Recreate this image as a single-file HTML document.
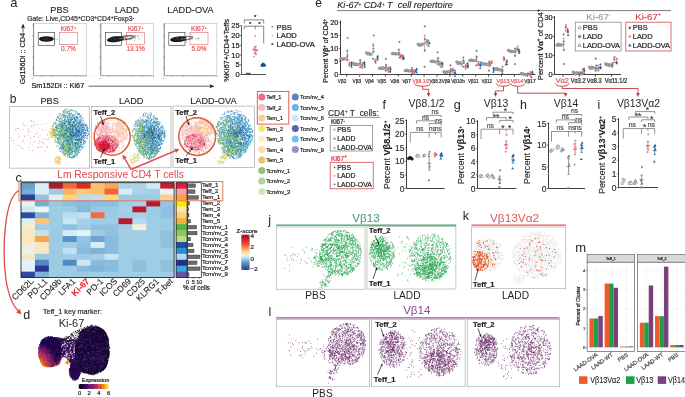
<!DOCTYPE html>
<html><head><meta charset="utf-8"><title>Figure</title>
<style>html,body{margin:0;padding:0;background:#fff;}svg{display:block;}</style></head>
<body><svg width="685" height="397" viewBox="0 0 685 397" font-family="'Liberation Sans', Arial, Helvetica, sans-serif">
<rect width="685" height="397" fill="#fff"/>
<text x="15.6" y="182.2" font-size="12.5" fill="#231f20">c</text>
<text x="120.5" y="178.4" font-size="10.3" fill="#e0474c" text-anchor="middle">Lm Responsive CD4 T cells</text>
<rect x="21" y="182.7" width="14.52" height="6.53" fill="#6a9fd0"/>
<rect x="34.92" y="182.7" width="14.52" height="6.53" fill="#d8eef8"/>
<rect x="48.84" y="182.7" width="14.52" height="6.53" fill="#b5162b"/>
<rect x="62.76" y="182.7" width="14.52" height="6.53" fill="#f26a3c"/>
<rect x="76.68" y="182.7" width="14.52" height="6.53" fill="#dd2a26"/>
<rect x="90.6" y="182.7" width="14.52" height="6.53" fill="#fdbf6f"/>
<rect x="104.52" y="182.7" width="14.52" height="6.53" fill="#fca55a"/>
<rect x="118.44" y="182.7" width="14.52" height="6.53" fill="#a8d2e8"/>
<rect x="132.36" y="182.7" width="14.52" height="6.53" fill="#aad3e8"/>
<rect x="146.28" y="182.7" width="14.52" height="6.53" fill="#d4ebf5"/>
<rect x="160.2" y="182.7" width="13.92" height="6.53" fill="#c61f2b"/>
<rect x="21" y="188.63" width="14.52" height="6.53" fill="#78aad6"/>
<rect x="34.92" y="188.63" width="14.52" height="6.53" fill="#daeef8"/>
<rect x="48.84" y="188.63" width="14.52" height="6.53" fill="#9fc8e3"/>
<rect x="62.76" y="188.63" width="14.52" height="6.53" fill="#fdb163"/>
<rect x="76.68" y="188.63" width="14.52" height="6.53" fill="#fdca7a"/>
<rect x="90.6" y="188.63" width="14.52" height="6.53" fill="#fdbe6e"/>
<rect x="104.52" y="188.63" width="14.52" height="6.53" fill="#f0643a"/>
<rect x="118.44" y="188.63" width="14.52" height="6.53" fill="#d6edf7"/>
<rect x="132.36" y="188.63" width="14.52" height="6.53" fill="#a9d2e8"/>
<rect x="146.28" y="188.63" width="14.52" height="6.53" fill="#a4cfe6"/>
<rect x="160.2" y="188.63" width="13.92" height="6.53" fill="#e8f4f5"/>
<rect x="21" y="194.56" width="14.52" height="6.53" fill="#2a3f9c"/>
<rect x="34.92" y="194.56" width="14.52" height="6.53" fill="#96c2e0"/>
<rect x="48.84" y="194.56" width="14.52" height="6.53" fill="#dbeff7"/>
<rect x="62.76" y="194.56" width="14.52" height="6.53" fill="#fed27f"/>
<rect x="76.68" y="194.56" width="14.52" height="6.53" fill="#b9dbed"/>
<rect x="90.6" y="194.56" width="14.52" height="6.53" fill="#c0e0ef"/>
<rect x="104.52" y="194.56" width="14.52" height="6.53" fill="#fed585"/>
<rect x="118.44" y="194.56" width="14.52" height="6.53" fill="#9bcbe4"/>
<rect x="132.36" y="194.56" width="14.52" height="6.53" fill="#9ccbe5"/>
<rect x="146.28" y="194.56" width="14.52" height="6.53" fill="#9ccbe4"/>
<rect x="160.2" y="194.56" width="13.92" height="6.53" fill="#fcd088"/>
<rect x="21" y="200.49" width="14.52" height="6.53" fill="#e3f3f8"/>
<rect x="34.92" y="200.49" width="14.52" height="6.53" fill="#78acd5"/>
<rect x="48.84" y="200.49" width="14.52" height="6.53" fill="#99c7e2"/>
<rect x="62.76" y="200.49" width="14.52" height="6.53" fill="#8dbfe0"/>
<rect x="76.68" y="200.49" width="14.52" height="6.53" fill="#88bbdf"/>
<rect x="90.6" y="200.49" width="14.52" height="6.53" fill="#8bbfe0"/>
<rect x="104.52" y="200.49" width="14.52" height="6.53" fill="#8bbfe0"/>
<rect x="118.44" y="200.49" width="14.52" height="6.53" fill="#9ecde5"/>
<rect x="132.36" y="200.49" width="14.52" height="6.53" fill="#a5d0e7"/>
<rect x="146.28" y="200.49" width="14.52" height="6.53" fill="#b8192c"/>
<rect x="160.2" y="200.49" width="13.92" height="6.53" fill="#95c5e2"/>
<rect x="21" y="206.42" width="14.52" height="6.53" fill="#cfe7f3"/>
<rect x="34.92" y="206.42" width="14.52" height="6.53" fill="#eef4f0"/>
<rect x="48.84" y="206.42" width="14.52" height="6.53" fill="#9ccbe4"/>
<rect x="62.76" y="206.42" width="14.52" height="6.53" fill="#9ccbe5"/>
<rect x="76.68" y="206.42" width="14.52" height="6.53" fill="#85b9dc"/>
<rect x="90.6" y="206.42" width="14.52" height="6.53" fill="#98c8e3"/>
<rect x="104.52" y="206.42" width="14.52" height="6.53" fill="#99c9e3"/>
<rect x="118.44" y="206.42" width="14.52" height="6.53" fill="#a7d1e7"/>
<rect x="132.36" y="206.42" width="14.52" height="6.53" fill="#bf1a2c"/>
<rect x="146.28" y="206.42" width="14.52" height="6.53" fill="#9fcde5"/>
<rect x="160.2" y="206.42" width="13.92" height="6.53" fill="#8fc2e0"/>
<rect x="21" y="212.35" width="14.52" height="6.53" fill="#2d4da3"/>
<rect x="34.92" y="212.35" width="14.52" height="6.53" fill="#7fb1d9"/>
<rect x="48.84" y="212.35" width="14.52" height="6.53" fill="#9ccbe4"/>
<rect x="62.76" y="212.35" width="14.52" height="6.53" fill="#b9dcee"/>
<rect x="76.68" y="212.35" width="14.52" height="6.53" fill="#c1e1ef"/>
<rect x="90.6" y="212.35" width="14.52" height="6.53" fill="#f36a3c"/>
<rect x="104.52" y="212.35" width="14.52" height="6.53" fill="#9ccbe4"/>
<rect x="118.44" y="212.35" width="14.52" height="6.53" fill="#a1cde5"/>
<rect x="132.36" y="212.35" width="14.52" height="6.53" fill="#a5d0e7"/>
<rect x="146.28" y="212.35" width="14.52" height="6.53" fill="#9ccbe4"/>
<rect x="160.2" y="212.35" width="13.92" height="6.53" fill="#8fc2e0"/>
<rect x="21" y="218.28" width="14.52" height="6.53" fill="#ddeef6"/>
<rect x="34.92" y="218.28" width="14.52" height="6.53" fill="#fdc56f"/>
<rect x="48.84" y="218.28" width="14.52" height="6.53" fill="#9ccbe4"/>
<rect x="62.76" y="218.28" width="14.52" height="6.53" fill="#c9e5f1"/>
<rect x="76.68" y="218.28" width="14.52" height="6.53" fill="#a5d0e7"/>
<rect x="90.6" y="218.28" width="14.52" height="6.53" fill="#9ecde5"/>
<rect x="104.52" y="218.28" width="14.52" height="6.53" fill="#9ecde5"/>
<rect x="118.44" y="218.28" width="14.52" height="6.53" fill="#b8192c"/>
<rect x="132.36" y="218.28" width="14.52" height="6.53" fill="#b3d9ec"/>
<rect x="146.28" y="218.28" width="14.52" height="6.53" fill="#9ecde5"/>
<rect x="160.2" y="218.28" width="13.92" height="6.53" fill="#9ccbe4"/>
<rect x="21" y="224.21" width="14.52" height="6.53" fill="#f7eccb"/>
<rect x="34.92" y="224.21" width="14.52" height="6.53" fill="#a3cde6"/>
<rect x="48.84" y="224.21" width="14.52" height="6.53" fill="#9ccbe4"/>
<rect x="62.76" y="224.21" width="14.52" height="6.53" fill="#8cbfe0"/>
<rect x="76.68" y="224.21" width="14.52" height="6.53" fill="#9ecde5"/>
<rect x="90.6" y="224.21" width="14.52" height="6.53" fill="#90c2e0"/>
<rect x="104.52" y="224.21" width="14.52" height="6.53" fill="#8fc1df"/>
<rect x="118.44" y="224.21" width="14.52" height="6.53" fill="#9ecde5"/>
<rect x="132.36" y="224.21" width="14.52" height="6.53" fill="#f2efd8"/>
<rect x="146.28" y="224.21" width="14.52" height="6.53" fill="#9ecde5"/>
<rect x="160.2" y="224.21" width="13.92" height="6.53" fill="#9ccbe4"/>
<rect x="21" y="230.14" width="14.52" height="6.53" fill="#f8e8c0"/>
<rect x="34.92" y="230.14" width="14.52" height="6.53" fill="#c2e2f0"/>
<rect x="48.84" y="230.14" width="14.52" height="6.53" fill="#9ccbe4"/>
<rect x="62.76" y="230.14" width="14.52" height="6.53" fill="#d5edf6"/>
<rect x="76.68" y="230.14" width="14.52" height="6.53" fill="#e4f3f5"/>
<rect x="90.6" y="230.14" width="14.52" height="6.53" fill="#9ccbe4"/>
<rect x="104.52" y="230.14" width="14.52" height="6.53" fill="#8fc1df"/>
<rect x="118.44" y="230.14" width="14.52" height="6.53" fill="#9fcde5"/>
<rect x="132.36" y="230.14" width="14.52" height="6.53" fill="#a3cee6"/>
<rect x="146.28" y="230.14" width="14.52" height="6.53" fill="#9ecde5"/>
<rect x="160.2" y="230.14" width="13.92" height="6.53" fill="#90c3e0"/>
<rect x="21" y="236.07" width="14.52" height="6.53" fill="#f9e7bb"/>
<rect x="34.92" y="236.07" width="14.52" height="6.53" fill="#fca54f"/>
<rect x="48.84" y="236.07" width="14.52" height="6.53" fill="#9ccbe4"/>
<rect x="62.76" y="236.07" width="14.52" height="6.53" fill="#5990c6"/>
<rect x="76.68" y="236.07" width="14.52" height="6.53" fill="#94c4e2"/>
<rect x="90.6" y="236.07" width="14.52" height="6.53" fill="#6ea3d2"/>
<rect x="104.52" y="236.07" width="14.52" height="6.53" fill="#88bbdd"/>
<rect x="118.44" y="236.07" width="14.52" height="6.53" fill="#9ecde5"/>
<rect x="132.36" y="236.07" width="14.52" height="6.53" fill="#9ecde5"/>
<rect x="146.28" y="236.07" width="14.52" height="6.53" fill="#9ecde5"/>
<rect x="160.2" y="236.07" width="13.92" height="6.53" fill="#8ec0df"/>
<rect x="21" y="242" width="14.52" height="6.53" fill="#f8ead0"/>
<rect x="34.92" y="242" width="14.52" height="6.53" fill="#fae6c0"/>
<rect x="48.84" y="242" width="14.52" height="6.53" fill="#9ccbe4"/>
<rect x="62.76" y="242" width="14.52" height="6.53" fill="#a0cce5"/>
<rect x="76.68" y="242" width="14.52" height="6.53" fill="#8fc0df"/>
<rect x="90.6" y="242" width="14.52" height="6.53" fill="#d6edf6"/>
<rect x="104.52" y="242" width="14.52" height="6.53" fill="#88bbdd"/>
<rect x="118.44" y="242" width="14.52" height="6.53" fill="#9ecde5"/>
<rect x="132.36" y="242" width="14.52" height="6.53" fill="#9ecde5"/>
<rect x="146.28" y="242" width="14.52" height="6.53" fill="#9ecde5"/>
<rect x="160.2" y="242" width="13.92" height="6.53" fill="#8fc1df"/>
<rect x="21" y="247.93" width="14.52" height="6.53" fill="#e8f1ee"/>
<rect x="34.92" y="247.93" width="14.52" height="6.53" fill="#fae6c0"/>
<rect x="48.84" y="247.93" width="14.52" height="6.53" fill="#9ccbe4"/>
<rect x="62.76" y="247.93" width="14.52" height="6.53" fill="#c3e2f0"/>
<rect x="76.68" y="247.93" width="14.52" height="6.53" fill="#88bade"/>
<rect x="90.6" y="247.93" width="14.52" height="6.53" fill="#7fb2d8"/>
<rect x="104.52" y="247.93" width="14.52" height="6.53" fill="#88bbdd"/>
<rect x="118.44" y="247.93" width="14.52" height="6.53" fill="#9ecde5"/>
<rect x="132.36" y="247.93" width="14.52" height="6.53" fill="#9ecde5"/>
<rect x="146.28" y="247.93" width="14.52" height="6.53" fill="#9ecde5"/>
<rect x="160.2" y="247.93" width="13.92" height="6.53" fill="#a0cde5"/>
<rect x="21" y="253.86" width="14.52" height="6.53" fill="#f8e6c0"/>
<rect x="34.92" y="253.86" width="14.52" height="6.53" fill="#9bc8e3"/>
<rect x="48.84" y="253.86" width="14.52" height="6.53" fill="#9ccbe4"/>
<rect x="62.76" y="253.86" width="14.52" height="6.53" fill="#a1cde6"/>
<rect x="76.68" y="253.86" width="14.52" height="6.53" fill="#9dcbe5"/>
<rect x="90.6" y="253.86" width="14.52" height="6.53" fill="#a3cee6"/>
<rect x="104.52" y="253.86" width="14.52" height="6.53" fill="#c5e3f0"/>
<rect x="118.44" y="253.86" width="14.52" height="6.53" fill="#9ecde5"/>
<rect x="132.36" y="253.86" width="14.52" height="6.53" fill="#9ecde5"/>
<rect x="146.28" y="253.86" width="14.52" height="6.53" fill="#9ecde5"/>
<rect x="160.2" y="253.86" width="13.92" height="6.53" fill="#9ecde5"/>
<rect x="21" y="259.79" width="14.52" height="6.53" fill="#e4f2f6"/>
<rect x="34.92" y="259.79" width="14.52" height="6.53" fill="#5288c1"/>
<rect x="48.84" y="259.79" width="14.52" height="6.53" fill="#9ccbe4"/>
<rect x="62.76" y="259.79" width="14.52" height="6.53" fill="#5189c3"/>
<rect x="76.68" y="259.79" width="14.52" height="6.53" fill="#cce6f2"/>
<rect x="90.6" y="259.79" width="14.52" height="6.53" fill="#8abddd"/>
<rect x="104.52" y="259.79" width="14.52" height="6.53" fill="#8abddd"/>
<rect x="118.44" y="259.79" width="14.52" height="6.53" fill="#9ecde5"/>
<rect x="132.36" y="259.79" width="14.52" height="6.53" fill="#8fc1df"/>
<rect x="146.28" y="259.79" width="14.52" height="6.53" fill="#9ecde5"/>
<rect x="160.2" y="259.79" width="13.92" height="6.53" fill="#8fc1df"/>
<rect x="21" y="265.72" width="14.52" height="6.53" fill="#e2f1f7"/>
<rect x="34.92" y="265.72" width="14.52" height="6.53" fill="#2b3393"/>
<rect x="48.84" y="265.72" width="14.52" height="6.53" fill="#9ccbe4"/>
<rect x="62.76" y="265.72" width="14.52" height="6.53" fill="#9ccbe4"/>
<rect x="76.68" y="265.72" width="14.52" height="6.53" fill="#87badd"/>
<rect x="90.6" y="265.72" width="14.52" height="6.53" fill="#80b4da"/>
<rect x="104.52" y="265.72" width="14.52" height="6.53" fill="#88bbdd"/>
<rect x="118.44" y="265.72" width="14.52" height="6.53" fill="#9ecde5"/>
<rect x="132.36" y="265.72" width="14.52" height="6.53" fill="#8dbfdf"/>
<rect x="146.28" y="265.72" width="14.52" height="6.53" fill="#9ecde5"/>
<rect x="160.2" y="265.72" width="13.92" height="6.53" fill="#8fc1df"/>
<rect x="21" y="271.65" width="14.52" height="5.93" fill="#3447a0"/>
<rect x="34.92" y="271.65" width="14.52" height="5.93" fill="#7fb2d9"/>
<rect x="48.84" y="271.65" width="14.52" height="5.93" fill="#9ccbe4"/>
<rect x="62.76" y="271.65" width="14.52" height="5.93" fill="#9ccbe4"/>
<rect x="76.68" y="271.65" width="14.52" height="5.93" fill="#9ccbe4"/>
<rect x="90.6" y="271.65" width="14.52" height="5.93" fill="#9ecde5"/>
<rect x="104.52" y="271.65" width="14.52" height="5.93" fill="#9ecde5"/>
<rect x="118.44" y="271.65" width="14.52" height="5.93" fill="#9ecde5"/>
<rect x="132.36" y="271.65" width="14.52" height="5.93" fill="#9ecde5"/>
<rect x="146.28" y="271.65" width="14.52" height="5.93" fill="#9ecde5"/>
<rect x="160.2" y="271.65" width="13.92" height="5.93" fill="#9ecde5"/>
<rect x="21" y="182.7" width="153.12" height="94.88" fill="none" stroke="#111" stroke-width="0.8"/>
<rect x="176.1" y="182.7" width="11" height="6.53" fill="#e31a3c"/>
<rect x="176.1" y="188.63" width="11" height="6.53" fill="#f4a3aa"/>
<rect x="176.1" y="194.56" width="11" height="6.53" fill="#f9a242"/>
<rect x="176.1" y="200.49" width="11" height="6.53" fill="#ffe600"/>
<rect x="176.1" y="206.42" width="11" height="6.53" fill="#fde8a0"/>
<rect x="176.1" y="212.35" width="11" height="6.53" fill="#fdd27a"/>
<rect x="176.1" y="218.28" width="11" height="6.53" fill="#eab33a"/>
<rect x="176.1" y="224.21" width="11" height="6.53" fill="#4cb848"/>
<rect x="176.1" y="230.14" width="11" height="6.53" fill="#8dc85e"/>
<rect x="176.1" y="236.07" width="11" height="6.53" fill="#b9dc8c"/>
<rect x="176.1" y="242" width="11" height="6.53" fill="#1f4fa0"/>
<rect x="176.1" y="247.93" width="11" height="6.53" fill="#2a8fd0"/>
<rect x="176.1" y="253.86" width="11" height="6.53" fill="#b5d9ef"/>
<rect x="176.1" y="259.79" width="11" height="6.53" fill="#232f8c"/>
<rect x="176.1" y="265.72" width="11" height="6.53" fill="#3aa6e0"/>
<rect x="176.1" y="271.65" width="11" height="5.93" fill="#5e5aa8"/>
<rect x="176.1" y="182.7" width="11" height="94.88" fill="none" stroke="#111" stroke-width="0.8"/>
<rect x="187.5" y="182.7" width="13.8" height="94.88" fill="#fff" stroke="#111" stroke-width="0.7"/>
<rect x="187.5" y="183.9" width="8" height="3.53" fill="#6d6d6d" stroke="#222" stroke-width="0.4"/>
<rect x="187.5" y="189.83" width="7.5" height="3.53" fill="#6d6d6d" stroke="#222" stroke-width="0.4"/>
<rect x="187.5" y="195.76" width="11" height="3.53" fill="#6d6d6d" stroke="#222" stroke-width="0.4"/>
<rect x="187.5" y="201.69" width="2" height="3.53" fill="#6d6d6d" stroke="#222" stroke-width="0.4"/>
<rect x="187.5" y="207.62" width="1" height="3.53" fill="#6d6d6d" stroke="#222" stroke-width="0.4"/>
<rect x="187.5" y="213.55" width="1.5" height="3.53" fill="#6d6d6d" stroke="#222" stroke-width="0.4"/>
<rect x="187.5" y="219.48" width="3" height="3.53" fill="#6d6d6d" stroke="#222" stroke-width="0.4"/>
<rect x="187.5" y="225.41" width="9" height="3.53" fill="#6d6d6d" stroke="#222" stroke-width="0.4"/>
<rect x="187.5" y="231.34" width="9.5" height="3.53" fill="#6d6d6d" stroke="#222" stroke-width="0.4"/>
<rect x="187.5" y="237.27" width="3" height="3.53" fill="#6d6d6d" stroke="#222" stroke-width="0.4"/>
<rect x="187.5" y="243.2" width="5.5" height="3.53" fill="#6d6d6d" stroke="#222" stroke-width="0.4"/>
<rect x="187.5" y="249.13" width="6.5" height="3.53" fill="#6d6d6d" stroke="#222" stroke-width="0.4"/>
<rect x="187.5" y="255.06" width="12.5" height="3.53" fill="#6d6d6d" stroke="#222" stroke-width="0.4"/>
<rect x="187.5" y="260.99" width="9.5" height="3.53" fill="#6d6d6d" stroke="#222" stroke-width="0.4"/>
<rect x="187.5" y="266.92" width="12.5" height="3.53" fill="#6d6d6d" stroke="#222" stroke-width="0.4"/>
<rect x="187.5" y="272.85" width="1.5" height="3.53" fill="#6d6d6d" stroke="#222" stroke-width="0.4"/>
<line x1="187.6" y1="277.58" x2="187.6" y2="278.78" stroke="#111" stroke-width="0.5"/>
<text x="187.6" y="283.5" font-size="5.4" fill="#231f20" stroke="#231f20" stroke-width="0.22" text-anchor="middle">0</text>
<line x1="193.3" y1="277.58" x2="193.3" y2="278.78" stroke="#111" stroke-width="0.5"/>
<text x="193.3" y="283.5" font-size="5.4" fill="#231f20" stroke="#231f20" stroke-width="0.22" text-anchor="middle">5</text>
<line x1="199.3" y1="277.58" x2="199.3" y2="278.78" stroke="#111" stroke-width="0.5"/>
<text x="199.3" y="283.5" font-size="5.4" fill="#231f20" stroke="#231f20" stroke-width="0.22" text-anchor="middle">10</text>
<text x="196.5" y="289.7" font-size="6.3" fill="#231f20" stroke="#231f20" stroke-width="0.22" text-anchor="middle">% of cells</text>
<text x="201.9" y="187.3" font-size="6.1" fill="#231f20" stroke="#231f20" stroke-width="0.22">Teff_1</text>
<text x="201.9" y="193.23" font-size="6.1" fill="#231f20" stroke="#231f20" stroke-width="0.22">Teff_2</text>
<text x="201.9" y="199.16" font-size="6.1" fill="#231f20" stroke="#231f20" stroke-width="0.22">Tem_1</text>
<text x="201.9" y="205.09" font-size="6.1" fill="#231f20" stroke="#231f20" stroke-width="0.22">Tem_2</text>
<text x="201.9" y="211.02" font-size="6.1" fill="#231f20" stroke="#231f20" stroke-width="0.22">Tem_3</text>
<text x="201.9" y="216.95" font-size="6.1" fill="#231f20" stroke="#231f20" stroke-width="0.22">Tem_4</text>
<text x="201.9" y="222.88" font-size="6.1" fill="#231f20" stroke="#231f20" stroke-width="0.22">Tem_5</text>
<text x="201.9" y="228.81" font-size="6.1" fill="#231f20" stroke="#231f20" stroke-width="0.22">Tcm/nv_1</text>
<text x="201.9" y="234.74" font-size="6.1" fill="#231f20" stroke="#231f20" stroke-width="0.22">Tcm/nv_2</text>
<text x="201.9" y="240.67" font-size="6.1" fill="#231f20" stroke="#231f20" stroke-width="0.22">Tcm/nv_3</text>
<text x="201.9" y="246.6" font-size="6.1" fill="#231f20" stroke="#231f20" stroke-width="0.22">Tcm/nv_4</text>
<text x="201.9" y="252.53" font-size="6.1" fill="#231f20" stroke="#231f20" stroke-width="0.22">Tcm/nv_5</text>
<text x="201.9" y="258.46" font-size="6.1" fill="#231f20" stroke="#231f20" stroke-width="0.22">Tcm/nv_6</text>
<text x="201.9" y="264.39" font-size="6.1" fill="#231f20" stroke="#231f20" stroke-width="0.22">Tcm/nv_7</text>
<text x="201.9" y="270.32" font-size="6.1" fill="#231f20" stroke="#231f20" stroke-width="0.22">Tcm/nv_8</text>
<text x="201.9" y="276.25" font-size="6.1" fill="#231f20" stroke="#231f20" stroke-width="0.22">Tcm/nv_9</text>
<text x="34.26" y="281.8" font-size="8.6" fill="#231f20" stroke="#231f20" stroke-width="0.12" text-anchor="end" transform="rotate(-45 34.26 281.8)">CD62L</text>
<text x="48.18" y="281.8" font-size="8.6" fill="#231f20" stroke="#231f20" stroke-width="0.12" text-anchor="end" transform="rotate(-45 48.18 281.8)">PD-L1</text>
<text x="62.1" y="281.8" font-size="8.6" fill="#231f20" stroke="#231f20" stroke-width="0.12" text-anchor="end" transform="rotate(-45 62.1 281.8)">CD49b</text>
<text x="76.02" y="281.8" font-size="8.6" fill="#231f20" stroke="#231f20" stroke-width="0.12" text-anchor="end" transform="rotate(-45 76.02 281.8)">LFA1</text>
<text x="89.94" y="281.8" font-size="8.6" fill="#e02a2a" stroke="#e02a2a" stroke-width="0.12" text-anchor="end" font-weight="bold" transform="rotate(-45 89.94 281.8)">Ki-67</text>
<text x="103.86" y="281.8" font-size="8.6" fill="#231f20" stroke="#231f20" stroke-width="0.12" text-anchor="end" transform="rotate(-45 103.86 281.8)">PD-1</text>
<text x="117.78" y="281.8" font-size="8.6" fill="#231f20" stroke="#231f20" stroke-width="0.12" text-anchor="end" transform="rotate(-45 117.78 281.8)">ICOS</text>
<text x="131.7" y="281.8" font-size="8.6" fill="#231f20" stroke="#231f20" stroke-width="0.12" text-anchor="end" transform="rotate(-45 131.7 281.8)">CD69</text>
<text x="145.62" y="281.8" font-size="8.6" fill="#231f20" stroke="#231f20" stroke-width="0.12" text-anchor="end" transform="rotate(-45 145.62 281.8)">CD25</text>
<text x="159.54" y="281.8" font-size="8.6" fill="#231f20" stroke="#231f20" stroke-width="0.12" text-anchor="end" transform="rotate(-45 159.54 281.8)">KLRG1</text>
<text x="173.46" y="281.8" font-size="8.6" fill="#231f20" stroke="#231f20" stroke-width="0.12" text-anchor="end" transform="rotate(-45 173.46 281.8)">T-bet</text>
<rect x="19" y="181.5" width="203.8" height="19.3" fill="none" stroke="#e07a5a" stroke-width="1"/>
<text x="247" y="233.2" font-size="6.2" fill="#231f20" stroke="#231f20" stroke-width="0.22" text-anchor="middle">Z-score</text>
<defs><linearGradient id="zg" x1="0" y1="0" x2="0" y2="1"><stop offset="0" stop-color="#a50026"/><stop offset="0.17" stop-color="#d73027"/><stop offset="0.33" stop-color="#f46d43"/><stop offset="0.42" stop-color="#fdae61"/><stop offset="0.5" stop-color="#fee090"/><stop offset="0.6" stop-color="#e0f3f8"/><stop offset="0.67" stop-color="#abd9e9"/><stop offset="0.75" stop-color="#74add1"/><stop offset="0.87" stop-color="#4575b4"/><stop offset="1" stop-color="#313695"/></linearGradient><linearGradient id="ig" x1="0" y1="0" x2="1" y2="0"><stop offset="0" stop-color="#000004"/><stop offset="0.25" stop-color="#420a68"/><stop offset="0.5" stop-color="#932667"/><stop offset="0.7" stop-color="#dd513a"/><stop offset="0.85" stop-color="#fca50a"/><stop offset="1" stop-color="#fcffa4"/></linearGradient></defs>
<rect x="241.3" y="234.7" width="8.3" height="35.3" fill="url(#zg)"/>
<line x1="241.3" y1="235.8" x2="242.6" y2="235.8" stroke="#fff" stroke-width="0.5"/>
<line x1="248.3" y1="235.8" x2="249.6" y2="235.8" stroke="#fff" stroke-width="0.5"/>
<text x="250.6" y="238" font-size="6.2" fill="#231f20" stroke="#231f20" stroke-width="0.22">4</text>
<line x1="241.3" y1="247.1" x2="242.6" y2="247.1" stroke="#fff" stroke-width="0.5"/>
<line x1="248.3" y1="247.1" x2="249.6" y2="247.1" stroke="#fff" stroke-width="0.5"/>
<text x="250.6" y="249.3" font-size="6.2" fill="#231f20" stroke="#231f20" stroke-width="0.22">2</text>
<line x1="241.3" y1="258.4" x2="242.6" y2="258.4" stroke="#fff" stroke-width="0.5"/>
<line x1="248.3" y1="258.4" x2="249.6" y2="258.4" stroke="#fff" stroke-width="0.5"/>
<text x="250.6" y="260.6" font-size="6.2" fill="#231f20" stroke="#231f20" stroke-width="0.22">0</text>
<line x1="241.3" y1="269.2" x2="242.6" y2="269.2" stroke="#fff" stroke-width="0.5"/>
<line x1="248.3" y1="269.2" x2="249.6" y2="269.2" stroke="#fff" stroke-width="0.5"/>
<text x="250.6" y="271.4" font-size="6.2" fill="#231f20" stroke="#231f20" stroke-width="0.22">&#8722;2</text>
<path d="M19,190.5 C4,198 2,250 6,280 C9,298 13,306 18.5,311" stroke="#e0474c" stroke-width="1.3" fill="none"/>
<path d="M21.5,314.5 L16.2,312.6 L19.8,308.8 Z" stroke="#e0474c" stroke-width="0" fill="#e0474c"/>
<text x="10.3" y="7.3" font-size="13" fill="#231f20">a</text>
<text x="59.5" y="13.1" font-size="9.2" fill="#231f20" stroke="#231f20" stroke-width="0.12" text-anchor="middle">PBS</text>
<text x="127" y="13.1" font-size="9.2" fill="#231f20" stroke="#231f20" stroke-width="0.12" text-anchor="middle">LADD</text>
<text x="190.5" y="13.1" font-size="9.2" fill="#231f20" stroke="#231f20" stroke-width="0.12" text-anchor="middle">LADD-OVA</text>
<text x="27.2" y="21" font-size="6.85" fill="#333" stroke="#333" stroke-width="0.22">Gate: Live,CD45<tspan dy="-2" font-size="4.8">+</tspan><tspan dy="2">CD3</tspan><tspan dy="-2" font-size="4.8">+</tspan><tspan dy="2">CD4</tspan><tspan dy="-2" font-size="4.8">+</tspan><tspan dy="2">Foxp3</tspan><tspan dy="-2" font-size="4">-</tspan></text>
<rect x="33.6" y="23.4" width="52.6" height="52.4" fill="none" stroke="#b0b0b0" stroke-width="0.5"/>
<line x1="33.6" y1="23.4" x2="33.6" y2="75.8" stroke="#444" stroke-width="0.55"/>
<line x1="33.6" y1="75.8" x2="86.2" y2="75.8" stroke="#777" stroke-width="0.5"/>
<line x1="32.2" y1="25.4" x2="33.6" y2="25.4" stroke="#444" stroke-width="0.4"/>
<line x1="32.2" y1="36" x2="33.6" y2="36" stroke="#444" stroke-width="0.4"/>
<line x1="32.2" y1="46.6" x2="33.6" y2="46.6" stroke="#444" stroke-width="0.4"/>
<line x1="32.2" y1="57.2" x2="33.6" y2="57.2" stroke="#444" stroke-width="0.4"/>
<line x1="32.2" y1="67.8" x2="33.6" y2="67.8" stroke="#444" stroke-width="0.4"/>
<line x1="32.2" y1="78.4" x2="33.6" y2="78.4" stroke="#444" stroke-width="0.4"/>
<line x1="41.6" y1="75.8" x2="41.6" y2="77" stroke="#444" stroke-width="0.4"/>
<line x1="44.4" y1="75.8" x2="44.4" y2="76.4" stroke="#666" stroke-width="0.3"/>
<line x1="47.2" y1="75.8" x2="47.2" y2="76.4" stroke="#666" stroke-width="0.3"/>
<line x1="50" y1="75.8" x2="50" y2="76.4" stroke="#666" stroke-width="0.3"/>
<line x1="52.8" y1="75.8" x2="52.8" y2="77" stroke="#444" stroke-width="0.4"/>
<line x1="55.6" y1="75.8" x2="55.6" y2="76.4" stroke="#666" stroke-width="0.3"/>
<line x1="58.4" y1="75.8" x2="58.4" y2="76.4" stroke="#666" stroke-width="0.3"/>
<line x1="61.2" y1="75.8" x2="61.2" y2="76.4" stroke="#666" stroke-width="0.3"/>
<line x1="64" y1="75.8" x2="64" y2="77" stroke="#444" stroke-width="0.4"/>
<line x1="66.8" y1="75.8" x2="66.8" y2="76.4" stroke="#666" stroke-width="0.3"/>
<line x1="69.6" y1="75.8" x2="69.6" y2="76.4" stroke="#666" stroke-width="0.3"/>
<line x1="72.4" y1="75.8" x2="72.4" y2="76.4" stroke="#666" stroke-width="0.3"/>
<line x1="75.2" y1="75.8" x2="75.2" y2="77" stroke="#444" stroke-width="0.4"/>
<line x1="78" y1="75.8" x2="78" y2="76.4" stroke="#666" stroke-width="0.3"/>
<line x1="80.8" y1="75.8" x2="80.8" y2="76.4" stroke="#666" stroke-width="0.3"/>
<line x1="83.6" y1="75.8" x2="83.6" y2="76.4" stroke="#666" stroke-width="0.3"/>
<line x1="86.4" y1="75.8" x2="86.4" y2="77" stroke="#444" stroke-width="0.4"/>
<line x1="89.2" y1="75.8" x2="89.2" y2="76.4" stroke="#666" stroke-width="0.3"/>
<line x1="92" y1="75.8" x2="92" y2="76.4" stroke="#666" stroke-width="0.3"/>
<line x1="94.8" y1="75.8" x2="94.8" y2="76.4" stroke="#666" stroke-width="0.3"/>
<rect x="38.2" y="32.3" width="16.2" height="13.2" fill="none" stroke="#333" stroke-width="0.6"/>
<rect x="59.4" y="32.3" width="18" height="12" fill="none" stroke="#e06a6a" stroke-width="0.6"/>
<text x="68.4" y="30.8" font-size="6.8" fill="#e35b5f" stroke="#e35b5f" stroke-width="0.22" text-anchor="middle">Ki67<tspan dy="-2.2" font-size="3.8">+</tspan></text>
<text x="68.4" y="50.6" font-size="6.5" fill="#e35b5f" stroke="#e35b5f" stroke-width="0.22" text-anchor="middle">0.7%</text>
<ellipse cx="46.4" cy="39" rx="7.4" ry="2.7" fill="#111"/>
<ellipse cx="46.4" cy="39" rx="4.5" ry="1.3" fill="none" stroke="#fff" stroke-width="0.3" stroke-dasharray="0.6 0.9" opacity="0.8"/>
<ellipse cx="46.4" cy="39" rx="2.2" ry="0.6" fill="none" stroke="#fff" stroke-width="0.3" stroke-dasharray="0.5 0.8" opacity="0.8"/>
<circle cx="57.77" cy="39.58" r="0.35" fill="#333"/>
<circle cx="52.77" cy="36.86" r="0.35" fill="#333"/>
<circle cx="54.23" cy="39.23" r="0.35" fill="#333"/>
<circle cx="61.4" cy="39.06" r="0.35" fill="#333"/>
<circle cx="55.16" cy="38.97" r="0.35" fill="#333"/>
<circle cx="56.22" cy="39.27" r="0.35" fill="#333"/>
<rect x="100.8" y="23.4" width="52.6" height="52.4" fill="none" stroke="#b0b0b0" stroke-width="0.5"/>
<line x1="100.8" y1="23.4" x2="100.8" y2="75.8" stroke="#444" stroke-width="0.55"/>
<line x1="100.8" y1="75.8" x2="153.4" y2="75.8" stroke="#777" stroke-width="0.5"/>
<line x1="99.4" y1="25.4" x2="100.8" y2="25.4" stroke="#444" stroke-width="0.4"/>
<line x1="99.4" y1="36" x2="100.8" y2="36" stroke="#444" stroke-width="0.4"/>
<line x1="99.4" y1="46.6" x2="100.8" y2="46.6" stroke="#444" stroke-width="0.4"/>
<line x1="99.4" y1="57.2" x2="100.8" y2="57.2" stroke="#444" stroke-width="0.4"/>
<line x1="99.4" y1="67.8" x2="100.8" y2="67.8" stroke="#444" stroke-width="0.4"/>
<line x1="99.4" y1="78.4" x2="100.8" y2="78.4" stroke="#444" stroke-width="0.4"/>
<line x1="108.8" y1="75.8" x2="108.8" y2="77" stroke="#444" stroke-width="0.4"/>
<line x1="111.6" y1="75.8" x2="111.6" y2="76.4" stroke="#666" stroke-width="0.3"/>
<line x1="114.4" y1="75.8" x2="114.4" y2="76.4" stroke="#666" stroke-width="0.3"/>
<line x1="117.2" y1="75.8" x2="117.2" y2="76.4" stroke="#666" stroke-width="0.3"/>
<line x1="120" y1="75.8" x2="120" y2="77" stroke="#444" stroke-width="0.4"/>
<line x1="122.8" y1="75.8" x2="122.8" y2="76.4" stroke="#666" stroke-width="0.3"/>
<line x1="125.6" y1="75.8" x2="125.6" y2="76.4" stroke="#666" stroke-width="0.3"/>
<line x1="128.4" y1="75.8" x2="128.4" y2="76.4" stroke="#666" stroke-width="0.3"/>
<line x1="131.2" y1="75.8" x2="131.2" y2="77" stroke="#444" stroke-width="0.4"/>
<line x1="134" y1="75.8" x2="134" y2="76.4" stroke="#666" stroke-width="0.3"/>
<line x1="136.8" y1="75.8" x2="136.8" y2="76.4" stroke="#666" stroke-width="0.3"/>
<line x1="139.6" y1="75.8" x2="139.6" y2="76.4" stroke="#666" stroke-width="0.3"/>
<line x1="142.4" y1="75.8" x2="142.4" y2="77" stroke="#444" stroke-width="0.4"/>
<line x1="145.2" y1="75.8" x2="145.2" y2="76.4" stroke="#666" stroke-width="0.3"/>
<line x1="148" y1="75.8" x2="148" y2="76.4" stroke="#666" stroke-width="0.3"/>
<line x1="150.8" y1="75.8" x2="150.8" y2="76.4" stroke="#666" stroke-width="0.3"/>
<line x1="153.6" y1="75.8" x2="153.6" y2="77" stroke="#444" stroke-width="0.4"/>
<line x1="156.4" y1="75.8" x2="156.4" y2="76.4" stroke="#666" stroke-width="0.3"/>
<line x1="159.2" y1="75.8" x2="159.2" y2="76.4" stroke="#666" stroke-width="0.3"/>
<line x1="162" y1="75.8" x2="162" y2="76.4" stroke="#666" stroke-width="0.3"/>
<rect x="105.4" y="32.3" width="16.2" height="13.2" fill="none" stroke="#333" stroke-width="0.6"/>
<rect x="126.6" y="32.3" width="18" height="12" fill="none" stroke="#e06a6a" stroke-width="0.6"/>
<text x="135.6" y="30.8" font-size="6.8" fill="#e35b5f" stroke="#e35b5f" stroke-width="0.22" text-anchor="middle">Ki67<tspan dy="-2.2" font-size="3.8">+</tspan></text>
<text x="135.6" y="50.6" font-size="6.5" fill="#e35b5f" stroke="#e35b5f" stroke-width="0.22" text-anchor="middle">13.1%</text>
<g transform="rotate(-7 117.6 39)"><ellipse cx="115.6" cy="39" rx="8.8" ry="2.9" fill="#111"/><ellipse cx="124.6" cy="38.8" rx="9.5" ry="1.9" fill="none" stroke="#222" stroke-width="0.7"/><ellipse cx="127.6" cy="38.6" rx="8.5" ry="1.3" fill="none" stroke="#444" stroke-width="0.5"/><line x1="119.6" y1="39" x2="130.6" y2="39" stroke="#fff" stroke-width="0.6"/></g>
<ellipse cx="113.6" cy="39" rx="4.5" ry="1.3" fill="none" stroke="#fff" stroke-width="0.3" stroke-dasharray="0.6 0.9" opacity="0.8"/>
<ellipse cx="113.6" cy="39" rx="2.2" ry="0.6" fill="none" stroke="#fff" stroke-width="0.3" stroke-dasharray="0.5 0.8" opacity="0.8"/>
<circle cx="121.44" cy="38.38" r="0.35" fill="#333"/>
<circle cx="121.27" cy="39.45" r="0.35" fill="#333"/>
<circle cx="120.63" cy="38.24" r="0.35" fill="#333"/>
<circle cx="123.3" cy="38.15" r="0.35" fill="#333"/>
<circle cx="140.79" cy="37.25" r="0.35" fill="#333"/>
<circle cx="126.79" cy="39.75" r="0.35" fill="#333"/>
<circle cx="135.85" cy="35.24" r="0.35" fill="#333"/>
<circle cx="122.23" cy="37.98" r="0.35" fill="#333"/>
<circle cx="120.86" cy="38.94" r="0.35" fill="#333"/>
<circle cx="121.49" cy="37.05" r="0.35" fill="#333"/>
<circle cx="134.82" cy="40.8" r="0.35" fill="#333"/>
<circle cx="134.01" cy="38.91" r="0.35" fill="#333"/>
<circle cx="130.45" cy="35.85" r="0.35" fill="#333"/>
<circle cx="120.07" cy="38.83" r="0.35" fill="#333"/>
<circle cx="124.12" cy="37.15" r="0.35" fill="#333"/>
<circle cx="128.93" cy="38.37" r="0.35" fill="#333"/>
<circle cx="121.75" cy="37.88" r="0.35" fill="#333"/>
<circle cx="131.14" cy="39.37" r="0.35" fill="#333"/>
<circle cx="137.53" cy="36.66" r="0.35" fill="#333"/>
<circle cx="122.36" cy="37.86" r="0.35" fill="#333"/>
<circle cx="119.81" cy="37.19" r="0.35" fill="#333"/>
<circle cx="126.59" cy="38.32" r="0.35" fill="#333"/>
<circle cx="125.22" cy="37.98" r="0.35" fill="#333"/>
<circle cx="119.66" cy="39.08" r="0.35" fill="#333"/>
<circle cx="123.76" cy="36.94" r="0.35" fill="#333"/>
<circle cx="121.81" cy="37.94" r="0.35" fill="#333"/>
<circle cx="122.14" cy="39.64" r="0.35" fill="#333"/>
<circle cx="125.63" cy="37.26" r="0.35" fill="#333"/>
<circle cx="120.7" cy="39" r="0.35" fill="#333"/>
<circle cx="130.57" cy="37.67" r="0.35" fill="#333"/>
<circle cx="125.6" cy="38.25" r="0.35" fill="#333"/>
<circle cx="123.71" cy="39.58" r="0.35" fill="#333"/>
<circle cx="137.71" cy="35.51" r="0.35" fill="#333"/>
<circle cx="129.82" cy="39.43" r="0.35" fill="#333"/>
<circle cx="138.56" cy="36.86" r="0.35" fill="#333"/>
<circle cx="130.94" cy="38.76" r="0.35" fill="#333"/>
<circle cx="120.51" cy="39.88" r="0.35" fill="#333"/>
<circle cx="125.52" cy="38.27" r="0.35" fill="#333"/>
<circle cx="121.53" cy="40.08" r="0.35" fill="#333"/>
<circle cx="125.09" cy="38.23" r="0.35" fill="#333"/>
<circle cx="122.59" cy="36.56" r="0.35" fill="#333"/>
<circle cx="135.42" cy="37" r="0.35" fill="#333"/>
<circle cx="120.92" cy="38.46" r="0.35" fill="#333"/>
<circle cx="139.03" cy="39.43" r="0.35" fill="#333"/>
<circle cx="127.31" cy="37.09" r="0.35" fill="#333"/>
<circle cx="131.37" cy="37.96" r="0.35" fill="#333"/>
<circle cx="121.96" cy="38.78" r="0.35" fill="#333"/>
<circle cx="122.58" cy="38.57" r="0.35" fill="#333"/>
<circle cx="122.44" cy="39.22" r="0.35" fill="#333"/>
<circle cx="122.47" cy="39.49" r="0.35" fill="#333"/>
<circle cx="142.12" cy="35.44" r="0.35" fill="#333"/>
<circle cx="138.52" cy="38.62" r="0.35" fill="#333"/>
<circle cx="123.35" cy="37.11" r="0.35" fill="#333"/>
<circle cx="122.14" cy="39.4" r="0.35" fill="#333"/>
<circle cx="125.62" cy="37.69" r="0.35" fill="#333"/>
<circle cx="125.63" cy="39.14" r="0.35" fill="#333"/>
<circle cx="135.25" cy="38.31" r="0.35" fill="#333"/>
<rect x="164.2" y="23.4" width="52.6" height="52.4" fill="none" stroke="#b0b0b0" stroke-width="0.5"/>
<line x1="164.2" y1="23.4" x2="164.2" y2="75.8" stroke="#444" stroke-width="0.55"/>
<line x1="164.2" y1="75.8" x2="216.8" y2="75.8" stroke="#777" stroke-width="0.5"/>
<line x1="162.8" y1="25.4" x2="164.2" y2="25.4" stroke="#444" stroke-width="0.4"/>
<line x1="162.8" y1="36" x2="164.2" y2="36" stroke="#444" stroke-width="0.4"/>
<line x1="162.8" y1="46.6" x2="164.2" y2="46.6" stroke="#444" stroke-width="0.4"/>
<line x1="162.8" y1="57.2" x2="164.2" y2="57.2" stroke="#444" stroke-width="0.4"/>
<line x1="162.8" y1="67.8" x2="164.2" y2="67.8" stroke="#444" stroke-width="0.4"/>
<line x1="162.8" y1="78.4" x2="164.2" y2="78.4" stroke="#444" stroke-width="0.4"/>
<line x1="172.2" y1="75.8" x2="172.2" y2="77" stroke="#444" stroke-width="0.4"/>
<line x1="175" y1="75.8" x2="175" y2="76.4" stroke="#666" stroke-width="0.3"/>
<line x1="177.8" y1="75.8" x2="177.8" y2="76.4" stroke="#666" stroke-width="0.3"/>
<line x1="180.6" y1="75.8" x2="180.6" y2="76.4" stroke="#666" stroke-width="0.3"/>
<line x1="183.4" y1="75.8" x2="183.4" y2="77" stroke="#444" stroke-width="0.4"/>
<line x1="186.2" y1="75.8" x2="186.2" y2="76.4" stroke="#666" stroke-width="0.3"/>
<line x1="189" y1="75.8" x2="189" y2="76.4" stroke="#666" stroke-width="0.3"/>
<line x1="191.8" y1="75.8" x2="191.8" y2="76.4" stroke="#666" stroke-width="0.3"/>
<line x1="194.6" y1="75.8" x2="194.6" y2="77" stroke="#444" stroke-width="0.4"/>
<line x1="197.4" y1="75.8" x2="197.4" y2="76.4" stroke="#666" stroke-width="0.3"/>
<line x1="200.2" y1="75.8" x2="200.2" y2="76.4" stroke="#666" stroke-width="0.3"/>
<line x1="203" y1="75.8" x2="203" y2="76.4" stroke="#666" stroke-width="0.3"/>
<line x1="205.8" y1="75.8" x2="205.8" y2="77" stroke="#444" stroke-width="0.4"/>
<line x1="208.6" y1="75.8" x2="208.6" y2="76.4" stroke="#666" stroke-width="0.3"/>
<line x1="211.4" y1="75.8" x2="211.4" y2="76.4" stroke="#666" stroke-width="0.3"/>
<line x1="214.2" y1="75.8" x2="214.2" y2="76.4" stroke="#666" stroke-width="0.3"/>
<line x1="217" y1="75.8" x2="217" y2="77" stroke="#444" stroke-width="0.4"/>
<line x1="219.8" y1="75.8" x2="219.8" y2="76.4" stroke="#666" stroke-width="0.3"/>
<line x1="222.6" y1="75.8" x2="222.6" y2="76.4" stroke="#666" stroke-width="0.3"/>
<line x1="225.4" y1="75.8" x2="225.4" y2="76.4" stroke="#666" stroke-width="0.3"/>
<rect x="168.8" y="32.3" width="16.2" height="13.2" fill="none" stroke="#333" stroke-width="0.6"/>
<rect x="190" y="32.3" width="18" height="12" fill="none" stroke="#e06a6a" stroke-width="0.6"/>
<text x="199" y="30.8" font-size="6.8" fill="#e35b5f" stroke="#e35b5f" stroke-width="0.22" text-anchor="middle">Ki67<tspan dy="-2.2" font-size="3.8">+</tspan></text>
<text x="199" y="50.6" font-size="6.5" fill="#e35b5f" stroke="#e35b5f" stroke-width="0.22" text-anchor="middle">5.0%</text>
<g transform="rotate(-5 181 39)"><ellipse cx="178.5" cy="39" rx="8.3" ry="2.8" fill="#111"/><ellipse cx="185" cy="38.7" rx="8" ry="1.7" fill="none" stroke="#222" stroke-width="0.6"/><line x1="181" y1="39" x2="188" y2="39" stroke="#fff" stroke-width="0.5"/></g>
<ellipse cx="177" cy="39" rx="4.5" ry="1.3" fill="none" stroke="#fff" stroke-width="0.3" stroke-dasharray="0.6 0.9" opacity="0.8"/>
<ellipse cx="177" cy="39" rx="2.2" ry="0.6" fill="none" stroke="#fff" stroke-width="0.3" stroke-dasharray="0.5 0.8" opacity="0.8"/>
<circle cx="192.92" cy="36.87" r="0.35" fill="#333"/>
<circle cx="191.15" cy="36.72" r="0.35" fill="#333"/>
<circle cx="198.74" cy="39.95" r="0.35" fill="#333"/>
<circle cx="183.68" cy="38.59" r="0.35" fill="#333"/>
<circle cx="190.38" cy="37.74" r="0.35" fill="#333"/>
<circle cx="192.01" cy="38.84" r="0.35" fill="#333"/>
<circle cx="184.31" cy="37.01" r="0.35" fill="#333"/>
<circle cx="191.64" cy="37.44" r="0.35" fill="#333"/>
<circle cx="192.7" cy="36.95" r="0.35" fill="#333"/>
<circle cx="185.92" cy="40.83" r="0.35" fill="#333"/>
<circle cx="199.11" cy="38.12" r="0.35" fill="#333"/>
<circle cx="195.73" cy="38.06" r="0.35" fill="#333"/>
<circle cx="185.23" cy="38.26" r="0.35" fill="#333"/>
<circle cx="186.54" cy="38.85" r="0.35" fill="#333"/>
<circle cx="196.74" cy="38.94" r="0.35" fill="#333"/>
<circle cx="198.87" cy="38.2" r="0.35" fill="#333"/>
<circle cx="189.17" cy="38.22" r="0.35" fill="#333"/>
<circle cx="190.19" cy="38.49" r="0.35" fill="#333"/>
<circle cx="198.61" cy="38.16" r="0.35" fill="#333"/>
<circle cx="186.24" cy="39.7" r="0.35" fill="#333"/>
<circle cx="188.77" cy="36.77" r="0.35" fill="#333"/>
<circle cx="186.71" cy="40.36" r="0.35" fill="#333"/>
<circle cx="197.43" cy="38.2" r="0.35" fill="#333"/>
<circle cx="186.85" cy="42.53" r="0.35" fill="#333"/>
<circle cx="190.03" cy="36.75" r="0.35" fill="#333"/>
<circle cx="188.22" cy="38.56" r="0.35" fill="#333"/>
<circle cx="190.05" cy="38.58" r="0.35" fill="#333"/>
<circle cx="183.34" cy="40.4" r="0.35" fill="#333"/>
<circle cx="191.4" cy="34.48" r="0.35" fill="#333"/>
<text x="31.5" y="88.3" font-size="7.3" fill="#231f20" stroke="#231f20" stroke-width="0.22">Sm152Di :: Ki67</text>
<line x1="88.5" y1="86.2" x2="212" y2="86.2" stroke="#231f20" stroke-width="0.7"/>
<path d="M214.5,86.2 L209.5,84.2 L210.5,86.2 L209.5,88.2 Z" stroke="#231f20" stroke-width="0" fill="#231f20"/>
<text x="25.3" y="58.6" font-size="7.3" fill="#231f20" stroke="#231f20" stroke-width="0.22" text-anchor="middle" transform="rotate(-90 25.3 58.6)">Gd156Di :: CD4</text>
<line x1="23" y1="32.5" x2="23" y2="27.5" stroke="#231f20" stroke-width="0.7"/>
<path d="M23.0,23.6 L21.0,28.6 L23.0,27.6 L25.0,28.6 Z" stroke="#231f20" stroke-width="0" fill="#231f20"/>
<line x1="241.5" y1="25.2" x2="241.5" y2="74.5" stroke="#231f20" stroke-width="0.7"/>
<line x1="241.5" y1="74.5" x2="265.8" y2="74.5" stroke="#231f20" stroke-width="0.8"/>
<line x1="240" y1="74.5" x2="241.5" y2="74.5" stroke="#231f20" stroke-width="0.6"/>
<text x="239.6" y="77.1" font-size="7.5" fill="#231f20" stroke="#231f20" stroke-width="0.22" text-anchor="end">0</text>
<line x1="240" y1="64.76" x2="241.5" y2="64.76" stroke="#231f20" stroke-width="0.6"/>
<text x="239.6" y="67.36" font-size="7.5" fill="#231f20" stroke="#231f20" stroke-width="0.22" text-anchor="end">5</text>
<line x1="240" y1="55.02" x2="241.5" y2="55.02" stroke="#231f20" stroke-width="0.6"/>
<text x="239.6" y="57.62" font-size="7.5" fill="#231f20" stroke="#231f20" stroke-width="0.22" text-anchor="end">10</text>
<line x1="240" y1="45.28" x2="241.5" y2="45.28" stroke="#231f20" stroke-width="0.6"/>
<text x="239.6" y="47.88" font-size="7.5" fill="#231f20" stroke="#231f20" stroke-width="0.22" text-anchor="end">15</text>
<line x1="240" y1="35.54" x2="241.5" y2="35.54" stroke="#231f20" stroke-width="0.6"/>
<text x="239.6" y="38.14" font-size="7.5" fill="#231f20" stroke="#231f20" stroke-width="0.22" text-anchor="end">20</text>
<line x1="240" y1="25.8" x2="241.5" y2="25.8" stroke="#231f20" stroke-width="0.6"/>
<text x="239.6" y="28.4" font-size="7.5" fill="#231f20" stroke="#231f20" stroke-width="0.22" text-anchor="end">25</text>
<text x="229.4" y="50.4" font-size="7.45" fill="#231f20" stroke="#231f20" stroke-width="0.22" text-anchor="middle" transform="rotate(-90 229.4 50.4)">%Ki67+/CD4+Teffs</text>
<circle cx="246.5" cy="73.53" r="0.8" fill="#555"/>
<circle cx="247.6" cy="73.53" r="0.8" fill="#555"/>
<circle cx="248.7" cy="73.53" r="0.8" fill="#555"/>
<circle cx="249.8" cy="73.53" r="0.8" fill="#555"/>
<line x1="246" y1="73.33" x2="251" y2="73.33" stroke="#555" stroke-width="0.5"/>
<circle cx="254" cy="56.58" r="0.95" fill="#f08c8c"/>
<circle cx="256" cy="54.44" r="0.95" fill="#f08c8c"/>
<circle cx="254.9" cy="53.07" r="0.95" fill="#f08c8c"/>
<circle cx="256.4" cy="50.73" r="0.95" fill="#f08c8c"/>
<circle cx="254.2" cy="48.2" r="0.95" fill="#f08c8c"/>
<circle cx="255.7" cy="46.64" r="0.95" fill="#f08c8c"/>
<circle cx="255.2" cy="35.93" r="0.95" fill="#f08c8c"/>
<line x1="252.3" y1="49.96" x2="258.1" y2="49.96" stroke="#8a2a2a" stroke-width="0.8"/>
<line x1="255.2" y1="53.46" x2="255.2" y2="46.45" stroke="#d23c3c" stroke-width="0.5"/>
<line x1="253.8" y1="46.45" x2="256.6" y2="46.45" stroke="#d23c3c" stroke-width="0.5"/>
<line x1="253.8" y1="53.46" x2="256.6" y2="53.46" stroke="#d23c3c" stroke-width="0.5"/>
<path d="M262.05,63.64 L263.85,66.87 L260.24,66.87 Z" fill="#1f4e79"/>
<path d="M264.48,63.05 L266.28,66.28 L262.67,66.28 Z" fill="#1f4e79"/>
<path d="M263.4,62.47 L265.2,65.7 L261.59,65.7 Z" fill="#1f4e79"/>
<path d="M262.68,61.89 L264.48,65.12 L260.87,65.12 Z" fill="#1f4e79"/>
<path d="M263.94,63.25 L265.75,66.48 L262.13,66.48 Z" fill="#1f4e79"/>
<line x1="260.5" y1="64.76" x2="266" y2="64.76" stroke="#1f4e79" stroke-width="0.6"/>
<path d="M244.3,23.3 V19.9 H263.7 V23.3" stroke="#333" stroke-width="0.6" fill="none"/>
<text x="255.2" y="18.6" font-size="6" fill="#231f20" stroke="#231f20" stroke-width="0.22" text-anchor="middle">*</text>
<path d="M244.3,29.2 V26.2 H263.7 V43.3" stroke="#333" stroke-width="0.6" fill="none"/>
<line x1="255.2" y1="26.2" x2="255.2" y2="29.2" stroke="#333" stroke-width="0.6"/>
<text x="250.1" y="26" font-size="6" fill="#231f20" stroke="#231f20" stroke-width="0.22" text-anchor="middle">*</text>
<text x="259.4" y="26" font-size="6" fill="#231f20" stroke="#231f20" stroke-width="0.22" text-anchor="middle">*</text>
<circle cx="272.3" cy="26.7" r="0.8" fill="#555"/>
<text x="276.6" y="29.5" font-size="7.6" fill="#231f20" stroke="#231f20" stroke-width="0.22">PBS</text>
<circle cx="272.3" cy="35.2" r="0.8" fill="#f08c8c"/>
<text x="276.6" y="38" font-size="7.6" fill="#231f20" stroke="#231f20" stroke-width="0.22">LADD</text>
<path d="M272.3,42.5 L273.63,44.88 L270.97,44.88 Z" fill="#1f4e79"/>
<text x="276.6" y="46.6" font-size="7.6" fill="#231f20" stroke="#231f20" stroke-width="0.22">LADD-OVA</text>
<text x="315.3" y="7" font-size="12" fill="#231f20">e</text>
<text x="337.3" y="8.3" font-size="9.1" fill="#231f20" stroke="#231f20" stroke-width="0.12" font-style="italic">Ki-67<tspan dy="-2.2" font-size="4.5">+</tspan><tspan dy="2.2"> CD4</tspan><tspan dy="-2.2" font-size="4.5">+</tspan><tspan dy="2.2"> T&#160; cell repertoire</tspan></text>
<line x1="337" y1="10.6" x2="671" y2="10.6" stroke="#231f20" stroke-width="0.6"/>
<line x1="340.5" y1="20.5" x2="340.5" y2="74.5" stroke="#231f20" stroke-width="0.85"/>
<line x1="340.5" y1="74.5" x2="535.5" y2="74.5" stroke="#231f20" stroke-width="0.85"/>
<line x1="338.9" y1="74.5" x2="340.5" y2="74.5" stroke="#231f20" stroke-width="0.6"/>
<text x="338.3" y="76.9" font-size="7.2" fill="#231f20" stroke="#231f20" stroke-width="0.22" text-anchor="end">0</text>
<line x1="338.9" y1="61.48" x2="340.5" y2="61.48" stroke="#231f20" stroke-width="0.6"/>
<text x="338.3" y="63.88" font-size="7.2" fill="#231f20" stroke="#231f20" stroke-width="0.22" text-anchor="end">5</text>
<line x1="338.9" y1="48.45" x2="340.5" y2="48.45" stroke="#231f20" stroke-width="0.6"/>
<text x="338.3" y="50.85" font-size="7.2" fill="#231f20" stroke="#231f20" stroke-width="0.22" text-anchor="end">10</text>
<line x1="338.9" y1="35.43" x2="340.5" y2="35.43" stroke="#231f20" stroke-width="0.6"/>
<text x="338.3" y="37.83" font-size="7.2" fill="#231f20" stroke="#231f20" stroke-width="0.22" text-anchor="end">15</text>
<line x1="338.9" y1="22.4" x2="340.5" y2="22.4" stroke="#231f20" stroke-width="0.6"/>
<text x="338.3" y="24.8" font-size="7.2" fill="#231f20" stroke="#231f20" stroke-width="0.22" text-anchor="end">20</text>
<text x="328.2" y="50.8" font-size="7" fill="#231f20" stroke="#231f20" stroke-width="0.22" text-anchor="middle" transform="rotate(-90 328.2 50.8)">Percent <tspan font-weight="bold">V&#946;</tspan><tspan dy="-2.2" font-size="4.5">+</tspan><tspan dy="2.2"> of CD4</tspan><tspan dy="-2.2" font-size="4.5">+</tspan></text>
<line x1="346.7" y1="74.5" x2="346.7" y2="76.7" stroke="#231f20" stroke-width="0.8"/>
<circle cx="340.7" cy="58.86" r="1.25" fill="#b4b4b4" stroke="#6e6e6e" stroke-width="0.5"/>
<circle cx="341.85" cy="59.28" r="1.25" fill="#b4b4b4" stroke="#6e6e6e" stroke-width="0.5"/>
<circle cx="343" cy="58.96" r="1.25" fill="#b4b4b4" stroke="#6e6e6e" stroke-width="0.5"/>
<circle cx="344.15" cy="58.83" r="1.25" fill="#b4b4b4" stroke="#6e6e6e" stroke-width="0.5"/>
<circle cx="345.3" cy="58.68" r="1.25" fill="#b4b4b4" stroke="#6e6e6e" stroke-width="0.5"/>
<line x1="347.4" y1="59.39" x2="347.4" y2="50.53" stroke="#777" stroke-width="0.6"/>
<line x1="346.5" y1="50.53" x2="348.3" y2="50.53" stroke="#777" stroke-width="0.5"/>
<line x1="346.5" y1="59.39" x2="348.3" y2="59.39" stroke="#777" stroke-width="0.5"/>
<line x1="346.1" y1="54.96" x2="348.7" y2="54.96" stroke="#666" stroke-width="0.6"/>
<circle cx="347.43" cy="60.17" r="1.05" fill="#808080"/>
<circle cx="347.26" cy="56.53" r="1.05" fill="#808080"/>
<circle cx="347.2" cy="50.73" r="1.05" fill="#808080"/>
<circle cx="347.59" cy="38.03" r="1.05" fill="#808080"/>
<circle cx="349.6" cy="65.34" r="1.05" fill="#f08a8a"/>
<circle cx="349.16" cy="65.43" r="1.05" fill="#f08a8a"/>
<circle cx="349.57" cy="62.54" r="1.05" fill="#f08a8a"/>
<circle cx="349.47" cy="62.87" r="1.05" fill="#f08a8a"/>
<line x1="348.4" y1="64.08" x2="350.6" y2="64.08" stroke="#cc3b3b" stroke-width="0.6"/>
<line x1="349.5" y1="65.64" x2="349.5" y2="62.52" stroke="#cc3b3b" stroke-width="0.5"/>
<path d="M351.51,65.55 L352.7,67.67 L350.32,67.67 Z" fill="#1f5f9f"/>
<path d="M351.49,63.79 L352.67,65.91 L350.3,65.91 Z" fill="#1f5f9f"/>
<path d="M351.68,61.84 L352.87,63.96 L350.49,63.96 Z" fill="#1f5f9f"/>
<path d="M351.82,61.03 L353.01,63.15 L350.64,63.15 Z" fill="#1f5f9f"/>
<line x1="350.6" y1="64.08" x2="352.8" y2="64.08" stroke="#1f5f9f" stroke-width="0.6"/>
<line x1="351.7" y1="65.64" x2="351.7" y2="62.52" stroke="#1f5f9f" stroke-width="0.5"/>
<text x="342.1" y="82.5" font-size="6.2" fill="#231f20" stroke="#231f20" stroke-width="0.22" text-anchor="middle" textLength="8.5" lengthAdjust="spacingAndGlyphs">V&#946;2</text>
<line x1="359.6" y1="74.5" x2="359.6" y2="76.7" stroke="#231f20" stroke-width="0.8"/>
<circle cx="353.6" cy="63.3" r="1.25" fill="#b4b4b4" stroke="#6e6e6e" stroke-width="0.5"/>
<circle cx="354.75" cy="64.64" r="1.25" fill="#b4b4b4" stroke="#6e6e6e" stroke-width="0.5"/>
<circle cx="355.9" cy="64.17" r="1.25" fill="#b4b4b4" stroke="#6e6e6e" stroke-width="0.5"/>
<circle cx="357.05" cy="64.7" r="1.25" fill="#b4b4b4" stroke="#6e6e6e" stroke-width="0.5"/>
<circle cx="358.2" cy="64.5" r="1.25" fill="#b4b4b4" stroke="#6e6e6e" stroke-width="0.5"/>
<line x1="360.3" y1="66.95" x2="360.3" y2="61.21" stroke="#777" stroke-width="0.6"/>
<line x1="359.4" y1="61.21" x2="361.2" y2="61.21" stroke="#777" stroke-width="0.5"/>
<line x1="359.4" y1="66.95" x2="361.2" y2="66.95" stroke="#777" stroke-width="0.5"/>
<line x1="359" y1="64.08" x2="361.6" y2="64.08" stroke="#666" stroke-width="0.6"/>
<circle cx="359.98" cy="74.5" r="1.05" fill="#808080"/>
<circle cx="360.31" cy="67.21" r="1.05" fill="#808080"/>
<circle cx="360.29" cy="63.1" r="1.05" fill="#808080"/>
<circle cx="360.22" cy="60.17" r="1.05" fill="#808080"/>
<circle cx="362.26" cy="68.04" r="1.05" fill="#f08a8a"/>
<circle cx="361.93" cy="66.65" r="1.05" fill="#f08a8a"/>
<circle cx="362.01" cy="64.56" r="1.05" fill="#f08a8a"/>
<circle cx="362.65" cy="62.66" r="1.05" fill="#f08a8a"/>
<line x1="361.3" y1="65.38" x2="363.5" y2="65.38" stroke="#cc3b3b" stroke-width="0.6"/>
<line x1="362.4" y1="66.95" x2="362.4" y2="63.82" stroke="#cc3b3b" stroke-width="0.5"/>
<path d="M364.68,65.98 L365.87,68.11 L363.49,68.11 Z" fill="#1f5f9f"/>
<path d="M364.61,64.11 L365.8,66.23 L363.42,66.23 Z" fill="#1f5f9f"/>
<path d="M364,62.1 L365.19,64.23 L362.82,64.23 Z" fill="#1f5f9f"/>
<path d="M364.52,60.84 L365.71,62.97 L363.34,62.97 Z" fill="#1f5f9f"/>
<line x1="363.5" y1="64.08" x2="365.7" y2="64.08" stroke="#1f5f9f" stroke-width="0.6"/>
<line x1="364.6" y1="65.64" x2="364.6" y2="62.52" stroke="#1f5f9f" stroke-width="0.5"/>
<text x="356.9" y="82.5" font-size="6.2" fill="#231f20" stroke="#231f20" stroke-width="0.22" text-anchor="middle" textLength="8.8" lengthAdjust="spacingAndGlyphs">V&#946;3</text>
<line x1="372.5" y1="74.5" x2="372.5" y2="76.7" stroke="#231f20" stroke-width="0.8"/>
<circle cx="366.5" cy="52.82" r="1.25" fill="#b4b4b4" stroke="#6e6e6e" stroke-width="0.5"/>
<circle cx="367.65" cy="54.01" r="1.25" fill="#b4b4b4" stroke="#6e6e6e" stroke-width="0.5"/>
<circle cx="368.8" cy="53.29" r="1.25" fill="#b4b4b4" stroke="#6e6e6e" stroke-width="0.5"/>
<circle cx="369.95" cy="54.33" r="1.25" fill="#b4b4b4" stroke="#6e6e6e" stroke-width="0.5"/>
<circle cx="371.1" cy="54.15" r="1.25" fill="#b4b4b4" stroke="#6e6e6e" stroke-width="0.5"/>
<line x1="373.2" y1="53.14" x2="373.2" y2="43.76" stroke="#777" stroke-width="0.6"/>
<line x1="372.3" y1="43.76" x2="374.1" y2="43.76" stroke="#777" stroke-width="0.5"/>
<line x1="372.3" y1="53.14" x2="374.1" y2="53.14" stroke="#777" stroke-width="0.5"/>
<line x1="371.9" y1="48.45" x2="374.5" y2="48.45" stroke="#666" stroke-width="0.6"/>
<circle cx="372.99" cy="58.87" r="1.05" fill="#808080"/>
<circle cx="373.56" cy="51.58" r="1.05" fill="#808080"/>
<circle cx="373.34" cy="45.19" r="1.05" fill="#808080"/>
<circle cx="373.81" cy="35.43" r="1.05" fill="#808080"/>
<circle cx="375.6" cy="63.25" r="1.05" fill="#f08a8a"/>
<circle cx="375.09" cy="61.74" r="1.05" fill="#f08a8a"/>
<circle cx="375.77" cy="60.81" r="1.05" fill="#f08a8a"/>
<circle cx="375.37" cy="59.57" r="1.05" fill="#f08a8a"/>
<line x1="374.2" y1="61.48" x2="376.4" y2="61.48" stroke="#cc3b3b" stroke-width="0.6"/>
<line x1="375.3" y1="63.04" x2="375.3" y2="59.91" stroke="#cc3b3b" stroke-width="0.5"/>
<path d="M377.68,58.44 L378.87,60.56 L376.5,60.56 Z" fill="#1f5f9f"/>
<path d="M377.45,57.21 L378.64,59.34 L376.27,59.34 Z" fill="#1f5f9f"/>
<path d="M377.53,55.49 L378.72,57.61 L376.34,57.61 Z" fill="#1f5f9f"/>
<path d="M377.77,54.66 L378.96,56.78 L376.58,56.78 Z" fill="#1f5f9f"/>
<line x1="376.4" y1="57.57" x2="378.6" y2="57.57" stroke="#1f5f9f" stroke-width="0.6"/>
<line x1="377.5" y1="59.13" x2="377.5" y2="56" stroke="#1f5f9f" stroke-width="0.5"/>
<text x="369.3" y="82.5" font-size="6.2" fill="#231f20" stroke="#231f20" stroke-width="0.22" text-anchor="middle" textLength="8.8" lengthAdjust="spacingAndGlyphs">V&#946;4</text>
<line x1="385.4" y1="74.5" x2="385.4" y2="76.7" stroke="#231f20" stroke-width="0.8"/>
<circle cx="379.4" cy="68.21" r="1.25" fill="#b4b4b4" stroke="#6e6e6e" stroke-width="0.5"/>
<circle cx="380.55" cy="68.34" r="1.25" fill="#b4b4b4" stroke="#6e6e6e" stroke-width="0.5"/>
<circle cx="381.7" cy="68.56" r="1.25" fill="#b4b4b4" stroke="#6e6e6e" stroke-width="0.5"/>
<circle cx="382.85" cy="67.69" r="1.25" fill="#b4b4b4" stroke="#6e6e6e" stroke-width="0.5"/>
<circle cx="384" cy="68.5" r="1.25" fill="#b4b4b4" stroke="#6e6e6e" stroke-width="0.5"/>
<line x1="386.1" y1="69.03" x2="386.1" y2="64.34" stroke="#777" stroke-width="0.6"/>
<line x1="385.2" y1="64.34" x2="387" y2="64.34" stroke="#777" stroke-width="0.5"/>
<line x1="385.2" y1="69.03" x2="387" y2="69.03" stroke="#777" stroke-width="0.5"/>
<line x1="384.8" y1="66.69" x2="387.4" y2="66.69" stroke="#666" stroke-width="0.6"/>
<circle cx="385.86" cy="70.59" r="1.05" fill="#808080"/>
<circle cx="385.82" cy="67.86" r="1.05" fill="#808080"/>
<circle cx="386.21" cy="64.73" r="1.05" fill="#808080"/>
<circle cx="385.84" cy="58.87" r="1.05" fill="#808080"/>
<circle cx="388.41" cy="72.06" r="1.05" fill="#f08a8a"/>
<circle cx="388.09" cy="70.62" r="1.05" fill="#f08a8a"/>
<circle cx="388.04" cy="68.59" r="1.05" fill="#f08a8a"/>
<circle cx="388.67" cy="67.21" r="1.05" fill="#f08a8a"/>
<line x1="387.1" y1="69.29" x2="389.3" y2="69.29" stroke="#cc3b3b" stroke-width="0.6"/>
<line x1="388.2" y1="70.85" x2="388.2" y2="67.73" stroke="#cc3b3b" stroke-width="0.5"/>
<path d="M390.02,70.42 L391.21,72.54 L388.83,72.54 Z" fill="#1f5f9f"/>
<path d="M390.34,69.7 L391.53,71.83 L389.15,71.83 Z" fill="#1f5f9f"/>
<path d="M390.48,67.52 L391.67,69.65 L389.29,69.65 Z" fill="#1f5f9f"/>
<path d="M390.26,66.17 L391.44,68.3 L389.07,68.3 Z" fill="#1f5f9f"/>
<line x1="389.3" y1="69.29" x2="391.5" y2="69.29" stroke="#1f5f9f" stroke-width="0.6"/>
<line x1="390.4" y1="70.85" x2="390.4" y2="67.73" stroke="#1f5f9f" stroke-width="0.5"/>
<text x="381.7" y="82.5" font-size="6.2" fill="#231f20" stroke="#231f20" stroke-width="0.22" text-anchor="middle" textLength="8.7" lengthAdjust="spacingAndGlyphs">V&#946;5</text>
<line x1="398.3" y1="74.5" x2="398.3" y2="76.7" stroke="#231f20" stroke-width="0.8"/>
<circle cx="392.3" cy="53.61" r="1.25" fill="#b4b4b4" stroke="#6e6e6e" stroke-width="0.5"/>
<circle cx="393.45" cy="53.7" r="1.25" fill="#b4b4b4" stroke="#6e6e6e" stroke-width="0.5"/>
<circle cx="394.6" cy="53.56" r="1.25" fill="#b4b4b4" stroke="#6e6e6e" stroke-width="0.5"/>
<circle cx="395.75" cy="53.99" r="1.25" fill="#b4b4b4" stroke="#6e6e6e" stroke-width="0.5"/>
<circle cx="396.9" cy="53.95" r="1.25" fill="#b4b4b4" stroke="#6e6e6e" stroke-width="0.5"/>
<line x1="399" y1="55.48" x2="399" y2="49.23" stroke="#777" stroke-width="0.6"/>
<line x1="398.1" y1="49.23" x2="399.9" y2="49.23" stroke="#777" stroke-width="0.5"/>
<line x1="398.1" y1="55.48" x2="399.9" y2="55.48" stroke="#777" stroke-width="0.5"/>
<line x1="397.7" y1="52.36" x2="400.3" y2="52.36" stroke="#666" stroke-width="0.6"/>
<circle cx="399.48" cy="57.57" r="1.05" fill="#808080"/>
<circle cx="399.12" cy="53.92" r="1.05" fill="#808080"/>
<circle cx="398.61" cy="49.75" r="1.05" fill="#808080"/>
<circle cx="399.43" cy="41.94" r="1.05" fill="#808080"/>
<circle cx="400.77" cy="58.19" r="1.05" fill="#f08a8a"/>
<circle cx="401.11" cy="56.5" r="1.05" fill="#f08a8a"/>
<circle cx="400.88" cy="55.88" r="1.05" fill="#f08a8a"/>
<circle cx="401.12" cy="54.67" r="1.05" fill="#f08a8a"/>
<line x1="400" y1="56.27" x2="402.2" y2="56.27" stroke="#cc3b3b" stroke-width="0.6"/>
<line x1="401.1" y1="57.83" x2="401.1" y2="54.7" stroke="#cc3b3b" stroke-width="0.5"/>
<path d="M403.2,57.87 L404.39,60 L402.01,60 Z" fill="#1f5f9f"/>
<path d="M403.86,56.8 L405.05,58.93 L402.68,58.93 Z" fill="#1f5f9f"/>
<path d="M403.38,56.25 L404.56,58.37 L402.19,58.37 Z" fill="#1f5f9f"/>
<path d="M402.98,54.37 L404.17,56.49 L401.79,56.49 Z" fill="#1f5f9f"/>
<line x1="402.2" y1="57.57" x2="404.4" y2="57.57" stroke="#1f5f9f" stroke-width="0.6"/>
<line x1="403.3" y1="59.13" x2="403.3" y2="56" stroke="#1f5f9f" stroke-width="0.5"/>
<text x="394.7" y="82.5" font-size="6.2" fill="#231f20" stroke="#231f20" stroke-width="0.22" text-anchor="middle" textLength="9.0" lengthAdjust="spacingAndGlyphs">V&#946;6</text>
<line x1="411.2" y1="74.5" x2="411.2" y2="76.7" stroke="#231f20" stroke-width="0.8"/>
<circle cx="405.2" cy="70.68" r="1.25" fill="#b4b4b4" stroke="#6e6e6e" stroke-width="0.5"/>
<circle cx="406.35" cy="70.39" r="1.25" fill="#b4b4b4" stroke="#6e6e6e" stroke-width="0.5"/>
<circle cx="407.5" cy="70.36" r="1.25" fill="#b4b4b4" stroke="#6e6e6e" stroke-width="0.5"/>
<circle cx="408.65" cy="71" r="1.25" fill="#b4b4b4" stroke="#6e6e6e" stroke-width="0.5"/>
<circle cx="409.8" cy="70.91" r="1.25" fill="#b4b4b4" stroke="#6e6e6e" stroke-width="0.5"/>
<line x1="411.9" y1="71.63" x2="411.9" y2="69.55" stroke="#777" stroke-width="0.6"/>
<line x1="411" y1="69.55" x2="412.8" y2="69.55" stroke="#777" stroke-width="0.5"/>
<line x1="411" y1="71.63" x2="412.8" y2="71.63" stroke="#777" stroke-width="0.5"/>
<line x1="410.6" y1="70.59" x2="413.2" y2="70.59" stroke="#666" stroke-width="0.6"/>
<circle cx="412.08" cy="73.2" r="1.05" fill="#808080"/>
<circle cx="411.97" cy="71.37" r="1.05" fill="#808080"/>
<circle cx="412.12" cy="69.94" r="1.05" fill="#808080"/>
<circle cx="412.02" cy="67.99" r="1.05" fill="#808080"/>
<circle cx="414.64" cy="73.75" r="1.05" fill="#f08a8a"/>
<circle cx="414.05" cy="72.27" r="1.05" fill="#f08a8a"/>
<circle cx="413.68" cy="70.82" r="1.05" fill="#f08a8a"/>
<circle cx="414.28" cy="69.96" r="1.05" fill="#f08a8a"/>
<line x1="412.9" y1="71.89" x2="415.1" y2="71.89" stroke="#cc3b3b" stroke-width="0.6"/>
<line x1="414" y1="73.46" x2="414" y2="70.33" stroke="#cc3b3b" stroke-width="0.5"/>
<path d="M416.66,71.12 L417.85,73.25 L415.48,73.25 Z" fill="#1f5f9f"/>
<path d="M415.76,70.04 L416.95,72.17 L414.57,72.17 Z" fill="#1f5f9f"/>
<path d="M416.53,67.62 L417.72,69.75 L415.34,69.75 Z" fill="#1f5f9f"/>
<path d="M416.61,67.78 L417.8,69.91 L415.43,69.91 Z" fill="#1f5f9f"/>
<line x1="415.1" y1="70.59" x2="417.3" y2="70.59" stroke="#1f5f9f" stroke-width="0.6"/>
<line x1="416.2" y1="72.16" x2="416.2" y2="69.03" stroke="#1f5f9f" stroke-width="0.5"/>
<text x="406.5" y="82.5" font-size="6.2" fill="#231f20" stroke="#231f20" stroke-width="0.22" text-anchor="middle" textLength="8.7" lengthAdjust="spacingAndGlyphs">V&#946;7</text>
<line x1="424.1" y1="74.5" x2="424.1" y2="76.7" stroke="#231f20" stroke-width="0.8"/>
<circle cx="418.1" cy="44.14" r="1.25" fill="#b4b4b4" stroke="#6e6e6e" stroke-width="0.5"/>
<circle cx="419.25" cy="45.18" r="1.25" fill="#b4b4b4" stroke="#6e6e6e" stroke-width="0.5"/>
<circle cx="420.4" cy="44.71" r="1.25" fill="#b4b4b4" stroke="#6e6e6e" stroke-width="0.5"/>
<circle cx="421.55" cy="44.94" r="1.25" fill="#b4b4b4" stroke="#6e6e6e" stroke-width="0.5"/>
<circle cx="422.7" cy="44.14" r="1.25" fill="#b4b4b4" stroke="#6e6e6e" stroke-width="0.5"/>
<line x1="424.8" y1="51.32" x2="424.8" y2="35.16" stroke="#777" stroke-width="0.6"/>
<line x1="423.9" y1="35.16" x2="425.7" y2="35.16" stroke="#777" stroke-width="0.5"/>
<line x1="423.9" y1="51.32" x2="425.7" y2="51.32" stroke="#777" stroke-width="0.5"/>
<line x1="423.5" y1="43.24" x2="426.1" y2="43.24" stroke="#666" stroke-width="0.6"/>
<circle cx="424.6" cy="66.69" r="1.05" fill="#808080"/>
<circle cx="424.74" cy="50.27" r="1.05" fill="#808080"/>
<circle cx="424.73" cy="39.01" r="1.05" fill="#808080"/>
<circle cx="424.71" cy="26.31" r="1.05" fill="#808080"/>
<circle cx="426.98" cy="44.52" r="1.05" fill="#f08a8a"/>
<circle cx="427.12" cy="42.08" r="1.05" fill="#f08a8a"/>
<circle cx="426.5" cy="41.72" r="1.05" fill="#f08a8a"/>
<circle cx="426.65" cy="39.77" r="1.05" fill="#f08a8a"/>
<line x1="425.8" y1="41.94" x2="428" y2="41.94" stroke="#cc3b3b" stroke-width="0.6"/>
<line x1="426.9" y1="43.5" x2="426.9" y2="40.37" stroke="#cc3b3b" stroke-width="0.5"/>
<path d="M428.6,44.43 L429.78,46.55 L427.41,46.55 Z" fill="#1f5f9f"/>
<path d="M429.37,41.68 L430.56,43.8 L428.19,43.8 Z" fill="#1f5f9f"/>
<path d="M429.37,41.79 L430.56,43.92 L428.18,43.92 Z" fill="#1f5f9f"/>
<path d="M428.38,39.18 L429.57,41.31 L427.2,41.31 Z" fill="#1f5f9f"/>
<line x1="428" y1="43.24" x2="430.2" y2="43.24" stroke="#1f5f9f" stroke-width="0.6"/>
<line x1="429.1" y1="44.8" x2="429.1" y2="41.68" stroke="#1f5f9f" stroke-width="0.5"/>
<text x="421" y="82.5" font-size="6.2" fill="#e05555" stroke="#e05555" stroke-width="0.22" text-anchor="middle" textLength="17.0" lengthAdjust="spacingAndGlyphs">V&#946;8.1/2</text>
<line x1="437" y1="74.5" x2="437" y2="76.7" stroke="#231f20" stroke-width="0.8"/>
<circle cx="431" cy="61.34" r="1.25" fill="#b4b4b4" stroke="#6e6e6e" stroke-width="0.5"/>
<circle cx="432.15" cy="61.45" r="1.25" fill="#b4b4b4" stroke="#6e6e6e" stroke-width="0.5"/>
<circle cx="433.3" cy="61.14" r="1.25" fill="#b4b4b4" stroke="#6e6e6e" stroke-width="0.5"/>
<circle cx="434.45" cy="61.69" r="1.25" fill="#b4b4b4" stroke="#6e6e6e" stroke-width="0.5"/>
<circle cx="435.6" cy="61.92" r="1.25" fill="#b4b4b4" stroke="#6e6e6e" stroke-width="0.5"/>
<line x1="437.7" y1="62.52" x2="437.7" y2="57.83" stroke="#777" stroke-width="0.6"/>
<line x1="436.8" y1="57.83" x2="438.6" y2="57.83" stroke="#777" stroke-width="0.5"/>
<line x1="436.8" y1="62.52" x2="438.6" y2="62.52" stroke="#777" stroke-width="0.5"/>
<line x1="436.4" y1="60.17" x2="439" y2="60.17" stroke="#666" stroke-width="0.6"/>
<circle cx="437.69" cy="64.08" r="1.05" fill="#808080"/>
<circle cx="438.16" cy="61.34" r="1.05" fill="#808080"/>
<circle cx="438.24" cy="58.22" r="1.05" fill="#808080"/>
<circle cx="437.57" cy="52.36" r="1.05" fill="#808080"/>
<circle cx="440.74" cy="66.67" r="1.05" fill="#f08a8a"/>
<circle cx="439.6" cy="65.29" r="1.05" fill="#f08a8a"/>
<circle cx="439.97" cy="63.36" r="1.05" fill="#f08a8a"/>
<circle cx="439.94" cy="61.43" r="1.05" fill="#f08a8a"/>
<line x1="438.7" y1="64.08" x2="440.9" y2="64.08" stroke="#cc3b3b" stroke-width="0.6"/>
<line x1="439.8" y1="65.64" x2="439.8" y2="62.52" stroke="#cc3b3b" stroke-width="0.5"/>
<path d="M442.15,65.39 L443.34,67.52 L440.96,67.52 Z" fill="#1f5f9f"/>
<path d="M442.56,63.4 L443.75,65.53 L441.38,65.53 Z" fill="#1f5f9f"/>
<path d="M441.6,62.13 L442.79,64.26 L440.41,64.26 Z" fill="#1f5f9f"/>
<path d="M442.44,61.26 L443.62,63.39 L441.25,63.39 Z" fill="#1f5f9f"/>
<line x1="440.9" y1="64.08" x2="443.1" y2="64.08" stroke="#1f5f9f" stroke-width="0.6"/>
<line x1="442" y1="65.64" x2="442" y2="62.52" stroke="#1f5f9f" stroke-width="0.5"/>
<text x="435.5" y="82.5" font-size="6.2" fill="#231f20" stroke="#231f20" stroke-width="0.22" text-anchor="middle" textLength="12.0" lengthAdjust="spacingAndGlyphs">V&#946;8.3</text>
<line x1="449.9" y1="74.5" x2="449.9" y2="76.7" stroke="#231f20" stroke-width="0.8"/>
<circle cx="443.9" cy="71.76" r="1.25" fill="#b4b4b4" stroke="#6e6e6e" stroke-width="0.5"/>
<circle cx="445.05" cy="72.67" r="1.25" fill="#b4b4b4" stroke="#6e6e6e" stroke-width="0.5"/>
<circle cx="446.2" cy="72.14" r="1.25" fill="#b4b4b4" stroke="#6e6e6e" stroke-width="0.5"/>
<circle cx="447.35" cy="72.05" r="1.25" fill="#b4b4b4" stroke="#6e6e6e" stroke-width="0.5"/>
<circle cx="448.5" cy="71.68" r="1.25" fill="#b4b4b4" stroke="#6e6e6e" stroke-width="0.5"/>
<line x1="450.6" y1="72.16" x2="450.6" y2="69.03" stroke="#777" stroke-width="0.6"/>
<line x1="449.7" y1="69.03" x2="451.5" y2="69.03" stroke="#777" stroke-width="0.5"/>
<line x1="449.7" y1="72.16" x2="451.5" y2="72.16" stroke="#777" stroke-width="0.5"/>
<line x1="449.3" y1="70.59" x2="451.9" y2="70.59" stroke="#666" stroke-width="0.6"/>
<circle cx="450.35" cy="73.2" r="1.05" fill="#808080"/>
<circle cx="450.77" cy="71.37" r="1.05" fill="#808080"/>
<circle cx="450.8" cy="69.29" r="1.05" fill="#808080"/>
<circle cx="450.43" cy="65.38" r="1.05" fill="#808080"/>
<circle cx="453.32" cy="72.8" r="1.05" fill="#f08a8a"/>
<circle cx="453" cy="70.4" r="1.05" fill="#f08a8a"/>
<circle cx="453.1" cy="69.72" r="1.05" fill="#f08a8a"/>
<circle cx="452.67" cy="68.56" r="1.05" fill="#f08a8a"/>
<line x1="451.6" y1="70.59" x2="453.8" y2="70.59" stroke="#cc3b3b" stroke-width="0.6"/>
<line x1="452.7" y1="72.16" x2="452.7" y2="69.03" stroke="#cc3b3b" stroke-width="0.5"/>
<path d="M454.9,74.51 L456.09,76.63 L453.71,76.63 Z" fill="#1f5f9f"/>
<path d="M455.73,72.69 L456.92,74.82 L454.54,74.82 Z" fill="#1f5f9f"/>
<path d="M455.28,71.34 L456.47,73.47 L454.09,73.47 Z" fill="#1f5f9f"/>
<path d="M454.84,69.15 L456.03,71.27 L453.66,71.27 Z" fill="#1f5f9f"/>
<line x1="453.8" y1="73.2" x2="456" y2="73.2" stroke="#1f5f9f" stroke-width="0.6"/>
<line x1="454.9" y1="74.76" x2="454.9" y2="71.63" stroke="#1f5f9f" stroke-width="0.5"/>
<text x="446" y="82.5" font-size="6.2" fill="#231f20" stroke="#231f20" stroke-width="0.22" text-anchor="middle" textLength="8.4" lengthAdjust="spacingAndGlyphs">V&#946;9</text>
<line x1="462.8" y1="74.5" x2="462.8" y2="76.7" stroke="#231f20" stroke-width="0.8"/>
<circle cx="456.8" cy="61.84" r="1.25" fill="#b4b4b4" stroke="#6e6e6e" stroke-width="0.5"/>
<circle cx="457.95" cy="63.59" r="1.25" fill="#b4b4b4" stroke="#6e6e6e" stroke-width="0.5"/>
<circle cx="459.1" cy="62.71" r="1.25" fill="#b4b4b4" stroke="#6e6e6e" stroke-width="0.5"/>
<circle cx="460.25" cy="62.53" r="1.25" fill="#b4b4b4" stroke="#6e6e6e" stroke-width="0.5"/>
<circle cx="461.4" cy="64.24" r="1.25" fill="#b4b4b4" stroke="#6e6e6e" stroke-width="0.5"/>
<line x1="463.5" y1="63.3" x2="463.5" y2="59.65" stroke="#777" stroke-width="0.6"/>
<line x1="462.6" y1="59.65" x2="464.4" y2="59.65" stroke="#777" stroke-width="0.5"/>
<line x1="462.6" y1="63.3" x2="464.4" y2="63.3" stroke="#777" stroke-width="0.5"/>
<line x1="462.2" y1="61.48" x2="464.8" y2="61.48" stroke="#666" stroke-width="0.6"/>
<circle cx="463.21" cy="66.69" r="1.05" fill="#808080"/>
<circle cx="463.76" cy="63.04" r="1.05" fill="#808080"/>
<circle cx="463.44" cy="60.5" r="1.05" fill="#808080"/>
<circle cx="463.23" cy="57.57" r="1.05" fill="#808080"/>
<circle cx="465.41" cy="68.99" r="1.05" fill="#f08a8a"/>
<circle cx="465.76" cy="67.01" r="1.05" fill="#f08a8a"/>
<circle cx="465.37" cy="66.13" r="1.05" fill="#f08a8a"/>
<circle cx="466.06" cy="64.6" r="1.05" fill="#f08a8a"/>
<line x1="464.5" y1="66.69" x2="466.7" y2="66.69" stroke="#cc3b3b" stroke-width="0.6"/>
<line x1="465.6" y1="68.25" x2="465.6" y2="65.12" stroke="#cc3b3b" stroke-width="0.5"/>
<path d="M467.99,66.06 L469.18,68.19 L466.8,68.19 Z" fill="#1f5f9f"/>
<path d="M467.41,64.91 L468.6,67.04 L466.22,67.04 Z" fill="#1f5f9f"/>
<path d="M468,63.8 L469.18,65.92 L466.81,65.92 Z" fill="#1f5f9f"/>
<path d="M467.53,61.97 L468.72,64.09 L466.34,64.09 Z" fill="#1f5f9f"/>
<line x1="466.7" y1="65.38" x2="468.9" y2="65.38" stroke="#1f5f9f" stroke-width="0.6"/>
<line x1="467.8" y1="66.95" x2="467.8" y2="63.82" stroke="#1f5f9f" stroke-width="0.5"/>
<text x="458" y="82.5" font-size="6.2" fill="#231f20" stroke="#231f20" stroke-width="0.22" text-anchor="middle" textLength="13.5" lengthAdjust="spacingAndGlyphs">V&#946;10b</text>
<line x1="475.7" y1="74.5" x2="475.7" y2="76.7" stroke="#231f20" stroke-width="0.8"/>
<circle cx="469.7" cy="60.54" r="1.25" fill="#b4b4b4" stroke="#6e6e6e" stroke-width="0.5"/>
<circle cx="470.85" cy="59.91" r="1.25" fill="#b4b4b4" stroke="#6e6e6e" stroke-width="0.5"/>
<circle cx="472" cy="60.31" r="1.25" fill="#b4b4b4" stroke="#6e6e6e" stroke-width="0.5"/>
<circle cx="473.15" cy="60.49" r="1.25" fill="#b4b4b4" stroke="#6e6e6e" stroke-width="0.5"/>
<circle cx="474.3" cy="60.67" r="1.25" fill="#b4b4b4" stroke="#6e6e6e" stroke-width="0.5"/>
<line x1="476.4" y1="61.74" x2="476.4" y2="56" stroke="#777" stroke-width="0.6"/>
<line x1="475.5" y1="56" x2="477.3" y2="56" stroke="#777" stroke-width="0.5"/>
<line x1="475.5" y1="61.74" x2="477.3" y2="61.74" stroke="#777" stroke-width="0.5"/>
<line x1="475.1" y1="58.87" x2="477.7" y2="58.87" stroke="#666" stroke-width="0.6"/>
<circle cx="476.47" cy="65.38" r="1.05" fill="#808080"/>
<circle cx="476.47" cy="60.82" r="1.05" fill="#808080"/>
<circle cx="476.64" cy="56.92" r="1.05" fill="#808080"/>
<circle cx="476.63" cy="51.06" r="1.05" fill="#808080"/>
<circle cx="478.78" cy="65.5" r="1.05" fill="#f08a8a"/>
<circle cx="478.48" cy="64.96" r="1.05" fill="#f08a8a"/>
<circle cx="478.39" cy="63.12" r="1.05" fill="#f08a8a"/>
<circle cx="478.9" cy="61.68" r="1.05" fill="#f08a8a"/>
<line x1="477.4" y1="64.08" x2="479.6" y2="64.08" stroke="#cc3b3b" stroke-width="0.6"/>
<line x1="478.5" y1="65.64" x2="478.5" y2="62.52" stroke="#cc3b3b" stroke-width="0.5"/>
<path d="M480.17,66.66 L481.36,68.78 L478.98,68.78 Z" fill="#1f5f9f"/>
<path d="M480.71,64.21 L481.89,66.34 L479.52,66.34 Z" fill="#1f5f9f"/>
<path d="M480.3,63.06 L481.49,65.18 L479.11,65.18 Z" fill="#1f5f9f"/>
<path d="M480.92,61.12 L482.11,63.24 L479.73,63.24 Z" fill="#1f5f9f"/>
<line x1="479.6" y1="65.38" x2="481.8" y2="65.38" stroke="#1f5f9f" stroke-width="0.6"/>
<line x1="480.7" y1="66.95" x2="480.7" y2="63.82" stroke="#1f5f9f" stroke-width="0.5"/>
<text x="473.3" y="82.5" font-size="6.2" fill="#231f20" stroke="#231f20" stroke-width="0.22" text-anchor="middle" textLength="10.5" lengthAdjust="spacingAndGlyphs">V&#946;11</text>
<line x1="488.6" y1="74.5" x2="488.6" y2="76.7" stroke="#231f20" stroke-width="0.8"/>
<circle cx="482.6" cy="63.75" r="1.25" fill="#b4b4b4" stroke="#6e6e6e" stroke-width="0.5"/>
<circle cx="483.75" cy="64.04" r="1.25" fill="#b4b4b4" stroke="#6e6e6e" stroke-width="0.5"/>
<circle cx="484.9" cy="64" r="1.25" fill="#b4b4b4" stroke="#6e6e6e" stroke-width="0.5"/>
<circle cx="486.05" cy="64.31" r="1.25" fill="#b4b4b4" stroke="#6e6e6e" stroke-width="0.5"/>
<circle cx="487.2" cy="64.55" r="1.25" fill="#b4b4b4" stroke="#6e6e6e" stroke-width="0.5"/>
<line x1="489.3" y1="65.9" x2="489.3" y2="62.26" stroke="#777" stroke-width="0.6"/>
<line x1="488.4" y1="62.26" x2="490.2" y2="62.26" stroke="#777" stroke-width="0.5"/>
<line x1="488.4" y1="65.9" x2="490.2" y2="65.9" stroke="#777" stroke-width="0.5"/>
<line x1="488" y1="64.08" x2="490.6" y2="64.08" stroke="#666" stroke-width="0.6"/>
<circle cx="489.02" cy="70.59" r="1.05" fill="#808080"/>
<circle cx="489.62" cy="66.03" r="1.05" fill="#808080"/>
<circle cx="489.29" cy="63.43" r="1.05" fill="#808080"/>
<circle cx="489.32" cy="61.48" r="1.05" fill="#808080"/>
<circle cx="490.57" cy="64.84" r="1.05" fill="#f08a8a"/>
<circle cx="491.28" cy="63.21" r="1.05" fill="#f08a8a"/>
<circle cx="491.42" cy="62.22" r="1.05" fill="#f08a8a"/>
<circle cx="491.7" cy="61.17" r="1.05" fill="#f08a8a"/>
<line x1="490.3" y1="62.78" x2="492.5" y2="62.78" stroke="#cc3b3b" stroke-width="0.6"/>
<line x1="491.4" y1="64.34" x2="491.4" y2="61.21" stroke="#cc3b3b" stroke-width="0.5"/>
<path d="M493.33,70.51 L494.52,72.64 L492.14,72.64 Z" fill="#1f5f9f"/>
<path d="M493.65,69.19 L494.84,71.32 L492.46,71.32 Z" fill="#1f5f9f"/>
<path d="M493.42,66.95 L494.61,69.07 L492.23,69.07 Z" fill="#1f5f9f"/>
<path d="M493.92,66.72 L495.11,68.84 L492.73,68.84 Z" fill="#1f5f9f"/>
<line x1="492.5" y1="69.29" x2="494.7" y2="69.29" stroke="#1f5f9f" stroke-width="0.6"/>
<line x1="493.6" y1="70.85" x2="493.6" y2="67.73" stroke="#1f5f9f" stroke-width="0.5"/>
<text x="486.7" y="82.5" font-size="6.2" fill="#231f20" stroke="#231f20" stroke-width="0.22" text-anchor="middle" textLength="10.5" lengthAdjust="spacingAndGlyphs">V&#946;12</text>
<line x1="501.5" y1="74.5" x2="501.5" y2="76.7" stroke="#231f20" stroke-width="0.8"/>
<circle cx="495.5" cy="69.4" r="1.25" fill="#b4b4b4" stroke="#6e6e6e" stroke-width="0.5"/>
<circle cx="496.65" cy="68.52" r="1.25" fill="#b4b4b4" stroke="#6e6e6e" stroke-width="0.5"/>
<circle cx="497.8" cy="69.29" r="1.25" fill="#b4b4b4" stroke="#6e6e6e" stroke-width="0.5"/>
<circle cx="498.95" cy="69.77" r="1.25" fill="#b4b4b4" stroke="#6e6e6e" stroke-width="0.5"/>
<circle cx="500.1" cy="69.93" r="1.25" fill="#b4b4b4" stroke="#6e6e6e" stroke-width="0.5"/>
<line x1="502.2" y1="71.89" x2="502.2" y2="69.29" stroke="#777" stroke-width="0.6"/>
<line x1="501.3" y1="69.29" x2="503.1" y2="69.29" stroke="#777" stroke-width="0.5"/>
<line x1="501.3" y1="71.89" x2="503.1" y2="71.89" stroke="#777" stroke-width="0.5"/>
<line x1="500.9" y1="70.59" x2="503.5" y2="70.59" stroke="#666" stroke-width="0.6"/>
<circle cx="502.32" cy="73.2" r="1.05" fill="#808080"/>
<circle cx="502.42" cy="71.37" r="1.05" fill="#808080"/>
<circle cx="502.15" cy="69.62" r="1.05" fill="#808080"/>
<circle cx="502.44" cy="66.69" r="1.05" fill="#808080"/>
<circle cx="504.23" cy="59.89" r="1.05" fill="#f08a8a"/>
<circle cx="503.93" cy="60.17" r="1.05" fill="#f08a8a"/>
<circle cx="504.08" cy="58.89" r="1.05" fill="#f08a8a"/>
<circle cx="503.84" cy="57.14" r="1.05" fill="#f08a8a"/>
<line x1="503.2" y1="58.87" x2="505.4" y2="58.87" stroke="#cc3b3b" stroke-width="0.6"/>
<line x1="504.3" y1="60.43" x2="504.3" y2="57.31" stroke="#cc3b3b" stroke-width="0.5"/>
<path d="M505.72,63.36 L506.9,65.49 L504.53,65.49 Z" fill="#1f5f9f"/>
<path d="M507.1,62.92 L508.29,65.04 L505.92,65.04 Z" fill="#1f5f9f"/>
<path d="M506.66,60.28 L507.84,62.41 L505.47,62.41 Z" fill="#1f5f9f"/>
<path d="M507.03,59.18 L508.22,61.3 L505.84,61.3 Z" fill="#1f5f9f"/>
<line x1="505.4" y1="62.78" x2="507.6" y2="62.78" stroke="#1f5f9f" stroke-width="0.6"/>
<line x1="506.5" y1="64.34" x2="506.5" y2="61.21" stroke="#1f5f9f" stroke-width="0.5"/>
<text x="503" y="82.5" font-size="6.2" fill="#e05555" stroke="#e05555" stroke-width="0.22" text-anchor="middle" textLength="13.0" lengthAdjust="spacingAndGlyphs">V&#946;13</text>
<line x1="514.4" y1="74.5" x2="514.4" y2="76.7" stroke="#231f20" stroke-width="0.8"/>
<circle cx="508.4" cy="50.41" r="1.25" fill="#b4b4b4" stroke="#6e6e6e" stroke-width="0.5"/>
<circle cx="509.55" cy="50.81" r="1.25" fill="#b4b4b4" stroke="#6e6e6e" stroke-width="0.5"/>
<circle cx="510.7" cy="51.61" r="1.25" fill="#b4b4b4" stroke="#6e6e6e" stroke-width="0.5"/>
<circle cx="511.85" cy="51.25" r="1.25" fill="#b4b4b4" stroke="#6e6e6e" stroke-width="0.5"/>
<circle cx="513" cy="51.74" r="1.25" fill="#b4b4b4" stroke="#6e6e6e" stroke-width="0.5"/>
<line x1="515.1" y1="55.48" x2="515.1" y2="49.23" stroke="#777" stroke-width="0.6"/>
<line x1="514.2" y1="49.23" x2="516" y2="49.23" stroke="#777" stroke-width="0.5"/>
<line x1="514.2" y1="55.48" x2="516" y2="55.48" stroke="#777" stroke-width="0.5"/>
<line x1="513.8" y1="52.36" x2="516.4" y2="52.36" stroke="#666" stroke-width="0.6"/>
<circle cx="514.92" cy="64.08" r="1.05" fill="#808080"/>
<circle cx="514.92" cy="55.87" r="1.05" fill="#808080"/>
<circle cx="515.09" cy="51.38" r="1.05" fill="#808080"/>
<circle cx="515.02" cy="48.45" r="1.05" fill="#808080"/>
<circle cx="516.74" cy="50.63" r="1.05" fill="#f08a8a"/>
<circle cx="517.85" cy="49.76" r="1.05" fill="#f08a8a"/>
<circle cx="517.62" cy="48.25" r="1.05" fill="#f08a8a"/>
<circle cx="517.66" cy="46.27" r="1.05" fill="#f08a8a"/>
<line x1="516.1" y1="48.97" x2="518.3" y2="48.97" stroke="#cc3b3b" stroke-width="0.6"/>
<line x1="517.2" y1="50.53" x2="517.2" y2="47.41" stroke="#cc3b3b" stroke-width="0.5"/>
<path d="M518.99,51.53 L520.17,53.66 L517.8,53.66 Z" fill="#1f5f9f"/>
<path d="M519.29,50.65 L520.47,52.77 L518.1,52.77 Z" fill="#1f5f9f"/>
<path d="M519.26,49.91 L520.45,52.03 L518.07,52.03 Z" fill="#1f5f9f"/>
<path d="M518.9,48.35 L520.09,50.47 L517.71,50.47 Z" fill="#1f5f9f"/>
<line x1="518.3" y1="51.06" x2="520.5" y2="51.06" stroke="#1f5f9f" stroke-width="0.6"/>
<line x1="519.4" y1="52.62" x2="519.4" y2="49.49" stroke="#1f5f9f" stroke-width="0.5"/>
<text x="517" y="82.5" font-size="6.2" fill="#e05555" stroke="#e05555" stroke-width="0.22" text-anchor="middle" textLength="12.6" lengthAdjust="spacingAndGlyphs">V&#946;14</text>
<line x1="527.3" y1="74.5" x2="527.3" y2="76.7" stroke="#231f20" stroke-width="0.8"/>
<circle cx="521.3" cy="73.49" r="1.25" fill="#b4b4b4" stroke="#6e6e6e" stroke-width="0.5"/>
<circle cx="522.45" cy="73.79" r="1.25" fill="#b4b4b4" stroke="#6e6e6e" stroke-width="0.5"/>
<circle cx="523.6" cy="74.28" r="1.25" fill="#b4b4b4" stroke="#6e6e6e" stroke-width="0.5"/>
<circle cx="524.75" cy="74.58" r="1.25" fill="#b4b4b4" stroke="#6e6e6e" stroke-width="0.5"/>
<circle cx="525.9" cy="74.57" r="1.25" fill="#b4b4b4" stroke="#6e6e6e" stroke-width="0.5"/>
<line x1="528" y1="74.19" x2="528" y2="73.77" stroke="#777" stroke-width="0.6"/>
<line x1="527.1" y1="73.77" x2="528.9" y2="73.77" stroke="#777" stroke-width="0.5"/>
<line x1="527.1" y1="74.19" x2="528.9" y2="74.19" stroke="#777" stroke-width="0.5"/>
<line x1="526.7" y1="73.98" x2="529.3" y2="73.98" stroke="#666" stroke-width="0.6"/>
<circle cx="527.9" cy="74.5" r="1.05" fill="#808080"/>
<circle cx="527.9" cy="74.14" r="1.05" fill="#808080"/>
<circle cx="527.99" cy="73.85" r="1.05" fill="#808080"/>
<circle cx="527.89" cy="73.46" r="1.05" fill="#808080"/>
<circle cx="530.28" cy="75.89" r="1.05" fill="#f08a8a"/>
<circle cx="529.87" cy="74.5" r="1.05" fill="#f08a8a"/>
<circle cx="530.25" cy="73.6" r="1.05" fill="#f08a8a"/>
<circle cx="530.08" cy="71.97" r="1.05" fill="#f08a8a"/>
<line x1="529" y1="73.98" x2="531.2" y2="73.98" stroke="#cc3b3b" stroke-width="0.6"/>
<line x1="530.1" y1="75.54" x2="530.1" y2="72.42" stroke="#cc3b3b" stroke-width="0.5"/>
<path d="M531.49,75.88 L532.68,78 L530.3,78 Z" fill="#1f5f9f"/>
<path d="M532.4,73 L533.59,75.12 L531.21,75.12 Z" fill="#1f5f9f"/>
<path d="M532.52,71.04 L533.7,73.16 L531.33,73.16 Z" fill="#1f5f9f"/>
<path d="M532.3,70.24 L533.49,72.37 L531.12,72.37 Z" fill="#1f5f9f"/>
<line x1="531.2" y1="73.72" x2="533.4" y2="73.72" stroke="#1f5f9f" stroke-width="0.6"/>
<line x1="532.3" y1="75.28" x2="532.3" y2="72.16" stroke="#1f5f9f" stroke-width="0.5"/>
<text x="530" y="82.5" font-size="6.2" fill="#231f20" stroke="#231f20" stroke-width="0.22" text-anchor="middle" textLength="11.5" lengthAdjust="spacingAndGlyphs">V&#946;17</text>
<line x1="554.5" y1="16" x2="554.5" y2="74.5" stroke="#231f20" stroke-width="0.85"/>
<line x1="554.5" y1="74.5" x2="621" y2="74.5" stroke="#231f20" stroke-width="0.85"/>
<line x1="552.9" y1="74.5" x2="554.5" y2="74.5" stroke="#231f20" stroke-width="0.6"/>
<text x="552.7" y="77" font-size="7.4" fill="#231f20" stroke="#231f20" stroke-width="0.22" text-anchor="end">0</text>
<line x1="552.9" y1="55.4" x2="554.5" y2="55.4" stroke="#231f20" stroke-width="0.6"/>
<text x="552.7" y="57.9" font-size="7.4" fill="#231f20" stroke="#231f20" stroke-width="0.22" text-anchor="end">10</text>
<line x1="552.9" y1="36.3" x2="554.5" y2="36.3" stroke="#231f20" stroke-width="0.6"/>
<text x="552.7" y="38.8" font-size="7.4" fill="#231f20" stroke="#231f20" stroke-width="0.22" text-anchor="end">20</text>
<line x1="552.9" y1="17.2" x2="554.5" y2="17.2" stroke="#231f20" stroke-width="0.6"/>
<text x="552.7" y="19.7" font-size="7.4" fill="#231f20" stroke="#231f20" stroke-width="0.22" text-anchor="end">30</text>
<text x="542.6" y="44.8" font-size="7.8" fill="#231f20" stroke="#231f20" stroke-width="0.22" text-anchor="middle" transform="rotate(-90 542.6 44.8)">Percent <tspan font-weight="bold">V&#945;</tspan><tspan dy="-2.2" font-size="4.5">+</tspan><tspan dy="2.2"> of CD4</tspan><tspan dy="-2.2" font-size="4.5">+</tspan></text>
<line x1="563" y1="74.5" x2="563" y2="76.7" stroke="#231f20" stroke-width="0.8"/>
<circle cx="557" cy="45.22" r="1.25" fill="#b4b4b4" stroke="#6e6e6e" stroke-width="0.5"/>
<circle cx="558.15" cy="44.16" r="1.25" fill="#b4b4b4" stroke="#6e6e6e" stroke-width="0.5"/>
<circle cx="559.3" cy="45.2" r="1.25" fill="#b4b4b4" stroke="#6e6e6e" stroke-width="0.5"/>
<circle cx="560.45" cy="44.8" r="1.25" fill="#b4b4b4" stroke="#6e6e6e" stroke-width="0.5"/>
<circle cx="561.6" cy="45.18" r="1.25" fill="#b4b4b4" stroke="#6e6e6e" stroke-width="0.5"/>
<line x1="563.7" y1="49.86" x2="563.7" y2="38.02" stroke="#777" stroke-width="0.6"/>
<line x1="562.8" y1="38.02" x2="564.6" y2="38.02" stroke="#777" stroke-width="0.5"/>
<line x1="562.8" y1="49.86" x2="564.6" y2="49.86" stroke="#777" stroke-width="0.5"/>
<line x1="562.4" y1="43.94" x2="565" y2="43.94" stroke="#666" stroke-width="0.6"/>
<circle cx="563.77" cy="64" r="1.05" fill="#808080"/>
<circle cx="563.92" cy="49.96" r="1.05" fill="#808080"/>
<circle cx="563.58" cy="41.55" r="1.05" fill="#808080"/>
<circle cx="563.6" cy="34.39" r="1.05" fill="#808080"/>
<circle cx="565.67" cy="30.7" r="1.05" fill="#f08a8a"/>
<circle cx="565.67" cy="27.51" r="1.05" fill="#f08a8a"/>
<circle cx="566.09" cy="26.16" r="1.05" fill="#f08a8a"/>
<circle cx="566.08" cy="24.78" r="1.05" fill="#f08a8a"/>
<line x1="564.7" y1="27.71" x2="566.9" y2="27.71" stroke="#cc3b3b" stroke-width="0.6"/>
<line x1="565.8" y1="29.54" x2="565.8" y2="25.87" stroke="#cc3b3b" stroke-width="0.5"/>
<path d="M568.11,33.75 L569.3,35.88 L566.92,35.88 Z" fill="#1f5f9f"/>
<path d="M567.79,30.51 L568.98,32.64 L566.6,32.64 Z" fill="#1f5f9f"/>
<path d="M567.79,29.86 L568.98,31.99 L566.61,31.99 Z" fill="#1f5f9f"/>
<path d="M567.68,27.99 L568.86,30.11 L566.49,30.11 Z" fill="#1f5f9f"/>
<line x1="566.9" y1="31.91" x2="569.1" y2="31.91" stroke="#1f5f9f" stroke-width="0.6"/>
<line x1="568" y1="33.74" x2="568" y2="30.07" stroke="#1f5f9f" stroke-width="0.5"/>
<text x="562.3" y="82.8" font-size="7.4" fill="#e05555" stroke="#e05555" stroke-width="0.22" text-anchor="middle">V&#945;2</text>
<line x1="579.2" y1="74.5" x2="579.2" y2="76.7" stroke="#231f20" stroke-width="0.8"/>
<circle cx="573.2" cy="72.01" r="1.25" fill="#b4b4b4" stroke="#6e6e6e" stroke-width="0.5"/>
<circle cx="574.35" cy="73.32" r="1.25" fill="#b4b4b4" stroke="#6e6e6e" stroke-width="0.5"/>
<circle cx="575.5" cy="74.17" r="1.25" fill="#b4b4b4" stroke="#6e6e6e" stroke-width="0.5"/>
<circle cx="576.65" cy="72.55" r="1.25" fill="#b4b4b4" stroke="#6e6e6e" stroke-width="0.5"/>
<circle cx="577.8" cy="73.22" r="1.25" fill="#b4b4b4" stroke="#6e6e6e" stroke-width="0.5"/>
<line x1="579.9" y1="73.81" x2="579.9" y2="72.9" stroke="#777" stroke-width="0.6"/>
<line x1="579" y1="72.9" x2="580.8" y2="72.9" stroke="#777" stroke-width="0.5"/>
<line x1="579" y1="73.81" x2="580.8" y2="73.81" stroke="#777" stroke-width="0.5"/>
<line x1="578.6" y1="73.35" x2="581.2" y2="73.35" stroke="#666" stroke-width="0.6"/>
<circle cx="580.03" cy="74.5" r="1.05" fill="#808080"/>
<circle cx="580.03" cy="73.7" r="1.05" fill="#808080"/>
<circle cx="579.81" cy="73.07" r="1.05" fill="#808080"/>
<circle cx="579.84" cy="72.21" r="1.05" fill="#808080"/>
<circle cx="582.32" cy="74.62" r="1.05" fill="#f08a8a"/>
<circle cx="582.07" cy="72.85" r="1.05" fill="#f08a8a"/>
<circle cx="581.93" cy="72.05" r="1.05" fill="#f08a8a"/>
<circle cx="582.5" cy="69.44" r="1.05" fill="#f08a8a"/>
<line x1="580.9" y1="72.59" x2="583.1" y2="72.59" stroke="#cc3b3b" stroke-width="0.6"/>
<line x1="582" y1="74.42" x2="582" y2="70.76" stroke="#cc3b3b" stroke-width="0.5"/>
<path d="M584.06,72.11 L585.24,74.24 L582.87,74.24 Z" fill="#1f5f9f"/>
<path d="M584.42,69.49 L585.6,71.62 L583.23,71.62 Z" fill="#1f5f9f"/>
<path d="M583.81,68.18 L584.99,70.3 L582.62,70.3 Z" fill="#1f5f9f"/>
<path d="M584.05,67.18 L585.23,69.31 L582.86,69.31 Z" fill="#1f5f9f"/>
<line x1="583.1" y1="70.68" x2="585.3" y2="70.68" stroke="#1f5f9f" stroke-width="0.6"/>
<line x1="584.2" y1="72.51" x2="584.2" y2="68.85" stroke="#1f5f9f" stroke-width="0.5"/>
<text x="578.2" y="82.8" font-size="6.4" fill="#231f20" stroke="#231f20" stroke-width="0.22" text-anchor="middle" textLength="14.7" lengthAdjust="spacingAndGlyphs">V&#945;3.2</text>
<line x1="595.4" y1="74.5" x2="595.4" y2="76.7" stroke="#231f20" stroke-width="0.8"/>
<circle cx="589.4" cy="67.24" r="1.25" fill="#b4b4b4" stroke="#6e6e6e" stroke-width="0.5"/>
<circle cx="590.55" cy="68.5" r="1.25" fill="#b4b4b4" stroke="#6e6e6e" stroke-width="0.5"/>
<circle cx="591.7" cy="67.08" r="1.25" fill="#b4b4b4" stroke="#6e6e6e" stroke-width="0.5"/>
<circle cx="592.85" cy="67.83" r="1.25" fill="#b4b4b4" stroke="#6e6e6e" stroke-width="0.5"/>
<circle cx="594" cy="67.97" r="1.25" fill="#b4b4b4" stroke="#6e6e6e" stroke-width="0.5"/>
<line x1="596.1" y1="70.22" x2="596.1" y2="65.41" stroke="#777" stroke-width="0.6"/>
<line x1="595.2" y1="65.41" x2="597" y2="65.41" stroke="#777" stroke-width="0.5"/>
<line x1="595.2" y1="70.22" x2="597" y2="70.22" stroke="#777" stroke-width="0.5"/>
<line x1="594.8" y1="67.81" x2="597.4" y2="67.81" stroke="#666" stroke-width="0.6"/>
<circle cx="595.8" cy="70.68" r="1.05" fill="#808080"/>
<circle cx="596.09" cy="68.67" r="1.05" fill="#808080"/>
<circle cx="596.43" cy="65.52" r="1.05" fill="#808080"/>
<circle cx="595.71" cy="58.65" r="1.05" fill="#808080"/>
<circle cx="598.44" cy="70.68" r="1.05" fill="#f08a8a"/>
<circle cx="598.49" cy="69.64" r="1.05" fill="#f08a8a"/>
<circle cx="598.63" cy="67.76" r="1.05" fill="#f08a8a"/>
<circle cx="598.28" cy="65.59" r="1.05" fill="#f08a8a"/>
<line x1="597.1" y1="68.39" x2="599.3" y2="68.39" stroke="#cc3b3b" stroke-width="0.6"/>
<line x1="598.2" y1="70.22" x2="598.2" y2="66.55" stroke="#cc3b3b" stroke-width="0.5"/>
<path d="M600.65,67.24 L601.84,69.36 L599.46,69.36 Z" fill="#1f5f9f"/>
<path d="M600.04,66.02 L601.23,68.14 L598.86,68.14 Z" fill="#1f5f9f"/>
<path d="M600.65,65.56 L601.84,67.69 L599.46,67.69 Z" fill="#1f5f9f"/>
<path d="M600.38,62.96 L601.57,65.09 L599.2,65.09 Z" fill="#1f5f9f"/>
<line x1="599.3" y1="67.24" x2="601.5" y2="67.24" stroke="#1f5f9f" stroke-width="0.6"/>
<line x1="600.4" y1="69.08" x2="600.4" y2="65.41" stroke="#1f5f9f" stroke-width="0.5"/>
<text x="594.2" y="82.8" font-size="6.4" fill="#231f20" stroke="#231f20" stroke-width="0.22" text-anchor="middle" textLength="14.7" lengthAdjust="spacingAndGlyphs">V&#945;8.3</text>
<line x1="611.6" y1="74.5" x2="611.6" y2="76.7" stroke="#231f20" stroke-width="0.8"/>
<circle cx="605.6" cy="63.68" r="1.25" fill="#b4b4b4" stroke="#6e6e6e" stroke-width="0.5"/>
<circle cx="606.75" cy="64.91" r="1.25" fill="#b4b4b4" stroke="#6e6e6e" stroke-width="0.5"/>
<circle cx="607.9" cy="64.42" r="1.25" fill="#b4b4b4" stroke="#6e6e6e" stroke-width="0.5"/>
<circle cx="609.05" cy="65.38" r="1.25" fill="#b4b4b4" stroke="#6e6e6e" stroke-width="0.5"/>
<circle cx="610.2" cy="64.78" r="1.25" fill="#b4b4b4" stroke="#6e6e6e" stroke-width="0.5"/>
<line x1="612.3" y1="65.71" x2="612.3" y2="64.19" stroke="#777" stroke-width="0.6"/>
<line x1="611.4" y1="64.19" x2="613.2" y2="64.19" stroke="#777" stroke-width="0.5"/>
<line x1="611.4" y1="65.71" x2="613.2" y2="65.71" stroke="#777" stroke-width="0.5"/>
<line x1="611" y1="64.95" x2="613.6" y2="64.95" stroke="#666" stroke-width="0.6"/>
<circle cx="612.18" cy="66.86" r="1.05" fill="#808080"/>
<circle cx="612.14" cy="65.52" r="1.05" fill="#808080"/>
<circle cx="612.31" cy="64.47" r="1.05" fill="#808080"/>
<circle cx="612.75" cy="63.04" r="1.05" fill="#808080"/>
<circle cx="614.19" cy="62.31" r="1.05" fill="#f08a8a"/>
<circle cx="614.25" cy="59.39" r="1.05" fill="#f08a8a"/>
<circle cx="614.48" cy="57.31" r="1.05" fill="#f08a8a"/>
<circle cx="614.52" cy="56.69" r="1.05" fill="#f08a8a"/>
<line x1="613.3" y1="59.22" x2="615.5" y2="59.22" stroke="#cc3b3b" stroke-width="0.6"/>
<line x1="614.4" y1="61.05" x2="614.4" y2="57.39" stroke="#cc3b3b" stroke-width="0.5"/>
<path d="M616.8,62.25 L617.98,64.37 L615.61,64.37 Z" fill="#1f5f9f"/>
<path d="M616.68,61.34 L617.86,63.47 L615.49,63.47 Z" fill="#1f5f9f"/>
<path d="M616.33,60.96 L617.52,63.09 L615.15,63.09 Z" fill="#1f5f9f"/>
<path d="M616.85,57.45 L618.03,59.58 L615.66,59.58 Z" fill="#1f5f9f"/>
<line x1="615.5" y1="62.09" x2="617.7" y2="62.09" stroke="#1f5f9f" stroke-width="0.6"/>
<line x1="616.6" y1="63.92" x2="616.6" y2="60.25" stroke="#1f5f9f" stroke-width="0.5"/>
<text x="616" y="82.8" font-size="6.4" fill="#231f20" stroke="#231f20" stroke-width="0.22" text-anchor="middle" textLength="22.6" lengthAdjust="spacingAndGlyphs">V&#945;11.1/2</text>
<text x="598.5" y="19.6" font-size="9.7" fill="#9a9a9a" stroke="#9a9a9a" stroke-width="0.12" text-anchor="middle">Ki-67<tspan dy="-3" font-size="5.5">-</tspan></text>
<rect x="575.3" y="22.2" width="45.8" height="28.8" fill="none" stroke="#8c8c8c" stroke-width="0.8"/>
<circle cx="579.6" cy="27.8" r="1.35" fill="#fff" stroke="#555" stroke-width="0.55"/>
<text x="582.8" y="30.4" font-size="7.4" fill="#231f20" stroke="#231f20" stroke-width="0.22">PBS</text>
<circle cx="579.6" cy="36.5" r="1.35" fill="#999" stroke="#555" stroke-width="0.5"/>
<text x="582.8" y="39.1" font-size="7.4" fill="#231f20" stroke="#231f20" stroke-width="0.22">LADD</text>
<path d="M579.6,43.6 L581.12,46.32 L578.08,46.32 Z" fill="#fff" stroke="#555" stroke-width="0.55"/>
<text x="582.8" y="47.8" font-size="7.4" fill="#231f20" stroke="#231f20" stroke-width="0.22">LADD-OVA</text>
<text x="648.3" y="19.8" font-size="9.6" fill="#d8383f" stroke="#d8383f" stroke-width="0.12" text-anchor="middle">Ki-67<tspan dy="-3.5" font-size="6">+</tspan></text>
<rect x="625.8" y="22.2" width="45.2" height="28.8" fill="none" stroke="#d04a50" stroke-width="0.8"/>
<circle cx="629.8" cy="27.8" r="1.35" fill="#666"/>
<text x="632.8" y="30.4" font-size="7.4" fill="#231f20" stroke="#231f20" stroke-width="0.22">PBS</text>
<circle cx="629.8" cy="36.5" r="1.35" fill="#f08a8a"/>
<text x="632.8" y="39.1" font-size="7.4" fill="#231f20" stroke="#231f20" stroke-width="0.22">LADD</text>
<path d="M629.8,43.5 L631.41,46.39 L628.18,46.39 Z" fill="#1f5f9f"/>
<text x="632.8" y="47.8" font-size="7.4" fill="#231f20" stroke="#231f20" stroke-width="0.22">LADD-OVA</text>
<path d="M414.3,83.4 Q414.8,86 422.5,86.3 Q430.2,86 430.7,83.4" stroke="#c0393f" stroke-width="0.9" fill="none"/>
<path d="M422.5,86.3 V89.3 H428.6 V93.5" stroke="#c0393f" stroke-width="0.9" fill="none"/>
<path d="M428.6,97 L426.8,93 L430.4,93 Z" stroke="#c0393f" stroke-width="0" fill="#c0393f"/>
<path d="M496.3,83.4 Q496.8,86 503.35,86.3 Q509.9,86 510.4,83.4" stroke="#c0393f" stroke-width="0.9" fill="none"/>
<path d="M503.5,86.3 V90.9 H495.5 V93.5" stroke="#c0393f" stroke-width="0.9" fill="none"/>
<path d="M495.5,97 L493.7,93 L497.3,93 Z" stroke="#c0393f" stroke-width="0" fill="#c0393f"/>
<path d="M510.6,83.4 Q511.1,86 517.7,86.3 Q524.3,86 524.8,83.4" stroke="#c0393f" stroke-width="0.9" fill="none"/>
<path d="M517.7,86.3 V93.2 H565.6 V93.5" stroke="#c0393f" stroke-width="0.9" fill="none"/>
<path d="M565.6,97 L563.8,93 L567.4,93 Z" stroke="#c0393f" stroke-width="0" fill="#c0393f"/>
<path d="M555.4,83.4 Q555.9,86 562.2,86.3 Q568.5,86 569,83.4" stroke="#c0393f" stroke-width="0.9" fill="none"/>
<path d="M562.2,86.3 V88.5 H638 V93.5" stroke="#c0393f" stroke-width="0.9" fill="none"/>
<path d="M638,97 L636.2,93 L639.8,93 Z" stroke="#c0393f" stroke-width="0" fill="#c0393f"/>
<text x="9.8" y="102.5" font-size="12" fill="#231f20">b</text>
<text x="49.6" y="104.2" font-size="9.2" fill="#231f20" stroke="#231f20" stroke-width="0.12" text-anchor="middle">PBS</text>
<text x="131.2" y="104.2" font-size="9.2" fill="#231f20" stroke="#231f20" stroke-width="0.12" text-anchor="middle">LADD</text>
<text x="213.4" y="104.2" font-size="9.2" fill="#231f20" stroke="#231f20" stroke-width="0.12" text-anchor="middle">LADD-OVA</text>
<rect x="9.5" y="106.7" width="80.2" height="61.4" fill="#fff"/>
<rect x="91.5" y="106.3" width="79.5" height="61.5" fill="#fff"/>
<rect x="173" y="106.1" width="81.3" height="61.5" fill="#fff"/>
<path d="M94.6 144h0m.1-.1h0m.1 0h0m.1-1.1h0m0 2.7h0m.1-3.3h0m0 .5h0m.3 3.4h0m.1-1.2h0m.1-2.7h0m.1-1.1h0m0 .4h0m0 .2h0m.1 3.4h0m.1-5.1h0m0 5.8h0m.3-5.3h0m0 3.7h0m0 1.3h0m.1-2.8h0m0 .9h0m0 4.8h0m.1-4.3h0m0 3.6h0m.1-7.1h0m0 4.4h0m0 1.6h0m.1-6.5h0m.1-.3h0m.1 8.8h0m.1-7.6h0m.1 1.9h0m0 5h0m.1-5.3h0m0 6.7h0m.1-8.8h0m0 1.6h0m0 .9h0m0 2h0m0 2.3h0m.1-8.7h0m0 .5h0m0 0h0m0 .6h0m0 .9h0m0 1.2h0m0 4.6h0m.1-7.4h0m.2 .3h0m0 1.9h0m0 8.5h0m.1-.3h0m.1-11.3h0m0 3.6h0m0 1.9h0m.1-1.3h0m0 4.8h0m.1-2.7h0m0 1.1h0m0 1.2h0m0 1.1h0m.1-7.5h0m0 3h0m.1 1.3h0m0 .7h0m0 4.9h0m.1-11.9h0m0 1.5h0m0 2.4h0m0 7.1h0m.1-10.8h0m0 6.6h0m0 2.3h0m.1-7.5h0m.1-1h0m.1 4.1h0m0 .6h0m0 .9h0m0 .7h0m0 4.8h0m0 .1h0m.1-12.1h0m0 5.6h0m0 .2h0m.1-3.2h0m0 9.5h0m.1-11.7h0m0 3.1h0m.1-2.7h0m0 3.5h0m0 5.8h0m.1-11h0m0 11.1h0m0 .2h0m0 .7h0m.1-8.3h0m0 .6h0m0 .3h0m0 1.3h0m0 1.4h0m0 4h0m.1-8.2h0m0 .8h0m0 .7h0m0 3h0m.1-7.8h0m0 1.2h0m0 12.1h0m.1-13.2h0m0 .6h0m0 7.1h0m0 5.1h0m.1-6.2h0m0 1.5h0m0 4.6h0m0 .9h0m.1-10.3h0m0 1.2h0m0 9.8h0m.1-7h0m0 4.7h0m0 1.7h0m.1-10.8h0m0 4.6h0m0 1.1h0m.1-3.1h0m0 6.3h0m.1-12.2h0m0 5.6h0m0 3.5h0m0 2.6h0m0 2.8h0m.1-12.8h0m0 7.5h0m0 1.1h0m.1-8.6h0m0 9.6h0m0 3.3h0m.1-1.9h0m0 1.1h0m0 1h0m.1-14.1h0m0 .5h0m0 4.2h0m0 4.1h0m.2-1.5h0m0 1.8h0m0 .2h0m.1-8.6h0m0 11.8h0m.1-12h0m0 5.5h0m0 .2h0m0 8.2h0m.2-13.1h0m0 2.1h0m0 8.1h0m0 1.6h0m.1-11.5h0m0 6.9h0m0 3.6h0m.1-6.3h0m0 1.1h0m.1-5h0m0 2.4h0m0 5.7h0m.1-5.4h0m0 .8h0m0 .4h0m0 .2h0m0 1h0m0 6.9h0m.1-9.9h0m0 3.4h0m.1 1.4h0m0 1h0m0 .2h0m.1-10.6h0m0 6.1h0m0 4h0m0 4.1h0m.1-11.6h0m0 2.6h0m0 2h0m0 3h0m0 .2h0m.2-7.5h0m0 11.2h0m0 .4h0m0 .6h0m.1-8.7h0m0 1.4h0m0 7.2h0m.1-13.3h0m0 9.6h0m.1-8.7h0m0 4.2h0m0 3.4h0m0 .8h0m.1-12.1h0m0 5.7h0m0 1.3h0m0 .4h0m0 7.5h0m.1-6h0m.1 3.4h0m0 1.1h0m.1-9.5h0m0 .1h0m0 .6h0m0 .5h0m0 4h0m0 1.3h0m.1-10.5h0m0 .3h0m0 .8h0m0 2h0m0 2.7h0m0 2h0m0 .5h0m0 2.7h0m.1-9.6h0m0 7.1h0m0 5h0m0 2.4h0m.1-11.9h0m0 8.5h0m.1-9.7h0m0 6.7h0m0 6.1h0m.1-8h0m0 3.9h0m0 .1h0m.1-9.1h0m0 12.1h0m.1-13.1h0m0 2.4h0m0 3.3h0m0 2.6h0m0 .8h0m0 .3h0m0 5.6h0m.1-13.3h0m0 1h0m0 2h0m0 .3h0m0 6.5h0m0 2.1h0m0 1.2h0m.1-15h0m0 .1h0m0 4.8h0m0 1.4h0m0 2.2h0m.1-7.3h0m0 .1h0m0 4.5h0m0 4.4h0m0 0h0m0 .7h0m.1-9.4h0m0 2h0m0 7.4h0m0 4h0m.1-12.3h0m0 5.9h0m0 2.3h0m0 2.6h0m.1-10.4h0m0 2.6h0m0 2.4h0m.1-9.3h0m0 3.1h0m0 2.4h0m0 6.8h0m.1-11.9h0m0 1.2h0m0 1.9h0m0 3.7h0m0 3.9h0m.1-8.9h0m0 .1h0m.1 2.8h0m0 9.1h0m0 0h0m.2-9.2h0m0 3.2h0m0 5.2h0m0 3.5h0m.1-15.9h0m0 2.9h0m0 .6h0m0 10.8h0m.1-11.3h0m0 1.7h0m0 5.5h0m0 .4h0m0 5.5h0m.1-14.9h0m0 4h0m0 1.4h0m0 3h0m0 3.3h0m0 .6h0m.1-9.8h0m0 8.3h0m0 .2h0m.1-4.2h0m.1-4.2h0m0 7h0m.1-9.6h0m0 2.4h0m.1-4.1h0m0 2.3h0m0 3.9h0m0 1.9h0m.1-6h0m0 6.4h0m0 4h0m0 .5h0m.1-13.7h0m0 2h0m0 .8h0m0 3.4h0m0 5.1h0m.1-8.8h0m0 7.3h0m0 6.7h0m.1-8.7h0m0 4.8h0m0 1.1h0m.1-10.2h0m0 .9h0m0 1.5h0m0 .3h0m0 1h0m0 .6h0m0 4.7h0m.1-6.5h0m0 1.3h0m0 3.3h0m.1-.4h0m0 3.4h0m0 3.6h0m.1-15h0m0 2.8h0m0 5.3h0m0 1.8h0m0 3.7h0m.1-16h0m0 8.6h0m0 .2h0m0 .8h0m0 5.7h0m.1-14.8h0m0 4.2h0m0 .8h0m0 6.6h0m.1-3h0m0 4.9h0m0 1.3h0m.1-10.5h0m0 3.3h0m0 2.2h0m0 1h0m.1-10.1h0m0 1h0m0 6.6h0m0 4.9h0m.1-12.8h0m0 5.4h0m.1-4h0m0 1.6h0m0 3.2h0m0 .7h0m0 4.1h0m.1-1.7h0m0 1.5h0m0 1.5h0m.1-10.7h0m0 3.1h0m0 6.4h0m0 4h0m.1-9.4h0m0 2.4h0m0 1.9h0m0 2.7h0m0 .2h0m.1-10.8h0m0 3.8h0m0 .4h0m0 4.3h0m0 2.1h0m0 2.7h0m.1-14.3h0m0 2.2h0m0 1.8h0m0 .7h0m0 .8h0m0 2h0m0 1.2h0m.1-3.9h0m0 1.1h0m0 2.8h0m.1-8.6h0m0 2.8h0m0 .3h0m.1-5.1h0m0 3.5h0m0 .2h0m0 2.2h0m0 9.9h0m.1-14.8h0m.1-.3h0m0 .8h0m0 9.7h0m0 .5h0m0 .1h0m0 4.7h0m.1-7.3h0m.1-1.4h0m0 3h0m0 2.1h0m0 .2h0m.2-7.6h0m0 4.3h0m0 1.1h0m.1-7.9h0m0 .6h0m0 8.8h0m0 .8h0m0 2.9h0m0 .8h0m.1-15.3h0m0 1.7h0m0 1.8h0m0 2.9h0m.1-3.8h0m0 5.9h0m.1-9.8h0m0 3.3h0m0 1.2h0m0 6.6h0m0 1.6h0m.1-11.6h0m0 8.7h0m0 6.1h0m.1-10.6h0m0 7.1h0m0 3.3h0m0 1.3h0m.1-16.5h0m0 7.7h0m0 1.9h0m0 6h0m0 .6h0m.1-15.4h0m0 4.8h0m0 4.1h0m0 .2h0m0 1.9h0m.1 4h0m.1-15.5h0m0 5.5h0m0 4.1h0m0 6.2h0m.1-14.1h0m0 .8h0m0 2.9h0m.1 7h0m.1-3.5h0m0 2h0m0 .1h0m0 4.9h0m.1-9h0m0 .9h0m0 5.4h0m.1-13.6h0m0 3.7h0m0 11.9h0m0 .7h0m.1-16.8h0m0 1.9h0m0 10.1h0m0 2.3h0m0 1.2h0m0 .3h0m0 .2h0m.1-11h0m0 .2h0m0 .7h0m0 2.3h0m0 1.1h0m0 1.6h0m0 .1h0m0 1.6h0m.1-9.8h0m.2 9.7h0m0 2.4h0m0 .1h0m.1-10.3h0m0 5.9h0m0 .9h0m0 4.6h0m.1-7h0m.2-4.6h0m0 7.2h0m0 4.4h0m.1-8.6h0m0 2.4h0m0 1.1h0m0 2.1h0m0 .4h0m.1-8.1h0m0 4.6h0m0 5.1h0m.1-14.4h0m.1 3.4h0m.1 3.7h0m0 5.4h0m.1-3.4h0m.1-5.9h0m0 7.6h0m.1-6.8h0m0 4.3h0m0 2.5h0m0 1.5h0m.1-11h0m0 1.4h0m0 5.8h0m0 1.2h0m.1-.8h0m0 4.4h0m0 .2h0m.1-13.5h0m0 7.2h0m0 1.5h0m0 5.6h0m0 1.4h0m.1-10h0m0 5.8h0m0 1.6h0m0 2.7h0m.2-13.3h0m0 .9h0m0 5.3h0m0 7h0m0 0h0m.1-12.8h0m0 1.8h0m0 .7h0m0 9.4h0m.1-14.5h0m0 .5h0m0 6.7h0m0 .2h0m0 .6h0m0 1h0m0 1.6h0m.1-9.9h0m0 5.4h0m0 4.4h0m0 1.2h0m.1-10.1h0m0 9.9h0m0 1.7h0m0 .6h0m.1-10.7h0m0 7.2h0m0 .7h0m0 2h0m.1-11.6h0m0 1.3h0m0 2.6h0m0 .8h0m0 .9h0m0 3.9h0m0 3.1h0m.1-9.5h0m0 .2h0m0 3.9h0m0 3.1h0m.1-8.9h0m0 8.1h0m.1-2.8h0m.2-2.8h0m0 .2h0m0 7.7h0m.1-8.9h0m0 2.1h0m0 2.9h0m0 1h0m0 4.4h0m.1-10.6h0m0 2.3h0m0 7.7h0m.1-13.8h0m0 3.2h0m0 3.6h0m.1-1.6h0m0 6.3h0m.1-10.4h0m0 1.6h0m0 7.6h0m0 1h0m.1-4.7h0m0 .7h0m0 4.5h0m.1 .4h0m0 1.9h0m.1-11.3h0m0 1.9h0m0 1.8h0m0 6.9h0m0 .5h0m0 .3h0m.1-.3h0m.1-12.4h0m0 1.4h0m0 5.6h0m0 5.1h0m.1-7.2h0m0 7.5h0m.1-12.7h0m0 1.5h0m0 1.3h0m0 6.2h0m0 .7h0m0 2.8h0m.1-8.8h0m0 2.7h0m.1-.9h0m.2 4.3h0m.1-8.8h0m.1-1.1h0m0 7.7h0m0 4.2h0m0 .1h0m.1-10.6h0m0 .1h0m0 3.7h0m0 7h0m.1-4.6h0m.1-1.2h0m.1-3h0m0 2.2h0m0 2.6h0m0 .9h0m0 1.5h0m.1-6.8h0m0 4.2h0m.1-6.4h0m0 1.6h0m0 5.6h0m0 2.1h0m.1-4.9h0m0 .7h0m0 1.5h0m.1-5.7h0m0 .8h0m0 2.8h0m.1 3.5h0m.1-3.3h0m0 1.3h0m.1 1.2h0m.1-6.9h0m0 8.7h0m.1-6.6h0m0 5.3h0m.1 .1h0m.1-4.9h0m0 5.1h0m.1-7.9h0m0 .4h0m0 2.8h0m0 3.1h0m.1-5.2h0m0 4.8h0m.1-.1h0m0 1h0m.1-1h0m.1-3.1h0m.1-2.1h0m0 1.9h0m0 .2h0m.1 1.6h0m.1-1.3h0m0 1.2h0m.2 .5h0m0 1.9h0m.1-4.2h0m0 2h0m0 .4h0m0 2.5h0m.1-4.3h0m.2-.4h0m.1 .6h0m.1-.5h0m.1 2.1h0m0 .9h0" stroke="#e0284a" stroke-width="1.0" stroke-linecap="round" fill="none" stroke-opacity="0.95"/>
<path d="M55.7 122.7h0m.3 6.9h0m.1-5.9h0m.5 2.7h0m.7 5h0m4.1-7.2h0m0 11.8h0m.3-13.2h0m.4-1.4h0m.7 11.5h0m.5 12.4h0m.4-8.8h0m.3 4.5h0m.3-25.8h0m1.6 2.7h0m.1-8.7h0m.1 15.7h0m.1 3.5h0m.1 16.3h0m.5 8.5h0m.5-36h0m.7 14.5h0m.1-3.6h0m.3-16.8h0m.1 40.1h0m.2-11.5h0m.1 10.6h0m.2-4.9h0m.2 11.4h0m.2-26.1h0m.1-3.1h0m.4 26.3h0m.3-20.6h0m0 9.7h0m.2-11.9h0m0 13.5h0m0 3.8h0m.1-14h0m.2-5.7h0m.1 8.1h0m.7 .9h0m.2-2.2h0m0 11.1h0m.6-18.7h0m.2-3.2h0m.3 12.1h0m.1-10.2h0m0 14.1h0m.1-13.7h0m.3 24.1h0m.4-6h0m.1-30.1h0m.3 6h0m.6 15h0m.3 7h0m.1-7h0m1.2-17.7h0m0 6.4h0m.4 13.9h0m.4-8.6h0m1.6-2.4h0m.5 4.7h0m.8-.1h0m.1-4.9h0m.6 17.3h0m.2 .4h0m.5-26.5h0m0 12.1h0m.9 .4h0m.9 .1h0m0 7.6h0m.2-6.6h0m50.5 8.4h0m2-6.5h0m2.9 3.4h0m1.3-10.8h0m0 14.4h0m.7-18.6h0m1.3 22.6h0m.9-7.6h0m.1-6.6h0m.3 20.8h0m.2-37h0m.8 12.8h0m.3 4.1h0m1-.5h0m.3-18h0m.3 19.6h0m1 4h0m.1 14.3h0m.3-27.1h0m.3-6.8h0m.7 41.9h0m.5-26.1h0m.9-11.2h0m.6 31.3h0m.1-25.5h0m0 26.9h0m.2-10.8h0m.1-19.5h0m.4 5.3h0m.1-9.4h0m.1 32.2h0m.3-1.4h0m1.4-17.7h0m1.5-.3h0m.8 11.6h0m.2-.8h0m.4-21.8h0m.1 6.7h0m.2 5.4h0m.9 14.4h0m.2 1.5h0m1-10.6h0m.1-13.4h0m1.3 9.7h0m1-3.7h0m.6-4.4h0m.6-2.1h0m0 7.7h0m.5-2.8h0m1.5 5.3h0m54.2-10.2h0m.6-.5h0m.5-3.5h0m0 12.3h0m.8 4.2h0m3.8 2.5h0m2.6-3.9h0m0 1.6h0m.5-22.2h0m.3 23.5h0m.5 7.4h0m.4-34.7h0m0 14.2h0m1 13.4h0m1.1-18h0m1.3 12h0m.3-3.8h0m.1 20h0m.3-11.6h0m.7 1.4h0m.3 6.2h0m.3-11.4h0m0 6.5h0m.2 .5h0m.9-19h0m.1-5.8h0m.3 35.4h0m1.5-33.7h0m.1 6.6h0m1.1-1.9h0m.3 3.5h0m.2-4h0m.5-6.9h0m.1 8.5h0m.2 30.6h0m.1-38.1h0m0 2h0m.1 34.2h0m.7-28.2h0m0 0h0m0 6.8h0m.1-8.9h0m.5 6.5h0m0 .7h0m.2-.1h0m0 .7h0m.5 15.7h0m.2-16.4h0m.7-11.9h0m.3 1.7h0m.4 7.3h0m0 .6h0m.9 10.4h0m1.1-.5h0m.1-12.9h0m.2 8.2h0m.2 10.4h0m1.2-8.2h0m.4 1h0m2.3 6.4h0m2.9-10.2h0" stroke="#4a55a0" stroke-width="1.0" stroke-linecap="round" fill="none" stroke-opacity="0.95"/>
<path d="M54.8 120h0m.2 21.9h0m.2-17.5h0m.1 2.2h0m.8 4.6h0m.1-6h0m.2-5.6h0m.4 14.3h0m.3 8.3h0m.2-17.3h0m0 13.8h0m.5-23h0m0 24.2h0m.1-22.4h0m0 3.6h0m0 18.9h0m.1-19.3h0m.1 8.6h0m.2-7.6h0m.5 23.9h0m.3-4.8h0m.2-19.2h0m.5 2.6h0m.1 12.1h0m.1-17.6h0m.2 8.3h0m.1-5.6h0m0 13.9h0m.3-.2h0m.2-2.8h0m.1-10.3h0m0 25.2h0m.1-20.5h0m0 16.9h0m.3 3h0m.2-20.7h0m0 23.1h0m.1-13h0m.1-18.6h0m0 11.5h0m.1-8.3h0m0 .2h0m.3 7.1h0m0 21.6h0m.2-24.4h0m0 9.9h0m.1-15.5h0m0 6.1h0m0 13.5h0m.2-11.7h0m.2 0h0m.2-3.1h0m.1 20.1h0m.2-33.1h0m0 23.1h0m.1 9.9h0m0 3.8h0m.1-12.5h0m0 4.7h0m0 11.9h0m.1-2.8h0m.2-37.8h0m0 31.9h0m0 4.5h0m.1-8h0m0 3h0m.4-20.1h0m0 .2h0m.2-13.1h0m0 19.7h0m0 6.2h0m0 11.6h0m.2-6.3h0m.1-17.1h0m0 15.8h0m.1-12.1h0m0 19.9h0m.1-28.6h0m0 1.1h0m0 31.7h0m.1-25.3h0m.1-17.3h0m0 10h0m0 4.5h0m0 5.1h0m.3 1.7h0m.1-.2h0m0 7.8h0m0 6.8h0m.1-12.1h0m.1-17h0m0 18.4h0m.1-18.7h0m.1-5.2h0m0 5.6h0m.1 15.5h0m.1-6.6h0m.1-8.4h0m0 22.7h0m.1-17.2h0m.1 11.7h0m.1-13.5h0m0 14h0m.1-12.7h0m.1 28.9h0m0 .2h0m.1-38.4h0m0 15.5h0m0 1h0m0 9.3h0m.1 13.2h0m.1-17.2h0m.1 15.8h0m.1-26.3h0m0 5.5h0m.3-17h0m0 13h0m0 9.7h0m.1 22.9h0m.1-38.8h0m0 .7h0m.1-3.2h0m0 6.9h0m.1 9.5h0m0 11h0m0 1.3h0m.1-27.7h0m0 4.1h0m0 27.3h0m.1-28.9h0m0 5.4h0m0 3.1h0m0 20.3h0m0 3.7h0m.1-30.1h0m.3 .9h0m.1-8.1h0m.2 3.9h0m0 17h0m0 7.7h0m.2-13.5h0m0 7.8h0m.1-23.3h0m0 3.1h0m0 5.9h0m0 20.4h0m0 5.3h0m.1-4.1h0m.1-31.2h0m0 40.1h0m.1-30.7h0m.1 10.2h0m.1-22h0m0 20.6h0m.1-7.1h0m0 .3h0m0 6.5h0m.1-4.1h0m0 5.3h0m.2 5.2h0m0 10.8h0m.1-35.6h0m0 3.4h0m0 13h0m0 10.6h0m.1-11.8h0m0 14.7h0m0 .2h0m0 7h0m.1-15h0m.1-6.1h0m.1 6.7h0m0 1.5h0m0 10.4h0m.2-14.2h0m0 3.1h0m0 2.1h0m.1-18.6h0m0 4.9h0m0 21.8h0m.1-29.8h0m0 4.1h0m0 16h0m.1-16.9h0m0 7.3h0m0 1.6h0m0 2.9h0m.1-12.9h0m.2-2.2h0m0 3.1h0m.1-10.6h0m.2 26h0m.1 15.5h0m.1-35.1h0m0 10.1h0m.1-9.9h0m.2 1.9h0m0 14.6h0m.1-10.5h0m0 13.3h0m.1 7.5h0m0 .3h0m.2-8.7h0m.1-17.7h0m0 10.2h0m.2-5.6h0m.2 23.3h0m.1-29.2h0m0 .2h0m0 16.1h0m.2-1.9h0m.2 12.8h0m.1-27.4h0m0 32.9h0m.1-1.8h0m.1-10.9h0m.1-18.5h0m0 17.3h0m.3-12.5h0m0 34.8h0m.3-27h0m.1-10.4h0m.1-3.7h0m0 35.7h0m.1-32.2h0m.1 17.5h0m.2-1.9h0m.1 16.9h0m.1-21.2h0m0 20.7h0m.1-16.4h0m0 14.4h0m.1-3.7h0m.3-25.1h0m.1-1.4h0m0 37.1h0m.2-36.3h0m0 4.7h0m.2 8.7h0m.2 1.5h0m0 13.9h0m.1-23.9h0m.1-5.7h0m.2 8.1h0m0 2.4h0m0 .4h0m0 .5h0m0 12.8h0m0 7h0m.5-27.3h0m0 7.6h0m0 13.3h0m.1-18.2h0m.1 20.6h0m.1-6.7h0m0 4.1h0m.1-17.7h0m0 13.1h0m0 .9h0m.1 10.3h0m.1-30.4h0m.1 9.6h0m.1 13.6h0m.1-12.7h0m0 16.7h0m.5-2.8h0m.1-29.5h0m.1 11.9h0m0 4.6h0m0 4.7h0m.1-1.8h0m.1-10.1h0m.1-2.2h0m0 2h0m.1-2.4h0m0 25.1h0m.1-17.8h0m0 3.8h0m.1-5.6h0m0 1.2h0m.1 14.6h0m.1-27.6h0m0 1.1h0m0 8.4h0m.1-3.1h0m0 17.1h0m0 11.1h0m.1-8.7h0m.1-20.3h0m.3-5h0m0 29h0m.2-12.1h0m0 18h0m.1-11.9h0m.1-13.7h0m.1-5.1h0m.1-2.5h0m0 21.6h0m0 8.4h0m.2-29.3h0m0 18.6h0m.1-20.8h0m0 16.2h0m.1-2.4h0m.3 10h0m.1-13.6h0m1-1.9h0m.4 8.8h0m.2 10.8h0m.3-15h0m.1 1.1h0m0 11.3h0m.1-13.3h0m.1-2.5h0m.3 8.1h0m.2-8.3h0m0 7.1h0m.3-6.9h0m0 6.5h0m0 .6h0m.7 9.9h0m.4-12.7h0m1.1 5.7h0m46.1-5.3h0m.8 8.2h0m.1-9.9h0m.5 15.3h0m1-3.4h0m.2-4.9h0m.1-11h0m.1 5.5h0m0 2.6h0m0 8.5h0m.2 3.6h0m.4-14h0m.1-9.1h0m.7 3.2h0m.3 1.4h0m.5-6h0m0 4.4h0m.3 21.8h0m.3-17h0m.2-4.6h0m.4-3.6h0m0 1.6h0m.3 5.2h0m.1 19.7h0m0 1.5h0m.1-31.7h0m.1 6.6h0m0 15.5h0m.1-3.5h0m0 .5h0m0 4h0m.1-15.6h0m0 2h0m.1-9.3h0m.3 15.7h0m.3-8.5h0m0 1.4h0m.1-3.1h0m0 29.7h0m.2-26.4h0m.1-1.1h0m0 18.4h0m.1-8h0m.1-7.6h0m.3-1.4h0m.2 15.1h0m0 9.5h0m.2-25.6h0m0 2.5h0m0 19.5h0m.2-27h0m.5 1.8h0m.2 17.9h0m.1 10.1h0m.1-20.9h0m.2-15.7h0m0 1h0m0 20.2h0m0 12.1h0m.2 4.3h0m.4-8h0m0 10.3h0m.1-32.7h0m0 15.6h0m0 8.4h0m.2-10.6h0m0 14.6h0m0 .2h0m.1 6.6h0m.2-20.1h0m.1-7.3h0m0 12.9h0m.1-4.3h0m0 6.7h0m.1-18.9h0m.2 17.7h0m.1-5.9h0m.1-2.2h0m.1 17h0m.2-26.8h0m.1 8.1h0m0 10.6h0m.1-19.4h0m0 7.5h0m.2 13.9h0m.1-12.5h0m.2-12.2h0m0 21.9h0m.1-29.5h0m0 38.6h0m.1-28.3h0m0 4.8h0m.1 20.9h0m.3-29.3h0m.1 13.2h0m.1 2.4h0m0 11.8h0m.1-11.2h0m.1-8.2h0m0 7.3h0m0 6.5h0m.1-6h0m.3-19.3h0m0 16h0m0 1.2h0m0 24.6h0m.1-26.1h0m.1-15.9h0m0 11.1h0m.1-2.7h0m0 11.5h0m.2-18h0m0 17.8h0m0 3.3h0m0 15.4h0m.2-36.1h0m0 19.6h0m0 11.9h0m.1-15.9h0m.1-16.2h0m0 5.1h0m0 21.4h0m.4-9.4h0m.1-15.4h0m.1 4h0m0 8.7h0m0 15.3h0m0 7.9h0m.1-26.6h0m.1-15.8h0m0 7.9h0m0 2.4h0m.2-3.7h0m0 20.8h0m0 16.5h0m.1-19.3h0m.5-4.8h0m.1 8h0m.1-16.9h0m.1 9.4h0m.1-10h0m0 22.2h0m.1-19.5h0m0 9.9h0m0 11.4h0m.1-24h0m.1 12.8h0m0 3.6h0m.1 16.5h0m.2-22.9h0m.1 24.1h0m.2-35.7h0m0 4.2h0m0 16.9h0m.1 9.3h0m.2-2.4h0m.1-20.4h0m0 25.5h0m.1-17.6h0m.2 .7h0m.2-18.3h0m.1 19.4h0m.3-15.9h0m0 1.7h0m0 8h0m0 8h0m.1 5.8h0m0 2.7h0m.1-21.9h0m0 10.6h0m.1 1.7h0m0 2.1h0m0 8.6h0m.2-1.1h0m.2-16.3h0m.1-17.4h0m0 24.9h0m.1-12.4h0m0 9.2h0m0 7.2h0m.3-14.4h0m0 19.8h0m.1-20.4h0m0 14.5h0m.1-17.6h0m0 5.8h0m.2-16.9h0m0 12.1h0m.1 27.5h0m.1-13.6h0m0 8.2h0m.2-12.4h0m.1-12.6h0m.3 18.8h0m0 .9h0m.2-26.3h0m0 15.3h0m.1 1.5h0m.3 11.1h0m.1-26.7h0m0 27.1h0m.1-23.8h0m0 10.9h0m.2-4.3h0m.1 23.6h0m.1-3.2h0m.2-16.1h0m.2-1.8h0m.2 1.8h0m0 4.1h0m.3 7.5h0m.2-25.6h0m.1 2.8h0m0 3.6h0m0 11.4h0m.1-18.8h0m0 18.3h0m.2 2.6h0m.1-16.1h0m.1 3h0m0 7.6h0m.1 11h0m.2-10.3h0m.2 7.9h0m.4-10.6h0m0 .3h0m.2 1h0m0 1.9h0m0 14.8h0m.2-9.8h0m.1-5.2h0m.1 4.3h0m.3-17.1h0m0 12.6h0m.2 .1h0m.1-2.2h0m.1 6.4h0m.1 2h0m.1-5h0m.3 2.6h0m.4-5.8h0m.3-4.3h0m.1 1.6h0m0 3.3h0m.8 6.9h0m.4-12.7h0m.7 1.4h0m0 13.8h0m.9-11.2h0m.2-.8h0m52 2.2h0m.6-8.7h0m.1-.1h0m.7 14h0m.2-7.3h0m.2 8.5h0m.3-17.1h0m.1-.7h0m.3 5h0m.2 11.4h0m.3-9.6h0m.9-10.6h0m.1 6.5h0m.8 9.2h0m.8-1.4h0m.6 10.5h0m.2-21.1h0m.2 8.5h0m0 10.5h0m.1 3.8h0m.1 5.6h0m.2-32.3h0m0 16.5h0m.1-12.7h0m0 17.6h0m.1-5.2h0m.1 11h0m0 5.1h0m.1-25.5h0m0 15.7h0m0 5.7h0m.1-21.4h0m0 28h0m.2-21.1h0m.1-17.3h0m0 22.8h0m.4-24.1h0m.2-.5h0m0 33.7h0m.7-22.5h0m0 7.2h0m.3-6.2h0m0 4.4h0m.1 5.9h0m.2 12.5h0m.1-6.4h0m.1-24h0m.4 19.3h0m.2-25.1h0m.3 .3h0m.1 24.7h0m0 13.1h0m.2-25h0m0 8.2h0m.2 14.6h0m.1-4.6h0m0 .3h0m.1-27h0m0 3h0m0 5.4h0m0 11.2h0m0 7.2h0m.1-6.8h0m0 5.8h0m.3-29.2h0m.1 39.4h0m.1-30.2h0m0 8.7h0m.1-12.8h0m.2 24.6h0m0 3.2h0m.1-28.2h0m.1 5.6h0m0 19.6h0m.1 2.2h0m.1-12.7h0m0 5.2h0m.3-17.1h0m0 22.6h0m.1-24.7h0m.1-.1h0m0 32.5h0m.2-32.6h0m.1 5.6h0m.1-1.6h0m0 3.8h0m0 13h0m.1 10.8h0m0 4.1h0m.1-9.4h0m.1 .5h0m.1 13.5h0m.1-7.4h0m.1-3.3h0m.1-25.6h0m0 12.9h0m.2-15.2h0m.1 18.9h0m.1 7.1h0m.4-21.7h0m0 24.2h0m.1-17.7h0m0 2h0m.1 16h0m.2-19.6h0m.1-1.7h0m.2 7.6h0m.1-6.4h0m0 16.7h0m.1-.9h0m0 5.1h0m.1-25.3h0m.1 3.3h0m0 19.1h0m.1 8.9h0m.2-13.4h0m.1 9.3h0m.2-32.8h0m.2 2h0m0 14.5h0m.1 1.7h0m.1-8h0m0 2.6h0m.2-2.6h0m0 7.3h0m0 1.7h0m0 7.3h0m.1-20h0m0 9.7h0m0 2.3h0m.2-11.7h0m0 20.4h0m.2-32.5h0m0 31.4h0m.2-22.3h0m0 25.4h0m.1-25.5h0m.1 24.9h0m0 7.9h0m.1-36.2h0m.1 6.1h0m0 11.6h0m.1-25.9h0m0 31h0m0 9.9h0m.3-19.1h0m0 2.2h0m0 15.2h0m.1-13.4h0m.1-18.1h0m0 41.5h0m.1-38.3h0m0 15h0m.1 21.5h0m.4-21.3h0m.1-5h0m0 2h0m0 3.1h0m.1 22.7h0m.1-35.7h0m0 13.8h0m.1-2.2h0m.1-18.9h0m0 2.1h0m0 25.1h0m.3-16.2h0m0 23.8h0m.2-32.5h0m.1-5.5h0m0 30.6h0m.1-28.9h0m0 27.8h0m.1-12.2h0m0 27.1h0m.1-4.9h0m.1-33.4h0m0 7.9h0m0 1.8h0m0 29.9h0m.1-38h0m.1 15.6h0m.2-16.3h0m0 10.7h0m0 25.2h0m.1-.1h0m.2-5.3h0m.2-22.7h0m.1 2.7h0m0 .3h0m0 9.7h0m.1-6.4h0m.1-5.3h0m0 3.2h0m0 15h0m.1-28.6h0m0 22.5h0m0 6.2h0m.1-26.3h0m.1 13.7h0m.2-4.1h0m.1-4.1h0m.2 11.8h0m.1-3.4h0m.1-3.5h0m.1-12.4h0m0 17.2h0m.2-12.9h0m0 7.2h0m0 13.1h0m.1-19.6h0m.1-6.4h0m0 26.7h0m.1-9.1h0m.1-19.4h0m.2 18.6h0m.2 7.1h0m.1-26.5h0m.1 17h0m0 15.2h0m.1-7.1h0m.1-15.2h0m.1 21.7h0m.1-27.5h0m0 13.8h0m.3 5.2h0m.1-9.3h0m0 15.1h0m.1-26.9h0m.1 34.2h0m.1-26.4h0m0 7.3h0m0 12.3h0m.2-22.1h0m0 18.6h0m.1 5.6h0m.1-28.6h0m0 13.5h0m0 17.7h0m.5-32.6h0m0 34.9h0m.1-8.7h0m.1-10h0m0 .4h0m0 14.7h0m.1-12.9h0m.7-15h0m0 3.7h0m.1-5h0m0 25.4h0m0 4.3h0m.1 1.3h0m.1-4.8h0m0 5.8h0m0 1.6h0m.1-13.6h0m0 2.5h0m.3-.7h0m.1-7.3h0m.1-6.1h0m0 .2h0m0 3.6h0m0 2.6h0m.1-14.8h0m.1 11.6h0m.1-9.7h0m.2 13.8h0m.1-12.4h0m.1 4h0m.1 25h0m.1-15.3h0m.3-6.4h0m0 13.5h0m.2-7.6h0m.2-1.6h0m.7 15.8h0m.1-8h0m.1-21.7h0m.2 5.4h0m0 3.6h0m.2 9.2h0m.1-17.6h0m0 5.3h0m.2 21.3h0m.9-17.7h0m.2 6.4h0m.3 3.3h0m.2-1.1h0m1.4-8.6h0m0 11h0" stroke="#5fb4e0" stroke-width="1.0" stroke-linecap="round" fill="none" stroke-opacity="0.95"/>
<path d="M49.8 134h0m.1-2.7h0m.3-2.6h0m.2 4.3h0m.1-.2h0m0 .1h0m.1 1.8h0m0 .3h0m.1-2.7h0m.1 .5h0m0 2.1h0m.1-3.9h0m0 6.4h0m.1-.9h0m.1-7.4h0m0 6.6h0m.1-6.9h0m.1-.1h0m.2 5.6h0m.3-5.5h0m0 4.7h0m0 4.2h0m.2-11.6h0m0 5.8h0m0 5.4h0m.1-8h0m0 1.9h0m.1-3.9h0m0 2.5h0m0 1.1h0m0 3.3h0m0 1.9h0m.1-4.2h0m0 .2h0m0 1.7h0m.2 4h0m.1-11.5h0m0 2.5h0m0 7.3h0m.1-1.6h0m.1-1.4h0m0 .4h0m.1-2.4h0m0 4.3h0m.1-.8h0m.1-3.2h0m0 1.5h0m.1-4.4h0m.2 .7h0m0 3h0m0 1.6h0m.1 1.5h0m.1-7.3h0m0 6.3h0m0 .6h0m.1-6.9h0m0 7.4h0m.1-3.3h0m0 .8h0m.1 1h0m.1-2.9h0m.1 1.8h0m0 .4h0m.1-4.6h0m0 1.1h0m0 .3h0m.3 2.4h0m.1 2.4h0m0 .2h0m.2-2.8h0m.1 26.7h0m0 2.8h0m.1-3.3h0m.1-.4h0m.1 4.6h0m.3-3.2h0m.1 .9h0m0 1.9h0m.3-1h0m.1 1.7h0m.4-5.2h0m0 0h0m0 2.3h0m.2-3.3h0m.1 5.3h0m.2-.2h0m.1 1h0m.2-.8h0m0 1.9h0m.1-6.3h0m0 2.6h0m.1-3h0m0 4.1h0m0 .1h0m0 1.7h0m.1-5.1h0m.3 0h0m.1 .5h0m.1-1.5h0m.1 4.2h0m0 2.1h0m.1-3.1h0m.1-.4h0m.1-1h0m0 2.7h0m0 1.1h0m0 2h0m.3-5.9h0m.1-1h0m.2-2h0m0 .9h0m.1 4.4h0m0 .4h0m.1-1.9h0m.2 4.8h0m.1-5.7h0m0 .8h0m.1-2.2h0m0 3.2h0m.1 2.7h0m.1-3h0m0 2.8h0m.1-.9h0m.2-.5h0m.2-3.2h0m.1-.9h0m.2 1h0m0 4.9h0m.3-1.2h0m.1-2.6h0m68.9-2.5h0m.5 2.9h0m.3 2.3h0m.1-1.2h0m.5 1.6h0m.1-6.9h0m1.2 4.3h0m0 2.2h0m.4-2.7h0m.1 4.5h0m.1-5.5h0m.4-1.7h0m.1-1.1h0m0 5.2h0m.1 1.5h0m.2-8.3h0m.3 6h0m.3-3.2h0m0 4.6h0m.2-3.4h0m.1 4.3h0m.1-5.1h0m.3 4.4h0m.1-7.9h0m.6 2.4h0m.3 4.5h0m.5-5.4h0m.1 2.1h0m.1-7h0m.3 10.7h0m.1-3.2h0m.1-2.4h0m.1 2.1h0m.1 2.8h0m.2 0h0m.3-1.7h0m.2-3.5h0m1.4 1h0m.9-2.3h0m73.9 4.5h0m3.2 2.4h0m0 3.3h0m.8-2.1h0m.1 .1h0m.7-5h0m.3 6.2h0m.2-2.7h0m0 2.8h0m.9-.4h0m.5-.9h0m.2-5.3h0m.3 3.3h0m.6-7.6h0m.1 4.3h0m.2 4.8h0m.1-6h0m0 7.1h0m.3-3.9h0m.1-7.1h0m0 11.5h0m.1-1.2h0m.2-7.3h0m0 7.1h0m.4-5.7h0m.1-.8h0m0 .6h0m.1-2.4h0m0 4.5h0m.2 2.1h0m.3-1.8h0m.2-2.7h0m.1-3.1h0m0 1.2h0m0 .3h0m0 2.8h0m0 1.9h0m0 2.7h0m.5-8.6h0m0 1.3h0m.3 1.3h0m0 .3h0m.1-1.1h0m0 3.8h0m.4-4.6h0m.1 2.5h0m.4 .9h0m.4-3h0m.7-1.2h0m.3-2.4h0m0 6h0" stroke="#f2c85a" stroke-width="1.0" stroke-linecap="round" fill="none" stroke-opacity="0.95"/>
<path d="M53.8 122.9h0m.7 7.4h0m.1-.6h0m.7 4.9h0m.2 7.3h0m.1-8.8h0m.4 1.4h0m.1 1.4h0m.1-7h0m.1-8.8h0m0 10.1h0m.1-3h0m.1-7.9h0m0 9h0m.2 6.5h0m.1-.4h0m0 3.3h0m.5-12.3h0m.2 0h0m.1 2h0m.2 11.1h0m.3-21.2h0m0 .1h0m0 14h0m0 2.2h0m.1-7.3h0m0 7.6h0m.2 .6h0m.1-6h0m0 12.1h0m.1-7.6h0m.1 1.5h0m0 7.6h0m.1-4.5h0m.2-21.4h0m0 32h0m.1-24.3h0m0 11.9h0m.1 .7h0m.1-10.3h0m0 9.6h0m0 3.8h0m.1-17.3h0m.1 13.6h0m.1-19.8h0m0 27.1h0m0 7h0m.2-13h0m.1-2.3h0m.1-21.1h0m0 5.9h0m0 7h0m0 2.6h0m.2 18.8h0m.1-4.2h0m.1-20.2h0m0 1.5h0m0 3.3h0m0 .3h0m0 9.2h0m.1-24.1h0m0 4.5h0m0 7.9h0m0 9.1h0m0 11.5h0m.1-16.5h0m0 2.5h0m0 .8h0m0 5.2h0m0 5.8h0m0 3.5h0m.2-14.9h0m.2-8.6h0m0 8.2h0m0 4.6h0m.1-9.1h0m0 9.6h0m0 2.4h0m0 8.8h0m.2-18h0m.1 3.4h0m.1 14h0m.1-24.8h0m.1-8h0m0 17.2h0m0 12.2h0m.3-18.7h0m0 13.2h0m.1-9h0m.1-5h0m.1-10.4h0m0 9.7h0m0 23.1h0m0 2.8h0m.1-21.8h0m0 17h0m.1-23.6h0m0 5h0m.1 8.6h0m.1 16.9h0m.1-21.4h0m0 5.4h0m0 5.9h0m.1-13.6h0m0 5.7h0m0 6.8h0m.1-21h0m0 4.9h0m0 8.6h0m0 11.7h0m0 .9h0m.1-33.4h0m0 1.4h0m0 7.6h0m0 4.1h0m0 .9h0m0 11h0m0 3.1h0m0 7.6h0m.1-20.3h0m0 .6h0m.1-6.4h0m.1-11.1h0m0 34.7h0m0 4.6h0m.1-24.9h0m.1-.5h0m0 26.3h0m.1-36.8h0m0 2.1h0m0 5.3h0m0 6.3h0m0 8.5h0m0 2.9h0m.1-24.8h0m0 .4h0m0 11h0m.1-6.6h0m0 10.8h0m0 15.9h0m.1-17.7h0m0 2.6h0m0 10.2h0m.1-21.4h0m0 33.7h0m.1-27.1h0m0 2.7h0m0 0h0m0 20.2h0m0 3.2h0m.1-41.5h0m0 3.9h0m0 25.5h0m.1-17.8h0m.1-2.8h0m0 13.3h0m.1-11.6h0m0 14.8h0m0 .8h0m0 2.8h0m0 9.1h0m.1-33.7h0m0 25.5h0m.1-19h0m.1 31.9h0m.1-37.1h0m0 16.4h0m0 1h0m.1-18.3h0m0 5.9h0m0 32.4h0m.1-37h0m0 21.5h0m0 9.8h0m.1-16.1h0m0 3.8h0m0 3.2h0m.1-19h0m0 5.5h0m0 13.4h0m0 .5h0m.1-29.1h0m0 19.2h0m0 21h0m.1-8.5h0m0 4.9h0m0 1h0m.1-25.7h0m.1-.9h0m0 9.6h0m0 16.2h0m.1-27.1h0m0 4.8h0m0 20.6h0m.1-24.7h0m0 27.8h0m.2-10.2h0m0 1.5h0m0 .6h0m.1-8.9h0m0 4h0m0 2.4h0m0 0h0m0 .1h0m0 12.6h0m.1-12.9h0m.1-9.5h0m0 10.2h0m.1-10.4h0m0 6.5h0m0 7.8h0m.1-17.6h0m0 1h0m0 1.1h0m0 2h0m0 2h0m0 17.3h0m0 .8h0m.1-19.4h0m0 2.8h0m.1-17.8h0m0 12.9h0m0 0h0m0 6.8h0m0 9h0m.1-32.2h0m0 25h0m.1-12.5h0m0 5.6h0m0 1.3h0m0 6.7h0m0 7.6h0m0 4.4h0m.1-17.4h0m0 2.3h0m0 2.1h0m.1-25.2h0m0 4.3h0m0 21h0m.1-19.3h0m0 1.7h0m.1 9.2h0m0 .9h0m0 .5h0m0 7.1h0m.1-24.3h0m0 15.9h0m0 .2h0m0 20.6h0m.1-40.1h0m0 10.8h0m0 9.1h0m0 1.3h0m.1-3h0m0 27.3h0m.1-32.1h0m0 19.1h0m0 6.1h0m.1-13.2h0m0 1.9h0m.1-21.5h0m0 20.5h0m0 5h0m0 .1h0m.1-26.6h0m0 7.5h0m0 10.2h0m0 3.7h0m0 7h0m.1-18.6h0m0 18.9h0m0 3.7h0m.1-23.4h0m0 13.4h0m0 4.9h0m0 3.4h0m0 2h0m.1-27.2h0m0 5.9h0m0 1.7h0m.1-9.1h0m0 3.9h0m0 18.3h0m.1-11.8h0m0 3.7h0m0 7.5h0m.1 6.7h0m0 5.6h0m.1-41h0m0 16h0m0 1.8h0m0 2.4h0m.1-10.3h0m.1-3.9h0m0 19.8h0m0 2.7h0m.1-26.9h0m0 7h0m0 21.4h0m0 12.9h0m.1-37.1h0m0 6.5h0m0 10.9h0m0 2h0m0 7.1h0m0 5h0m.1-29.7h0m0 10.8h0m0 11.6h0m0 2.5h0m.1-30.9h0m0 29h0m0 3h0m0 5.3h0m0 2.8h0m.1-21.1h0m0 10.1h0m0 14.5h0m.1-46.7h0m0 6.9h0m0 21.2h0m0 17.7h0m0 1.5h0m.1-32.8h0m0 12.8h0m0 5.2h0m0 11.4h0m.1-32.2h0m0 19.5h0m.1-6.5h0m0 9.4h0m0 8.2h0m.1-36.8h0m0 30.3h0m0 1h0m0 2.5h0m.1-34.1h0m0 10h0m0 11h0m0 3h0m0 9.6h0m0 8.5h0m.1-24.1h0m0 3h0m0 .2h0m0 .1h0m0 11h0m.1-30.1h0m0 8.5h0m0 8.7h0m0 3.2h0m.1-12h0m0 .9h0m0 .5h0m0 1.4h0m0 11.6h0m0 12h0m.1-20.3h0m0 .2h0m0 1.4h0m.1-13.8h0m.1 2.8h0m0 5.5h0m0 .1h0m0 2.2h0m0 19.4h0m.1-36.2h0m0 .4h0m0 5.2h0m0 13.1h0m0 5.1h0m0 1.9h0m.1-9.7h0m0 1.1h0m0 5.7h0m0 12.7h0m.1-31.5h0m0 2.7h0m0 11.6h0m0 7.1h0m0 7.3h0m.1-36.3h0m0 37.7h0m.1-7.3h0m.1-30h0m0 27.6h0m0 .4h0m0 .4h0m0 12.4h0m.1-32.6h0m0 18.2h0m0 3.6h0m.1-21.3h0m0 3.5h0m0 1.9h0m0 5.1h0m0 12.7h0m0 7h0m0 8.1h0m.1-22.9h0m0 17.3h0m.1-27.3h0m0 11.1h0m0 9.2h0m.1 9h0m.1-34.4h0m0 .2h0m0 32.6h0m.1-37.5h0m0 24.6h0m0 3h0m0 9.2h0m0 6h0m.1-28.2h0m0 .4h0m0 6.9h0m0 12.5h0m0 2.3h0m0 6.9h0m.1-19.9h0m0 3.3h0m0 12.3h0m.1-43.3h0m0 21.7h0m0 20.4h0m.1-28.3h0m0 6.3h0m0 2.2h0m0 15.5h0m.1-26.8h0m0 3.9h0m0 1h0m0 4.1h0m0 15h0m.1-27.5h0m0 12.2h0m0 7.7h0m0 6.3h0m0 12.8h0m.1-24h0m0 2.8h0m.1-12.1h0m0 5.4h0m0 2.2h0m0 .7h0m0 0h0m.1 4.3h0m0 19h0m.1-39.7h0m0 17.7h0m0 3.9h0m0 10.4h0m.1-37.3h0m0 12.8h0m0 2.4h0m0 11.4h0m0 2.4h0m.1-6.9h0m0 1.7h0m0 .8h0m0 2.5h0m0 13.6h0m.1-15.4h0m.1-12.9h0m0 4.4h0m0 2h0m0 26.6h0m.1-37.7h0m0 4h0m0 6.8h0m0 4.1h0m.1-10.3h0m0 9.4h0m0 2.7h0m0 1.9h0m.1-13.6h0m0 .3h0m0 11.9h0m0 16.1h0m.1-37h0m0 21.1h0m0 2.5h0m0 18.9h0m.1-31.3h0m0 11.6h0m0 18.4h0m.1-6.3h0m.1-31h0m0 6.6h0m0 15.1h0m0 12.2h0m.1-14.6h0m0 7.6h0m0 2.8h0m0 3.1h0m.1-1h0m.1-31.4h0m0 .3h0m0 27.9h0m.1-21h0m0 17.2h0m.2-32.2h0m0 9.1h0m0 13.7h0m0 .9h0m.1-17.3h0m0 2.6h0m0 14.5h0m0 4.7h0m.1-22.8h0m0 1.1h0m0 2.2h0m0 5.1h0m0 20.6h0m0 3.7h0m0 5.7h0m.1-35.4h0m0 2h0m0 5.6h0m0 8h0m0 7.6h0m0 8.1h0m.1-31.2h0m0 7.6h0m0 7h0m0 2.5h0m0 2.8h0m0 6.7h0m.1-34h0m0 26.8h0m.1-6.5h0m0 11.3h0m0 9.3h0m0 .6h0m0 2.8h0m.1-9.9h0m.1-35.5h0m0 10.5h0m.1 16.9h0m0 7.3h0m0 1.1h0m0 2.5h0m.1-13.6h0m0 12.1h0m0 4.9h0m.1-30.8h0m0 11.2h0m.1-16.7h0m0 8.7h0m0 4.1h0m0 3.5h0m.1-11.9h0m0 33.4h0m0 1.8h0m.1-39.4h0m0 8h0m0 3.6h0m0 .1h0m0 6.8h0m0 4.4h0m0 1.3h0m0 1.8h0m0 3.9h0m.1-16.6h0m0 3h0m0 4.9h0m.1-13.8h0m0 1.8h0m0 4.2h0m0 6.8h0m.1-8.4h0m0 5h0m0 16.6h0m.1-32.1h0m0 5.8h0m0 10.5h0m0 6.5h0m0 3.3h0m0 4.2h0m.1-25.2h0m.1-6.6h0m0 21h0m0 6.5h0m0 2h0m0 5.2h0m.1-11.6h0m0 .4h0m0 2.2h0m0 5.5h0m0 2.2h0m.1-31.8h0m0 15.6h0m0 2.4h0m0 8.9h0m.1-9.5h0m0 4.7h0m.1-27.3h0m0 1.3h0m0 20.9h0m0 12.4h0m0 6.7h0m.1-35.5h0m0 2.3h0m.1-3.3h0m0 9.4h0m0 8.5h0m0 6.9h0m.1-24.1h0m0 13.9h0m0 11.6h0m0 10.3h0m.1-36.2h0m0 4.1h0m0 .8h0m0 4.4h0m0 3.3h0m0 .9h0m0 16.5h0m0 4.4h0m.1-35.5h0m0 5.9h0m0 23.1h0m.1-31.1h0m0 15.7h0m0 1.2h0m0 17.5h0m.1-28.2h0m0 10.6h0m0 15.4h0m.2-32.6h0m0 5h0m0 4.6h0m0 10.4h0m0 14h0m.1-7.6h0m.1-13.7h0m0 4.7h0m0 18.1h0m.1-25.6h0m0 16.1h0m0 11h0m.1-22.3h0m0 16h0m0 7.8h0m.1-38.8h0m0 8.6h0m0 .7h0m0 6.4h0m0 2.6h0m0 5.7h0m0 5.9h0m0 1.6h0m0 .2h0m.1-28h0m0 8.1h0m0 5.8h0m.1 8.6h0m0 7.6h0m.1-34.1h0m0 6.5h0m0 24.4h0m.1-30.6h0m0 18.4h0m0 9.5h0m.1-11.4h0m0 3h0m0 13.4h0m0 .5h0m0 3.3h0m.1-22.2h0m0 .2h0m0 11.5h0m0 .7h0m0 2.4h0m0 5.2h0m.1-26.4h0m.1-8h0m0 15.1h0m.1-15h0m0 7.8h0m0 4.2h0m0 14.8h0m0 6.6h0m.1-19.6h0m0 4h0m0 4.4h0m0 1.1h0m.1 8.1h0m.1-19.1h0m.1-9.1h0m0 6.4h0m0 22.3h0m0 4h0m.1-30.2h0m0 .4h0m0 26.7h0m.1-21.8h0m0 3.3h0m0 .6h0m0 4.4h0m.1-9.3h0m0 14.5h0m0 1.8h0m.1-19.5h0m0 25.5h0m.1-18.5h0m.1 13.3h0m.1-6.4h0m0 2.4h0m.1-20.4h0m0 4.9h0m0 5.9h0m.1 2.8h0m0 8.1h0m.1-12.6h0m0 13.6h0m.1-4.9h0m0 7.7h0m.1-12.7h0m0 16.5h0m.1-15.2h0m0 12.7h0m0 5.6h0m.1-25.3h0m0 5.6h0m0 2h0m0 10h0m.1-18.6h0m0 5.7h0m.1-4.2h0m0 5.4h0m0 12.7h0m.1-16h0m0 17.7h0m.1-20.2h0m0 9h0m0 1.3h0m0 3h0m.1-16.3h0m0 3.2h0m0 1.5h0m0 6.4h0m0 4.8h0m0 3.1h0m0 1.5h0m.1-3.7h0m.1-17h0m0 16.9h0m0 1.1h0m.1-12.6h0m.1 .7h0m.1 17.5h0m0 3.7h0m0 .2h0m.1-25.1h0m0 2.2h0m.1 4h0m0 4.2h0m0 12.9h0m.1-19.5h0m0 9.5h0m.1-10.9h0m0 13.1h0m.1-15.3h0m0 2h0m0 6h0m.1-3.2h0m.1 4.9h0m.1-4.1h0m.1 11.1h0m0 1.9h0m.1-17.4h0m0 8.6h0m0 4.2h0m0 2.8h0m.1-12.8h0m0 8.3h0m0 7.4h0m.1-17.1h0m0 20.8h0m.1-13.2h0m.1-14.6h0m0 1.6h0m.1 14h0m0 8.2h0m0 3.4h0m.1-18.7h0m0 7.7h0m.1-1.8h0m0 10.5h0m.1-18.5h0m0 4.4h0m0 10.8h0m.2-10.7h0m0 11.5h0m.1-13.5h0m.1 1.5h0m0 6.6h0m0 5.1h0m.1-13.1h0m.1 4.3h0m0 11.3h0m.1-18.8h0m.2 12.9h0m0 2.9h0m.1-6.9h0m.1-8.1h0m0 0h0m.1 6.9h0m.1-7.2h0m0 10.2h0m.2-11.3h0m0 9.3h0m.1-6.9h0m0 14.5h0m.1-10.8h0m.4 5.6h0m0 2h0m.1-8.8h0m.2-4.6h0m0 1.6h0m.3-.9h0m0 2h0m.1 6h0m.2-4.4h0m.1 1.6h0m.2-3.2h0m0 2.2h0m0 6.2h0m.2-8.6h0m.1 4.5h0m.2-3.7h0m.1 .7h0m.2 6.2h0m.3-.6h0m.1-.7h0m43.8-1.7h0m.2-1.1h0m.9 8h0m1.2 .9h0m.5-10.7h0m.2-7.3h0m0 1.9h0m.2 3.1h0m.1 7.4h0m.1-12.7h0m.1 20.6h0m.3-19.5h0m.1 3.8h0m.1 15.3h0m0 1.7h0m.1-2.4h0m.3-16.4h0m0 4h0m.1-5.9h0m0 19.7h0m.3-5.3h0m0 4.7h0m.1-17.6h0m0 16h0m.3-3.8h0m0 4.4h0m.1-5.7h0m0 3.9h0m.1-5.9h0m0 10.8h0m.1-4.8h0m.1-17.8h0m0 15.1h0m0 4.6h0m.1-5.3h0m.1-.8h0m0 7.6h0m.3-10.6h0m0 1.8h0m.1-10.2h0m.1 6h0m.1 7.5h0m.3 8.4h0m.1-16h0m.1 9.8h0m.1 6.9h0m0 .1h0m.1-6.8h0m0 11.7h0m0 1.5h0m.1-10.1h0m0 1.5h0m0 0h0m.1-11.6h0m0 7.7h0m.1 1h0m0 7.1h0m.2-1.6h0m0 5h0m0 .2h0m.1-20h0m0 2.6h0m0 4.2h0m0 9.5h0m.1-3.9h0m.1 4.2h0m0 .1h0m0 4.3h0m.1-15.7h0m.1-10.2h0m.1 27.1h0m.1-24.1h0m0 20.6h0m0 2.4h0m.1-7.1h0m.1-21.5h0m.1 6.9h0m0 1.2h0m.1-11.7h0m.1 18.1h0m.1-3.7h0m0 .5h0m.2 6.8h0m0 2.5h0m0 1.4h0m0 2h0m.1-2.4h0m.1-9.6h0m0 .8h0m.1-14.3h0m0 2.2h0m0 8.6h0m.1-9.5h0m0 3.7h0m0 19.3h0m.1-13.7h0m0 5.9h0m0 .2h0m.1-20.1h0m.1 10.3h0m0 3.5h0m0 5.4h0m0 10.5h0m.1-22.3h0m0 22h0m.1-32.6h0m0 24.4h0m.1-20.9h0m0 7.3h0m0 26h0m.1-29.4h0m0 4.1h0m.1-1.8h0m0 2.9h0m0 13.5h0m.1-10.8h0m0 15.8h0m.1-17.7h0m0 5h0m0 .9h0m0 7.7h0m.1-22.7h0m0 1.3h0m0 5.9h0m0 22.3h0m0 4.4h0m.1-40.4h0m0 23.2h0m0 4.6h0m0 6.3h0m.1 4.2h0m.2-10.1h0m.1-21.7h0m0 8.6h0m0 2.7h0m0 1.6h0m.1 9h0m0 2.1h0m.1-17.4h0m0 10.4h0m0 .2h0m0 .7h0m.1-15.8h0m0 4.6h0m0 .5h0m0 8.3h0m0 12.5h0m0 4.9h0m.1-26.5h0m0 3.2h0m0 12.1h0m.1-14.2h0m0 .5h0m0 8.6h0m0 4.9h0m.1 10.5h0m.2-25.9h0m0 6.3h0m0 9.2h0m0 9.6h0m.1-14.8h0m0 10.5h0m0 3.1h0m.1-24.8h0m0 4.6h0m0 3.2h0m0 1.5h0m0 .3h0m.1-13.2h0m0 13.5h0m0 0h0m0 11.9h0m.1-25.7h0m0 12.2h0m.1-7.4h0m0 1.7h0m0 13.2h0m.1-18.9h0m0 6.1h0m0 3.6h0m0 .1h0m.1-9.9h0m0 13.9h0m.1-15.3h0m0 .8h0m0 5.4h0m0 12.4h0m.1 10h0m.1-10.1h0m.1 7.4h0m0 10.4h0m.1-25.6h0m.1 7.3h0m0 3.4h0m.1-23.2h0m0 11.2h0m.1 10.8h0m0 11h0m.1-16.8h0m.1-4.7h0m0 9.8h0m0 12.9h0m0 1.2h0m.1-31.7h0m0 1.7h0m0 12.6h0m0 6h0m.1-21.6h0m0 1.1h0m0 8h0m.1 4.9h0m0 11.4h0m0 7.3h0m.1-34.2h0m0 5.8h0m0 7.9h0m.1-11.3h0m0 2.5h0m0 2h0m.1 4.9h0m0 10.5h0m.1-15.3h0m0 8.1h0m0 6.9h0m0 .1h0m0 4.8h0m.1-25h0m0 9.5h0m0 11.8h0m0 1.7h0m0 .1h0m.1-24.1h0m0 12.5h0m0 14.4h0m0 10.1h0m.1-21.1h0m.2-19.5h0m.1 16.4h0m0 5.1h0m0 10.7h0m0 4.2h0m.1-18.3h0m.2 4.5h0m0 1.7h0m0 3.6h0m.1-17h0m0 .1h0m0 1.3h0m0 8.2h0m.1-9.5h0m0 3.5h0m0 3.3h0m0 7.5h0m.1-25h0m0 23.7h0m0 1.4h0m0 .7h0m.1-11.3h0m0 .9h0m0 2.2h0m0 5.3h0m0 8.5h0m.1-5.7h0m0 4.4h0m.1-20.8h0m0 2.7h0m0 7.5h0m0 2.2h0m0 12.7h0m0 .5h0m.1-24.2h0m0 1.4h0m0 .3h0m0 4.7h0m0 3.3h0m0 2.9h0m0 6.9h0m0 4.1h0m.1-4.5h0m.1-18.6h0m0 18.7h0m.1-28.8h0m0 2.6h0m0 8.3h0m0 6.7h0m0 5.1h0m0 3.5h0m.1-26.5h0m0 16.4h0m0 15.2h0m.1-28.5h0m0 10.7h0m0 8.1h0m0 .6h0m0 3.7h0m.1-14.5h0m0 2.6h0m0 2.4h0m0 .8h0m0 23.1h0m.1-27.5h0m0 4.3h0m0 .4h0m0 6.4h0m.1-16.7h0m0 1.6h0m0 12h0m0 8.9h0m.1-21.4h0m0 1.9h0m0 6.9h0m0 .5h0m0 2.9h0m.1-3.8h0m0 8.8h0m0 6h0m0 7.8h0m.1-22.6h0m.1-8.2h0m0 3.8h0m0 5.7h0m0 21.9h0m.1-30.6h0m0 5.5h0m0 14.7h0m.1-10.1h0m0 17.7h0m0 1.3h0m0 0h0m.1-19.4h0m0 5h0m.1-17.3h0m0 23.8h0m0 4.2h0m.1 1.3h0m.1-26.5h0m0 1h0m0 3.2h0m0 15.3h0m.1 1.7h0m0 .3h0m0 1.9h0m0 1.9h0m.1-40.4h0m0 7.4h0m0 26.2h0m0 6.5h0m.1-31.5h0m0 4.4h0m0 9h0m0 3.4h0m0 8.5h0m0 1.3h0m0 2.8h0m.1-35.3h0m0 33.6h0m.2-18.7h0m0 7.2h0m0 10.2h0m0 3.1h0m.1-13.5h0m0 .8h0m0 7.8h0m.1-31.6h0m0 17.5h0m0 3h0m.1-10h0m0 1.9h0m0 5h0m0 .7h0m0 .3h0m0 .5h0m0 1.8h0m0 13.6h0m0 1.4h0m0 .4h0m0 3.4h0m.1-35.4h0m0 9.3h0m0 5.2h0m0 1.9h0m0 3h0m0 5.2h0m0 6.1h0m0 2h0m0 .4h0m.1-24h0m0 2.6h0m0 1.7h0m0 6h0m0 3.5h0m0 1.4h0m.1-15.3h0m0 18h0m0 2.2h0m0 .5h0m0 10.5h0m.2-45.6h0m0 13h0m0 4.5h0m0 12.5h0m.1-28h0m0 30.8h0m0 8h0m.1-24.1h0m0 5.1h0m0 13.7h0m.1-14.9h0m0 2.2h0m0 8.9h0m0 8.5h0m0 3.7h0m.1 .4h0m.1-38.2h0m0 3.7h0m0 2h0m0 7.3h0m0 1.8h0m0 1.7h0m0 6.5h0m0 2.5h0m0 5h0m0 .3h0m.1-17.9h0m0 2.8h0m0 13.3h0m.1-5h0m0 5.7h0m.1-24.2h0m.1 6.4h0m.1 3.9h0m0 .9h0m0 5.3h0m.1-19h0m0 8.7h0m0 2.2h0m0 6.2h0m0 .7h0m0 9h0m0 7.8h0m.1-30.1h0m0 5.9h0m0 1.6h0m0 17.8h0m.1-25.2h0m0 6.6h0m0 9.2h0m0 6h0m.1-16.4h0m0 1.4h0m0 6.7h0m0 3.7h0m0 .5h0m.1-18.7h0m0 15.1h0m0 4.9h0m0 1.3h0m0 .1h0m0 .2h0m.1-31.1h0m0 34.8h0m0 1.6h0m.1-25.9h0m0 4.8h0m0 3.2h0m0 .8h0m0 4h0m0 11.3h0m0 .3h0m.1-13.1h0m0 9.6h0m0 3.6h0m.1-31.4h0m0 2.1h0m0 3.8h0m0 11h0m0 10.6h0m.1-28.9h0m0 20.4h0m0 10.3h0m0 6.7h0m.1-34.5h0m0 8.4h0m0 6.6h0m0 5.8h0m.1 9.3h0m.1-25.1h0m0 8.9h0m0 2.1h0m0 9.6h0m0 9.9h0m.1-28.3h0m0 12.9h0m0 11.1h0m.1-30.3h0m0 3.3h0m0 7.3h0m0 14.3h0m.1-2.5h0m.1-21.9h0m0 1h0m0 17.3h0m0 1.8h0m0 7.6h0m.1-13.7h0m0 1.1h0m0 13.8h0m.1-24.9h0m0 .2h0m0 12.8h0m0 13.7h0m.2-32.6h0m0 6.6h0m0 3.9h0m0 9.6h0m0 6h0m0 .2h0m.1-25h0m0 4.4h0m0 1.1h0m0 19.2h0m.1-18.2h0m0 19.6h0m.1-20.9h0m0 2.1h0m0 8h0m0 4.8h0m.1-24.1h0m0 19.1h0m.1-.5h0m0 8.5h0m.1-24.3h0m0 26.1h0m0 6.1h0m.1-20.5h0m0 8.4h0m0 .5h0m0 2.8h0m0 1.7h0m0 5.4h0m0 1.8h0m.1-33.7h0m0 13h0m.1 7.8h0m0 .7h0m0 6.5h0m0 2.6h0m.2-15.7h0m0 11.7h0m0 2.2h0m.1-17.1h0m.1-9.5h0m0 15.4h0m0 .7h0m.1-20.4h0m0 11.8h0m0 8.7h0m.1-18.9h0m0 34.4h0m.1-23.3h0m0 10.3h0m0 9.1h0m.1-16.2h0m0 4.3h0m0 11.7h0m0 3.4h0m.1-28.2h0m0 16.9h0m.2-10.5h0m0 11h0m0 2.8h0m0 1.2h0m0 1h0m0 2.9h0m.1-18.8h0m0 17.6h0m0 1.3h0m.1-17.1h0m0 5.1h0m.1-4h0m0 8h0m.1 4.6h0m.1-27.9h0m0 4h0m0 .2h0m0 .2h0m0 19.2h0m.1-17.3h0m0 6.3h0m0 15.3h0m0 .3h0m.1-28.6h0m0 22.6h0m.1-.2h0m.1-19.4h0m0 27.7h0m0 2.5h0m0 1.6h0m.1-10h0m0 1.9h0m.1-8.5h0m0 15h0m.1-1.6h0m.1-23.4h0m0 8.5h0m.1-5.9h0m.1 2.7h0m0 17.5h0m.1-21.8h0m0 14.6h0m.1-9.9h0m0 10h0m.1-21h0m.1 9.1h0m0 6.3h0m0 2.1h0m0 3.8h0m0 2.3h0m.2-21.2h0m0 13.2h0m0 2.6h0m0 .2h0m0 5.6h0m0 3.5h0m.1-12.2h0m0 7.3h0m.1-13.4h0m0 2.5h0m.1 7.8h0m0 4.5h0m.1-15.4h0m0 5.9h0m0 .4h0m0 5.4h0m0 6.6h0m.1-20h0m0 1.1h0m0 13.6h0m0 8.3h0m.2-21.7h0m0 8.1h0m0 .4h0m.1-14.1h0m0 20.3h0m.3-20h0m0 4.3h0m0 14.1h0m.1-19.9h0m0 9.5h0m0 7h0m.1 9.3h0m.2-.1h0m0 .1h0m.1-8.7h0m0 1.6h0m0 4.5h0m.1 1.5h0m.1-19.8h0m.1 2.7h0m0 16.3h0m.1-4.3h0m.1-16.3h0m0 8.8h0m0 6h0m0 .2h0m.1-8.3h0m0 6h0m.1 1.4h0m.2-4.8h0m.1-3.4h0m.1 5.4h0m.1-5.1h0m0 11.8h0m.1-6.2h0m0 .2h0m.2-7.3h0m0 9.2h0m.1-8.7h0m0 3.4h0m0 9.4h0m.1-17.7h0m.3 15.1h0m.1-14.9h0m0 5h0m0 .4h0m.3-3.7h0m.4-.8h0m.1 8.5h0m.2-3.4h0m0 4.3h0m.3-2.7h0m0 .4h0m0 5.8h0m0 .2h0m.2-6.7h0m0 2.8h0m.6-4.2h0m0 1.1h0m0 .1h0m.1 3.7h0m.1 1.3h0m.3-2.9h0m.2-4.2h0m0 4.3h0m.3-2.3h0m49.8-1.7h0m.1-1.3h0m.4 2h0m.5-6.2h0m.5-.2h0m.6-1.4h0m.4-1.7h0m0 2.5h0m.1 12.9h0m.2 3.3h0m.2-6.7h0m.3-11.3h0m.3 18.2h0m.2-10.5h0m.1 12.3h0m.4-13.6h0m0 2.9h0m.4 3.5h0m.2-13.8h0m0 20.5h0m.1-25.7h0m0 5.8h0m0 7.7h0m.4-1.6h0m.1-1.9h0m0 .2h0m0 12.1h0m.1-12.7h0m0 4.8h0m.1-3.4h0m.4-4.9h0m0 12.5h0m.4-3.9h0m.1-13.7h0m.3 24h0m.1-20.2h0m0 26.7h0m.1-18.6h0m0 12h0m.1-12.7h0m0 1.9h0m0 .3h0m.2-5h0m0 13.5h0m.1-26.1h0m0 17.2h0m.2-16.9h0m0 12.6h0m0 2.5h0m.4-4.3h0m0 14.6h0m.1-7.6h0m0 11.7h0m.2-14.9h0m0 11.3h0m.1-17.3h0m0 9.2h0m.1 13.6h0m.1 5.9h0m.1-13h0m0 4.6h0m.1-19.8h0m0 18.3h0m0 1.7h0m0 8.6h0m.1-38.8h0m.1 11.8h0m.1-8.9h0m.1 13.8h0m0 4.3h0m0 .1h0m.1-13.6h0m0 28.5h0m0 1.5h0m.2-31.3h0m0 10.1h0m.2-3.5h0m.1-1h0m0 21.3h0m0 .9h0m.1-1.2h0m.1-10.6h0m.1 2.9h0m.1-19.5h0m.1 34.2h0m.1-27.9h0m0 1.9h0m.1 5h0m0 8.2h0m0 2.4h0m.2-22h0m0 8.6h0m.1-13.8h0m0 .3h0m0 7h0m0 5.5h0m0 23h0m.1-30.7h0m0 .8h0m.1 29.6h0m.2-17.9h0m0 11.5h0m.2-19.1h0m.1 4.4h0m.1-13.7h0m0 5.9h0m.1 1.5h0m.1 7.9h0m0 11h0m0 1h0m0 3.8h0m.1 .1h0m0 1.6h0m.1-29.4h0m0 24.1h0m0 5.8h0m.1-4.1h0m.1-28.5h0m0 13.1h0m0 10.1h0m.1 12.6h0m.1-16.5h0m.1-9.9h0m0 10.5h0m.1 10.1h0m0 2.7h0m.1-32.2h0m.1 23.8h0m0 9.8h0m.1-15.4h0m0 4h0m.1-24.3h0m0 11.4h0m.1-1.7h0m0 19.5h0m0 1.7h0m.1-34.7h0m0 4.3h0m0 31.3h0m0 1h0m0 3.6h0m.1-31h0m0 9.8h0m0 .6h0m0 3.8h0m0 6.7h0m0 1.9h0m0 8.7h0m.1-37h0m.1 5.5h0m.1-9.3h0m0 13.6h0m0 3.6h0m0 1.1h0m0 5.5h0m0 13h0m.1-3.1h0m0 .6h0m.1-5.9h0m0 11.3h0m.1-19.1h0m.1-16.1h0m0 33h0m.1-19.2h0m0 2.8h0m0 2.8h0m.1-3.2h0m.1-7.2h0m0 8.5h0m0 1h0m0 3.2h0m.1-19.8h0m0 9.3h0m.1 0h0m0 .5h0m0 1.5h0m0 26.1h0m.1-38.1h0m0 8.3h0m.1-14.5h0m0 6.7h0m0 3.2h0m0 13.8h0m.1-17h0m0 14.6h0m0 8.9h0m.1-15.4h0m0 8.5h0m0 23.4h0m.1-35.1h0m0 18.9h0m0 2h0m.1-24.6h0m0 19.6h0m0 8.1h0m.1-11.2h0m.1-21.3h0m0 13.6h0m0 .9h0m0 11.8h0m0 11h0m.1-21.6h0m0 15.6h0m.1-26.6h0m0 2.4h0m0 30.3h0m.1-5h0m.1-22.9h0m0 2.3h0m0 22.8h0m.1-29h0m0 7.7h0m0 9h0m0 12.5h0m.1-23.1h0m0 5.2h0m0 2h0m0 1.7h0m0 6.1h0m.1-12.3h0m0 4.2h0m.1-22.2h0m0 15.1h0m0 28.2h0m.1-33.8h0m0 11h0m0 20.6h0m.1-40.2h0m0 7h0m0 27.6h0m.1-25h0m0 7.7h0m0 6.9h0m.2-9.5h0m0 5.9h0m0 2.9h0m.1 14.5h0m.1-32.8h0m0 12.3h0m0 8.1h0m.1 8.7h0m0 1.5h0m.1-24h0m0 4.5h0m0 9.4h0m.1-17.3h0m0 2.5h0m.1 16.7h0m0 17.7h0m.1-28.4h0m.1 2.2h0m0 5h0m0 9.2h0m.1 6h0m0 6.8h0m.1-28h0m0 12.7h0m0 12.2h0m.1-35.3h0m0 3h0m0 9h0m0 14.3h0m0 1h0m0 6.8h0m.1-27.1h0m0 2.6h0m0 5.5h0m0 1.2h0m.1-22h0m0 3.4h0m0 2.3h0m0 9.4h0m0 17.5h0m0 4.9h0m.1-20.4h0m0 3.2h0m0 2.1h0m0 1.4h0m0 8.4h0m.1-33.9h0m0 28.7h0m0 6.3h0m0 9.6h0m.1-39.9h0m0 16.4h0m.1 .1h0m0 3.8h0m0 17.6h0m.1-29.9h0m0 23h0m0 10.1h0m.1-24.1h0m0 .6h0m0 5.5h0m0 1.8h0m0 4.2h0m0 2h0m0 4.4h0m.1-14h0m0 6.5h0m0 3.6h0m.1-16.1h0m0 0h0m.1-2.7h0m0 13.5h0m0 4.4h0m.1-22.5h0m0 10.6h0m.1-22.9h0m0 4h0m0 3.9h0m0 13.9h0m0 .1h0m0 1.9h0m0 3h0m.1 2.3h0m0 1.1h0m.1-28.7h0m0 .5h0m0 3.8h0m0 11.5h0m0 1.6h0m.1 5.1h0m0 .8h0m0 3.2h0m.1-20.9h0m0 3.9h0m.1-5.8h0m0 15.1h0m0 10.9h0m0 .7h0m0 2.1h0m0 5.5h0m.1-22h0m0 1.6h0m0 6.1h0m0 1.4h0m0 14.4h0m.1-39.5h0m.1 18.6h0m0 4.3h0m.1-4.8h0m0 15.1h0m0 5.8h0m.1-13.5h0m.1-6.1h0m.1-.6h0m0 2.9h0m0 1.1h0m0 15.6h0m0 1.7h0m.1-30.2h0m0 3.2h0m0 1h0m0 8.4h0m0 4h0m0 5.1h0m0 4.9h0m.1-23.9h0m.1 6h0m0 4.6h0m0 3.5h0m0 11.8h0m.1-29.7h0m0 9.9h0m.1-19.9h0m0 9h0m0 4.6h0m0 7.8h0m0 1.3h0m.1-18h0m0 5h0m0 .8h0m0 13.9h0m0 5.8h0m0 .6h0m0 1.6h0m0 5.1h0m0 1.5h0m.1-27h0m0 9.3h0m0 .2h0m0 5.2h0m.1 9.7h0m0 3h0m.1-41.7h0m0 6.6h0m0 10.5h0m0 8.8h0m0 16.3h0m0 1.4h0m.1-33.8h0m0 14h0m0 19h0m.1-24.9h0m0 7.8h0m.1-2.7h0m0 1.7h0m0 2.6h0m0 2.8h0m.1-20.7h0m0 8.9h0m0 9.4h0m.1-16.2h0m0 12.5h0m.1-16h0m0 1.5h0m0 13.2h0m.1-10.4h0m0 .8h0m0 8.9h0m0 13.9h0m0 3.6h0m.1-3h0m0 3h0m.1-15h0m0 10.9h0m0 3.5h0m.1-14.8h0m0 19h0m.1-25h0m0 7h0m0 11h0m.1-24.1h0m0 1.9h0m0 6.5h0m0 3.6h0m0 1.5h0m0 13.3h0m0 1.2h0m.1-10.3h0m0 2.2h0m.1 .3h0m0 5.5h0m0 1h0m0 5.9h0m.1-16.3h0m0 4.1h0m0 13.2h0m.1-21.8h0m0 2.1h0m0 13.6h0m.1-38.8h0m0 25.7h0m0 .4h0m0 4.6h0m0 9.5h0m0 5.1h0m.1-37.2h0m0 5.9h0m0 13.7h0m0 10.9h0m.1-17h0m0 17.6h0m.1-36.1h0m0 20.3h0m0 .1h0m0 10.2h0m.1-28.6h0m.1 2.4h0m0 1.4h0m0 3.1h0m0 9.6h0m0 20.9h0m.1-24.4h0m0 3.6h0m0 17.9h0m0 7.1h0m.1-27.8h0m0 2.8h0m0 5.7h0m0 2.8h0m0 1.2h0m0 3.2h0m0 1.3h0m0 4.4h0m.1-23.4h0m0 4.9h0m0 10.5h0m.1-25.4h0m0 4.2h0m0 20.4h0m0 .7h0m.1-17.3h0m0 29.7h0m.1-40.9h0m0 5.1h0m0 3.6h0m0 3.2h0m.1 5.3h0m0 17h0m.1-6.4h0m0 15h0m.1-36.4h0m0 1.8h0m0 2.6h0m0 16.9h0m0 6.2h0m.1-26.8h0m0 23.7h0m.1-31.4h0m0 13.4h0m0 17h0m.1-10.7h0m0 4.7h0m.1 8.2h0m.1-35.5h0m0 5.6h0m0 29.4h0m0 5.8h0m.1-23h0m0 16.6h0m0 3.6h0m0 .1h0m0 4.5h0m.2-25.9h0m0 16.3h0m0 12.5h0m.1-41.6h0m0 14.4h0m0 4.5h0m0 1.7h0m0 6.6h0m0 1.1h0m0 7.6h0m.1-31.3h0m0 1h0m0 18h0m0 3.3h0m.1 8.3h0m.1-29.3h0m0 21.5h0m.1-20.8h0m0 2h0m0 7.3h0m0 .2h0m0 .6h0m0 3.1h0m0 3h0m.1-11.7h0m0 .7h0m0 8.1h0m0 9.9h0m.1-24.9h0m0 14.3h0m0 9.7h0m0 4.9h0m0 6.6h0m.1-18.2h0m.1-1.2h0m0 6.9h0m.1-24.9h0m0 .4h0m0 13.7h0m0 1.6h0m0 8.5h0m0 5.5h0m.1-1.2h0m.1-19.8h0m0 16.9h0m0 .5h0m0 .9h0m0 4.1h0m0 .6h0m.1-6.4h0m.1-25.2h0m0 1.8h0m0 9.8h0m.1-12.3h0m0 11.6h0m.2-3.3h0m.1 5.1h0m0 7.3h0m.1 1.4h0m.1-4.4h0m0 2.7h0m0 8.2h0m.1-25.1h0m0 31.1h0m.1-29.7h0m.1 6.8h0m0 8.2h0m0 13.5h0m.2-19.2h0m0 5.9h0m.1-17.4h0m.1 2.8h0m0 3.4h0m0 7h0m0 .7h0m0 12h0m0 3h0m.1-16.6h0m0 15.3h0m.1-25.5h0m.1 2.1h0m0 21.7h0m.1-3.5h0m.1-17.4h0m0 4.9h0m0 4.1h0m0 1.4h0m0 3.8h0m0 2.9h0m0 2.3h0m.1-29.3h0m0 6.9h0m0 7.8h0m.2 2.5h0m.1 12h0m.1-13.3h0m.1-4.3h0m.2 8.8h0m0 10.3h0m.1-31h0m0 13.9h0m0 8.1h0m0 3.1h0m.1-13.5h0m0 9.7h0m0 3.7h0m0 2.6h0m0 9.6h0m.1-25.5h0m0 7.6h0m.1-10.5h0m0 2.5h0m0 5.1h0m0 2.7h0m0 17.6h0m.1-23.6h0m0 5.1h0m0 10.9h0m0 2h0m.1-8.9h0m0 9.2h0m.1-26.4h0m0 20h0m.1-19.1h0m0 25.2h0m.1-20.5h0m0 6.6h0m0 .9h0m.1-14.3h0m0 21.2h0m0 3.2h0m.1-21.6h0m0 2.8h0m0 19.6h0m0 .7h0m0 4.5h0m0 1.5h0m.1-21.1h0m0 .8h0m0 18.3h0m.1-31.1h0m0 19.8h0m.1-20.5h0m0 3h0m0 1.7h0m0 25.8h0m.1-22.4h0m0 4.8h0m0 3.8h0m0 2.2h0m0 10.5h0m.1-29.7h0m0 19h0m0 3h0m0 2.4h0m.1-15h0m0 23.8h0m.1-22h0m.1-5.4h0m0 7.7h0m0 2h0m0 9.4h0m0 .4h0m0 1.2h0m0 1.1h0m0 4.2h0m.2-18.7h0m0 5h0m0 3.6h0m0 3.8h0m0 3.3h0m.1-15.8h0m0 5.2h0m0 8.7h0m.1-5.7h0m0 8.6h0m.2-3.2h0m.1-8.1h0m.1 4.9h0m.1 5.5h0m.1-15.5h0m0 12.3h0m.1-14.6h0m0 1h0m0 17.8h0m.1 1.2h0m.1-3.6h0m0 .6h0m.1-4.4h0m0 7.1h0m.1-23.1h0m.1 4.1h0m0 1.8h0m0 2h0m0 3.3h0m0 .8h0m.1-15.1h0m.2 6.2h0m0 9h0m.1-6.2h0m0 5.5h0m.1 1.1h0m0 2.6h0m0 .5h0m.1-1.7h0m0 2.5h0m.1 2h0m.1-22h0m0 5h0m0 14.6h0m0 .3h0m0 2.6h0m.2-22.8h0m0 .3h0m0 18h0m.3-6.2h0m0 2.9h0m.1-3.6h0m0 8.1h0m.1-3.7h0m0 7.6h0m.2-7.8h0m0 8.6h0m.2-16.3h0m.1 6h0m.1 .5h0m.1-6.4h0m0 14.3h0m.1-17.8h0m0 12.8h0m.1-8.7h0m0 12h0m.1-9.2h0m0 10.5h0m.3-13h0m0 2.7h0m.1-6.1h0m0 2.9h0m.1 5.7h0m.1 0h0m0 6.5h0m.6-9.4h0m.1-2.3h0m.1 5.9h0m.2 4.8h0m.1-3.1h0m.2-5.8h0m0 7.5h0m.2-2.6h0m.1-3.8h0m.2 3.5h0m0 1.3h0" stroke="#3590cc" stroke-width="1.0" stroke-linecap="round" fill="none" stroke-opacity="0.95"/>
<path d="M194.4 128.3h0m.1-1.2h0m0 .9h0m.2-2.6h0m.1 0h0m.2-1.2h0m0 1.1h0m0 4.9h0m.1-5.5h0m0 4.8h0m.2-.8h0m0 2.9h0m.1-2h0m.1-6.1h0m.2 3.4h0m.1 .3h0m0 3.8h0m.1-8.3h0m.1 2.5h0m0 1.7h0m0 3.4h0m.1-1.7h0m.1-4.3h0m0 6.4h0m.3-3.3h0m.1 .5h0m.1-3h0m0 5.7h0m.1-.3h0m.1-3.6h0m0 2h0m0 2.8h0m.2-8.5h0m0 1.5h0m0 4.6h0m0 3.9h0m.1-7.2h0m0 5h0m.1 .7h0m.1-.7h0m.1-3.7h0m0 2.7h0m0 1.4h0m.1-3.1h0m.2-5.5h0m0 3.7h0m.1 4.6h0m0 .9h0m.2-3h0m.1 .4h0m.1-1h0m0 1.1h0m0 5.4h0m.1-8.3h0m0 5.2h0m.4-8.7h0m0 4.3h0m0 .1h0m0 3h0m0 .1h0m0 .9h0m0 3.7h0m.1-14h0m0 1.7h0m0 6.4h0m0 1h0m.2 1.7h0m0 2.9h0m.1-6.3h0m0 5.4h0m.1-12.6h0m0 1h0m0 4.5h0m0 2.1h0m0 2.4h0m.1-9.9h0m0 3.1h0m.2-1.7h0m0 7.1h0m0 4.6h0m0 1.7h0m.1-3.2h0m.1-9.8h0m.1-1.6h0m0 5.7h0m.1 1.5h0m0 6.2h0m.1 .1h0m.1-13.8h0m.1-1.4h0m0 8.4h0m0 5h0m.1-10.9h0m0 6.4h0m0 1.2h0m0 4h0m0 .4h0m.1-10.4h0m0 7.3h0m.1 3.9h0m.1-8.1h0m0 8.3h0m.1-13.9h0m.1 2.2h0m0 4.7h0m.2 5h0m.1-7.9h0m0 1.6h0m0 1.1h0m.1-4.6h0m0 8.1h0m.1-10.1h0m0 .7h0m0 11.2h0m0 2.7h0m.1-14.7h0m0 2.2h0m0 8.9h0m.1-13h0m0 7.2h0m0 6.2h0m0 .6h0m.1-14.2h0m0 10h0m0 4.8h0m.1-12.7h0m.2 .3h0m0 6.5h0m.1-8.8h0m0 13.6h0m0 3.2h0m.1-12.8h0m.1-.1h0m0 4.2h0m0 5.1h0m0 .6h0m0 0h0m0 1.2h0m.1 .1h0m.2-12.8h0m.1 14.8h0m.1-12.7h0m0 3.2h0m0 5.6h0m0 3.9h0m.1-15.5h0m0 6.8h0m0 2.1h0m.2 1h0m.1-9h0m0 5.8h0m.2-8.3h0m0 2.2h0m0 9.7h0m.1-7.6h0m.1 8.9h0m.3-12.3h0m0 1.7h0m.1 .4h0m0 4.4h0m0 5.5h0m.1-9h0m0 1.4h0m.1-5.5h0m0 2.1h0m.1 .5h0m.1 6.5h0m0 3.8h0m0 4.8h0m.1-6.5h0m.2-9.7h0m0 3.8h0m.1-5.2h0m0 14.5h0m.1-9h0m.1-3.1h0m0 6.6h0m.1-3.8h0m0 11.3h0m.2-10.7h0m0 4.3h0m0 4.4h0m.1-12.1h0m0 13.7h0m.2-9.4h0m0 7.9h0m.1 .7h0m.1-10.1h0m0 10.7h0m0 .2h0m.1-7.1h0m.1 7.8h0m.1-15.8h0m.1 1.8h0m0 1.8h0m0 7.5h0m0 .5h0m.2-4.9h0m0 1.1h0m0 5.1h0m.1-4.6h0m.1-7.5h0m0 14.3h0m0 .2h0m.1-12.9h0m.1-3.2h0m0 10.6h0m.1-7.7h0m.1-.7h0m0 3.3h0m.2 7h0m0 1.8h0m0 .8h0m.1-10.8h0m0 .5h0m.1 5h0m0 .1h0m.1-.7h0m0 6.9h0m.2-9.8h0m0 7.3h0m.2-10h0m0 12.7h0m.1-10.7h0m0 5.6h0m0 2.3h0m.1-7.4h0m0 1.1h0m0 6.5h0m.1-5h0m0 2.9h0m.1-4.1h0m.1-6.1h0m0 6.5h0m0 6.3h0m.1-5.6h0m.1-4.6h0m.1 4.9h0m0 2.5h0m0 1.4h0m.4-8.8h0m0 4h0m.2 6.7h0m0 .5h0m.3-11.3h0m0 .5h0m0 2.5h0m0 6h0m0 2.1h0m.1-7.6h0m.2-1.8h0m0 8.4h0m0 .5h0m.1-10.9h0m0 11.7h0m.3-13.7h0m.1 8.2h0m0 .4h0m0 3.2h0m.3-10.7h0m.1 5.2h0m.2-.8h0m0 3.5h0m0 3.4h0m.1-11.1h0m0 5h0m0 1.9h0m0 2h0m.1-2.7h0m0 2h0m.1-1.4h0m0 2.1h0m.2-4.2h0m.1 .5h0m0 1.7h0m.1-2.3h0m0 1.8h0m0 4.1h0m.1-4.5h0m.1 4.1h0m.1-6.3h0m.3-2h0m0 0h0m0 3.6h0m0 .4h0m0 4h0m.1-1.2h0m.2 .7h0m.2 .5h0m0 0h0m.2-7.5h0m0 .8h0m0 2.5h0m.1-3.4h0m0 .5h0m0 4.2h0m.2-3.1h0m0 2.6h0m.4-1h0m.1 .1h0" stroke="#f7b46a" stroke-width="1.0" stroke-linecap="round" fill="none" stroke-opacity="0.95"/>
<path d="M110.1 129.5h0m.1 1.1h0m.3-.8h0m0 2.8h0m.2-3.5h0m0 .6h0m.1 2.6h0m0 2.8h0m.1-3.9h0m0 .2h0m0 4.4h0m.1-2.6h0m.1-1.1h0m.1-4.2h0m0 .1h0m.1 3h0m.3 2.9h0m.1-4.7h0m.2-4.2h0m.2 13.5h0m.1-9h0m0 8.4h0m.1-14.3h0m.2 7.6h0m.1 8.1h0m.1-11.6h0m0 8h0m0 2.7h0m.1-8.8h0m.1-4.7h0m0 7.3h0m.2-7h0m0 .5h0m0 1h0m0 5.6h0m0 7.2h0m.1-16.6h0m0 6.4h0m0 .4h0m0 5h0m0 2.2h0m.1-6.8h0m.1 8.8h0m.1-15.2h0m0 1.6h0m0 .9h0m0 6.2h0m.1-3.8h0m0 5.9h0m0 .4h0m.1 2.3h0m.4-5.9h0m.1-.6h0m0 5.6h0m.4 .7h0m0 3.1h0m.2-15.5h0m0 7.7h0m0 8h0m.1-3h0m0 2.4h0m.1-7.6h0m0 8.7h0m.1-4.4h0m.1-1.9h0m.1-9.4h0m0 5.2h0m0 11.6h0m.1-18.4h0m0 7.1h0m0 4.5h0m0 3h0m.3-14.4h0m0 12.2h0m0 4.1h0m.1-14.3h0m0 6.3h0m0 .9h0m0 4.9h0m0 .6h0m.1-15.5h0m.1 2.8h0m0 4h0m0 3.8h0m0 4.9h0m.1-7.7h0m0 1.9h0m0 9.3h0m.1-22h0m0 10.1h0m0 2.7h0m.1-7.8h0m0 3.3h0m.1-1.1h0m0 1.3h0m0 4h0m0 8.4h0m.1-17.9h0m0 .6h0m0 6.5h0m.1-1.2h0m.2-2.6h0m0 11.5h0m0 .1h0m.1-2.4h0m0 6.5h0m.1-10.3h0m.1-8h0m.1 2.4h0m0 4.5h0m.1-10.7h0m0 3.8h0m0 13.3h0m0 2.4h0m0 3.2h0m.1-21.9h0m0 2.4h0m0 1.2h0m0 .6h0m0 3h0m0 5.1h0m0 8h0m.1-17h0m0 .6h0m0 2.1h0m0 .3h0m0 6.3h0m.1 8.4h0m.1-22.3h0m0 9.6h0m0 2.7h0m0 3.6h0m.1-5.7h0m0 4.2h0m0 7.1h0m.1-14.3h0m0 5.7h0m0 .6h0m0 1.2h0m0 3.4h0m0 3.9h0m.1-15.9h0m0 4.5h0m0 4.1h0m0 2.5h0m0 6.1h0m.1-19.2h0m.1-2.5h0m0 18.9h0m.1-7.1h0m0 2.5h0m0 4.5h0m.1-13.4h0m0 10.5h0m.1-16.2h0m0 3.2h0m0 11h0m0 2.9h0m0 3.1h0m.1-9h0m.1-10.5h0m0 15.7h0m0 3.9h0m.1-13h0m.1 2.7h0m0 3.8h0m.1-8.8h0m0 8.1h0m.1-4.8h0m0 2.9h0m0 3.9h0m.1-11.8h0m.1 4.9h0m0 3.4h0m0 1.4h0m0 2.9h0m.1-13.9h0m.1 1.9h0m0 2.7h0m0 6.7h0m.1-9.6h0m0 .4h0m0 16.4h0m.1-15.4h0m0 1h0m.1-6.9h0m0 13h0m0 2.3h0m0 .9h0m0 6.6h0m.1-12.4h0m0 10h0m0 0h0m.1-18.7h0m0 1h0m0 5.2h0m0 .5h0m0 2.9h0m.1-4.2h0m0 8.8h0m0 5h0m.1-21.4h0m0 1.1h0m0 5.8h0m.1-2.8h0m0 .9h0m0 4.6h0m0 12.9h0m.1-6h0m.1-10.4h0m0 15.1h0m0 .8h0m.1-1.6h0m.1-12.7h0m0 3.8h0m.1-2.2h0m0 .1h0m0 12.3h0m.1-11.4h0m0 3.5h0m.1-4h0m0 9.8h0m.1-15.6h0m0 0h0m0 17.8h0m.1-7.6h0m.1-13.5h0m0 5.4h0m0 1.1h0m.1-2.9h0m.1 8.3h0m0 .8h0m0 .3h0m.1 8.1h0m.1-11.3h0m.1-2h0m0 9.4h0m0 4.1h0m.1-19h0m0 10.9h0m.1-6.1h0m0 12.8h0m.1-7.5h0m0 1.9h0m.1 2.9h0m0 4.9h0m.1-10.5h0m.1-3.5h0m0 12.7h0m.3-17.8h0m0 5.1h0m0 3.9h0m0 2.6h0m.1-11.1h0m0 2.2h0m0 2.9h0m.1-6h0m0 6.6h0m0 .8h0m0 5.5h0m.1-7.6h0m.1-4.9h0m0 5.9h0m0 9.9h0m.1-15.7h0m0 10.2h0m.1-12.2h0m0 11.2h0m.1-6.9h0m.1-1.2h0m0 5.1h0m.1-3.4h0m0 4.3h0m0 .1h0m.1-6h0m0 7.4h0m0 1.8h0m.1-4.5h0m0 5.2h0m0 1.8h0m0 .4h0m0 2.2h0m.1-12.5h0m0 2.3h0m0 9.4h0m.1-15.9h0m0 1.7h0m0 7h0m.2-6.7h0m.2-2.2h0m0 7.9h0m.1-8.1h0m.1 15.4h0m.1-8h0m0 .5h0m0 9.4h0m.2-16h0m.1 14.4h0m0 2.5h0m.1-10.5h0m0 9.3h0m.2-14.5h0m0 6.6h0m.2-6.5h0m0 6.9h0m0 8h0m.1-9.7h0m0 .8h0m.1 6.2h0m.1-12.9h0m.1 9.7h0m0 0h0m.1-2.4h0m.2 .6h0m0 4.1h0m.2-2.9h0m.1-2.6h0m0 4.7h0m.1-6.7h0m0 .8h0m.2 .6h0m0 4h0m.1-1.1h0m.1-.6h0m.2 3.8h0m.1-6.3h0m.2-1.3h0m0 6.7h0m.3-5.6h0m.1 1.4h0" stroke="#f8c48a" stroke-width="1.0" stroke-linecap="round" fill="none" stroke-opacity="0.95"/>
<path d="M52.8 133.3h0m.1-7.3h0m.1 .7h0m.1 8.5h0m.4-10.3h0m0 .2h0m.1 5h0m0 6.1h0m.3-5.9h0m.1 5.4h0m.2-12.5h0m0 12.8h0m.3-5.8h0m0 1.6h0m.2 .5h0m.1 3h0m.2-12.7h0m.5 1.4h0m.1 11.6h0m0 4.6h0m.1-10.1h0m.1-2.8h0m.2 2.1h0m.5 5.5h0m.1-7.7h0m.1-8h0m0 7.3h0m0 1.4h0m.2 14.5h0m.1-14.3h0m0 3.7h0m.2-4.5h0m0 .3h0m.1-8.7h0m.1 11.5h0m0 8.2h0m0 2.4h0m.1-12h0m0 4.2h0m.1-15.9h0m.1 11.2h0m.1-.4h0m.1-.4h0m.1-10.4h0m0 18.4h0m0 5.8h0m.1-6.6h0m0 3.8h0m.2 2.4h0m.1-2.1h0m.2-6.1h0m0 10.5h0m.2-8.2h0m0 7.4h0m.1-9.9h0m.2-8.1h0m0 3.8h0m0 4.6h0m.1-19.1h0m0 6.5h0m.1 6h0m0 21.8h0m.1-22.1h0m0 5.4h0m0 .7h0m0 11.1h0m0 5h0m.1-6.4h0m0 1.4h0m0 .9h0m.1-22.4h0m0 6.5h0m0 7.1h0m.2 1.3h0m.1-18.3h0m0 17.7h0m.1 3.8h0m.1-8.8h0m.1-7.3h0m0 9.6h0m.1-8.3h0m0 .3h0m.1-3.6h0m0 14.7h0m.1-12h0m0 8.3h0m0 6.7h0m.1-9.2h0m.1 11.4h0m0 2.6h0m.1-15.8h0m0 13.1h0m0 10.2h0m.1-21.4h0m.1 4.4h0m.1-19.3h0m0 12.3h0m.1-2.7h0m0 17.1h0m0 2.6h0m.2-.1h0m0 3.2h0m.1 2.5h0m.1-5.8h0m.2-25.7h0m0 6.3h0m0 2.4h0m.1-.1h0m.1 19.9h0m.1-11.7h0m.1-21.1h0m0 13.4h0m.1-5.8h0m0 22.9h0m0 3.3h0m.1-24.3h0m0 6.2h0m0 8.9h0m0 6.2h0m.1-27.2h0m0 14.8h0m0 4.6h0m0 5.5h0m0 10.6h0m.1-30.1h0m0 13.8h0m.1-8.6h0m0 .6h0m0 4.4h0m0 13.4h0m.1-31.2h0m0 21.2h0m.1-13.4h0m0 15.5h0m0 3.8h0m.1 5.3h0m0 3.9h0m.1-41.3h0m0 16.3h0m0 10.2h0m.1-13.5h0m0 4h0m0 6.5h0m0 3.4h0m.1-4.1h0m0 14.9h0m.1-4.9h0m.2-11.5h0m0 2h0m.1-18h0m.1 12h0m0 11.9h0m.1-26h0m0 1.1h0m0 14.2h0m.1 10.4h0m0 12.9h0m.1-22.8h0m0 18h0m0 2.5h0m.1-11.7h0m0 2.8h0m0 2.8h0m.1-31.6h0m0 9h0m.2-11h0m0 12.5h0m0 8.7h0m0 7.2h0m0 11.1h0m.1-30.6h0m0 9.8h0m0 2.5h0m0 3.3h0m0 11h0m.2-1.5h0m0 .9h0m0 1.2h0m0 4.4h0m.1-16h0m.1-16.1h0m0 8h0m.1 3.8h0m0 7.3h0m0 1h0m0 1.4h0m.1-1.1h0m0 15.2h0m.1-21.3h0m0 19.3h0m.1-32.1h0m0 25.4h0m.1-14.8h0m0 4.8h0m0 .9h0m0 9h0m.1-33h0m0 11.7h0m0 9.8h0m0 15.7h0m.1-20.7h0m0 2.7h0m0 5.1h0m0 .7h0m0 16.1h0m.1-26.1h0m0 3.3h0m0 8.9h0m0 1.4h0m0 15.1h0m.1-36.1h0m0 10.9h0m0 2h0m0 7.4h0m.1-2.8h0m0 8.8h0m.1-.3h0m.1 .1h0m.1 3.6h0m.1-19.7h0m0 7h0m.1-16.2h0m0 28.7h0m.1-23.5h0m0 .8h0m0 10.8h0m0 6.6h0m.1-16.7h0m0 4.7h0m0 7.5h0m0 5.5h0m.1-6.3h0m0 .6h0m0 6.6h0m0 2.3h0m.1-12.5h0m0 14.4h0m0 1.3h0m.1-17.1h0m0 7.4h0m.1-13.9h0m0 12.2h0m.1 4.2h0m.1-6.6h0m0 5.7h0m.1-7.4h0m0 15.8h0m0 1.9h0m.1-33.3h0m0 34.1h0m0 .5h0m.1-24.3h0m0 8.9h0m0 3h0m0 1.6h0m.2-10.2h0m0 17.4h0m0 1.2h0m.1-32h0m0 27.6h0m0 5.2h0m.1 .2h0m.1-23.3h0m0 18.5h0m.1-4.8h0m.1-22.6h0m0 1.6h0m0 7.4h0m.1 2.1h0m.1 15.3h0m0 3.5h0m.1-12.5h0m.1-19.1h0m.1 10.9h0m0 15.8h0m.1 3h0m.1-13.3h0m0 6.6h0m.1-12.5h0m0 19.9h0m0 1.5h0m0 1.5h0m.1-2.9h0m.1-20.4h0m.1 2.5h0m0 2.8h0m0 3.8h0m0 .5h0m.1-5.7h0m0 18h0m.1-24h0m0 .1h0m0 16.9h0m0 3.7h0m.2-9.1h0m.1-.7h0m0 8.9h0m.1-14.2h0m0 13.7h0m0 8.8h0m.1-29.4h0m0 20.6h0m0 9.6h0m.1-41.1h0m0 14.5h0m0 3.4h0m.1 15.2h0m.1-20.4h0m0 21.3h0m.1-30.6h0m0 14.1h0m0 2.2h0m0 17.5h0m.2-42.7h0m0 19.9h0m0 7.8h0m0 3.4h0m.3 14.3h0m.1-22.8h0m0 11.2h0m.1-10.5h0m.3 12.3h0m.1-25.6h0m0 17h0m0 14.8h0m0 1.4h0m0 4.2h0m.1-27.7h0m.1 9.5h0m0 .2h0m0 9.7h0m.1-13.2h0m.1 3h0m0 1.8h0m.1-14.7h0m0 9.7h0m0 2.6h0m.1-6.4h0m0 11.1h0m.1 4.5h0m.2-25.7h0m.3 3.4h0m0 .5h0m0 14.8h0m0 .1h0m.1-14.2h0m0 19.2h0m0 10.3h0m.1-32.5h0m.1 8.1h0m.1 1.1h0m.2-3h0m.2 26.6h0m.1-5.3h0m0 5.6h0m.1-23.6h0m0 2.1h0m.3 7.8h0m.1-20.5h0m0 34.2h0m.2-1.1h0m.1-19.2h0m0 .2h0m0 5.6h0m.1-16.2h0m0 22.7h0m0 6.4h0m.5-15.1h0m0 3.7h0m0 7.6h0m.2-26.4h0m.2 28.5h0m.1-9.2h0m.1 3h0m0 2.4h0m0 .9h0m.2-.7h0m.5-18.4h0m0 19.1h0m.1-20.6h0m0 17.2h0m.2 1h0m.3-.3h0m.2-4.4h0m0 7.3h0m.1-13.3h0m.1-.1h0m.1 17.1h0m.4-2h0m.1-16.7h0m.1 16.2h0m.1-2.9h0m.1-1.6h0m.4-5.3h0m.1-11.8h0m.3 15.7h0m.1 4.1h0m.3 1.9h0m.1-16h0m.6 3.7h0m.3 2.5h0m.2-20.6h0m.1-2.6h0m0 21h0m0 3.3h0m.1 1.4h0m0 2.2h0m.1-5.7h0m.2-4.4h0m.1 2.3h0m2.1-12.3h0m2.3 4.8h0m46.3 3.3h0m.6 .2h0m.9 1.1h0m.2-7h0m.4 5.3h0m.1 3.3h0m.2-3.2h0m.2 2.3h0m.1-8.8h0m0 .9h0m.1 12.4h0m.1-6.5h0m0 1.4h0m.1 3.8h0m0 3.4h0m.2-2.8h0m.1-17.6h0m.2 8h0m.1 2.5h0m0 10.2h0m.1-14.8h0m0 16h0m.5-23.4h0m0 17.9h0m0 2.6h0m.1-11.6h0m0 2.7h0m.2 7.7h0m.2-3h0m.2 2.6h0m.1-5.5h0m0 4.7h0m0 4.5h0m.1-4.6h0m0 8.6h0m.1-15.9h0m.1-6.5h0m.1-.5h0m0 8.5h0m0 2.3h0m.1 3.8h0m.1-13.7h0m0 4.3h0m0 4.7h0m0 .9h0m0 11.7h0m.1-24.6h0m.1 6.5h0m0 10.6h0m.1 6.1h0m0 1.3h0m.1-5.2h0m.1-13.9h0m0 1.4h0m0 2.2h0m0 9.4h0m.3-22.1h0m0 11.4h0m.1 14.5h0m.1-10.6h0m.1-6.2h0m0 14.9h0m.2-15.1h0m0 0h0m0 1.3h0m0 20.5h0m0 .9h0m.1-26.2h0m0 8h0m0 8.9h0m.1-20.1h0m0 11.3h0m0 2h0m0 3.2h0m.1-2.5h0m.1 7.3h0m0 6.2h0m0 .1h0m0 .6h0m.1-26.5h0m0 1.3h0m0 6.5h0m0 13.8h0m0 2.1h0m0 4h0m.1-25h0m0 14.2h0m.1-12.8h0m0 14.6h0m0 .1h0m.1-17.2h0m.1-3.6h0m0 15.9h0m.1-17.3h0m.1 8.6h0m0 13.6h0m.1-14.3h0m0 2.8h0m0 5.7h0m.1 1.6h0m.1 7.9h0m.2-22.3h0m0 16h0m.1-14.2h0m0 9.3h0m0 1.9h0m.1-17.8h0m0 23.3h0m.1-17h0m0 3.5h0m0 14h0m.2-14.8h0m0 3.4h0m0 16.2h0m.1-15.5h0m.1-1.5h0m.1 8.2h0m0 1.9h0m.1-19.9h0m0 10h0m0 17.6h0m0 2.6h0m.1-26.1h0m0 18.9h0m.1-4.8h0m0 2.7h0m.1-16.1h0m0 4.8h0m0 8.3h0m0 7.8h0m.1-5.5h0m0 9h0m.1-18.1h0m0 8h0m0 2.3h0m0 2.6h0m.1-7.1h0m.1-8.6h0m0 1.8h0m.1-3.5h0m0 2.9h0m0 9h0m.1-11.6h0m0 12.2h0m0 6.7h0m0 4h0m0 3.4h0m.1-28h0m.1 22.2h0m.1-21.5h0m0 4.3h0m0 21.4h0m.1-10.7h0m.1-17.3h0m0 30.7h0m.1-24.2h0m0 11h0m0 2.4h0m.1 4h0m.1-21.2h0m0 9.7h0m0 .5h0m0 13.5h0m.1-3.4h0m0 6h0m.1-18.1h0m0 4.6h0m.2-2.2h0m.1-16.1h0m.1 27.5h0m0 5h0m.1-16.5h0m0 10.6h0m0 8.5h0m.1-23.9h0m0 2.9h0m0 14.7h0m0 6.7h0m.1-17.9h0m.1 3.6h0m0 4.3h0m0 .5h0m0 1.8h0m.2-26.9h0m0 15.1h0m0 1.9h0m.1-6.7h0m0 4.4h0m0 8.8h0m.1-5.1h0m0 9.5h0m0 6.1h0m.1-43.8h0m0 21.4h0m0 7.5h0m.1 .1h0m.1-.4h0m0 3h0m0 9.6h0m.2-38.4h0m0 32.5h0m.1-8.8h0m.1-2.8h0m0 2.7h0m0 11.3h0m0 4h0m.1-16.8h0m0 6.4h0m0 .6h0m.1-12.1h0m0 8.8h0m.1 7.7h0m.1-34.9h0m0 18.6h0m0 14.2h0m.1-13.5h0m0 7.1h0m0 9.5h0m0 .6h0m.2-18.9h0m0 3.1h0m0 1.7h0m.1 5.7h0m0 1.1h0m.1 9.7h0m0 0h0m.1-25.6h0m.1-6.1h0m0 16.3h0m.2-6.6h0m0 20.2h0m.1-16.8h0m0 7.5h0m.1-17h0m0 7.5h0m.1 5.4h0m0 1h0m.1 14.4h0m.1-18.4h0m0 1.1h0m0 12.4h0m.1-13.1h0m.1-2.3h0m0 12h0m.1-21.4h0m0 32.8h0m.1-34.9h0m0 5.5h0m0 .8h0m0 9.1h0m0 .7h0m.1-17.4h0m0 11.7h0m.1-1.2h0m0 .9h0m0 5.7h0m.1-20.4h0m0 8.2h0m0 32.6h0m.1-37h0m0 25.2h0m0 6.1h0m.1-26.6h0m0 25.7h0m.1-31.4h0m0 15h0m0 8.7h0m0 5.8h0m.1-17.9h0m0 19.4h0m.1-4.8h0m0 6.7h0m.1-11.5h0m.1 13.1h0m0 3.3h0m.1-27.3h0m0 .9h0m0 27.6h0m.2-24.5h0m0 .7h0m0 15.7h0m.1 4.4h0m.1-18.4h0m.1 16.6h0m0 .9h0m.4-16.3h0m0 5h0m0 7.3h0m.1-15.5h0m.1 1.1h0m0 10.1h0m.1-4.4h0m0 12.6h0m.1-22.4h0m.2-1.6h0m0 3h0m0 24.8h0m.1-23h0m0 1.6h0m0 1.6h0m0 2.3h0m.1-3.7h0m.1 2.3h0m0 1.7h0m.1-22.4h0m0 18h0m0 7.1h0m.1 5.7h0m0 4.5h0m.1-12h0m.1-24.6h0m0 12h0m0 7.8h0m0 .5h0m0 10.1h0m.1 4.3h0m.1-16.8h0m.1-9.3h0m.1 0h0m.1 18.8h0m0 8.5h0m.1-9.1h0m0 .3h0m0 11.7h0m.1-28.9h0m0 4.7h0m0 15.9h0m0 2.9h0m.1 .8h0m.1-19h0m0 16.6h0m.1-17.7h0m0 16.7h0m.1-6.3h0m0 11.2h0m.1-22.7h0m.1 15.9h0m0 3.5h0m.2-6.1h0m0 5.6h0m.1 2.5h0m.1-22h0m.1 1.7h0m.2 .3h0m0 11.8h0m0 .1h0m0 9.9h0m0 1.4h0m.2-7.7h0m0 .7h0m.1 2.1h0m.3-2.1h0m.1-10h0m.2 5.2h0m.1 7.5h0m.4-15.3h0m.3 15.8h0m0 3.2h0m.1-3.9h0m0 5.4h0m.1-6.2h0m.1-.8h0m.2-20.1h0m0 16.1h0m0 5.8h0m.2 .1h0m.1-31.9h0m.1 36.3h0m.1 1.1h0m.2-18.7h0m.1 7.6h0m.3-3.6h0m.1-21.3h0m.2 34.4h0m.2-7.2h0m.1-14.2h0m.8 17.6h0m.3-7.7h0m.2-16h0m0 24.6h0m.2-8.8h0m.5-16h0m.3 13.1h0m.5-11h0m1.2 .6h0m.3 1.5h0m54.3 0h0m.7-4.1h0m0 6.5h0m0 .8h0m.3-1.4h0m.6-5.3h0m.1-.3h0m.1 6.6h0m.2-.1h0m.1-3.6h0m0 4.5h0m.2-5.4h0m.7 11.7h0m.1-1h0m.2 2.8h0m.1-1h0m.2-19.9h0m0 14.1h0m0 4.3h0m0 .6h0m.1-14.8h0m.1 17.2h0m.1-2.7h0m.1-5.8h0m0 1h0m0 .1h0m.2-2.6h0m0 2.4h0m.1-5.1h0m.1 6.4h0m0 4.3h0m.3-12.2h0m.1 9.5h0m0 .4h0m.1-4.1h0m0 7.6h0m.1-8.5h0m0 2.7h0m.1 3.5h0m.1-20.8h0m.1 .7h0m0 22.3h0m.4-6.7h0m.2-7.1h0m0 19.2h0m.2-30.6h0m0 25.9h0m.1-12.8h0m.1 3.2h0m0 4.7h0m0 2.1h0m.1-8.1h0m0 3.6h0m0 2.9h0m0 4.7h0m.2 1.7h0m.1-20.8h0m0 1h0m0 4.6h0m.1-9.6h0m0 19.3h0m.1 1.6h0m.1-3h0m.1 4.7h0m.3-2.8h0m.2-17.1h0m0 4.7h0m.1-4.7h0m0 21h0m.1-20.2h0m0 8.8h0m.1 .1h0m0 11.5h0m0 3.8h0m.1-10.2h0m0 13.7h0m.1-21.9h0m0 19.8h0m.1-25h0m0 18.8h0m0 .5h0m.1-20.5h0m0 9.8h0m0 2.5h0m0 5.6h0m.1-3.5h0m0 10h0m.1-16h0m0 15.9h0m.1-18.2h0m0 3.2h0m0 5.8h0m0 0h0m0 6h0m0 .6h0m.1-26.8h0m0 6.8h0m0 15.8h0m.1-13.4h0m.1 2.9h0m.1-3h0m0 1.4h0m0 .4h0m0 8.2h0m0 1.2h0m.1-3.7h0m0 .8h0m.1-1.7h0m0 18.6h0m.1-20.5h0m0 20.3h0m.1-5.4h0m.1 1.7h0m.2-4.5h0m0 1.9h0m.1 1h0m.2-10.5h0m0 .4h0m.1-9h0m0 13.7h0m0 6h0m.2-16.8h0m0 11.2h0m.1-11.1h0m0 1.8h0m0 20h0m.2-13.2h0m0 0h0m.1-20.8h0m0 18.7h0m0 1.1h0m0 6.6h0m.2-20.1h0m0 20.6h0m0 2.2h0m0 2.9h0m.1-13h0m0 1.1h0m0 4.6h0m.1-19.6h0m0 9.8h0m0 8.9h0m0 1.9h0m.1-23.5h0m0 18.2h0m0 2.6h0m.1 1.7h0m.1-25.7h0m0 16h0m.1-9.6h0m.3-4.1h0m.1 8.5h0m0 26.4h0m.1-32.1h0m0 31.5h0m.1-20.3h0m0 3.4h0m0 8.8h0m0 .4h0m.1-15h0m0 15.9h0m0 7.8h0m.1-23.2h0m0 10.6h0m.1-2.2h0m.1-1.4h0m0 2.9h0m0 10.8h0m0 .9h0m.1-2h0m.1-15h0m0 12.5h0m.1-24.1h0m0 8.2h0m.1-11h0m0 19.6h0m0 3.7h0m0 10.4h0m.1-24.6h0m0 4.1h0m0 11.3h0m.1-3.2h0m0 11.5h0m.1-32.6h0m0 10.3h0m0 4.5h0m.1 15.2h0m.1-26.8h0m0 2h0m.1 6.2h0m0 14.3h0m.1-22.3h0m0 3.8h0m0 8.8h0m0 .2h0m0 1.1h0m0 12.2h0m.1-22.4h0m0 24.8h0m.2-6h0m.1-27.6h0m0 10h0m.1 1h0m0 3h0m0 6.7h0m0 9.4h0m0 5.1h0m.1-23h0m0 3.5h0m0 8.8h0m.1-9.7h0m0 8.4h0m0 6.5h0m.2-24.4h0m0 1.8h0m0 10.1h0m0 18h0m0 1.8h0m.1-32h0m0 16h0m.1 4.1h0m0 4.6h0m.1-23.3h0m0 5.9h0m0 .6h0m0 8.7h0m0 1.1h0m0 4.3h0m0 4.6h0m.1-36.5h0m0 28.7h0m0 5.8h0m.1-27.8h0m0 7.7h0m0 1.4h0m0 6.3h0m.1 4.3h0m0 14.6h0m.1-27h0m0 1.7h0m0 9.2h0m0 9.9h0m.1-15.4h0m0 3.9h0m0 7.7h0m.1-12.3h0m0 10.5h0m.1 1.4h0m.1-5.2h0m0 13.5h0m.1-29.5h0m0 7.2h0m0 .8h0m.2-.9h0m0 8.2h0m0 14.8h0m0 .3h0m.1-31.4h0m0 17.2h0m0 1.8h0m0 2.2h0m0 7.2h0m0 0h0m.1-32.7h0m0 .7h0m0 12.7h0m0 3.1h0m0 2.5h0m0 14.5h0m.2-8.6h0m.1-13h0m0 10.8h0m.1-28h0m0 9.8h0m.1 5.8h0m.1 2.3h0m0 9h0m0 5.8h0m.1-19.1h0m0 3.5h0m0 15h0m0 5.1h0m.1-8.5h0m0 9.7h0m.1-16.4h0m0 12.1h0m.1-34.9h0m0 34.2h0m.1-9.8h0m.1 10.7h0m.1 1.6h0m.1-1h0m0 4.5h0m.1-33.9h0m0 16.2h0m0 1h0m.1-17.4h0m0 17.3h0m0 1.4h0m0 12.3h0m.1-2.3h0m.1-28.5h0m.2 15.3h0m0 7.8h0m0 6.3h0m.1-19.1h0m0 27.7h0m.2-26.7h0m0 9.1h0m0 5h0m0 5.7h0m.2-9.3h0m0 4.6h0m0 11.7h0m.1-22.2h0m0 8.3h0m0 6.1h0m0 2.3h0m.1-19.6h0m.1-.4h0m0 2.6h0m0 5.2h0m.1 6h0m.1-6h0m0 .4h0m0 7.8h0m0 2.2h0m.1-12.3h0m.1-4.5h0m.1 .8h0m0 .1h0m0 20.5h0m.1-13.6h0m0 1.6h0m0 5.1h0m.1-14.2h0m0 2.8h0m0 1h0m.1-13.1h0m0 10.5h0m.1-6h0m0 14.7h0m.1-14.1h0m0 10.6h0m0 1.1h0m.1-.3h0m.1-8.2h0m0 .1h0m0 1.8h0m.1 8h0m0 4.6h0m0 6.4h0m.1-27.7h0m0 6.8h0m.1-1.8h0m0 1.9h0m0 .1h0m0 1.7h0m0 2.3h0m0 10.6h0m.1 1.1h0m0 1.3h0m0 4.4h0m.1-14.4h0m0 3h0m0 3.6h0m.1-3.6h0m0 .4h0m.1-19.7h0m0 13.2h0m.1-3h0m0 1.4h0m0 14.6h0m.1-17h0m0 16.1h0m.1-29.2h0m0 14.5h0m0 22.6h0m.1-9.2h0m0 7.5h0m.1-27.2h0m0 1.6h0m0 17.4h0m.1-.2h0m.3-3.9h0m.1-13.5h0m.2-8.1h0m0 9.6h0m.1 21.7h0m.1-24.6h0m0 18.6h0m0 4.4h0m.1-13.1h0m0 13h0m.3-34.3h0m.1 7.2h0m0 13.2h0m0 9.9h0m.5-3.5h0m0 .5h0m.1-16.7h0m.1 15.1h0m.1-10.7h0m.1 12.7h0m0 9.3h0m.1-17.6h0m.4-5.9h0m.2 12.8h0m.1-21.4h0m0 33.7h0m.1-8.2h0m.1-8.1h0m0 2.9h0m.2-13.3h0m0 19.5h0m.1-17.2h0m.1 17.1h0m.1 5.4h0m.1-22.4h0m0 3.8h0m0 16.5h0m.1-6h0m.3 7.5h0m.2-6.1h0m.1-2.7h0m.1 3.2h0m.4-13h0m.1 8.8h0m0 4.5h0m.1-1.2h0m.4-7.8h0m.2-9.4h0m.3 7.5h0m.4 13.1h0m.1-5.2h0m.1 6.1h0m.1-26.6h0m.2 9.9h0m.6-11.3h0m.1 25.2h0m.1 1.1h0m.7 3.3h0m.3-29.2h0m0 28.7h0m.3-.3h0m.6-17.5h0m1.3 7.2h0m.6-9.3h0m.3 12.6h0m3.1-8.6h0m.7 0h0" stroke="#6cb04a" stroke-width="1.0" stroke-linecap="round" fill="none" stroke-opacity="0.95"/>
<path d="M54.2 135.3h0m.6 4.4h0m.3-7.6h0m1.3-11.7h0m.7 25.4h0m.2-15.7h0m.5 5.3h0m.4-17.3h0m.2 23.9h0m.6-10.6h0m.2 .5h0m.2-12.5h0m0 11h0m.1 8.6h0m.3-4.1h0m.5 1.2h0m.6-18.1h0m.1 12.8h0m.1 .7h0m.2-.5h0m.2-.9h0m.2 16.4h0m.1-18.3h0m.3 14.6h0m.5-11.4h0m0 13.7h0m.2-19.7h0m.2 23.6h0m.2-5.6h0m.2-1.5h0m.1-30.1h0m.2 22h0m.2 21.5h0m.2-18h0m.1-7.7h0m0 6.5h0m0 .4h0m.2-10.9h0m0 16.9h0m.2-7.6h0m.2-15.8h0m0 6.1h0m0 22.8h0m.1-24.6h0m.1 1.4h0m0 2.5h0m.1-12.4h0m0 32.4h0m.2-15.3h0m.3 19h0m.1-31.4h0m.2 15.6h0m.1 8.8h0m.1-9.7h0m.1-4.3h0m.1-4.6h0m.1 15.5h0m0 2.9h0m.4-3.6h0m.1-11.4h0m.2 2.7h0m.1 12.3h0m.1-11.8h0m.2-5.3h0m.1 25.3h0m.1 4h0m.3-27.6h0m0 14.5h0m.1-20.5h0m0 7.4h0m0 6.3h0m.3-22.2h0m0 25.5h0m.2-17.5h0m.1 20h0m.1-22.2h0m0 22.4h0m.2 9.8h0m.2-3.8h0m.2-15.9h0m0 5.7h0m.2-.9h0m0 9.7h0m.1-14h0m.1 3.4h0m0 3.3h0m.1-14.8h0m0 16.1h0m.1-3.8h0m0 5.4h0m0 7h0m.3-24.4h0m.2-2.3h0m0 10.6h0m0 .2h0m0 12.2h0m.1-18.5h0m.1-3.7h0m.1 12.3h0m0 4.5h0m0 7.5h0m.1-27.1h0m0 14.1h0m0 4.3h0m0 15.4h0m.3-26.3h0m0 15.3h0m.2-11.5h0m.1-18.8h0m0 13.4h0m.1 6.4h0m0 8.1h0m.3 9.4h0m.1-16.5h0m.2-.7h0m.1 15.8h0m.1-5.1h0m.1 6.3h0m.1 .7h0m.2-25.4h0m.3 18.8h0m.1-14h0m0 1.7h0m.3-15.4h0m.3 19.5h0m.1-17.9h0m.1 10.7h0m0 28.2h0m.1-28.8h0m.1 6.4h0m0 19h0m.1-29.5h0m0 12.1h0m0 10.3h0m.4 4.5h0m.1-6.8h0m.1-13.9h0m.1-5.4h0m.3 1.5h0m.1 10h0m.2 2.4h0m.1-1.9h0m0 1.5h0m.3-6.5h0m.1 1.5h0m0 .9h0m.1 .8h0m0 1.1h0m0 .7h0m.1-19.2h0m0 16.1h0m0 18.2h0m.1-3.5h0m.1-17h0m.3 7.6h0m.1-27.2h0m0 11.3h0m0 23.1h0m.4 1.8h0m.2-20h0m.1 23.7h0m.1-7.9h0m.6-2.6h0m.2-27.8h0m0 24.9h0m0 7.3h0m.2-19.3h0m.2 5.6h0m0 2.9h0m.1 .7h0m0 8.3h0m.2-20.7h0m0 6.7h0m.8-4.1h0m0 13.6h0m.5-7.3h0m.1-16.8h0m.2 20h0m.1-11.2h0m0 3.7h0m.5 19.1h0m.1-21.5h0m.2 13.7h0m.2-3.7h0m.2-17.4h0m.1 13.3h0m0 7.7h0m.1-11.5h0m1.3 15.6h0m.3-.7h0m.3-20h0m.4 13.5h0m.3-3.9h0m.5-1.6h0m.3 .2h0m.7-2.4h0m.8 7.5h0m0 2.6h0m.1-2.8h0m.1 2.6h0m1-6.9h0m43.9 4.4h0m0 1.4h0m1.9-11.1h0m2.2 20.5h0m.6-14.7h0m.2 4.9h0m0 7h0m.1-23.2h0m.4 15.1h0m.8 4h0m.1 9.5h0m1.3-18.9h0m0 20.9h0m.4-15.5h0m.1 6.2h0m0 3.4h0m.1 6.1h0m.1-10h0m.1 1.3h0m.4-6.5h0m.6-3.4h0m.1 20.4h0m.1-8.1h0m.1 9.5h0m.4-23h0m.1 6.6h0m.1 9.5h0m.1 2.2h0m.1-24.2h0m.2-7.6h0m0 30.7h0m.1-16h0m.1 4.6h0m.2 18.1h0m.1-16.1h0m.1 6.6h0m0 4.6h0m.1-34.4h0m.1 23.8h0m.2 4.5h0m.1-2.1h0m0 3.8h0m.2-11.2h0m.3-5h0m0 24.5h0m.2-19h0m0 11.7h0m0 3.8h0m.3-5.6h0m.1 9.4h0m.2-1.9h0m.1-26.2h0m0 9h0m0 9.8h0m.2 4.5h0m.1 3.2h0m.2-16.5h0m.3-.7h0m0 4.4h0m.2-13.5h0m0 7.3h0m0 11.1h0m0 13.1h0m.2-19.7h0m0 10.9h0m.5-28.7h0m.1 10.1h0m.2 16.8h0m.2-9.7h0m.1-11.9h0m0 18h0m.2-20.4h0m.2 8.4h0m.1 2.6h0m.1-4.9h0m0 7.3h0m.1 14.9h0m.1-25h0m0 9.5h0m.1-10.5h0m0 23h0m.1-25.4h0m0 6.4h0m0 6.5h0m0 10.7h0m.1-10.2h0m.1-2.4h0m0 6.9h0m0 6h0m.1 11.6h0m.1-9h0m.1 7.1h0m.3-9.4h0m.1-11.8h0m.1 7.6h0m0 14.9h0m.2-42.7h0m.1 1.9h0m0 5h0m.1 22.1h0m0 4.6h0m.2-24.6h0m0 16h0m0 15.4h0m.3-3.7h0m.4-24.2h0m.2 11.9h0m.1-3.1h0m0 10.2h0m0 1.2h0m.3-20.7h0m.2 14.9h0m.1-5.2h0m0 2.6h0m.1 1.3h0m0 8.1h0m.4 1.6h0m.2-26h0m.1 17.2h0m0 9.4h0m0 1.2h0m.2-27.8h0m.5 20.3h0m.2-4h0m0 3.7h0m0 12.1h0m.2-5h0m.2-34h0m.2 17.1h0m.2 8.9h0m.3-5.1h0m0 10.8h0m0 6.8h0m.2-27.7h0m.2-5.1h0m.4 3.9h0m0 26.1h0m.5-23.2h0m0 3.1h0m0 3.3h0m.1 .4h0m.4-11.7h0m.1-3.8h0m0 2.6h0m0 4.6h0m0 7.9h0m.4 13.3h0m.2-4.8h0m.2 6.7h0m.1-7.4h0m.1 2.4h0m.1-10.5h0m0 14.1h0m.2-22.3h0m0 6.7h0m.1 4.5h0m.1-4h0m0 6.5h0m.3 9.2h0m.2-12.6h0m.6 6.7h0m0 3.3h0m.5-16.7h0m.1-10h0m.2 12.9h0m0 12.2h0m.3-2.9h0m.5-1.2h0m.5-1.4h0m.4-4.5h0m0 3.1h0m.9-9.3h0m0 12.4h0m1.4-11.1h0m.1 1.7h0m.1-4.1h0m.7 6.4h0m53-5h0m1.2-6.4h0m1.1-.8h0m.5 19.9h0m.1-11h0m1.1-.1h0m.3 4.7h0m.1-3.3h0m0 9.1h0m0 4.6h0m.3-25.2h0m.1-5h0m.1 33h0m.3-30.5h0m0 20h0m.5-5.6h0m.1-8.7h0m.7 6.3h0m.2 4.4h0m.3-12.2h0m.5-4.1h0m.1 12.7h0m0 17.1h0m.1-14h0m.4 10.2h0m.1-23.3h0m0 16.9h0m0 2h0m.1-7.9h0m0 1.5h0m.1-1.5h0m0 17.1h0m.3-17h0m0 1.5h0m0 7.1h0m.3-23.7h0m0 23.9h0m.3-24.9h0m0 32.7h0m.1-1.1h0m0 4.4h0m.2-5.2h0m.1-17.3h0m0 1.6h0m0 4.7h0m0 17.3h0m.1-8.1h0m.2-16.9h0m.2 .4h0m.2 8.9h0m.1-3.6h0m.7 16.2h0m.1-13h0m0 .9h0m.2-10.8h0m0 6.9h0m.6 3.5h0m.1 5.5h0m.2-5h0m.1-7.1h0m.2-8.5h0m.1 14.2h0m.1 8.3h0m.1 7.4h0m.1-23h0m.5 4.9h0m0 4.2h0m0 15.7h0m.1-13.5h0m.1 4.8h0m.3-13.9h0m.6 23.6h0m.2-26.8h0m.1 16.4h0m.1-19.5h0m.2 14.2h0m.1-3.3h0m0 20.2h0m.2-22.5h0m.2-1.9h0m0 2h0m0 18.9h0m0 3.3h0m.2-7.5h0m.3-28h0m.1 2h0m0 19.8h0m.1-1.5h0m.1 15.8h0m.2-23.9h0m0 13.3h0m.2-21.7h0m0 23.4h0m.4-19.6h0m0 21.2h0m.1-25.2h0m.2 9.5h0m.5 15.7h0m.2-12.1h0m.2-7.6h0m.2 14.6h0m.1 4.3h0m.2-10.8h0m.3-14h0m0 14.5h0m.3-14.2h0m.1 7.8h0m.3 17.6h0m.1-5.9h0m0 6.2h0m.1-30.4h0m0 27.1h0m.2-6.8h0m0 8.2h0m.1-33.4h0m0 15.3h0m0 11h0m.2-16h0m.1-6.4h0m0 6.8h0m.3 26.2h0m.1-9.7h0m.3 9.5h0m.3 3.1h0m.1-23.8h0m.1 23.2h0m.2-5.7h0m.1-26h0m0 5h0m.1 25.3h0m.2 2.3h0m.2-23.2h0m0 18.1h0m.1-20.6h0m.1 17.1h0m0 7h0m.2 .1h0m.1-18.9h0m.1 15.6h0m.1-24.8h0m.1 1.6h0m0 15h0m0 9.4h0m.3-38.5h0m0 33.8h0m.3 6.7h0m.1-25h0m.3-2h0m0 16.6h0m0 2.9h0m.1-20.9h0m0 9.8h0m.3-10.3h0m.2 8.2h0m0 9h0m0 6.4h0m.1-1.2h0m.2 .8h0m.1 4.2h0m.3-34.5h0m0 30.9h0m.1-21.6h0m.1 12.8h0m.1-12.1h0m.7 15h0m.1 .5h0m.3 5.9h0m.3-3.7h0m.4-23.5h0m0 27.3h0m.1-24.6h0m.4 8.3h0m.5 8.3h0m.1-19.2h0m0 8.5h0m0 12.5h0m.1-12.4h0m.2 15.7h0m1-2.8h0m.1-16.3h0m.2-.4h0m0 .9h0m.8 2.4h0m.1 .5h0m.3 1.5h0m.1 1.3h0m.1-9.8h0m.2 15.4h0" stroke="#2aa0c0" stroke-width="1.0" stroke-linecap="round" fill="none" stroke-opacity="0.95"/>
<path d="M54 129.9h0m1.5 7.7h0m.2-10h0m1.8 10.7h0m.2 .6h0m1-1.2h0m.2-11.4h0m.2-1.8h0m1.5 27h0m.9-24.3h0m.1-5.6h0m.5 4.8h0m0 8.3h0m.2 .3h0m0 11.8h0m.8-21.6h0m0 19.5h0m.3 3.4h0m.2-13.2h0m.1 1.2h0m.9-12.3h0m.1 9.9h0m.5-2.8h0m0 2.7h0m0 .4h0m.1 19.9h0m.6-25h0m.3 2.7h0m.2-.8h0m.1-4.9h0m.6 14.3h0m.1-3.2h0m.1 4.6h0m.1-3.8h0m0 1.3h0m0 1.7h0m.2 6.6h0m.6-10.6h0m.1 .4h0m.2 14.2h0m.2-23.5h0m0 11.2h0m.1-10.8h0m.1-6.6h0m0 23h0m.1-22.1h0m.3 3.5h0m0 21.8h0m0 7h0m.1-32.8h0m.2 .6h0m0 7.5h0m.2-6h0m.1 20.2h0m.1-29.3h0m0 34.8h0m0 4.3h0m.1-30.1h0m.1 10.4h0m.1 4.9h0m.3-19.9h0m0 1.5h0m0 8.4h0m0 4.7h0m0 .7h0m.2-8.3h0m.2 6.2h0m.1-1.3h0m0 4.4h0m.1 4.1h0m0 9.9h0m.1-23.3h0m0 5.6h0m.1 2.2h0m.2 1h0m.1 7.5h0m.1-18h0m.3-.4h0m.1 11h0m0 2.3h0m0 3.3h0m.1 5.9h0m.1-18.6h0m0 .7h0m0 1.3h0m.1-10.8h0m0 12.8h0m0 9.8h0m.1-16.8h0m.2-10.3h0m.1 28.9h0m.1-7.8h0m.1-9.8h0m.1 6h0m.1 3.1h0m.1-1.9h0m.1 5.7h0m.3-18h0m0 8.2h0m0 12.6h0m.1-7.4h0m0 1.5h0m.1-.6h0m.1-1.1h0m.1-7.4h0m0 5.3h0m.1-13.2h0m.3 3.9h0m.1 11.1h0m.1-8.5h0m0 1h0m.2 5.8h0m0 2.8h0m.2-13.3h0m0 20.7h0m.1-13.2h0m0 10.6h0m.1-12h0m0 16.4h0m.1-15.4h0m0 5.2h0m0 5.8h0m.1 3.3h0m.3-22.9h0m0 10.2h0m.1-16.8h0m0 11h0m0 6.2h0m.1-2.7h0m.1 5.6h0m.1-1.4h0m.2 16.4h0m.2-25.5h0m0 19.2h0m.1 11.9h0m.2-11.1h0m.1-15.7h0m0 3.2h0m.2 5.4h0m.2 4.6h0m.1-11.2h0m0 9.9h0m.2-8.9h0m0 6h0m.2-3.1h0m0 2h0m.1-10.1h0m0 7.2h0m0 1.7h0m0 .5h0m.1 .5h0m.2-10h0m.2 10.6h0m.2-4.2h0m0 8h0m.1-9.1h0m0 7.9h0m.1-3.2h0m0 12h0m.1-16h0m.1-.9h0m0 .7h0m0 8.6h0m.1-.2h0m.2-16.4h0m.1 8.6h0m.1 1.4h0m0 3.1h0m.1-.6h0m.3-13.3h0m.2 3.2h0m0 9.1h0m.3 7.6h0m.5-8.8h0m.1-1.2h0m.1 7.5h0m.3-5h0m.7-7.2h0m.1 9.1h0m.2-6.4h0m.8-.4h0m.2 7.1h0m.3-12.7h0m0 11.2h0m.5 2.6h0m1.2-3.3h0m1.3-1.8h0m.6-2.6h0m51.3 12.9h0m1.8-1.6h0m1.9-7.8h0m.6 4h0m.1-2.3h0m.5-4.6h0m.2 2.4h0m.2 1.7h0m.2-.6h0m0 2.4h0m.1 .3h0m.6-1.8h0m0 1h0m.7 1.8h0m.7-5.9h0m0 23h0m.1-20.3h0m.2 5.1h0m0 14.1h0m.1-33.3h0m.4 7h0m0 24.8h0m.4-7h0m.1-12.5h0m.3-1.6h0m0 9.3h0m.2-8.5h0m.1 11.3h0m.4-11h0m.1-2.5h0m.2 2.5h0m.3-3h0m.1-.1h0m.1 5.9h0m.1-3.1h0m0 1.9h0m.1-5.5h0m.1 12.8h0m.1-3.4h0m.1-15.3h0m0 10.1h0m0 6h0m.3-4.3h0m.1 20.2h0m.1-14.2h0m.1 8.3h0m.1-18.6h0m.2 1.8h0m0 14h0m.1-18.1h0m.1-2h0m0 5.2h0m.1-2.1h0m0 6.4h0m0 9.4h0m.1-16.8h0m0 9.7h0m.2-17.9h0m.1 11.1h0m0 1.9h0m0 3.4h0m.1 9h0m.1-16.2h0m0 1h0m.1 2h0m0 1.7h0m.1 4.8h0m0 14.6h0m.1-14h0m0 3.4h0m0 2.7h0m.1-5.6h0m.2 .5h0m0 10.1h0m.1-12.2h0m0 7.4h0m.1-10.9h0m0 .3h0m0 .7h0m.1-2.5h0m.2-.6h0m0 2h0m.1-4.3h0m.1 1.5h0m.2 11.9h0m.2-15.3h0m0 9.2h0m.1 6.1h0m.1-21.3h0m.1 10h0m0 1h0m0 1.2h0m.1-5.6h0m0 2h0m.1-13.6h0m.1 21.6h0m.2-9.9h0m0 5.9h0m0 2.9h0m.1-.5h0m.1-6.7h0m.1 6.6h0m.2-9.3h0m.1 2.9h0m.1 5.9h0m0 9.2h0m0 1.9h0m.4-6.8h0m.2-18.4h0m0 2.8h0m.1 12.4h0m.1 2.6h0m.1-5.2h0m.1-.6h0m.1-8.6h0m.1 17.8h0m.1-.7h0m.1-3.5h0m.2 12.1h0m.6-21.1h0m0 4.3h0m0 1.1h0m.3-11.9h0m0 13.8h0m.2-1.2h0m.2-9.3h0m.3 6.7h0m0 1.1h0m.2-4.8h0m.1 5.7h0m.1-1.6h0m.1-10.8h0m0 14.9h0m0 7h0m.3-9.7h0m.1 8.5h0m.1-5.6h0m.1-.9h0m.6-3.9h0m0 3.1h0m.1-4h0m.1 3.3h0m.1 .3h0m1.2-2h0m.1 4.5h0m.5 4.5h0m.2-10.3h0m.1-.3h0m55.1-5.2h0m1.2 2.4h0m.5-8h0m.7 10.2h0m.3 7.6h0m1.8-12.8h0m2.3 21.8h0m1.8-18.6h0m.8 22.8h0m.7-13.5h0m.4-18.5h0m.3 34.3h0m.4-5.3h0m.1-16.9h0m.1-3h0m0 24.1h0m.1-20.2h0m.1 15.6h0m.2-9.3h0m.5-20.6h0m.1 17h0m.1 5.1h0m.7-15.6h0m.2 16.3h0m0 .1h0m.1 2.8h0m.1-16.9h0m.4-.3h0m0 23.5h0m.3-18.6h0m.1 12.1h0m.1-.4h0m.1-34.3h0m0 22.3h0m.2 9.5h0m.1-15.6h0m0 9.1h0m0 17.3h0m.2-30.2h0m0 19.9h0m0 13.3h0m.1-32.1h0m.2-2.8h0m.1 14h0m0 3h0m.1-5.9h0m.5-5.1h0m0 6.8h0m.1-3.5h0m.1 2.8h0m.8-1h0m.1-13.4h0m.1 11.4h0m.2 .9h0m0 15.2h0m.1-12.5h0m0 2.6h0m.1-3.5h0m.4-3h0m0 2.4h0m0 1.4h0m.2 3.1h0m.2 6.5h0m0 10.3h0m.1-19.7h0m.1 3.4h0m.1-2.6h0m.1 5.9h0m.5-8.9h0m.2-.5h0m.1-2.1h0m0 .8h0m.1 10.6h0m.1-5.5h0m0 1.2h0m.1-9h0m.2 4.9h0m.1-13.7h0m0 15.8h0m0 11.6h0m.2-5.6h0m0 2.6h0m.1-7.5h0m.1-3h0m.1-7.2h0m.1-11.1h0m.4 17.5h0m.2 3h0m.1 9h0m.2-14.2h0m.3 3.8h0m.1-2.5h0m0 2.9h0m.1-2.3h0m0 1.2h0m.1-1.2h0m.2 4.8h0m0 6.6h0m.1-15.1h0m0 21.9h0m.1-7.8h0m.1-10.1h0m0 19.8h0m.1-22.8h0m0 10.2h0m.1 4.9h0m.3-3.1h0m0 13.3h0m.1-38.6h0m0 14.5h0m0 2.8h0m.1-8.9h0m.1-2.7h0m.1 21.1h0m.2-9.6h0m0 17.4h0m.3-30.2h0m0 24.2h0m.1-11.7h0m.1-14.8h0m0 10.3h0m.2 3.1h0m0 3.7h0m.3-7.8h0m0 10.6h0m.1 2h0m.2-14h0m0 13.5h0m.4-6.3h0m.2 2.7h0m.1-8.7h0m0 2.1h0m.1 5.6h0m.2 7.9h0m.1 3.1h0m.2-7.8h0m.1 6.3h0m.1-8.6h0m0 2.6h0m.1-9.1h0m.2-4.3h0m0 15.1h0m.9-1.2h0m.2-6h0m.1-4.4h0m.3 5.1h0m0 8.9h0m.7-11.5h0m.2 4.9h0m.1 6.1h0m.3-6.6h0m.2-3.9h0m.2-8.3h0m.2 15.5h0m.6-12.1h0m.1 8.8h0m.2-5.3h0m.2-3.3h0m.2 9.5h0m.2-4.5h0m0 6.2h0m.2-.9h0m1 .1h0m1.3 2.6h0m.7-8.8h0" stroke="#24509c" stroke-width="1.0" stroke-linecap="round" fill="none" stroke-opacity="0.95"/>
<path d="M57.8 145.8h0m1.3-9.4h0m2.1 4.2h0m4.5 7.1h0m.4 8.9h0m2.8-.9h0m2.9-5.4h0m1.1 .3h0m1.8-1.3h0m56.2 9.6h0m.1 1.1h0m.4 1.2h0m.3 2.2h0m.6-5.1h0m.2-21h0m.5 26.1h0m.1-3.6h0m1.1-5.9h0m.1 3.7h0m0 1.1h0m.1-1.4h0m0 .2h0m.5 2.8h0m.1-5.8h0m.2 2.7h0m.7 1.7h0m.2-1.6h0m1.1-.9h0m.4-1.2h0m.1-6.2h0m0 4.4h0m0 0h0m.1 .9h0m0 5.8h0m.3-4.9h0m.1 .2h0m.1-1.4h0m.3 3.9h0m.9 .6h0m.1-16.9h0m.5 14.8h0m.2-4.2h0m.3-4.8h0m.1 4.6h0m.4-1.5h0m.2-5.2h0m0 8.2h0m.9-4.3h0m.1-8.7h0m.7 4.8h0m3.5 12.4h0m1.8 .3h0m1.2-8.5h0m67.8 11.9h0m1.6 .1h0m0 1.6h0m1-4.7h0m.5 2.4h0m.2-3.7h0m0 3.9h0m.7 2.3h0m.2-1h0m.1-5.8h0m.1 2h0m.1-5.3h0m.2 4.5h0m.1-.4h0m0 1.9h0m0 3.6h0m.1-5.8h0m.3-9.8h0m.5 10.3h0m.1-19h0m.1 24.3h0m.4-6.3h0m.1-1.7h0m0 3.6h0m.4-1.4h0m.6 1.2h0m.2-3.2h0m.1 4.4h0m.1-4.5h0m.1-2h0m.1 .5h0m.3 5.1h0m.1-1h0m.1-3.6h0m.6-.7h0m0 3.9h0m.1 1.4h0m.1-4.3h0m0 1.3h0m.4-1.6h0m.3-2.7h0m.1 8.7h0m1.4-6.7h0m1.9-1.3h0m2.8 0h0m2.4-2h0m1.6 7.1h0" stroke="#c8d870" stroke-width="1.0" stroke-linecap="round" fill="none" stroke-opacity="0.95"/>
<path d="M181.5 129.6h0m.2-1.6h0m.1 4.1h0m0 3.8h0m.1-6.4h0m.1 4.6h0m.2-1.7h0m0 .3h0m.1 1.4h0m.1-7h0m0 8.2h0m0 2.1h0m.1-9.7h0m0 9.8h0m.3-7.4h0m.1-2.9h0m.2 10.6h0m.1-11.7h0m0 0h0m0 7.5h0m.1-7.2h0m.2 3.4h0m.1 1.6h0m0 3.9h0m.1 .2h0m.2-7.7h0m0 5.4h0m0 4.6h0m.4-6.8h0m.3-6.8h0m.1 3h0m0 5.6h0m.1-1.5h0m.1 5.3h0m.1-6.2h0m.1-5.8h0m.1 1.3h0m0 .2h0m0 10.5h0m.1-7.1h0m0 2h0m.1-2.1h0m0 10.2h0m.3-5.9h0m.2 .2h0m.1-11.1h0m0 3.8h0m.1 14.6h0m.1-14.9h0m0 11.9h0m.2-11.6h0m0 6.6h0m.2-5.3h0m0 6.1h0m0 6.1h0m.2-13.2h0m0 7.4h0m0 .6h0m.1-3.9h0m.1-4.6h0m.1-1h0m.1-.5h0m0 8h0m0 5.9h0m.1-12.9h0m0 8.9h0m.1-12.4h0m0 2.5h0m0 5.6h0m0 .4h0m0 2.7h0m0 .4h0m.1-8.5h0m0 4.9h0m.1-2.5h0m.1 2.8h0m0 4.8h0m.1-5.6h0m.2 1.1h0m0 9.4h0m.1-2.4h0m0 3.9h0m.2-18.3h0m0 2.8h0m0 2.5h0m0 1.2h0m0 7.6h0m.2-3.8h0m.1-3.5h0m.1 9h0m.1-14.6h0m.1 6.7h0m0 4.4h0m0 2.2h0m.1-13.6h0m0 11.9h0m.2-.2h0m0 1.1h0m0 4.5h0m.1 .1h0m.1-13.4h0m0 3.4h0m.1 4.7h0m0 1.1h0m.1-14.5h0m0 5.7h0m0 .7h0m0 3h0m0 5.9h0m0 1.6h0m.1-13.1h0m.1 11.3h0m.2-13h0m0 4.6h0m.1-.7h0m.1-6.1h0m.1 5.3h0m0 6.2h0m.1 2.7h0m.1-5.2h0m0 4.9h0m.1-10.4h0m0 4.9h0m0 0h0m0 .5h0m0 4.2h0m.1-8.5h0m.1 10.1h0m0 1.1h0m.1-11.4h0m0 .9h0m0 11.2h0m0 .8h0m.1-4h0m.1-11.5h0m0 15h0m.1-8h0m0 2.7h0m.1-8.4h0m0 .4h0m0 1.1h0m0 7.5h0m0 0h0m.1-9.9h0m0 6.8h0m.1-3.2h0m.1 .6h0m.1 .6h0m0 9.3h0m.1-12.1h0m0 3.5h0m0 3.2h0m.1-11.2h0m0 16.2h0m.1-8.5h0m0 7h0m.1-3.6h0m.1-5.9h0m0 12.9h0m.1-.5h0m.1-14.1h0m0 12.6h0m.1-12.6h0m0 6.8h0m0 7.3h0m.1-2.1h0m.1-8.9h0m.1 8.8h0m.1-6.8h0m.1-3.1h0m.2 2.6h0m.1-1.1h0m0 8.6h0m.2-.4h0m.2-10.5h0m0 3.2h0m0 5.2h0m0 .8h0m.1-4.4h0m0 3.2h0m.1-2h0m.1-.7h0m.1 1.4h0m.3 3.2h0m.3-.6h0m0 1.3h0m.2-5.1h0m0 0h0m0 5.8h0m.1-5.6h0m0 4.8h0m.3-11.4h0m0 3.1h0m0 6.1h0m.7-.4h0m.2-4.9h0m0 .9h0m.2 1.6h0m.2-.2h0m.4-1h0" stroke="#f4a8b0" stroke-width="1.0" stroke-linecap="round" fill="none" stroke-opacity="0.95"/>
<path d="M53.1 129.1h0m.8 3h0m.3 7.1h0m.1-5.9h0m.3-4h0m1.3 7.2h0m.3 .3h0m.1 5.1h0m.4-5.3h0m.1-2.8h0m0 8.9h0m.1 3.1h0m.3 .2h0m.3-22h0m.1 19h0m.1-11.2h0m.6 2.6h0m.5-12.6h0m0 10.7h0m.4-8.5h0m.5 15.5h0m.1-12.9h0m0 12h0m.3 2h0m.7-13h0m.1 5.4h0m.1-11.7h0m.1 20.2h0m.2-19.4h0m0 17.3h0m.4-10.4h0m1.1 8.5h0m.2-2.8h0m.6-7.4h0m0 13.2h0m.3-7.2h0m.1 7h0m.4 1.2h0m.5-1.5h0m.3 5.2h0m.3-21.5h0m0 7.7h0m.5-14h0m.2 14.2h0m.1 18h0m.1-10.4h0m.3-6.4h0m.2 1.8h0m0 3.2h0m.3-14.9h0m0 11.8h0m.6 2.6h0m0 18.8h0m.1-22.6h0m.6-7h0m.2-8.5h0m0 7.3h0m0 9.3h0m0 18h0m.1-8.6h0m.8-25.2h0m.1 8.2h0m.2 13h0m0 6.4h0m.3-7.3h0m0 14.1h0m.2 4.4h0m.2-4.3h0m.1-12.2h0m.2 5.7h0m.1-14.9h0m.3 14.7h0m.1-13.2h0m.1-5.8h0m.1-5.8h0m0 26.9h0m.1-5.4h0m.5 4h0m.7-8h0m.3 10.7h0m.4-20.5h0m.2 7.5h0m.1-2.7h0m.4 10.2h0m.2-23.9h0m.2 30.5h0m.3-27.2h0m.9 24.8h0m1.7-20.1h0m.9 18.4h0m.3-11.6h0m0 12.3h0m.3-21.8h0m54.6 3.1h0m.3 3.6h0m.3 3.6h0m.2 0h0m.9 9.1h0m.1-9.9h0m.9 3.1h0m.1-7.6h0m0 3.1h0m.2 6.5h0m.2-3.9h0m.2-1.4h0m.5-.5h0m.1 3.1h0m.3-12.9h0m.1 4.9h0m.2-8.3h0m0 4.6h0m0 2.8h0m.5-4.2h0m.1 15.8h0m.1-2.7h0m.3 4.7h0m.3-20.4h0m.2 19.9h0m.3 1.4h0m.2-14h0m.5 .5h0m.1 18.7h0m.4-24.2h0m0 22.9h0m.7-22.2h0m0 1.4h0m0 15.8h0m.4-14h0m.3 13.7h0m.2-18.5h0m.1-.9h0m.3 16.4h0m.1 8h0m.1-22.5h0m0 15.7h0m0 10.3h0m.1-9h0m0 15.7h0m.1-14.5h0m.1-11.4h0m0 8.7h0m.2 15h0m.4-12h0m0 8.4h0m.1-12.2h0m.3 15h0m.4-26.8h0m0 14.4h0m.2-9.8h0m.1-12.1h0m0 12.5h0m.1 20.6h0m.4 .2h0m.2-7h0m.2-10.2h0m1.4-6.1h0m0 12h0m0 4.9h0m.2-16.6h0m.5 11h0m.2-1.1h0m0 9.1h0m.1-25.1h0m.1 11.4h0m.1-8.6h0m.1 19h0m.7-23h0m.5 14.4h0m.1-4.6h0m.1 1.8h0m.1 19.8h0m.6-20.1h0m.1 8.1h0m0 1.7h0m.3 6.1h0m.5-9.6h0m0 4.5h0m.4 6.5h0m2.5-9.5h0m.3-10.6h0m.6 12.1h0m1.2-2.5h0m.3-3.2h0m60.6-11.3h0m.5-2.7h0m0 2h0m.2 9.8h0m.4-3.4h0m.2-9.5h0m.1 12.7h0m.5-5.6h0m.5 5.7h0m.7 5h0m.1-11.3h0m.2-6.7h0m0 12.1h0m.1 5.8h0m.1-5.4h0m0 13.1h0m.1-14.7h0m.3-4.4h0m.1 18.6h0m.1-11.1h0m.8-8.3h0m.1-2.4h0m.1 19.5h0m.1-8.5h0m.3 14.3h0m.5-26.7h0m0 9h0m.2 7.4h0m.8 8.8h0m.1-27.9h0m0 6.4h0m.6 7.8h0m.1-5.4h0m.1-2h0m.1 6.1h0m.5-11.2h0m.2 12.6h0m0 11.4h0m.1 6.7h0m.4 1.9h0m.2-20.8h0m0 18.9h0m.1-12.8h0m.2 5.3h0m.2-7h0m.3 11.6h0m.4-18.7h0m.6 1.7h0m0 17.2h0m.1-6.8h0m.2-10h0m.1 2.9h0m0 3.3h0m.3-7.8h0m.2-21.1h0m.4 19.5h0m.1 6.1h0m.1-20.6h0m.2 7.5h0m0 32.7h0m.2-28.9h0m0 25.2h0m.1-14.8h0m.1-9.5h0m.2-6.9h0m.3 23.8h0m0 5.8h0m0 4.1h0m.2-19.2h0m.1 15.4h0m.2-15.9h0m.2 7.1h0m.1-6.6h0m0 2h0m.1 5.1h0m.2-17.1h0m0 29.9h0m.2-31.4h0m.3 2h0m0 13.8h0m0 4.7h0m.3-10.8h0m.2 1.4h0m.4 11.2h0m.1-10.1h0m.2-15.6h0m.2 9.5h0m1-1h0m0 8.8h0m0 5.3h0m0 10.1h0m.2-18.9h0m.1 7h0m.1 9.8h0m.6-26.1h0m.1 24.3h0m.3-21.6h0m.7 15.5h0m.3-3.4h0m.3-2.2h0m0 13.5h0m.1-20.7h0m0 2.6h0m.7 .4h0m.2 6.7h0m.4-5h0m.1 6h0m.2 5.7h0m.4 .2h0m.2-9.8h0m.2 13.2h0m.6-26h0m.4 23.2h0m3-3.3h0m.7-5.1h0m.9-1.3h0" stroke="#9cd080" stroke-width="1.0" stroke-linecap="round" fill="none" stroke-opacity="0.95"/>
<path d="M96 133.4h0m.5-1.2h0m.3 7h0m.2 0h0m.1-7.7h0m0 9.1h0m.3-10.2h0m.5 12.9h0m.2-5.7h0m.3 3.4h0m.2-13.1h0m.4 12.8h0m0 1.2h0m.2-13.2h0m.2 18.4h0m.1-8h0m.5-3.1h0m0 6.2h0m0 2.9h0m.1-12.1h0m.3-2.6h0m0 11h0m.2 .6h0m.2 4.6h0m.1-4.2h0m.2 1.2h0m.2-4.9h0m.7-.6h0m.3 5h0m.1-8.9h0m.1 4.9h0m.1 4.4h0m.3-4.7h0m.1-12.1h0m.4 0h0m0 9.2h0m.1 3.9h0m.3-15h0m.2 26.5h0m.2-29.3h0m.1 12.5h0m0 3.9h0m.1-11.4h0m.2-.2h0m0 23.6h0m.1-14.8h0m.3 12h0m.1-22.3h0m0 5.8h0m0 2.6h0m.1-10.2h0m0 9h0m.2-8.2h0m0 2.3h0m0 1.1h0m0 14.7h0m.2-19.1h0m.5 16.4h0m.2-7.6h0m0 9h0m.1-11.8h0m0 .3h0m.2 2.2h0m0 1.1h0m.3-10.1h0m0 15.3h0m.1 3.3h0m.1-9.3h0m.1-10.1h0m.1 15.9h0m0 .8h0m.1-11.9h0m.1 1.1h0m0 .3h0m.2-5.3h0m0 18.3h0m0 7.9h0m.2-22.9h0m0 4.8h0m.1 18.6h0m.1 2h0m.1-14.7h0m.1-14.9h0m0 3.3h0m0 17.6h0m0 2.8h0m0 3.6h0m.1-29h0m.1 27.7h0m.1-15.4h0m0 13.9h0m0 3.4h0m.1-21h0m.1 6.5h0m0 .8h0m.2-7h0m0 12.6h0m0 10h0m.1-31.9h0m.2 11.5h0m.1 17.7h0m.1-28.3h0m0 2.7h0m0 8.9h0m0 7.5h0m.1 .8h0m0 11.1h0m.1-20.1h0m0 1.8h0m0 2.6h0m.1-8.9h0m.1 9.6h0m.1-12.3h0m0 22.8h0m.2-17.8h0m0 4.3h0m.2 2.1h0m.2 6.5h0m0 2.6h0m.1-12.7h0m0 5.4h0m.1-6.3h0m0 16.9h0m.2-3.7h0m.2-24.5h0m0 19h0m.1 14.3h0m.1-28.4h0m0 24.2h0m.1-3.2h0m.1 4.2h0m.1-29.8h0m0 11.7h0m.1 4h0m.1 14h0m.2-5.4h0m.1-12.5h0m0 7.8h0m.1-11.4h0m.1-.5h0m0 3.3h0m.1-.2h0m0 12h0m0 .7h0m.3-6.7h0m.2-1.4h0m0 2.4h0m0 .2h0m.1-13.3h0m0 11.9h0m.1-6.2h0m0 16.3h0m.2-18.7h0m.1 .3h0m0 14.7h0m.1-12.6h0m.2 9.5h0m0 7.9h0m.2-9h0m.1-18.8h0m0 11.4h0m0 3.1h0m0 7.5h0m.1-6.2h0m0 .8h0m.3 10.2h0m.1-3.8h0m.1-11.5h0m0 9.1h0m.4-13.1h0m.2 4.6h0m0 13.9h0m.2-20.9h0m0 7.8h0m0 17.8h0m.1-6h0m0 7.5h0m.1-25.5h0m.1 22.1h0m.1-16.5h0m0 12.2h0m.2-18.7h0m0 6.5h0m.1 9.1h0m0 5h0m.2-9.9h0m.1 3.1h0m0 3h0m.3-9.7h0m0 5.9h0m0 6.5h0m.3-16.6h0m.1 5.6h0m0 8.7h0m.1-2.8h0m.1-8.5h0m.1 10.6h0m.1-7h0m.3 6.1h0m0 2.3h0m.1-3.8h0m0 .6h0m0 2.7h0m.1-20.8h0m0 11.3h0m.1-1.4h0m.1-.5h0m0 18.4h0m.2-15h0m.1 12.9h0m.1 2.5h0m.1-15.2h0m.1-13.1h0m0 1.7h0m0 7h0m0 19.3h0m.2-3.3h0m.2-4.1h0m.1-21.8h0m.2 23h0m.2-13.3h0m.1 16.2h0m.1-16.3h0m.2-1.6h0m.2 6.8h0m.1-6.9h0m0 2.4h0m0 9.1h0m.1-11h0m0 1.1h0m0 2.7h0m0 2.6h0m.1-12.3h0m0 2.1h0m.1 14.3h0m.1-14.8h0m0 8.7h0m0 .4h0m0 6.4h0m0 .6h0m.1-16.9h0m0 1.9h0m0 10h0m0 5.1h0m.1-12.2h0m0 7.9h0m0 2.3h0m.1-11.9h0m0 13.4h0m.1-16.8h0m.1 18.8h0m0 4.9h0m.1 1.6h0m.5-11.3h0m.1-4.5h0m.1 2.8h0m0 2h0m0 5.3h0m0 1.8h0m.1-12.5h0m.3-7.6h0m0 10.2h0m.1-4.7h0m0 5.2h0m0 8.7h0m.2-18.6h0m0 6h0m0 7h0m0 3.2h0m0 4.9h0m.1-2.2h0m.3-18.6h0m.1 13.5h0m.2 6.2h0m.1-20.7h0m0 8.9h0m0 1.6h0m.2-1.4h0m.1 7.1h0m.1-7.3h0m.1 5.8h0m0 3.3h0m.1-11.5h0m.1 1.2h0m.3-7.3h0m0 5.2h0m.7 5.6h0m.3 2.2h0m.1-3.1h0m.2 2.5h0m.2-2.1h0m.2 1.7h0m.1-1h0m.2 1h0m.1-8.4h0m0 4.8h0m0 3.3h0m.1-1.9h0m.3 2.8h0m.3-3.7h0" stroke="#f6c4c8" stroke-width="1.0" stroke-linecap="round" fill="none" stroke-opacity="0.95"/>
<path d="M184.3 140.4h0m0 3.1h0m0 .1h0m.2-1.7h0m0 2h0m.1-2.4h0m.1 2.7h0m0 .4h0m.7-1.4h0m0 1.9h0m.1-4h0m0 3.5h0m.2-3.3h0m0 2h0m.1-.4h0m.2-4.8h0m0 3.1h0m.1 2.9h0m0 1.5h0m.2-7.4h0m0 8.2h0m.1-8.9h0m0 .2h0m0 9.2h0m.1-.7h0m.1-7.5h0m.2 1.1h0m0 .1h0m.1 4.5h0m.1-7.7h0m0 1.7h0m.1 0h0m.2-.5h0m0 9h0m.1-.2h0m.1-10.4h0m0 2.2h0m.1-2.2h0m.1 3.3h0m0 2h0m0 4.6h0m.1-2.6h0m.1-6h0m0 4.7h0m0 .3h0m0 1.6h0m.2-7.5h0m0 .9h0m0 .5h0m.1 2.7h0m.2-4.4h0m0 4.3h0m.3 .7h0m0 3.3h0m0 1.7h0m0 1.1h0m.1-8.9h0m0 .2h0m.1 .8h0m.3 1.9h0m0 .1h0m.1-.3h0m.1-4.5h0m0 7h0m.2-1.8h0m.1-6.3h0m0 5.5h0m.1 6.7h0m.1-11.9h0m0 2.4h0m0 8h0m.1-9.5h0m0 4.6h0m.1 4.4h0m.1-2.8h0m.1-2.7h0m.1 5.9h0m.2-10.4h0m0 9.9h0m0 3.3h0m.1-10h0m0 4.1h0m.1-2.9h0m0 7.1h0m0 .4h0m.1 .2h0m0 .3h0m.1-9.6h0m0 .8h0m0 7.3h0m0 .7h0m.1-1.3h0m0 1.6h0m.2-1.1h0m.2 1.8h0m.1-12.7h0m0 7.3h0m.1-7.8h0m0 9.4h0m0 1.3h0m.2-4.3h0m0 5.8h0m0 1.4h0m.1-4.6h0m0 4.1h0m.2-11.1h0m0 .8h0m0 7h0m.2-9.5h0m0 10.1h0m.1-10.4h0m.1 .5h0m.1-1.6h0m0 3.7h0m.1-2.3h0m0 1.8h0m0 1.2h0m0 .6h0m0 2.6h0m0 1.7h0m.1-8.6h0m0 3.9h0m0 8.3h0m.1 2.3h0m.1-15.2h0m0 .8h0m0 2.8h0m.1-1.6h0m0 13.4h0m.2-12.5h0m0 5.9h0m0 6.6h0m.1-15.3h0m0 5.5h0m0 3.3h0m.1-7h0m.2-.5h0m0 1h0m0 .2h0m.1 8h0m.1 1.3h0m0 3.3h0m.1-13.6h0m.1 12.1h0m0 1.8h0m.3-15.4h0m.1 2.1h0m0 .6h0m0 4.1h0m0 4.3h0m.1-10.8h0m0 1.1h0m0 0h0m.1 9.5h0m0 1.6h0m.1 .3h0m.1-8.8h0m0 6.7h0m0 2.5h0m0 2.3h0m.1-2.8h0m.1-6.9h0m0 3.3h0m0 .2h0m.1-7.4h0m.2 1h0m.1-1.3h0m0 7.6h0m0 1.9h0m0 .7h0m0 3.6h0m.1-11h0m0 9.2h0m.1-12.7h0m.3 1.2h0m.1-.4h0m0 6.4h0m0 7.5h0m.1-4.7h0m.1-9.4h0m.1-1.2h0m.1 2.3h0m.1 10.4h0m.1-12.3h0m0 3.7h0m0 1.1h0m0 9.8h0m.1-4.9h0m.1-4.8h0m0 2.1h0m0 2h0m0 4.8h0m.1-7.2h0m0 .7h0m0 5.8h0m0 1.5h0m.1-14.9h0m0 12.2h0m.1-10.1h0m0 9.1h0m.1 3.9h0m.2-15.2h0m0 9.8h0m.2-7.8h0m0 2.9h0m0 3.2h0m.1-3.7h0m.1 6.9h0m.1-5.4h0m0 1.7h0m0 3.8h0m0 1.9h0m.1-9.1h0m0 6.9h0m0 3.3h0m.1 .6h0m.1-.3h0m.1-9.9h0m.1 1h0m0 8.7h0m.1-14h0m0 2.1h0m0 3.3h0m.1 6.1h0m0 2.7h0m.1-13.6h0m0 10.7h0m0 1.7h0m.1-6h0m0 4.3h0m.1-.8h0m.1-6.3h0m0 6.5h0m.1-4.9h0m.1-1.7h0m0 4.4h0m.2-.7h0m0 3.8h0m.1-7.6h0m0 1.4h0m0 1.3h0m0 3.3h0m.1 .2h0m0 3.5h0m.1-5.9h0m.2-3.1h0m.1-2.3h0m.1 4.7h0m0 5.3h0m.1-10.7h0m0 9.5h0m0 .7h0m.1-4.2h0m.1-1.2h0m0 2h0m.1-8.1h0m0 4.6h0m.1 1.5h0m0 2.5h0m0 3.4h0m.1-8.8h0m0 7.9h0m.1-8.5h0m0 3.2h0m0 3.2h0m.1-6.4h0m0 7h0m.3-7h0m0 1.5h0m0 3.3h0m.1-6h0m0 3.9h0m0 2.1h0m.1-6.8h0m0 2.5h0m.1 5.6h0m.1-8.1h0m0 5.7h0m.1-5.1h0m0 1.6h0m.1-.9h0m0 1.6h0m0 6.7h0m0 1.1h0m.2 1.2h0m.1-11.8h0m0 4.3h0m.1 4h0m.2-3.5h0m.3-2.4h0m0 3.4h0m0 3.9h0m.1-3.1h0m.1-1.9h0m0 3.9h0m0 .3h0m.1-1.8h0m0 1h0m0 1.9h0m.1-8.7h0m0 1.9h0m.1-.5h0m.1 5.6h0m0 .6h0m0 0h0m.1-4.3h0m.1 2h0m.1-5.5h0m0 5.4h0m0 3.6h0m.2-1.9h0m.3 .7h0m.1-1.8h0m0 .3h0m0 1.5h0m.1-.9h0m0 .8h0m.1-1.4h0m0 .9h0m.1-1.4h0m.2 1.5h0m.1-5.4h0m0 1.6h0m0 .6h0m0 2.6h0m.1-3.7h0m.1-.6h0m0 5.2h0m.2-3.8h0m.2 2.1h0" stroke="#e3405e" stroke-width="1.0" stroke-linecap="round" fill="none" stroke-opacity="0.95"/>
<path d="M184.9 139.7h0m0 3.1h0m.2 3.6h0m.6-5.5h0m0 3.6h0m.1-4.5h0m1.1 .6h0m.2-1.4h0m.4 6.6h0m0 1.7h0m.1-1.3h0m.1-2.9h0m.1 3.5h0m.4-10.8h0m.2 13.5h0m.2-6.3h0m.5-1.7h0m.2 8.7h0m.2-8.4h0m0 8.2h0m.3 .3h0m.1-15.3h0m.1 13.2h0m.2-12.3h0m.1 15.6h0m.5-15.7h0m.1-.8h0m.1 13.7h0m0 .1h0m.2-5.2h0m.2-2.9h0m.2 1h0m.1 .5h0m.1-7.5h0m.2 8.2h0m.2-3.5h0m.1 3.8h0m.3 3.7h0m.3-.3h0m.1-.1h0m0 1h0m0 1.7h0m.1-4.4h0m.3 2.2h0m.2-9.6h0m.1 .5h0m0 4.2h0m.2-5.5h0m0 11.1h0m0 4.2h0m.4-11.8h0m0 8h0m.2-14.5h0m0 1.8h0m.1 9.4h0m.1-2h0m0 1h0m0 .4h0m0 .2h0m.3 5.9h0m.1-8.8h0m0 5.8h0m.2-13.4h0m0 8.2h0m.1-1.3h0m0 .9h0m.2 6.9h0m.2 0h0m.1 1.4h0m.1 .1h0m0 1.5h0m.3-3.2h0m.1-3.1h0m0 2.6h0m.5-7.4h0m0 6.3h0m.4-9.9h0m0 8.4h0m.3 2.5h0m.1-14.6h0m0 1.5h0m.3-.5h0m0 12.9h0m.1-1.8h0m.3-4h0m.1 1.1h0m.1-5.4h0m0 13.6h0m.1-1.2h0m.1-8.9h0m0 3h0m.1 9.3h0m.1-19.4h0m0 17.7h0m.2-16.5h0m0 17.9h0m.1-17.3h0m.2 14.7h0m.3-12.2h0m.1 1.9h0m.3-2.9h0m0 8.1h0m.2-.8h0m.2-1h0m.1-.2h0m.3 2.3h0m0 4.1h0m.1-3.5h0m0 3.4h0m.2 1.8h0m.2-15.7h0m0 6.9h0m.1 1.6h0m0 6.4h0m.2-13.7h0m0 2h0m.2 3.5h0m.2 1.6h0m.1 3.8h0m.2 .8h0m.1-2.8h0m.1 .2h0m.1-11h0m.3 9.9h0m0 5.4h0m.3-.1h0m.1 .7h0m.3 1h0m.3-10.1h0m.1 1.5h0m.2-1.1h0m.1-4h0m.1-1.7h0m.6 8h0m0 2.1h0m.2-5.8h0m.2 4.2h0m0 3h0m.1 1h0m.5-10.5h0m.6 .1h0m.4 1.9h0m0 5.5h0m.1-4.4h0m.9-2.5h0m.4 .8h0m.1 1.8h0m.2-.9h0m.2 1.1h0m.1 4.2h0" stroke="#ec7088" stroke-width="1.0" stroke-linecap="round" fill="none" stroke-opacity="0.95"/>
<path d="M98.1 146.3h0m.3 .6h0m.2 1h0m.1-3.9h0m.4 2.2h0m.1-.1h0m0 1.4h0m.1-4.5h0m.1 5.8h0m.1-3.4h0m0 2.7h0m.2-4.5h0m0 .6h0m.2 .7h0m0 2.4h0m.3-4.8h0m0 2.4h0m.1-2.7h0m0 1.8h0m.1-1.1h0m0 4.9h0m.1-3h0m0 .7h0m0 .3h0m.2-.7h0m0 4.6h0m.1-2.3h0m0 1.3h0m.1-1.8h0m.1-1.8h0m0 1.5h0m0 1h0m.2-1.3h0m0 4.1h0m.1-5h0m0 3.3h0m.1-1.3h0m.2-3h0m0 .6h0m0 3.5h0m.1-4.1h0m0 4.4h0m.1-1.8h0m0 2.9h0m.1-.7h0m.1-5.5h0m0 3h0m.1-5.3h0m.1 2.8h0m0 5.9h0m.2-8.1h0m0 2.6h0m0 1h0m0 3.1h0m0 1.7h0m.1-6.4h0m0 2.2h0m.1-2.6h0m0 1.4h0m.1 1.6h0m.1 1.2h0m0 .5h0m.1-7h0m0 .8h0m0 8h0m.1-2.1h0m0 1.8h0m.1-6.8h0m0 2.2h0m0 .8h0m.1-4.8h0m.2 2.9h0m0 1.5h0m0 1.3h0m.1-3.5h0m0 .4h0m0 2h0m0 .1h0m0 .2h0m0 1h0m0 2.9h0m.1-5h0m0 2.7h0m.2-5.3h0m.1-.9h0m0 9.3h0m0 .1h0m.1-9.2h0m0 .6h0m.1 3.1h0m0 .3h0m0 2.1h0m.1 1h0m.1-4.4h0m0 .1h0m0 2.5h0m0 .3h0m0 .4h0m.2-2.9h0m0 .6h0m.1 5.4h0m.1-6.6h0m0 4.9h0m0 .5h0m0 .4h0m.1-7.8h0m.1 3.4h0m0 .3h0m0 4.4h0m.1-7.8h0m0 1.4h0m.1 .9h0m0 6h0m.2-2h0m0 .2h0m0 1.8h0m.1-6h0m0 2.8h0m.1-3.6h0m0 .8h0m.1-2.7h0m0 4h0m0 1.7h0m.2-4.8h0m.1-.1h0m0 6.8h0m.2-2.1h0m.2-5.8h0m.1 .1h0m0 8.4h0m.2-8.2h0m0 .8h0m0 5.7h0m.1-3.3h0m0 .5h0m0 .8h0m.1-3.8h0m0 .7h0m0 1.3h0m0 3.8h0m.1-.5h0m.1-1.6h0m0 3.2h0m.1-2.7h0m0 1h0m.1 .9h0m.1-4.5h0m0 .9h0m.1 1.1h0m.1-1.5h0m.1-.6h0m.1 3.8h0m.1-1.3h0m.1-3.9h0m0 2.4h0m0 4.1h0m.1-2.5h0m.3 .2h0m0 .8h0m.2-1h0m.1-2h0m0 .1h0m0 1.6h0m0 .7h0m0 0h0m.1-4.3h0m0 1.4h0m0 1.4h0m.1-.4h0m0 3.2h0m.1-2.5h0m.1-.4h0m.1 2.9h0m.1-4.6h0m0 1.4h0m.1 2.7h0m.1 0h0m.1-2.9h0m.4 .9h0m0 .3h0" stroke="#d0143a" stroke-width="1.0" stroke-linecap="round" fill="none" stroke-opacity="0.95"/>
<path d="M179.9 134h0m.2 5.7h0m.6-.5h0m.5-4.5h0m.1 5.3h0m0 3.3h0m.1-14.9h0m.1 3.1h0m0 4.4h0m.3 4.8h0m.5-3.5h0m.1-5.3h0m.1 6.6h0m.2-3.7h0m.1 11.3h0m.2-7h0m.1 6.2h0m.1-9.4h0m0 11.7h0m.1-18.9h0m.6 18h0m.1-17.9h0m.1 1.6h0m0 .5h0m0 6.7h0m.1 4.7h0m.1-8.5h0m0 6.4h0m.1-15.9h0m0 16.6h0m.3 5.7h0m.1-21.9h0m0 10.5h0m0 12.2h0m.1-23.9h0m0 6.2h0m0 3.9h0m.1 .5h0m0 8.5h0m.1-2.9h0m.1-9.9h0m.2 19.6h0m.1-11.9h0m.1 4.2h0m.1-15.5h0m0 17.1h0m.1-4.3h0m.1-11.9h0m0 1.9h0m.1 1.7h0m.1 13.7h0m.1-13.5h0m.1 11.8h0m0 8.4h0m.2-7.2h0m.1-15.6h0m.1 1.4h0m.1-5.9h0m.1 4.9h0m0 .7h0m0 9.8h0m0 1.5h0m.1-15.8h0m0 16.3h0m.2-19.2h0m.1 7h0m.1 11.6h0m.1-7.3h0m0 7.9h0m.1-11.5h0m0 5.6h0m.1 3h0m.1 .8h0m.1-6.6h0m0 5.3h0m.1 4.6h0m.1-20.9h0m0 20.2h0m.1 .2h0m.2-12.5h0m0 .6h0m0 5.5h0m.5 4.1h0m.1-7.7h0m.4-11.9h0m0 22.9h0m.2-15.4h0m0 11.5h0m.1-2.6h0m.1-2.9h0m0 7.9h0m.3-16.2h0m0 4h0m0 20.6h0m0 2.2h0m.1-13h0m.1 13h0m.3-20.4h0m.1-4.7h0m.1 3.8h0m.1 8.8h0m.4-3.8h0m0 4.4h0m.2-2.5h0m.1-9.9h0m0 23.3h0m.1-25.3h0m.1 14h0m0 6h0m.2-23.1h0m0 23h0m0 5.9h0m.3-14.8h0m0 7.1h0m.1-11.1h0m0 10.6h0m0 3.5h0m.4-20.5h0m0 10.7h0m0 13.6h0m.1-23.1h0m0 10.6h0m0 7.3h0m.4-.9h0m.1-16.2h0m.3-8.2h0m0 32.8h0m0 .1h0m.1-4.4h0m.1-29.4h0m.1 12.2h0m0 3.3h0m0 2.9h0m.1 8.6h0m.1-24.7h0m.1 16.2h0m.1-6.1h0m.1-7.2h0m.1 21.3h0m0 3.5h0m.1-15.3h0m0 20.9h0m.3-24.6h0m.2 .5h0m0 .2h0m0 14.8h0m0 5.1h0m.3-22h0m0 0h0m0 15.4h0m0 7.9h0m0 0h0m.1-19.9h0m0 1.2h0m.1-9.2h0m0 8.3h0m.1-10.5h0m.1 1.8h0m0 18.8h0m.1-17.1h0m0 9.5h0m0 13.4h0m.2-22.3h0m.1-7.9h0m0 4.2h0m0 3.4h0m.1-3.8h0m0 10.7h0m.1-13.8h0m0 6.4h0m.1 28.3h0m.3-10.5h0m.1 .3h0m0 1.3h0m0 1.2h0m.1-.1h0m.1-6.9h0m.1-4.5h0m0 12.1h0m.1-15.7h0m0 4h0m.1-7.6h0m0 11.6h0m.2-2.5h0m0 7.8h0m.1-15h0m.1 2.9h0m0 19.5h0m.2-26h0m0 9.7h0m.1-2.7h0m0 .6h0m.1 3.7h0m.1-10.7h0m0 .7h0m.1 26.7h0m.1-25.6h0m0 8.3h0m.2-9.4h0m0 4.3h0m0 22.5h0m.3-22.8h0m.1 19.6h0m0 3.1h0m.1 1.3h0m.1-32.2h0m0 8.6h0m0 16.4h0m.1 6.9h0m.1-29.2h0m0 15h0m0 5.8h0m.3-9.9h0m0 9.5h0m0 8.2h0m.2-15.4h0m.2-19h0m.1 11.3h0m0 19.5h0m.2-29.4h0m0 4.3h0m.2 10.6h0m0 11.6h0m.1-15.1h0m.2-7.2h0m0 9.9h0m0 11h0m0 3.3h0m.1-30.1h0m0 28.6h0m.1-10.2h0m.1 9.6h0m.2-18.3h0m.1 7.6h0m0 9.4h0m.1 .4h0m.2-23.1h0m.1 6.4h0m.3-9.4h0m0 13h0m0 9.5h0m.1-23.2h0m0 .8h0m0 15.8h0m0 14.3h0m.1 3h0m.1-24.3h0m0 15.3h0m.1-5.6h0m.1-15.7h0m0 5.5h0m.1-6.2h0m0 7.1h0m0 19.9h0m0 2.2h0m.1-29.5h0m0 13h0m.2 11.1h0m0 6.1h0m.1-29.8h0m.1 29.5h0m.1-20.1h0m0 5.6h0m0 14.8h0m.1-1.6h0m.1-1.2h0m0 3.7h0m.1-33.1h0m0 5.7h0m.4-1.9h0m0 3.2h0m.3 4.8h0m0 8h0m0 7.5h0m0 .6h0m.1-7.1h0m.2-15h0m0 15.3h0m.1-14.9h0m0 12.4h0m.1-5.5h0m0 4.6h0m.1 1.5h0m0 12.2h0m0 .7h0m.1-27.2h0m0 14.1h0m0 3.9h0m0 8.9h0m.2-10h0m.1-8.7h0m0 16.3h0m.1-25.2h0m0 14.3h0m.2 2.1h0m.1 1.2h0m0 8.7h0m0 1.2h0m.2-7.2h0m.1 4.2h0m.1-11.9h0m.1-13.4h0m0 3.5h0m0 20.8h0m.1-20.4h0m0 12.4h0m0 6.5h0m0 1.5h0m.1-14.8h0m0 3.6h0m0 4.9h0m0 6.6h0m.2-5.8h0m.2 6.8h0m.1-24.5h0m0 22.9h0m.1-17.3h0m.1 7.7h0m0 2.8h0m0 8.4h0m.1-3.6h0m0 1.9h0m0 .6h0m.1-19.3h0m0 18h0m.1-23.3h0m0 7.8h0m0 2.2h0m.2 3.8h0m0 6.4h0m0 1h0m.2-6.5h0m.3-5.4h0m0 4h0m.1-10.2h0m0 20.3h0m.1-2.1h0m.1-.1h0m0 4.3h0m.1-25h0m.1 14.5h0m.4-10h0m.1 17.9h0m.2-5.9h0m.5 1.7h0m.1-1.1h0m.2-14.5h0m.1 16.7h0m.1-1.8h0m0 2.9h0m0 3h0m.1-17.5h0m.1-1.1h0m0 3.1h0m.1 14.4h0m.1-5.2h0m.2-11.3h0m0 16.2h0m.1-7.9h0m.1 4.8h0m0 1.6h0m.3-17.1h0m0 16.1h0m.1-16.3h0m0 12.2h0m.3-1.2h0m.1 .2h0m0 4.1h0m.1-11.9h0m0 1.3h0m0 11.1h0m.1-10h0m.3-.6h0m0 9.8h0m.5-10.4h0m.3 7.8h0m.1-.3h0m.1-8h0m.4 2.6h0m.1-.7h0" stroke="#f6c8cc" stroke-width="1.0" stroke-linecap="round" fill="none" stroke-opacity="0.95"/>
<path d="M14 140.7h0m1.6-11h0m1.8-1.2h0m1.7 17h0m.1-8.8h0m3.3 5h0m1.8-5.2h0m4.6-5h0m0 16.1h0m1.5-10.1h0m1.3-16.6h0m.8 29.8h0m1.1-28.7h0m.4 14.3h0m3.9 11.4h0m.1-.3h0m.1-9.9h0m1.6 3.3h0m.3-5h0m1.3 11.2h0m1-5.2h0m.8-12.4h0m.6 14.1h0m1.4 7.4h0m2.3-16h0m.4 4.8h0m1.1-2h0m3.2-6.3h0" stroke="#e8707f" stroke-width="1.0" stroke-linecap="round" fill="none" stroke-opacity="0.95"/>
<path d="M95.3 127.1h0m0 .8h0m.2-2.1h0m0 2.2h0m.3-1.6h0m0 .5h0m.2 2.6h0m.1-3h0m.3 6.3h0m.3-3.9h0m0 4.5h0m.1-6h0m0 6.9h0m.2-2.2h0m.3 .5h0m0 1.9h0m.1-11.7h0m.2-.5h0m0 .1h0m0 2.4h0m0 3.6h0m.1-.9h0m0 7.5h0m.1-11.9h0m.1 3h0m.1-3.1h0m0 6.6h0m0 .4h0m0 2.7h0m0 3.4h0m.1-12.8h0m0 4.4h0m0 7.6h0m.1-8.4h0m0 7.7h0m0 .3h0m.1-8.8h0m0 2.9h0m0 1.5h0m.1-7h0m0 3.2h0m.2-2.8h0m0 11h0m.1-5.5h0m0 1h0m0 5h0m0 .7h0m.2-9.6h0m.3 1.1h0m0 6.1h0m0 .5h0m.1 .3h0m.1-11.3h0m.1-1h0m0 5.8h0m0 .6h0m.1-4.5h0m0 3.1h0m0 .8h0m0 2.6h0m0 2.5h0m0 3h0m.1-1.2h0m.1-13.2h0m.1 13.4h0m.1-10.6h0m0 4.2h0m.1 6.4h0m.1-4.2h0m0 .6h0m.1 .4h0m0 2.4h0m0 0h0m.1-.1h0m.1 .2h0m.1-5.5h0m0 .4h0m0 3.1h0m0 4.3h0m.1-10.6h0m0 7.4h0m0 2.8h0m.1-15.2h0m0 .9h0m0 9.7h0m.1-8.5h0m0 8.4h0m.1 3.9h0m0 .8h0m.1-5.6h0m0 6.3h0m.1-15.6h0m0 4.8h0m0 5.5h0m0 .8h0m0 2.7h0m0 1.5h0m.2-13.3h0m0 4.5h0m0 4.7h0m.1-7.3h0m0 2.7h0m.1 1.6h0m0 6.3h0m.1-14.8h0m0 4.1h0m0 4.5h0m0 4.1h0m.1-9.6h0m0 4.6h0m0 1.4h0m0 .1h0m0 .8h0m.1 2h0m0 3h0m0 .4h0m.1-9.6h0m.1-6.8h0m0 4.4h0m0 9.8h0m.1-11.8h0m0 3.9h0m0 6h0m.1-11.3h0m0 1.1h0m0 2h0m0 7.1h0m.1-3.9h0m0 1.8h0m0 .2h0m.1-8.1h0m0 3.4h0m0 2.3h0m0 1.5h0m.1 3.8h0m0 .4h0m0 .3h0m.1-7.3h0m0 7.9h0m.1-5.7h0m.1-1.7h0m0 6h0m.1-11.6h0m0 .5h0m0 7.3h0m0 1.7h0m0 7.6h0m.1-14h0m0 12.9h0m.1-9.6h0m0 10h0m.1-4.7h0m0 2.9h0m.1-13.9h0m0 3.5h0m0 3.1h0m0 2.7h0m.1-7.9h0m0 5.4h0m.1-3.7h0m0 1.7h0m0 4.7h0m.1-10.2h0m0 5.6h0m.1 .1h0m.1-1.2h0m.1-2.6h0m0 1.9h0m0 4.2h0m0 2.2h0m0 3.6h0m.1-12.3h0m0 7.2h0m.1-3.6h0m0 3.6h0m.1 .4h0m0 .7h0m.1-6.7h0m0 4.4h0m0 9.2h0m.1-15.9h0m.1-.1h0m0 10.3h0m0 5.2h0m.1-13.8h0m0 .8h0m0 8.2h0m.1-10.4h0m0 4.2h0m.1-3.5h0m0 14.8h0m.1-5.7h0m0 .1h0m.1-2.4h0m0 4.6h0m.1-11.8h0m0 6.2h0m.1 .4h0m.1-7.5h0m0 .9h0m0 4.6h0m.1 1.7h0m0 7.5h0m.1-14.7h0m0 5.1h0m0 1.6h0m0 3.4h0m.1-10.2h0m.1 9.2h0m0 5.5h0m.2-11.5h0m0 2.4h0m0 2.8h0m0 3.8h0m.1-4.6h0m0 4.7h0m.1-3h0m.1-1.4h0m0 3h0m0 .4h0m.1 2.1h0m0 1.1h0m.1-8.9h0m.1 4.5h0m.1-5.3h0m0 2.6h0m0 4.9h0m0 2.4h0m.1-8.4h0m0 5.9h0m.1-7.9h0m0 1.8h0m0 1h0m0 2.2h0m0 4h0m.1-1.8h0m.2 1.8h0m.1-11.2h0m0 3.4h0m.1-3.9h0m.1 .4h0m.1 9.1h0m0 2.1h0m.1-1h0m.1-8.2h0m.1 4.7h0m.1-.9h0m0 4.2h0m.1-3.4h0m.1-6.1h0m.1 4.1h0m.1 2.6h0m.1 3.2h0m.1-6h0m.3 .7h0m.2 .8h0m.1 3.6h0m.1-6h0m.2 4.8h0m.1-.9h0" stroke="#f4aab2" stroke-width="1.0" stroke-linecap="round" fill="none" stroke-opacity="0.95"/>
<path d="M11.2 138.4h0m7.1-9.9h0m.4 5.5h0m4.9 6.4h0m4.7-10.6h0m1.3 14.1h0m4.6-7.5h0m1.2-2.3h0m1.6-1.1h0m1.5 10.6h0m5.6-5.4h0m3.2 8.5h0m.2 1h0m4.9-15h0m4.6-7.4h0m.1-8.7h0m4 4.5h0m2-9.9h0m1.7 7h0m1.5-4.2h0m1-1.7h0m.9 .9h0m65.8 11.8h0m.7 0h0m.7 0h0m2.7-5.5h0m1 .6h0m1.8 1.8h0m1.3 1.3h0m1.2 .4h0m1.4-7.4h0m.2 4.1h0m0 1h0m.7-1.2h0m.7-3.7h0m.9 .9h0m.1-1.2h0m.1 1.9h0m.4-3.1h0m.1-.1h0m1-.8h0m.9 1.6h0m.5 1.7h0m67 5.1h0m4.8-3.4h0m3.1-.8h0m.5-3.7h0m1 6.6h0m.1-8.3h0m.1 8.6h0m4.8-3.2h0m1.4-1.8h0m2.1-3.8h0m2.4 1.4h0" stroke="#b0a0d8" stroke-width="1.0" stroke-linecap="round" fill="none" stroke-opacity="0.95"/>
<path d="M13.7 143.4h0m15.7-22.8h0m1.5 18.5h0m0 3.3h0m1.3 2h0m.9-19.9h0m2.8 5.3h0m3.3-1.3h0m.3 13.4h0m1.3-17.6h0m.3 18.6h0m2.6 1.1h0m4.3-9.4h0m4.4 4.3h0" stroke="#fdd27a" stroke-width="1.0" stroke-linecap="round" fill="none" stroke-opacity="0.95"/>
<path d="M21.6 148h0m1.7-18.7h0m.7-3.6h0m.2-.2h0m0 10.2h0m7-9.9h0m2.2 0h0m1.5 16.6h0m.4-17.5h0m2.4-.3h0m4.2 14.5h0m3.3 .3h0m.7-15.8h0m.2 22.2h0" stroke="#f9a242" stroke-width="1.0" stroke-linecap="round" fill="none" stroke-opacity="0.95"/>
<path d="M12 140.2h0m8.7-9.6h0m.4 16.6h0m1.5-23.8h0m5.1 12.3h0m.2-9.7h0m.7 24.1h0m1.9-18h0m.9-11.7h0m2.2 .7h0m3.3 .8h0m4.8 3h0m8.1 20.3h0m1-12.9h0" stroke="#f4bcc4" stroke-width="1.0" stroke-linecap="round" fill="none" stroke-opacity="0.95"/>
<path d="M14 144h0m3-4.6h0m.4 5.8h0m6.2-20.8h0m0 24.4h0m4.6-15.5h0m.3-4.3h0m3.1-7.3h0m.4 5.5h0m1.7 13.9h0m6.2 5.3h0m6.9-16.2h0m2.3 9.3h0m.5-7.5h0" stroke="#f4a3aa" stroke-width="1.0" stroke-linecap="round" fill="none" stroke-opacity="0.95"/>
<path d="M71.8 155.6h0m78.3-1.3h0m87.7 3h0" stroke="#e8d24a" stroke-width="1.0" stroke-linecap="round" fill="none" stroke-opacity="0.95"/>
<rect x="9.5" y="106.7" width="80.2" height="61.4" fill="none" stroke="#9a9a9a" stroke-width="0.6"/>
<rect x="91.5" y="106.3" width="79.5" height="61.5" fill="none" stroke="#9a9a9a" stroke-width="0.6"/>
<rect x="173" y="106.1" width="81.3" height="61.5" fill="none" stroke="#9a9a9a" stroke-width="0.6"/>
<ellipse cx="112.2" cy="136.6" rx="18" ry="18.6" fill="none" stroke="#dd5a33" stroke-width="1.5"/>
<ellipse cx="197.2" cy="136.6" rx="18.4" ry="18.8" fill="none" stroke="#dd5a33" stroke-width="1.5"/>
<text x="93.5" y="114.5" font-size="7.6" fill="#231f20" stroke="#231f20" stroke-width="0.22" font-weight="bold">Teff_2</text>
<line x1="100.5" y1="116" x2="103.5" y2="125" stroke="#111" stroke-width="0.7"/>
<path d="M103.5,125 L101.54,122.91 L103.82,122.15 Z" fill="#111"/>
<text x="93.5" y="163.5" font-size="7.6" fill="#231f20" stroke="#231f20" stroke-width="0.22" font-weight="bold">Teff_1</text>
<line x1="100.5" y1="157.5" x2="104.5" y2="148.5" stroke="#111" stroke-width="0.7"/>
<path d="M104.5,148.5 L104.54,151.36 L102.35,150.39 Z" fill="#111"/>
<text x="175.2" y="114.5" font-size="7.6" fill="#231f20" stroke="#231f20" stroke-width="0.22" font-weight="bold">Teff_2</text>
<line x1="186" y1="116" x2="189" y2="125" stroke="#111" stroke-width="0.7"/>
<path d="M189,125 L187.04,122.91 L189.32,122.15 Z" fill="#111"/>
<text x="175.2" y="163" font-size="7.6" fill="#231f20" stroke="#231f20" stroke-width="0.22" font-weight="bold">Teff_1</text>
<line x1="186" y1="156" x2="193" y2="147.5" stroke="#111" stroke-width="0.7"/>
<path d="M193,147.5 L192.27,150.27 L190.42,148.74 Z" fill="#111"/>
<line x1="131" y1="169.5" x2="124.87" y2="158.68" stroke="#e0474c" stroke-width="1.4"/>
<path d="M122.5,154.5 L126.87,157.54 L122.87,159.81 Z" fill="#e0474c"/>
<line x1="131" y1="169.5" x2="175.08" y2="150.87" stroke="#e0474c" stroke-width="1.4"/>
<path d="M179.5,149 L175.97,152.99 L174.18,148.75 Z" fill="#e0474c"/>
<circle cx="261.8" cy="97" r="3.5" fill="#e8707f"/>
<text x="266.3" y="99" font-size="5.6" fill="#231f20" stroke="#231f20" stroke-width="0.22">Teff_1</text>
<circle cx="261.8" cy="107.5" r="3.5" fill="#f4bcc4"/>
<text x="266.3" y="109.5" font-size="5.6" fill="#231f20" stroke="#231f20" stroke-width="0.22">Teff_2</text>
<circle cx="261.8" cy="118" r="3.5" fill="#fbcf95"/>
<text x="266.3" y="120" font-size="5.6" fill="#231f20" stroke="#231f20" stroke-width="0.22">Tem_1</text>
<circle cx="261.8" cy="128.5" r="3.5" fill="#f5ea70"/>
<text x="266.3" y="130.5" font-size="5.6" fill="#231f20" stroke="#231f20" stroke-width="0.22">Tem_2</text>
<circle cx="261.8" cy="139" r="3.5" fill="#fbefc8"/>
<text x="266.3" y="141" font-size="5.6" fill="#231f20" stroke="#231f20" stroke-width="0.22">Tem_3</text>
<circle cx="261.8" cy="149.5" r="3.5" fill="#fbdca3"/>
<text x="266.3" y="151.5" font-size="5.6" fill="#231f20" stroke="#231f20" stroke-width="0.22">Tem_4</text>
<circle cx="261.8" cy="160" r="3.5" fill="#ebc26a"/>
<text x="266.3" y="162" font-size="5.6" fill="#231f20" stroke="#231f20" stroke-width="0.22">Tem_5</text>
<circle cx="261.8" cy="170.5" r="3.5" fill="#8cc47a"/>
<text x="266.3" y="172.5" font-size="5.6" fill="#231f20" stroke="#231f20" stroke-width="0.22">Tcm/nv_1</text>
<circle cx="261.8" cy="181" r="3.5" fill="#aed49a"/>
<text x="266.3" y="183" font-size="5.6" fill="#231f20" stroke="#231f20" stroke-width="0.22">Tcm/nv_2</text>
<circle cx="261.8" cy="191.5" r="3.5" fill="#cfe4bc"/>
<text x="266.3" y="193.5" font-size="5.6" fill="#231f20" stroke="#231f20" stroke-width="0.22">Tcm/nv_3</text>
<circle cx="295.3" cy="97" r="3.5" fill="#5a84c0"/>
<text x="300" y="99" font-size="5.6" fill="#231f20" stroke="#231f20" stroke-width="0.22">Tcm/nv_4</text>
<circle cx="295.3" cy="107.5" r="3.5" fill="#6fb2dd"/>
<text x="300" y="109.5" font-size="5.6" fill="#231f20" stroke="#231f20" stroke-width="0.22">Tcm/nv_5</text>
<circle cx="295.3" cy="118" r="3.5" fill="#cfe6f3"/>
<text x="300" y="120" font-size="5.6" fill="#231f20" stroke="#231f20" stroke-width="0.22">Tcm/nv_6</text>
<circle cx="295.3" cy="128.5" r="3.5" fill="#5a63a8"/>
<text x="300" y="130.5" font-size="5.6" fill="#231f20" stroke="#231f20" stroke-width="0.22">Tcm/nv_7</text>
<circle cx="295.3" cy="139" r="3.5" fill="#6dc3ec"/>
<text x="300" y="141" font-size="5.6" fill="#231f20" stroke="#231f20" stroke-width="0.22">Tcm/nv_8</text>
<circle cx="295.3" cy="149.5" r="3.5" fill="#9a90c8"/>
<text x="300" y="151.5" font-size="5.6" fill="#231f20" stroke="#231f20" stroke-width="0.22">Tcm/nv_9</text>
<rect x="257.3" y="91.4" width="31.5" height="32.7" fill="none" stroke="#e04a4a" stroke-width="0.9"/>
<text x="328" y="115.5" font-size="8.4" fill="#231f20" stroke="#231f20" stroke-width="0.12">CD4<tspan dy="-2.6" font-size="5">+</tspan><tspan dy="2.6"> T&#160; cells:</tspan></text>
<line x1="328" y1="117.3" x2="380.5" y2="117.3" stroke="#231f20" stroke-width="0.5"/>
<text x="331" y="124" font-size="6.3" fill="#231f20" stroke="#231f20" stroke-width="0.22">Ki67<tspan dy="-2" font-size="4">-</tspan></text>
<rect x="330.2" y="125.4" width="42.3" height="25.6" fill="none" stroke="#777" stroke-width="0.7"/>
<circle cx="334.5" cy="129.6" r="0.9" fill="#fff" stroke="#666" stroke-width="0.45"/>
<text x="337.2" y="132" font-size="6.9" fill="#231f20" stroke="#231f20" stroke-width="0.22">PBS</text>
<circle cx="334.5" cy="138.7" r="0.9" fill="#999" stroke="#666" stroke-width="0.4"/>
<text x="337.2" y="141.1" font-size="6.9" fill="#231f20" stroke="#231f20" stroke-width="0.22">LADD</text>
<path d="M334.5,146.7 L335.55,148.57 L333.45,148.57 Z" fill="#fff" stroke="#666" stroke-width="0.45"/>
<text x="337.2" y="150.2" font-size="6.9" fill="#231f20" stroke="#231f20" stroke-width="0.22">LADD-OVA</text>
<text x="331" y="160.8" font-size="6.6" fill="#d8383f" stroke="#d8383f" stroke-width="0.22">Ki67<tspan dy="-2.5" font-size="4.5">+</tspan></text>
<rect x="330.2" y="162.3" width="43" height="26.5" fill="none" stroke="#d04a50" stroke-width="0.8"/>
<circle cx="334.5" cy="167.4" r="0.9" fill="#666"/>
<text x="337.2" y="169.8" font-size="6.9" fill="#231f20" stroke="#231f20" stroke-width="0.22">PBS</text>
<circle cx="334.5" cy="175.8" r="0.9" fill="#f08a8a"/>
<text x="337.2" y="178.2" font-size="6.9" fill="#231f20" stroke="#231f20" stroke-width="0.22">LADD</text>
<path d="M334.5,183.1 L335.55,184.97 L333.45,184.97 Z" fill="#1f5f9f"/>
<text x="337.2" y="186.6" font-size="6.9" fill="#231f20" stroke="#231f20" stroke-width="0.22">LADD-OVA</text>
<text x="382.4" y="108.6" font-size="12.5" fill="#231f20">f</text>
<text x="426.5" y="106.6" font-size="10.4" fill="#231f20" text-anchor="middle">V&#946;8.1/2</text>
<line x1="406.5" y1="119.5" x2="406.5" y2="188.5" stroke="#231f20" stroke-width="0.85"/>
<line x1="406.5" y1="188.5" x2="444.7" y2="188.5" stroke="#231f20" stroke-width="0.85"/>
<line x1="404.9" y1="188.5" x2="406.5" y2="188.5" stroke="#231f20" stroke-width="0.6"/>
<text x="404.5" y="191.5" font-size="8.5" fill="#231f20" stroke="#231f20" stroke-width="0.12" text-anchor="end">0</text>
<line x1="404.9" y1="174.9" x2="406.5" y2="174.9" stroke="#231f20" stroke-width="0.6"/>
<text x="404.5" y="177.9" font-size="8.5" fill="#231f20" stroke="#231f20" stroke-width="0.12" text-anchor="end">5</text>
<line x1="404.9" y1="161.3" x2="406.5" y2="161.3" stroke="#231f20" stroke-width="0.6"/>
<text x="404.5" y="164.3" font-size="8.5" fill="#231f20" stroke="#231f20" stroke-width="0.12" text-anchor="end">10</text>
<line x1="404.9" y1="147.7" x2="406.5" y2="147.7" stroke="#231f20" stroke-width="0.6"/>
<text x="404.5" y="150.7" font-size="8.5" fill="#231f20" stroke="#231f20" stroke-width="0.12" text-anchor="end">15</text>
<line x1="404.9" y1="134.1" x2="406.5" y2="134.1" stroke="#231f20" stroke-width="0.6"/>
<text x="404.5" y="137.1" font-size="8.5" fill="#231f20" stroke="#231f20" stroke-width="0.12" text-anchor="end">20</text>
<line x1="404.9" y1="120.5" x2="406.5" y2="120.5" stroke="#231f20" stroke-width="0.6"/>
<text x="404.5" y="123.5" font-size="8.5" fill="#231f20" stroke="#231f20" stroke-width="0.12" text-anchor="end">25</text>
<text x="389.8" y="155" font-size="9.1" fill="#231f20" stroke="#231f20" stroke-width="0.12" text-anchor="middle" transform="rotate(-90 389.8 155)">Percent <tspan font-weight="bold">V&#946;8.1/2</tspan><tspan dy="-2.5" font-size="5">+</tspan></text>
<circle cx="408.5" cy="158.58" r="1.25" fill="#222" stroke="#111" stroke-width="0.5"/>
<circle cx="409.4" cy="158.04" r="1.25" fill="#222" stroke="#111" stroke-width="0.5"/>
<circle cx="410.3" cy="157.49" r="1.25" fill="#222" stroke="#111" stroke-width="0.5"/>
<circle cx="411.2" cy="158.31" r="1.25" fill="#222" stroke="#111" stroke-width="0.5"/>
<circle cx="412.1" cy="159.12" r="1.25" fill="#222" stroke="#111" stroke-width="0.5"/>
<circle cx="416.9" cy="155.86" r="1.25" fill="#fff" stroke="#6a6a6a" stroke-width="0.6"/>
<circle cx="417.8" cy="155.32" r="1.25" fill="#fff" stroke="#6a6a6a" stroke-width="0.6"/>
<circle cx="418.7" cy="156.4" r="1.25" fill="#fff" stroke="#6a6a6a" stroke-width="0.6"/>
<path d="M423.55,154.46 L424.88,156.84 L422.22,156.84 Z" fill="#fff" stroke="#6a6a6a" stroke-width="0.6"/>
<path d="M424.45,153.64 L425.78,156.02 L423.12,156.02 Z" fill="#fff" stroke="#6a6a6a" stroke-width="0.6"/>
<line x1="429.2" y1="170.13" x2="429.2" y2="156.55" stroke="#666" stroke-width="0.7"/>
<line x1="428" y1="156.55" x2="430.4" y2="156.55" stroke="#666" stroke-width="0.7"/>
<line x1="428" y1="170.13" x2="430.4" y2="170.13" stroke="#666" stroke-width="0.7"/>
<circle cx="428.8" cy="180.34" r="1.15" fill="#8a8a8a"/>
<circle cx="429.6" cy="166.74" r="1.15" fill="#8a8a8a"/>
<circle cx="428.8" cy="154.5" r="1.15" fill="#8a8a8a"/>
<circle cx="429.6" cy="151.78" r="1.15" fill="#8a8a8a"/>
<line x1="427.2" y1="163.34" x2="431.2" y2="163.34" stroke="#666" stroke-width="0.7"/>
<line x1="435.5" y1="155.34" x2="435.5" y2="153.93" stroke="#d04040" stroke-width="0.7"/>
<line x1="434.3" y1="153.93" x2="436.7" y2="153.93" stroke="#d04040" stroke-width="0.7"/>
<line x1="434.3" y1="155.34" x2="436.7" y2="155.34" stroke="#d04040" stroke-width="0.7"/>
<circle cx="435.1" cy="156.4" r="1.15" fill="#f08a8a"/>
<circle cx="435.9" cy="154.77" r="1.15" fill="#f08a8a"/>
<circle cx="435.1" cy="153.14" r="1.15" fill="#f08a8a"/>
<circle cx="435.9" cy="154.23" r="1.15" fill="#f08a8a"/>
<line x1="433.5" y1="154.64" x2="437.5" y2="154.64" stroke="#d04040" stroke-width="0.7"/>
<line x1="441.2" y1="156.73" x2="441.2" y2="154.31" stroke="#1f5f9f" stroke-width="0.7"/>
<line x1="440" y1="154.31" x2="442.4" y2="154.31" stroke="#1f5f9f" stroke-width="0.7"/>
<line x1="440" y1="156.73" x2="442.4" y2="156.73" stroke="#1f5f9f" stroke-width="0.7"/>
<path d="M440.8,157.13 L442.18,159.59 L439.42,159.59 Z" fill="#1f5f9f"/>
<path d="M441.6,154.41 L442.98,156.88 L440.22,156.88 Z" fill="#1f5f9f"/>
<path d="M440.8,153.05 L442.18,155.51 L439.42,155.51 Z" fill="#1f5f9f"/>
<path d="M441.6,151.69 L442.98,154.15 L440.22,154.15 Z" fill="#1f5f9f"/>
<line x1="439.2" y1="155.52" x2="443.2" y2="155.52" stroke="#1f5f9f" stroke-width="0.7"/>
<path d="M410.3,142.4 V132.4 H441.2 V137.6" stroke="#4a4a4a" stroke-width="0.6" fill="none"/>
<line x1="429.2" y1="132.4" x2="429.2" y2="137.6" stroke="#4a4a4a" stroke-width="0.6"/>
<line x1="435.5" y1="132.4" x2="435.5" y2="134.6" stroke="#4a4a4a" stroke-width="0.6"/>
<path d="M429.2,125.8 V123.6 H441.2 V125.8" stroke="#4a4a4a" stroke-width="0.6" fill="none"/>
<path d="M416.4,123.8 V120.8 H435.5 V123" stroke="#4a4a4a" stroke-width="0.6" fill="none"/>
<path d="M424,117.4 V115.4 H441.2 V117.4" stroke="#4a4a4a" stroke-width="0.6" fill="none"/>
<text x="419.75" y="131.2" font-size="6.8" fill="#555" stroke="#555" stroke-width="0.22" text-anchor="middle">ns</text>
<text x="432.35" y="131.2" font-size="6.8" fill="#555" stroke="#555" stroke-width="0.22" text-anchor="middle">ns</text>
<text x="438.35" y="131.2" font-size="6.8" fill="#555" stroke="#555" stroke-width="0.22" text-anchor="middle">ns</text>
<text x="438.85" y="123" font-size="6.8" fill="#555" stroke="#555" stroke-width="0.22" text-anchor="middle">ns</text>
<text x="425.65" y="120.2" font-size="6.8" fill="#555" stroke="#555" stroke-width="0.22" text-anchor="middle">ns</text>
<text x="435.1" y="114.2" font-size="6.8" fill="#555" stroke="#555" stroke-width="0.22" text-anchor="middle">ns</text>
<text x="453.8" y="108.6" font-size="12.5" fill="#231f20">g</text>
<text x="496" y="106.6" font-size="10.4" fill="#231f20" text-anchor="middle">V&#946;13</text>
<line x1="477.5" y1="120.3" x2="477.5" y2="188.5" stroke="#231f20" stroke-width="0.85"/>
<line x1="477.5" y1="188.5" x2="516.5" y2="188.5" stroke="#231f20" stroke-width="0.85"/>
<line x1="475.9" y1="188.5" x2="477.5" y2="188.5" stroke="#231f20" stroke-width="0.6"/>
<text x="475.5" y="191.5" font-size="8.5" fill="#231f20" stroke="#231f20" stroke-width="0.12" text-anchor="end">0</text>
<line x1="475.9" y1="175.06" x2="477.5" y2="175.06" stroke="#231f20" stroke-width="0.6"/>
<text x="475.5" y="178.06" font-size="8.5" fill="#231f20" stroke="#231f20" stroke-width="0.12" text-anchor="end">2</text>
<line x1="475.9" y1="161.62" x2="477.5" y2="161.62" stroke="#231f20" stroke-width="0.6"/>
<text x="475.5" y="164.62" font-size="8.5" fill="#231f20" stroke="#231f20" stroke-width="0.12" text-anchor="end">4</text>
<line x1="475.9" y1="148.18" x2="477.5" y2="148.18" stroke="#231f20" stroke-width="0.6"/>
<text x="475.5" y="151.18" font-size="8.5" fill="#231f20" stroke="#231f20" stroke-width="0.12" text-anchor="end">6</text>
<line x1="475.9" y1="134.74" x2="477.5" y2="134.74" stroke="#231f20" stroke-width="0.6"/>
<text x="475.5" y="137.74" font-size="8.5" fill="#231f20" stroke="#231f20" stroke-width="0.12" text-anchor="end">8</text>
<line x1="475.9" y1="121.3" x2="477.5" y2="121.3" stroke="#231f20" stroke-width="0.6"/>
<text x="475.5" y="124.3" font-size="8.5" fill="#231f20" stroke="#231f20" stroke-width="0.12" text-anchor="end">10</text>
<text x="464" y="155" font-size="9.1" fill="#231f20" stroke="#231f20" stroke-width="0.12" text-anchor="middle" transform="rotate(-90 464 155)">Percent <tspan font-weight="bold">V&#946;13</tspan><tspan dy="-2.5" font-size="5">+</tspan></text>
<circle cx="480.1" cy="176.4" r="1.25" fill="#fff" stroke="#6a6a6a" stroke-width="0.6"/>
<circle cx="481" cy="175.73" r="1.25" fill="#fff" stroke="#6a6a6a" stroke-width="0.6"/>
<circle cx="481.9" cy="176.4" r="1.25" fill="#fff" stroke="#6a6a6a" stroke-width="0.6"/>
<circle cx="487" cy="175.73" r="1.25" fill="#fff" stroke="#6a6a6a" stroke-width="0.6"/>
<circle cx="487.9" cy="175.06" r="1.25" fill="#fff" stroke="#6a6a6a" stroke-width="0.6"/>
<circle cx="488.8" cy="177.08" r="1.25" fill="#fff" stroke="#6a6a6a" stroke-width="0.6"/>
<path d="M492,173.66 L493.33,176.04 L490.67,176.04 Z" fill="#fff" stroke="#6a6a6a" stroke-width="0.6"/>
<path d="M492.9,175 L494.23,177.38 L491.57,177.38 Z" fill="#fff" stroke="#6a6a6a" stroke-width="0.6"/>
<path d="M493.8,176.35 L495.13,178.73 L492.47,178.73 Z" fill="#fff" stroke="#6a6a6a" stroke-width="0.6"/>
<line x1="499.7" y1="183.51" x2="499.7" y2="176.01" stroke="#666" stroke-width="0.7"/>
<line x1="498.5" y1="176.01" x2="500.9" y2="176.01" stroke="#666" stroke-width="0.7"/>
<line x1="498.5" y1="183.51" x2="500.9" y2="183.51" stroke="#666" stroke-width="0.7"/>
<circle cx="499.3" cy="187.16" r="1.15" fill="#8a8a8a"/>
<circle cx="500.1" cy="183.12" r="1.15" fill="#8a8a8a"/>
<circle cx="499.3" cy="178.42" r="1.15" fill="#8a8a8a"/>
<circle cx="500.1" cy="170.36" r="1.15" fill="#8a8a8a"/>
<line x1="497.7" y1="179.76" x2="501.7" y2="179.76" stroke="#666" stroke-width="0.7"/>
<line x1="506.2" y1="148.59" x2="506.2" y2="141.05" stroke="#d04040" stroke-width="0.7"/>
<line x1="505" y1="141.05" x2="507.4" y2="141.05" stroke="#d04040" stroke-width="0.7"/>
<line x1="505" y1="148.59" x2="507.4" y2="148.59" stroke="#d04040" stroke-width="0.7"/>
<circle cx="505.8" cy="151.54" r="1.15" fill="#f08a8a"/>
<circle cx="506.6" cy="148.18" r="1.15" fill="#f08a8a"/>
<circle cx="505.8" cy="144.82" r="1.15" fill="#f08a8a"/>
<circle cx="506.6" cy="134.74" r="1.15" fill="#f08a8a"/>
<line x1="504.2" y1="144.82" x2="508.2" y2="144.82" stroke="#d04040" stroke-width="0.7"/>
<line x1="513" y1="163.08" x2="513" y2="156.8" stroke="#1f5f9f" stroke-width="0.7"/>
<line x1="511.8" y1="156.8" x2="514.2" y2="156.8" stroke="#1f5f9f" stroke-width="0.7"/>
<line x1="511.8" y1="163.08" x2="514.2" y2="163.08" stroke="#1f5f9f" stroke-width="0.7"/>
<path d="M512.6,166.89 L513.98,169.35 L511.22,169.35 Z" fill="#1f5f9f"/>
<path d="M513.4,158.83 L514.78,161.29 L512.02,161.29 Z" fill="#1f5f9f"/>
<path d="M512.6,154.79 L513.98,157.26 L511.22,157.26 Z" fill="#1f5f9f"/>
<path d="M513.4,153.45 L514.78,155.91 L512.02,155.91 Z" fill="#1f5f9f"/>
<line x1="511" y1="159.94" x2="515" y2="159.94" stroke="#1f5f9f" stroke-width="0.7"/>
<path d="M481,139.2 V129.2 H513 V134.4" stroke="#4a4a4a" stroke-width="0.6" fill="none"/>
<line x1="499.7" y1="129.2" x2="499.7" y2="134.4" stroke="#4a4a4a" stroke-width="0.6"/>
<line x1="506.2" y1="129.2" x2="506.2" y2="131.4" stroke="#4a4a4a" stroke-width="0.6"/>
<path d="M499.7,122.6 V120.4 H513 V122.6" stroke="#4a4a4a" stroke-width="0.6" fill="none"/>
<path d="M486.5,120.6 V117.6 H506.2 V119.8" stroke="#4a4a4a" stroke-width="0.6" fill="none"/>
<path d="M492.9,114.2 V112.2 H513 V114.2" stroke="#4a4a4a" stroke-width="0.6" fill="none"/>
<text x="490.35" y="128" font-size="6.8" fill="#555" stroke="#555" stroke-width="0.22" text-anchor="middle">ns</text>
<text x="502.95" y="130.6" font-size="8.6" fill="#333" stroke="#333" stroke-width="0.12" text-anchor="middle">*</text>
<text x="509.6" y="130.6" font-size="8.6" fill="#333" stroke="#333" stroke-width="0.12" text-anchor="middle">*</text>
<text x="510.1" y="122.4" font-size="8.6" fill="#333" stroke="#333" stroke-width="0.12" text-anchor="middle">*</text>
<text x="496.05" y="119.6" font-size="8.6" fill="#333" stroke="#333" stroke-width="0.12" text-anchor="middle">**</text>
<text x="505.45" y="113.6" font-size="8.6" fill="#333" stroke="#333" stroke-width="0.12" text-anchor="middle">*</text>
<text x="520" y="108.6" font-size="12.5" fill="#231f20">h</text>
<text x="566" y="106.6" font-size="10.4" fill="#231f20" text-anchor="middle">V&#946;14</text>
<line x1="548.5" y1="122.6" x2="548.5" y2="188.5" stroke="#231f20" stroke-width="0.85"/>
<line x1="548.5" y1="188.5" x2="585.2" y2="188.5" stroke="#231f20" stroke-width="0.85"/>
<line x1="546.9" y1="188.5" x2="548.5" y2="188.5" stroke="#231f20" stroke-width="0.6"/>
<text x="546.5" y="191.5" font-size="8.5" fill="#231f20" stroke="#231f20" stroke-width="0.12" text-anchor="end">0</text>
<line x1="546.9" y1="166.87" x2="548.5" y2="166.87" stroke="#231f20" stroke-width="0.6"/>
<text x="546.5" y="169.87" font-size="8.5" fill="#231f20" stroke="#231f20" stroke-width="0.12" text-anchor="end">5</text>
<line x1="546.9" y1="145.23" x2="548.5" y2="145.23" stroke="#231f20" stroke-width="0.6"/>
<text x="546.5" y="148.23" font-size="8.5" fill="#231f20" stroke="#231f20" stroke-width="0.12" text-anchor="end">10</text>
<line x1="546.9" y1="123.6" x2="548.5" y2="123.6" stroke="#231f20" stroke-width="0.6"/>
<text x="546.5" y="126.6" font-size="8.5" fill="#231f20" stroke="#231f20" stroke-width="0.12" text-anchor="end">15</text>
<text x="530.2" y="155" font-size="9.1" fill="#231f20" stroke="#231f20" stroke-width="0.12" text-anchor="middle" transform="rotate(-90 530.2 155)">Percent <tspan font-weight="bold">V&#946;14</tspan><tspan dy="-2.5" font-size="5">+</tspan></text>
<circle cx="550.6" cy="151.29" r="1.25" fill="#fff" stroke="#6a6a6a" stroke-width="0.6"/>
<circle cx="551.5" cy="150.43" r="1.25" fill="#fff" stroke="#6a6a6a" stroke-width="0.6"/>
<circle cx="552.4" cy="149.99" r="1.25" fill="#fff" stroke="#6a6a6a" stroke-width="0.6"/>
<circle cx="556.9" cy="148.26" r="1.25" fill="#fff" stroke="#6a6a6a" stroke-width="0.6"/>
<circle cx="557.8" cy="146.1" r="1.25" fill="#fff" stroke="#6a6a6a" stroke-width="0.6"/>
<circle cx="558.7" cy="147.4" r="1.25" fill="#fff" stroke="#6a6a6a" stroke-width="0.6"/>
<path d="M561.5,149.46 L562.83,151.84 L560.17,151.84 Z" fill="#fff" stroke="#6a6a6a" stroke-width="0.6"/>
<path d="M562.4,147.29 L563.73,149.67 L561.07,149.67 Z" fill="#fff" stroke="#6a6a6a" stroke-width="0.6"/>
<path d="M563.3,148.16 L564.63,150.54 L561.97,150.54 Z" fill="#fff" stroke="#6a6a6a" stroke-width="0.6"/>
<line x1="568.6" y1="174.26" x2="568.6" y2="158.83" stroke="#666" stroke-width="0.7"/>
<line x1="567.4" y1="158.83" x2="569.8" y2="158.83" stroke="#666" stroke-width="0.7"/>
<line x1="567.4" y1="174.26" x2="569.8" y2="174.26" stroke="#666" stroke-width="0.7"/>
<circle cx="568.2" cy="188.07" r="1.15" fill="#8a8a8a"/>
<circle cx="569" cy="164.7" r="1.15" fill="#8a8a8a"/>
<circle cx="568.2" cy="157.35" r="1.15" fill="#8a8a8a"/>
<circle cx="569" cy="156.05" r="1.15" fill="#8a8a8a"/>
<line x1="566.6" y1="166.54" x2="570.6" y2="166.54" stroke="#666" stroke-width="0.7"/>
<line x1="575" y1="154.77" x2="575" y2="143.7" stroke="#d04040" stroke-width="0.7"/>
<line x1="573.8" y1="143.7" x2="576.2" y2="143.7" stroke="#d04040" stroke-width="0.7"/>
<line x1="573.8" y1="154.77" x2="576.2" y2="154.77" stroke="#d04040" stroke-width="0.7"/>
<circle cx="574.6" cy="164.7" r="1.15" fill="#f08a8a"/>
<circle cx="575.4" cy="147.4" r="1.15" fill="#f08a8a"/>
<circle cx="574.6" cy="143.94" r="1.15" fill="#f08a8a"/>
<circle cx="575.4" cy="140.91" r="1.15" fill="#f08a8a"/>
<line x1="573" y1="149.24" x2="577" y2="149.24" stroke="#d04040" stroke-width="0.7"/>
<line x1="581.7" y1="152.36" x2="581.7" y2="144.81" stroke="#1f5f9f" stroke-width="0.7"/>
<line x1="580.5" y1="144.81" x2="582.9" y2="144.81" stroke="#1f5f9f" stroke-width="0.7"/>
<line x1="580.5" y1="152.36" x2="582.9" y2="152.36" stroke="#1f5f9f" stroke-width="0.7"/>
<path d="M581.3,157.63 L582.68,160.09 L579.92,160.09 Z" fill="#1f5f9f"/>
<path d="M582.1,145.95 L583.48,148.41 L580.72,148.41 Z" fill="#1f5f9f"/>
<path d="M581.3,143.78 L582.68,146.25 L579.92,146.25 Z" fill="#1f5f9f"/>
<path d="M582.1,141.19 L583.48,143.65 L580.72,143.65 Z" fill="#1f5f9f"/>
<line x1="579.7" y1="148.59" x2="583.7" y2="148.59" stroke="#1f5f9f" stroke-width="0.7"/>
<path d="M551.5,141.5 V131.5 H581.7 V136.7" stroke="#4a4a4a" stroke-width="0.6" fill="none"/>
<line x1="568.6" y1="131.5" x2="568.6" y2="136.7" stroke="#4a4a4a" stroke-width="0.6"/>
<line x1="575" y1="131.5" x2="575" y2="133.7" stroke="#4a4a4a" stroke-width="0.6"/>
<path d="M568.6,124.9 V122.7 H581.7 V124.9" stroke="#4a4a4a" stroke-width="0.6" fill="none"/>
<path d="M556.4,122.9 V119.9 H575 V122.1" stroke="#4a4a4a" stroke-width="0.6" fill="none"/>
<path d="M562.4,116.5 V114.5 H581.7 V116.5" stroke="#4a4a4a" stroke-width="0.6" fill="none"/>
<text x="560.05" y="130.3" font-size="6.8" fill="#555" stroke="#555" stroke-width="0.22" text-anchor="middle">ns</text>
<text x="571.8" y="130.3" font-size="6.8" fill="#555" stroke="#555" stroke-width="0.22" text-anchor="middle">ns</text>
<text x="578.35" y="130.3" font-size="6.8" fill="#555" stroke="#555" stroke-width="0.22" text-anchor="middle">ns</text>
<text x="578.85" y="122.1" font-size="6.8" fill="#555" stroke="#555" stroke-width="0.22" text-anchor="middle">ns</text>
<text x="565.4" y="119.3" font-size="6.8" fill="#555" stroke="#555" stroke-width="0.22" text-anchor="middle">ns</text>
<text x="574.55" y="113.3" font-size="6.8" fill="#555" stroke="#555" stroke-width="0.22" text-anchor="middle">ns</text>
<text x="597.5" y="108.6" font-size="12.5" fill="#231f20">i</text>
<text x="638.5" y="106.6" font-size="10.4" fill="#231f20" text-anchor="middle">V&#946;13V&#945;2</text>
<line x1="618.5" y1="118.3" x2="618.5" y2="187.5" stroke="#231f20" stroke-width="0.85"/>
<line x1="618.5" y1="187.5" x2="658.2" y2="187.5" stroke="#231f20" stroke-width="0.85"/>
<line x1="616.9" y1="187.5" x2="618.5" y2="187.5" stroke="#231f20" stroke-width="0.6"/>
<text x="616.5" y="190.5" font-size="8.5" fill="#231f20" stroke="#231f20" stroke-width="0.12" text-anchor="end">0</text>
<line x1="616.9" y1="173.86" x2="618.5" y2="173.86" stroke="#231f20" stroke-width="0.6"/>
<text x="616.5" y="176.86" font-size="8.5" fill="#231f20" stroke="#231f20" stroke-width="0.12" text-anchor="end">1</text>
<line x1="616.9" y1="160.22" x2="618.5" y2="160.22" stroke="#231f20" stroke-width="0.6"/>
<text x="616.5" y="163.22" font-size="8.5" fill="#231f20" stroke="#231f20" stroke-width="0.12" text-anchor="end">2</text>
<line x1="616.9" y1="146.58" x2="618.5" y2="146.58" stroke="#231f20" stroke-width="0.6"/>
<text x="616.5" y="149.58" font-size="8.5" fill="#231f20" stroke="#231f20" stroke-width="0.12" text-anchor="end">3</text>
<line x1="616.9" y1="132.94" x2="618.5" y2="132.94" stroke="#231f20" stroke-width="0.6"/>
<text x="616.5" y="135.94" font-size="8.5" fill="#231f20" stroke="#231f20" stroke-width="0.12" text-anchor="end">4</text>
<line x1="616.9" y1="119.3" x2="618.5" y2="119.3" stroke="#231f20" stroke-width="0.6"/>
<text x="616.5" y="122.3" font-size="8.5" fill="#231f20" stroke="#231f20" stroke-width="0.12" text-anchor="end">5</text>
<text x="604.8" y="155" font-size="9.1" fill="#231f20" stroke="#231f20" stroke-width="0.12" text-anchor="middle" transform="rotate(-90 604.8 155)">Percent <tspan font-weight="bold">V&#946;13</tspan><tspan dy="-2.5" font-size="5">+</tspan><tspan dy="2.5" font-weight="bold">V&#945;2</tspan><tspan dy="-2.5" font-size="5">+</tspan></text>
<circle cx="622.3" cy="183.41" r="1.25" fill="#fff" stroke="#6a6a6a" stroke-width="0.6"/>
<circle cx="623.2" cy="179.32" r="1.25" fill="#fff" stroke="#6a6a6a" stroke-width="0.6"/>
<circle cx="624.1" cy="180.68" r="1.25" fill="#fff" stroke="#6a6a6a" stroke-width="0.6"/>
<circle cx="629.4" cy="183.41" r="1.25" fill="#fff" stroke="#6a6a6a" stroke-width="0.6"/>
<circle cx="630.3" cy="182.04" r="1.25" fill="#fff" stroke="#6a6a6a" stroke-width="0.6"/>
<circle cx="631.2" cy="183.41" r="1.25" fill="#fff" stroke="#6a6a6a" stroke-width="0.6"/>
<path d="M634.4,182.01 L635.73,184.39 L633.07,184.39 Z" fill="#fff" stroke="#6a6a6a" stroke-width="0.6"/>
<path d="M635.3,179.28 L636.63,181.66 L633.97,181.66 Z" fill="#fff" stroke="#6a6a6a" stroke-width="0.6"/>
<path d="M636.2,180.64 L637.53,183.02 L634.87,183.02 Z" fill="#fff" stroke="#6a6a6a" stroke-width="0.6"/>
<line x1="641.6" y1="184.26" x2="641.6" y2="175.05" stroke="#666" stroke-width="0.7"/>
<line x1="640.4" y1="175.05" x2="642.8" y2="175.05" stroke="#666" stroke-width="0.7"/>
<line x1="640.4" y1="184.26" x2="642.8" y2="184.26" stroke="#666" stroke-width="0.7"/>
<circle cx="641.2" cy="187.5" r="1.15" fill="#8a8a8a"/>
<circle cx="642" cy="183.41" r="1.15" fill="#8a8a8a"/>
<circle cx="641.2" cy="180.68" r="1.15" fill="#8a8a8a"/>
<circle cx="642" cy="167.04" r="1.15" fill="#8a8a8a"/>
<line x1="639.6" y1="179.66" x2="643.6" y2="179.66" stroke="#666" stroke-width="0.7"/>
<line x1="647.9" y1="149.62" x2="647.9" y2="141.49" stroke="#d04040" stroke-width="0.7"/>
<line x1="646.7" y1="141.49" x2="649.1" y2="141.49" stroke="#d04040" stroke-width="0.7"/>
<line x1="646.7" y1="149.62" x2="649.1" y2="149.62" stroke="#d04040" stroke-width="0.7"/>
<circle cx="647.5" cy="152.04" r="1.15" fill="#f08a8a"/>
<circle cx="648.3" cy="149.31" r="1.15" fill="#f08a8a"/>
<circle cx="647.5" cy="146.58" r="1.15" fill="#f08a8a"/>
<circle cx="648.3" cy="134.3" r="1.15" fill="#f08a8a"/>
<line x1="645.9" y1="145.56" x2="649.9" y2="145.56" stroke="#d04040" stroke-width="0.7"/>
<line x1="654.7" y1="154.55" x2="654.7" y2="146.79" stroke="#1f5f9f" stroke-width="0.7"/>
<line x1="653.5" y1="146.79" x2="655.9" y2="146.79" stroke="#1f5f9f" stroke-width="0.7"/>
<line x1="653.5" y1="154.55" x2="655.9" y2="154.55" stroke="#1f5f9f" stroke-width="0.7"/>
<path d="M654.3,160.13 L655.68,162.6 L652.92,162.6 Z" fill="#1f5f9f"/>
<path d="M655.1,147.86 L656.48,150.32 L653.72,150.32 Z" fill="#1f5f9f"/>
<path d="M654.3,145.13 L655.68,147.59 L652.92,147.59 Z" fill="#1f5f9f"/>
<path d="M655.1,143.77 L656.48,146.23 L653.72,146.23 Z" fill="#1f5f9f"/>
<line x1="652.7" y1="150.67" x2="656.7" y2="150.67" stroke="#1f5f9f" stroke-width="0.7"/>
<path d="M623.2,138.6 V128.6 H654.7 V133.8" stroke="#4a4a4a" stroke-width="0.6" fill="none"/>
<line x1="641.6" y1="128.6" x2="641.6" y2="133.8" stroke="#4a4a4a" stroke-width="0.6"/>
<line x1="647.9" y1="128.6" x2="647.9" y2="130.8" stroke="#4a4a4a" stroke-width="0.6"/>
<path d="M641.6,122 V119.8 H654.7 V122" stroke="#4a4a4a" stroke-width="0.6" fill="none"/>
<path d="M628.9,120 V117 H647.9 V119.2" stroke="#4a4a4a" stroke-width="0.6" fill="none"/>
<path d="M635.3,113.6 V111.6 H654.7 V113.6" stroke="#4a4a4a" stroke-width="0.6" fill="none"/>
<text x="632.4" y="127.4" font-size="6.8" fill="#555" stroke="#555" stroke-width="0.22" text-anchor="middle">ns</text>
<text x="644.75" y="130" font-size="8.6" fill="#333" stroke="#333" stroke-width="0.12" text-anchor="middle">*</text>
<text x="651.3" y="127.4" font-size="6.8" fill="#555" stroke="#555" stroke-width="0.22" text-anchor="middle">ns</text>
<text x="651.8" y="121.8" font-size="8.6" fill="#333" stroke="#333" stroke-width="0.12" text-anchor="middle">*</text>
<text x="638.1" y="119" font-size="8.6" fill="#333" stroke="#333" stroke-width="0.12" text-anchor="middle">**</text>
<text x="647.5" y="113" font-size="8.6" fill="#333" stroke="#333" stroke-width="0.12" text-anchor="middle">*</text>
<text x="23.2" y="318.5" font-size="12.5" fill="#231f20">d</text>
<text x="72.4" y="313.9" font-size="7.2" fill="#333" stroke="#333" stroke-width="0.22" text-anchor="middle">Teff_1 key marker:</text>
<text x="71.5" y="327.4" font-size="11" fill="#231f20" text-anchor="middle">Ki-67</text>
<path d="M80,332 C84,327 92,326 99,327 C105,329 108.5,335 109,343 C109.5,355 108.5,364 105,369 C101,373 93,374 86,373.5 C80,373 77.5,370 77,364 C76.5,356 76.5,340 80,332 Z" fill="#22144c"/>
<defs><linearGradient id="lg" x1="0.05" y1="0.95" x2="0.8" y2="0.1"><stop offset="0" stop-color="#f7a035"/><stop offset="0.2" stop-color="#e05a36"/><stop offset="0.42" stop-color="#9c2a72"/><stop offset="0.65" stop-color="#5a157a"/><stop offset="1" stop-color="#2c0c58"/></linearGradient></defs>
<path d="M40,345 C41,339 47,337 54,337 C60,337 66,339 70,342 C74,345 76,350 76,356 C74,358 70,357 66,356 C62,356 61,360 60,364 C57,367 50,368 44,367 C40,365 39,358 39,352 Z" fill="url(#lg)"/>
<path d="M70,364 C72,362 77,363 79,366 C80.5,371 80,377 77,379.5 C73,380.5 70.5,378 70,374 Z" fill="#2a1050"/>
<path d="M60,343 C64,340 72,339 78,340 L78,366 C74,366 70,364 68,360 C66,356 62,356 60,358 Z" fill="#2a1050"/>
<path d="M40.3 344.3h0m.1-1.2h0m.1 1.5h0m.7-2.1h0m.1-1.4h0m0 .5h0m0 4.2h0m.1-4.9h0m0 1.1h0m.1-1.2h0m.4 2.4h0m.1-2.9h0m0 3.2h0m0 1.9h0m.1 .7h0m.1-2.7h0m0 .7h0m.1-3.3h0m0 2.2h0m.1-2.9h0m0 .7h0m0 3.5h0m0 .2h0m.1-4.7h0m0 3.6h0m.1-.6h0m0 1h0m.1-3.6h0m.1-.5h0m.1 1.1h0m0 2h0m.1-.1h0m0 .4h0m.2-1.7h0m0 .6h0m.1 .9h0m.1-3.6h0m0 3.6h0m.1-2.2h0m.1 0h0m0 .3h0m.1-1.2h0m0 3.3h0m.1-3.1h0m0 .9h0m.1 2.8h0m0 2h0m.1-7.3h0m0 .9h0m.1 .3h0m0 2.1h0m0 1.6h0m.1-4.2h0m0 .9h0m0 .2h0m.1 1.1h0m0 2.8h0m.1-1.7h0m0 .9h0m0 1.1h0m0 2.8h0m.2-5.7h0m0 1.3h0m.1-3.5h0m0 5.6h0m0 .9h0m.1-7.8h0m0 4.8h0m0 .6h0m.1-1.5h0m.1-3.5h0m0 2.6h0m0 .9h0m0 5h0m.1-3.7h0m0 2.1h0m.1-6.8h0m0 7.4h0m.1-6.8h0m0 .7h0m0 4.2h0m0 3.9h0m.1-9h0m0 1.7h0m0 3.8h0m.1-6.6h0m0 5.6h0m.1-3.7h0m0 4.1h0m0 1.9h0m.1-5.2h0m.1 1.2h0m0 .2h0m0 .6h0m.1 1.8h0m.1-3.4h0m0 3.6h0m.1-.9h0m.1-1.1h0m0 .9h0m0 1.6h0m.1-7.8h0m0 5.2h0m.1 .5h0m0 1.6h0m0 .8h0m.1-8h0m.2 3.7h0m0 3.8h0m.2 .5h0m0 .8h0m.1-3.9h0m0 2.1h0m0 2.7h0m0 .8h0m.1-7.2h0m0 1.2h0m.1-2.9h0m0 .2h0m.1-1.2h0m.1 2.9h0m0 3.4h0m0 .1h0m0 .2h0m.1-1.4h0m0 .3h0m0 3.6h0m.1-7.9h0m0 2.8h0m0 1.8h0m.1-6.3h0m0 1h0m0 2.1h0m0 1.1h0m0 3.2h0m0 3.4h0m.1-5.2h0m0 1.2h0m0 2.5h0m.1-9.1h0m0 3.6h0m0 7.3h0m.1-11.5h0m0 1.8h0m0 6h0m0 .8h0m0 1.3h0m.1-5.7h0m0 1.4h0m0 .6h0m0 2.1h0m0 3.6h0m.1-11.5h0m0 .6h0m0 2.8h0m.1-2.3h0m0 1.9h0m0 .2h0m.1-.8h0m0 5.1h0m0 3.8h0m.1-12.1h0m0 1.6h0m0 3.4h0m0 1.7h0m0 3h0m.1-5.5h0m0 3.3h0m.1-7.4h0m0 .3h0m0 1.6h0m0 1.1h0m0 .1h0m0 6.6h0m.1-7.8h0m0 4.1h0m0 .4h0m0 0h0m0 7.3h0m.1-13.5h0m0 .7h0m0 7h0m0 2.1h0m.1-2.5h0m0 4h0m.1-3.9h0m0 .4h0m0 1.9h0m.1 2h0m.1-10h0m0 2.5h0m0 1.4h0m.1 4h0m.1-8.1h0m0 1h0m0 1.4h0m.1 2.7h0m0 1.9h0m.1-6.5h0m.1 1.5h0m0 1.7h0m0 .9h0m0 2.5h0m0 3.7h0m.1-11.5h0m0 .4h0m0 1.3h0m.1-.7h0m0 .3h0m0 2.5h0m0 .2h0m.1-2.8h0m0 1.2h0m0 1.6h0m0 .7h0m0 2.4h0m0 .1h0m0 4.6h0m.1-11h0m0 7.4h0m0 .6h0m.1-9.6h0m.1 7h0m0 1.2h0m0 .8h0m0 .2h0m0 .7h0m0 6.5h0m.1-17h0m0 3.1h0m0 .6h0m0 5.6h0m0 1.9h0m.1-8.9h0m.1 .9h0m0 4.5h0m0 5.4h0m.1-6.3h0m0 .4h0m0 2.6h0m0 1.5h0m0 .7h0m0 .5h0m0 .5h0m0 2.8h0m.1-15.3h0m0 .8h0m0 .1h0m0 3.6h0m0 4.3h0m0 1.5h0m.1-10.5h0m0 4.3h0m0 4.5h0m0 1h0m0 4.2h0m.1-9.2h0m0 4.5h0m0 .9h0m0 2.5h0m0 2.7h0m.1-14.4h0m0 .4h0m0 10.4h0m0 1.6h0m0 .4h0m.1-9.8h0m0 6.4h0m0 5.6h0m.1-13h0m0 1.2h0m0 8.5h0m.1-11.2h0m0 .4h0m0 2h0m0 5.8h0m.1-9.1h0m0 4.4h0m0 .3h0m0 8.9h0m.1-12.8h0m0 .1h0m0 4h0m0 .2h0m0 4.7h0m0 .2h0m.1-8.6h0m0 2.5h0m0 .6h0m0 6.1h0m0 1.9h0m0 .7h0m.1-4.2h0m0 1.7h0m.1-3.4h0m0 3.8h0m0 .2h0m0 1.9h0m.1-9h0m0 4h0m0 3.2h0m0 4.1h0m.1-3.9h0m0 3.3h0m0 .6h0m.1-12.2h0m0 .2h0m0 4.7h0m0 1.4h0m.1-3.7h0m0 4.4h0m0 3.5h0m0 4.8h0m.1-17.5h0m0 3.6h0m0 2.3h0m0 1.4h0m0 1.8h0m0 .4h0m.1-11h0m0 6.3h0m0 6.9h0m0 1h0m0 5.1h0m.1-16h0m0 1.3h0m0 1.2h0m0 .8h0m0 1.3h0m0 .6h0m0 1.4h0m.1-8.2h0m0 2.3h0m0 7.2h0m0 .7h0m0 2.6h0m.1-9.2h0m0 6.9h0m0 .4h0m0 2.2h0m.1-13.7h0m0 .5h0m0 .1h0m0 7.6h0m0 .5h0m0 5.8h0m.1-11.5h0m.1-3.2h0m0 .5h0m0 2.2h0m0 .4h0m0 5.6h0m0 9.9h0m.1-16h0m0 1.5h0m0 1.3h0m0 .1h0m0 2.1h0m0 3.1h0m.1-.8h0m0 3.9h0m.1-12.4h0m0 3.7h0m0 2.4h0m0 8.9h0m.1-15.1h0m0 7.3h0m.1-8.7h0m0 1.8h0m0 4.7h0m0 3.9h0m0 .5h0m0 6.7h0m.1-11h0m0 6.8h0m0 .8h0m0 1.5h0m.1-8.9h0m0 .2h0m0 6.6h0m0 .2h0m0 1.1h0m0 12.4h0m.1-25.5h0m0 .1h0m0 4.6h0m0 3h0m0 .3h0m.1-5.1h0m0 .3h0m0 4.7h0m0 5.8h0m0 4.3h0m.1-16.6h0m0 1.5h0m0 1.8h0m0 3.4h0m0 .6h0m0 .1h0m0 .6h0m0 5.2h0m0 .1h0m.1-15.1h0m0 .8h0m0 2.3h0m0 1.4h0m0 .4h0m0 5.4h0m0 .3h0m0 2.8h0m0 .2h0m.1-12.3h0m0 .8h0m0 2.7h0m0 0h0m0 3h0m0 9h0m0 1.8h0m.1-14.9h0m0 .4h0m0 2.9h0m0 5.9h0m.1-.1h0m0 6h0m.1-4.3h0m0 2.6h0m0 4.6h0m.1-16h0m0 5.3h0m.1-10.5h0m0 7.5h0m0 2.1h0m0 5h0m0 1.3h0m.1-14.4h0m0 2.3h0m0 5.4h0m0 3.4h0m0 1.4h0m0 2.9h0m0 .2h0m0 1h0m.1-17.7h0m0 1.7h0m0 1.4h0m0 6.4h0m0 9.3h0m0 1h0m.1-21.5h0m0 .6h0m0 1.6h0m0 5.6h0m0 3.7h0m0 6h0m0 5.4h0m.1-17.9h0m0 4.6h0m0 .9h0m0 1.6h0m0 1.2h0m0 3.8h0m0 3.4h0m0 2.3h0m.1-10.5h0m0 11.4h0m.1-7.4h0m.1-14.7h0m0 .3h0m0 2.5h0m0 2.1h0m0 3.4h0m0 2.4h0m0 4.7h0m0 .4h0m0 .3h0m0 3.5h0m0 3h0m.1-23.9h0m0 2.4h0m0 2.8h0m0 6.4h0m0 .6h0m0 2.8h0m0 2.3h0m0 .6h0m0 .7h0m0 3.6h0m0 .6h0m.1-17.8h0m0 4.4h0m0 1.5h0m0 3.9h0m0 1.7h0m0 .1h0m.1-10.3h0m0 .6h0m0 8.5h0m0 .8h0m0 2.2h0m0 .9h0m.1-11.5h0m0 .1h0m0 2.2h0m0 4.7h0m0 10.9h0m.1-23.5h0m0 7.4h0m0 5.8h0m0 1h0m0 1.1h0m0 4h0m.1-18.1h0m0 .5h0m0 11.1h0m.1-14.4h0m0 1.8h0m0 .9h0m0 1h0m0 1.2h0m0 1h0m0 .7h0m0 7.8h0m0 .6h0m0 .6h0m0 3.8h0m.1-17.7h0m0 2.3h0m0 2.9h0m0 9.3h0m0 1.6h0m.1-17.4h0m0 .3h0m0 5.5h0m0 1.2h0m0 0h0m0 15.3h0m0 1.6h0m.1-17.7h0m0 6h0m0 .7h0m0 8.2h0m0 3.5h0m.1-22.8h0m0 5.3h0m0 0h0m0 6.9h0m0 8.2h0m0 .5h0m.1-20.5h0m0 8.5h0m0 .6h0m0 1.6h0m0 .9h0m0 7.3h0m0 2.5h0m.1-22.4h0m0 5.2h0m0 .1h0m0 1.5h0m0 5.2h0m0 2.7h0m0 2.7h0m0 1.8h0m.1-5h0m0 1h0m0 4.6h0m.1-17.7h0m0 3.4h0m0 4.7h0m0 1.1h0m0 4.4h0m.1-16h0m0 1.6h0m0 1.3h0m0 1.5h0m0 1.7h0m0 6.9h0m0 1.1h0m0 3.6h0m0 .2h0m.1-14.3h0m0 0h0m0 3.1h0m0 .4h0m0 4.3h0m0 2.9h0m0 .2h0m0 .1h0m0 .9h0m0 .9h0m0 .9h0m.1-10.2h0m0 2.2h0m0 3.9h0m0 9.2h0m0 0h0m.1-21.9h0m0 2.6h0m0 3.2h0m0 1.3h0m0 7.5h0m0 3.3h0m0 1.8h0m.1-19.4h0m0 6.5h0m0 .3h0m0 .1h0m0 1h0m0 4.9h0m0 .8h0m0 0h0m0 .4h0m0 3.3h0m0 2.1h0m.1-16.2h0m0 2.1h0m0 9.9h0m0 4.4h0m.1-9.3h0m.1 2.1h0m.1-10.8h0m0 6.2h0m0 .1h0m0 .7h0m0 9.3h0m.1-13.7h0m0 8.3h0m0 1h0m.1-11.9h0m0 1.4h0m0 9h0m0 .6h0m0 .6h0m0 1h0m0 6.4h0m.1-14.6h0m0 4.3h0m0 4.4h0m0 5.8h0m.1-16.4h0m0 5.1h0m0 6.4h0m0 2.6h0m.1-15.5h0m.1-2.6h0m0 1.9h0m0 1.2h0m0 2.9h0m0 3.2h0m0 9.3h0m.1-16.3h0m0 3h0m0 .7h0m0 1.2h0m0 3.1h0m0 6.2h0m.1-14h0m0 1.1h0m0 1.7h0m0 1.1h0m0 .2h0m0 2.3h0m0 1.3h0m0 4.4h0m.1-11.1h0m0 1.4h0m0 .9h0m0 3.8h0m0 4.6h0m0 .4h0m0 .8h0m.1-13.9h0m0 4.5h0m0 .1h0m0 4.3h0m0 1.1h0m0 8.1h0m.1-15.9h0m.1-2.6h0m0 3.3h0m0 .8h0m0 .8h0m0 4.2h0m0 4.9h0m0 .7h0m.1-15.1h0m0 .5h0m0 .8h0m0 .4h0m0 13h0m.1-9h0m0 1.8h0m0 1.1h0m0 2.6h0m0 5.6h0m.1-8.3h0m0 1.9h0m0 1h0m0 .9h0m0 .7h0m0 2.4h0m0 2.2h0m0 .8h0m.1-9.3h0m0 5h0m0 .1h0m.1-5.7h0m0 4.7h0m.1-12.2h0m0 8.6h0m0 2.7h0m0 .7h0m0 1.3h0m0 1.3h0m.1-10.8h0m0 .1h0m0 2.6h0m.1 4.9h0m0 .3h0m0 2h0m0 2.1h0m.1-8.2h0m0 5.7h0m.1-11.1h0m0 .7h0m0 7.3h0m.1-8.2h0m0 1.7h0m0 4.1h0m0 .3h0m0 4.3h0m0 1.2h0m0 1.9h0m.1-12.2h0m0 1.9h0m0 3.7h0m0 .7h0m0 1h0m.1 2.9h0m0 .3h0m.1-8.5h0m0 3.9h0m0 3.4h0m.1-5.1h0m0 1.7h0m0 .7h0m0 2.6h0m0 1.1h0m.1-10.8h0m0 6.4h0m.1-3.8h0m0 1.1h0m0 3.3h0m0 .7h0m0 .3h0m0 2.5h0m.1-5.7h0m0 4.4h0m.1-5.3h0m0 1.1h0m0 4.8h0m.1-8.6h0m0 .2h0m0 .4h0m0 .6h0m0 8.5h0m.1-9.7h0m0 3.9h0m0 2h0m0 .2h0m0 .4h0m0 0h0m0 .4h0m0 .5h0m.1-7.2h0m0 4.7h0m.2-9.7h0m0 6.5h0m0 .6h0m0 2.1h0m.1-.4h0m0 2.6h0m0 .6h0m.1-4.4h0m0 3.5h0m.4 1.4h0m.5 .1h0m1.8-.2h0m.3-9.9h0m.2 .4h0m.2 2.8h0m.3-.9h0m0 1h0m1-4h0m.6 5.3h0m.7 7.6h0m1.5 13.8h0m.5 2h0m.4-20.4h0m.1-9.7h0m0 .4h0m0 5.8h0m.2-6.2h0m.3 28.2h0m0 .8h0m0 6h0m.5-32.9h0m0 3.2h0m.3 .1h0m.3-4.2h0m.6-1.9h0m.5 36.6h0m.2-6.6h0m.2-.8h0m.9-29.8h0m.1 15.1h0m.2-11.2h0m.1 24.2h0m.2-26.3h0m.1 2.6h0m0 25.9h0m.1-19.4h0m.1-1.9h0m.2 16.2h0m.4 7.1h0m.2-5.9h0m.3 8h0m.3-6.3h0m.5-28h0m0 5.2h0m0 33.1h0m.1-7.9h0m0 2.6h0m.4-2.9h0m.1 1.8h0m.6-24.2h0m.1 26.9h0m.2-9.4h0m.1-5.3h0m.1-18.7h0m0 28.1h0m.3-16.7h0m.1 16h0m1-18.1h0m.4 10.7h0m.2-.9h0m.2-16.7h0m.1 11.1h0m.3-12.3h0m.1 12.4h0m.2 10.8h0m.2-3.6h0m.4 3.6h0m.2-32.1h0m0 2.2h0m0 31.1h0m.1-33.9h0m0 28.9h0m.1-12.8h0m.1-2.2h0m.2 16.1h0m.1-27.6h0m.2 8.4h0m.3-.2h0m1.2 8.8h0m0 8.3h0m.1-9.4h0m.6 17.1h0m.2-39.4h0m.1 13h0m.3-15.2h0m.1 25.2h0m.2 14h0m.4-38.2h0m.2 .8h0m.3 40.9h0m.8-19.6h0m0 19.9h0m.3-12h0m.1 13h0m.1-14.9h0m.6-16.5h0m.4 21.1h0m.1-2h0m.2-29.6h0m.1-2.2h0m.3 19.2h0m.5 18.3h0m.1-34.8h0m0 .3h0m0 4h0m.4 17.4h0m.1 18.4h0m.1-5.6h0m.3-36.3h0m.1 29.6h0m.2 12.4h0m.4-33.4h0m.3-8.2h0m0 21.9h0m0 6.6h0m0 12h0m.1-4.8h0m.2-1.9h0m0 3.1h0m.2-34.2h0m.4 38.1h0m.2-3.5h0m.3-32.7h0m.4 15.8h0m.2-5.4h0m.2-4.6h0m.3 27.8h0m.4-37.6h0m0 41.4h0m.2-37h0m.5 6.3h0m.1 15.5h0m.4-28.4h0m.1 37.6h0m.1-30.5h0m1.1 16.2h0m0 19.2h0m.1-26.7h0m.4-14.3h0m0 11.2h0m.2-4h0m.1 .4h0m.3-7h0m0 16.5h0m.6 2.2h0m.2-18.9h0m.1 7.6h0m.2 31.2h0m.2-25.2h0m.2 13.3h0m.1-18.5h0m0 28.7h0m.3-12.3h0m.4-6.4h0m0 11.7h0m.1-21.4h0m.2-5.9h0m0 28.9h0m.2 1.4h0m.7-22.1h0m.4 14.9h0m.2-9.5h0m.1-11.1h0m0 16.8h0m.1-10.7h0m.1 19.2h0m.1-26.6h0m.2 21.9h0m1.2-.9h0m.3-13.2h0m.1 1.7h0m.2 8.9h0m.4-9.8h0m0 10h0m.5 6.6h0m.1-7.3h0m1.2-7.9h0m.5 1.5h0" stroke="#180848" stroke-width="1.0" stroke-linecap="round" fill="none"/>
<path d="M38.7 348.2h0m3-1.6h0m1.4-2h0m1.2 1.1h0m.8 .2h0m.4 2.3h0m.3-2.4h0m.5 1h0m.3 1.7h0m0 1.9h0m.4-4h0m.5 2.8h0m1 1.3h0m.4 1.1h0m.6-2.5h0m.5 2.9h0m.7 3.5h0m.7-4.6h0m.9 2.3h0m.6 5h0m.5 3.9h0m1.1 2.3h0m.2-2.8h0m7.7-6.5h0m.3-6.3h0m0 2.2h0m.3 5.3h0m.3-2.2h0m.1-.7h0m.6-10.6h0m.1 .8h0m.4-1.4h0m.3 12.3h0m.6-6.7h0m.2-.4h0m0 8.9h0m.3-7.9h0m.3-6.8h0m0 .5h0m0 1.5h0m0 1.6h0m.1 11.8h0m.5-11.1h0m.2 1.3h0m.3-3.7h0m.3 8.7h0m.8 5h0m.6-.1h0m.2-7.7h0m.1-7.4h0m.2 29.2h0m.1-26.2h0m0 4.2h0m.1-5h0m.2 6.8h0m0 17.7h0m0 .1h0m.1-16.8h0m0 3.1h0m.1 18.1h0m.5-23.6h0m.3 6.4h0m.2-.1h0m.1 .3h0m.1 18.9h0m.1-24.9h0m.1 6.2h0m.2 7.8h0m.2 6.7h0m.1-25.9h0m.2 34.3h0m.2-24.9h0m0 16.4h0m.2-25.8h0m0 34.8h0m.2-25.7h0m.3 20.7h0m.5 1.8h0m.1-34.8h0m.2 7.8h0m0 13.4h0m0 2.6h0m.5 3.9h0m.3-17h0m.1-5.1h0m0 3h0m0 2.9h0m0 23h0m.2-3.4h0m.1-.3h0m0 3.8h0m.1-34.3h0m.1-.1h0m.1 29.5h0m.1-7.9h0m0 15.7h0m.1-13h0m.1-1.6h0m.5 3.5h0m.1 3.5h0m0 7.9h0m.3-8.9h0m.1-6.3h0m.2 12.9h0m0 1.2h0m.5-4.8h0m.3-7.8h0m0 4h0m.1 5.4h0m.1-10.8h0m.2-10.2h0m0 21.8h0m.1-25.4h0m.1-6.8h0m.1 31.7h0m0 .7h0m.2 .8h0m.1-15.5h0m.5-5.9h0m0 5.7h0m.1-14.4h0m.5-.1h0m.2 3.4h0m.7-2.1h0m.6 17.6h0m.1-21.8h0m.5 18.5h0m.3 0h0m.1-11.6h0m.3-4.3h0m0 16h0m.1-11.2h0m.1 1.9h0m.5-20.2h0m.5 7h0m0 7.8h0m.1 21.6h0m.1-27.5h0m0 15h0m.9-19.8h0m.5 4.7h0m0 10.5h0m.4 16.4h0m.1-37.5h0m.5 15.1h0m.2-16.3h0m.1 22.7h0m.7-22.3h0m0 20h0m0 20.7h0m.1-34.2h0m.5 7.4h0m.3-7.6h0m0 30.5h0m.3-39.6h0m.1 8.6h0m0 15.9h0m.3-11.3h0m0 19.3h0m.1-12h0m.2 24.5h0m.1-15.2h0m.1 6.4h0m.2 4.7h0m.1-.5h0m.1-15.9h0m.1-11.8h0m.5-13.3h0m0 28.9h0m.5-20.9h0m.1 32.9h0m.4-9.5h0m.2-15h0m.2 19.4h0m.1 8.3h0m.1-18.5h0m0 5.2h0m.5 9.8h0m.2-15.9h0m.3-18.1h0m0 23.4h0m.1-25.4h0m0 4.6h0m.1-4.6h0m.1 27.2h0m0 7.3h0m.5-7.7h0m0 5.5h0m.1-26.7h0m.8 6.8h0m0 2.2h0m.2 20.4h0m.3-16.8h0m.1 22.9h0m.3-19.9h0m.1-2.1h0m.2-20.9h0m0 17.6h0m.1 2h0m.2-16.7h0m0 9.6h0m.2 20.6h0m.3-25.5h0m0 7.3h0m.4 1.2h0m.3-17.1h0m.5 5.7h0m.1 18.1h0m.1-10.2h0m.2-3h0m.2-2.4h0m.2-4.1h0m.1 8.2h0m.2-2.7h0m.1 8.9h0m0 12.7h0m.1-17.6h0m.1-2.2h0m.1 21.8h0m.3-16.7h0m.3 2.6h0m0 22.4h0m.3-26h0m0 15.9h0m.4-18.8h0m.1 5.5h0m.1 10.5h0m.3 5.1h0m.1 .7h0m.9-25.3h0m0 18.8h0m.3-15.4h0m.3-10.2h0m.1 2.4h0m.2 13h0m.1-7.3h0m0 15.5h0m.2 7.4h0m.2 4.9h0m.1-10h0m.4-10.4h0m.1 5h0m.2 7.5h0m.2-17.6h0m0 9.2h0m.1 1.9h0m.1 .8h0m.1-7.8h0m.1-4.6h0m.2 9.6h0m0 12.2h0m.2 .9h0m.1-11.6h0m1.1 1.2h0m.1-14.3h0m.3 13.6h0m.1-.4h0m.6-5.8h0" stroke="#380868" stroke-width="1.0" stroke-linecap="round" fill="none"/>
<path d="M39 347h0m.4-1.2h0m.1-1.3h0m.2 4.2h0m.5-.8h0m.2-3.5h0m.2 2.2h0m.4-.4h0m.6 1.4h0m.4-1.2h0m.1 1.5h0m.4-1h0m.2-1.1h0m.2 1.9h0m.1 3.4h0m1.3-4.9h0m.5 2.8h0m.3 1.8h0m.3-3.1h0m.5 1.5h0m.6-3.9h0m.3 6.3h0m.1-2.7h0m.1 3.7h0m.2 2.8h0m.1-4.2h0m1.5 2.1h0m.4 1.5h0m.8-.5h0m.1 2.5h0m.2-3.7h0m.2-.2h0m.1 5.3h0m.1-4.8h0m0 10.3h0m.1-8.1h0m.2-1.4h0m.1 0h0m.4-.7h0m.2 .4h0m0 .8h0m0 .3h0m0 3.4h0m0 4.8h0m0 .9h0m.1-2.5h0m.2-6.2h0m.1 1.6h0m.5-.3h0m0 2.5h0m.1 2.4h0m.2 .3h0m0 3.4h0m.1-9.8h0m0 .1h0m.2 6.4h0m.4 3.4h0m.1-8h0m0 1.6h0m0 4.6h0m.1-6.2h0m0 7.4h0m.1-5.8h0m.1 1.5h0m.2-.8h0m.6 0h0m.1 2.2h0m.2 1.7h0m.9-4.1h0m4.2-16.6h0m0 .3h0m.3 .8h0m.3-1.3h0m.3 1.2h0m.4 1.9h0m.5-4.7h0m.2 9.3h0m0 5.2h0m.2-1.4h0m.1-5.8h0m0 2.2h0m.2-4.4h0m0 .4h0m.1 2.9h0m.1 1.3h0m0 2.8h0m.1-6.1h0m0 3h0m0 .5h0m.2-9.7h0m.1 13h0m.1-12.3h0m0 9.7h0m.1-4h0m0 4.5h0m.1-1.4h0m0 3.5h0m.1-6.3h0m.2 0h0m.2 7.2h0m.1-13.2h0m.2 7.1h0m0 5.4h0m.1-11.5h0m.1 .4h0m0 3.4h0m0 6.6h0m.1-12.3h0m.1-.1h0m0 .1h0m.3 2.2h0m.2 8.8h0m0 1h0m.2-7.6h0m0 6.9h0m0 .4h0m.2 .4h0m.1-8.8h0m0 2h0m.1-3.2h0m.1 7.4h0m.1-3.2h0m.1 9h0m.1-12.9h0m0 1.4h0m0 2.6h0m.2 6h0m.1-11.2h0m0 2.7h0m0 7.1h0m.1-1.3h0m.2-6.8h0m0 1.6h0m.1-1.4h0m0 3.9h0m.1-4.2h0m.1 0h0m0 14.4h0m.2-14.6h0m0 8.6h0m.1-2.5h0m.1-1.9h0m.3 1.8h0m.1-1.7h0m.1-6h0m0 10.2h0m.1 5.3h0m.1-5h0m.2-11.2h0m0 5.1h0m.1-2.5h0m0 11h0m0 2.9h0m.2-1.5h0m.1-10.4h0m0 9.8h0m0 3.4h0m.1-10.4h0m.1-4.6h0m0 11.6h0m0 .1h0m0 .2h0m.1-14.3h0m.2 26.8h0m.1-20.8h0m.1 1.3h0m0 23h0m.1-18.8h0m0 2.3h0m.1-13.1h0m.2 0h0m0 6.9h0m.1-8.1h0m0 4.6h0m0 7.2h0m.1-9.8h0m0 5.2h0m0 10.9h0m.1-12h0m0 1.9h0m0 8.8h0m0 .7h0m.1-3.5h0m.1-8.2h0m0 1.6h0m0 5.1h0m.1-12.1h0m.1 7.3h0m0 6.9h0m0 1.3h0m0 19.8h0m.1-18.9h0m.2-5.3h0m0 21.3h0m.1-18.8h0m.1-4.8h0m.1 6.5h0m0 16.9h0m0 2.6h0m.2-20.1h0m.1-.4h0m0 11h0m0 3.1h0m.2-15h0m0 10h0m.2-20.6h0m0 11.2h0m.2-8.5h0m0 .5h0m0 18.8h0m.1-9.9h0m0 7h0m0 7.4h0m.1-27.5h0m0 8.8h0m0 1.8h0m.1-10.6h0m0 4.3h0m0 8.8h0m.1-15.1h0m0 16.1h0m0 8h0m.2-9.8h0m0 1.3h0m0 .8h0m.1 6.3h0m.1 6.7h0m.1-22.4h0m0 5.3h0m.1 19.3h0m.1-27.8h0m0 22.5h0m.1-1.7h0m0 4.4h0m0 9.3h0m.1-33.3h0m.2-2.6h0m0 11.2h0m0 15.1h0m.1-15.4h0m0 12.6h0m.1-17.3h0m0 16.5h0m0 9.2h0m.1-22.2h0m0 22.8h0m.1-30.5h0m0 11.1h0m0 15.7h0m.3-24h0m0 1.7h0m.1-1.5h0m0 14.8h0m.3-13.5h0m0 16.5h0m.1-14.7h0m0 1.1h0m0 1.2h0m.1 16.3h0m.1-27.4h0m0 3.9h0m0 2.3h0m0 6.7h0m.2-11.4h0m0 1.8h0m0 19.7h0m.3-2.5h0m.1-20.7h0m.1 21.2h0m0 4.3h0m0 11.5h0m.1-2.7h0m.2-2.8h0m.3-8.4h0m.1 12.1h0m.1-12.4h0m.1-1.9h0m.2 4.3h0m.1 5.7h0m.1-10.4h0m.1-5.1h0m0 .9h0m.1 10.3h0m.2-3h0m.1 4h0m.1 4.3h0m0 2.3h0m.1-.4h0m.1 1.2h0m.2-25.1h0m0 21.8h0m.1 1.3h0m.4-14.8h0m0 12.2h0m0 4.6h0m.3-7.2h0m.1 3.8h0m.3-1.2h0m.1-4.8h0m.4-14.5h0m.1 17.5h0m.2-.7h0m.3-16.5h0m.1 16.2h0m.6-10.6h0m.5-2.7h0m2.6 11.4h0m1.7-22.7h0m.9-13.3h0m1.7 2h0m.1 32.5h0m.5-23.6h0m0 16.2h0m.8-27.1h0m.2 1.2h0m.3 23.4h0m.2 .8h0m.7-1h0m.2 12.3h0m.2-21.4h0m.6-18.3h0m.2 43.9h0m.2-22.9h0m2 12h0m.1-27.1h0m.8-7h0m.2 19.8h0m.3 7.9h0m.6-13.8h0m.5-14.3h0m.5 29.7h0m1.9-.3h0m3.7-14.1h0m1.8-5h0m.2-.2h0m.3 .6h0m0 23.5h0m.7-23.2h0m.1 11.4h0m.8 8.4h0m.6-16.6h0" stroke="#480868" stroke-width="1.0" stroke-linecap="round" fill="none"/>
<path d="M40.4 344h0m1 .6h0m.6 2.2h0m.2-1.6h0m0 3.7h0m.2-4.4h0m.3 4.2h0m.5-4.8h0m.1 4.4h0m.7-1.7h0m.8-2.2h0m1.3 2.7h0m.1 0h0m1.4 2.2h0m.9-1.6h0m.8 2.9h0m.2 1.8h0m1 2.3h0m.1-3h0m.3 1.4h0m.1 0h0m.3 1h0m.1-.1h0m.2-3h0m.3 2h0m.3 9.2h0m.6-3.8h0m.2 6.7h0m.5-5.6h0m0 1.9h0m.1-3.1h0m.3-2.4h0m.1 2.1h0m.1 1.5h0m.1-1.4h0m.4-1.9h0m0 2.4h0m.2 2.9h0m.3-5.6h0m.2 .6h0m0 4.8h0m.2 .3h0m.2-.5h0m.1 1.2h0m.6-.3h0m4.5-20.9h0m.6 2.8h0m.2-1.1h0m.4 5h0m0 4h0m.1-2.3h0m.1-6h0m0 2h0m.4-1.3h0m.1 .7h0m0 8.4h0m.1-7.5h0m.5-2.5h0m.1 11.4h0m.3-2.6h0m.1-10.8h0m0 11.9h0m.2-9.9h0m.6 3.7h0m.2-3.6h0m.2-2.4h0m0 2h0m.2 4.6h0m.1 6.8h0m.1-4.1h0m.3-1.9h0m.1 1.5h0m.5 3.2h0m.5-9.4h0m.1-1.3h0m0 10h0m.1-5.8h0m.2 10.4h0m.1 .1h0m.3-11.2h0m.1-.7h0m0 .4h0m0 3.7h0m0 3.7h0m.1-11.2h0m0 6.3h0m0 .4h0m0 9.3h0m.2-6.9h0m.3-3h0m0 1.9h0m.3-5.9h0m0 13.7h0m0 1.7h0m.2-10h0m0 1.5h0m.1-6.5h0m.2 8.8h0m0 17.2h0m.2-26.8h0m0 26.1h0m.1 2.7h0m0 2.5h0m.1-31.7h0m0 31.4h0m.1-19.8h0m0 18.3h0m.1-21.5h0m0 23.4h0m.1-1.6h0m.2-25.3h0m.1 6.3h0m0 .7h0m0 3.2h0m0 13.6h0m.1-19.9h0m0 1.7h0m0 3.7h0m.1 13.3h0m.1-15.3h0m.1-14h0m0 1.4h0m0 24.4h0m.2-21.4h0m0 5.2h0m.1 .4h0m0 1.4h0m0 4.2h0m0 19.6h0m.1-10h0m.1-.1h0m.1-17.1h0m.1-7.3h0m0 12.9h0m0 14.8h0m.2-16.3h0m0 5h0m0 13.1h0m.2-6.7h0m0 3.8h0m.1-25.4h0m0 3.5h0m.1 5.3h0m0 20h0m0 4.3h0m.1-23h0m0 15h0m0 .1h0m0 2.4h0m.1-5.3h0m.1-15.1h0m.1-8h0m0 5.5h0m0 2.5h0m0 1.3h0m.1-8.9h0m.3 14.9h0m0 11.3h0m0 3.6h0m.2-30.3h0m0 1.5h0m0 8.8h0m0 3.6h0m.1-14.6h0m0 6h0m0 1.9h0m0 22h0m0 6.8h0m.2-8h0m.1-28.8h0m0 27.7h0m0 8h0m0 .5h0m.1-20.3h0m0 9.3h0m.2-19.6h0m.1-.8h0m.1 29.1h0m.1-10.7h0m0 4h0m.1-.5h0m.1-26.6h0m0 3.1h0m.1 2.6h0m.1 4.8h0m0 26.9h0m.1-22.9h0m0 12.8h0m.1-15.8h0m0 10h0m.1-8.1h0m0 11.5h0m.1-19h0m.1-4.4h0m0 21.8h0m.2 15.6h0m.1-32.7h0m0 19.2h0m.1 8.1h0m.1 1.3h0m.1-3.4h0m.1-5.5h0m.2 2.3h0m.3-2.8h0m.3 .5h0m.1-.1h0m.1-14.7h0m.1-8.2h0m0 33.7h0m.2-10.7h0m0 5.1h0m0 6.5h0m.1-23.4h0m0 18.2h0m.1-21.1h0m0 13.2h0m0 5h0m.1-29.2h0m.1 16.4h0m0 6.7h0m0 1h0m0 10.8h0m.2-11.5h0m0 11.7h0m.1-27.6h0m0 2.4h0m0 5.9h0m.2-15h0m0 .4h0m0 28.3h0m.2-5.7h0m.1-21.8h0m0 31.5h0m.1-19.7h0m.1-5.1h0m.1 0h0m0 9.6h0m0 9.5h0m0 1.8h0m.1 .7h0m.2 .2h0m.1-24.5h0m.1 7.7h0m0 20.8h0m.2-.9h0m.1-15h0m0 14.5h0m.2-38h0m0 35.6h0m.1-29.7h0m0 14h0m.1 3.7h0m.1-14.4h0m.1 27.9h0m.1-4.1h0m0 2.3h0m.4-11.9h0m0 1.2h0m0 9.8h0m.2-18h0m0 19.3h0m.1-34.5h0m0 14.2h0m.3-8.7h0m.2-.5h0m.1 6.8h0m0 2.6h0m.2-9h0m0 6.9h0m.4-4.7h0m0 6.7h0m0 4.9h0m0 7.7h0m.1-3.2h0m.1-8.8h0m0 5.7h0m.3-15.2h0m0 13.2h0m.1 9.1h0m0 3.1h0m.4-27.5h0m0 6.7h0m.1 4.9h0m.1-6.3h0m0 9h0m.1-24.4h0m.1 9.6h0m.1 6.9h0m0 14.5h0m.1-30.9h0m0 25.1h0m.2-23.5h0m0 11.9h0m.1 3.2h0m.1-5.2h0m.1 27.2h0m.1-33.6h0m0 2.4h0m.1 24.4h0m.1-26.4h0m0 3.1h0m0 2.2h0m0 .6h0m.1-2.1h0m.1 3.3h0m0 5h0m.2 .7h0m0 2.1h0m0 14.7h0m.2-7h0m.1-5h0m.2-15.8h0m.2 22.6h0m.1-.1h0m.1-3.8h0m.2 8.1h0m0 4.4h0m.1-23.8h0m.1-8.6h0m0 .3h0m0 15.8h0m0 6.2h0m.3-29.8h0m0 26.9h0m0 6.8h0m.3-9.6h0m.1-17.8h0m.1-1.3h0m0 17.5h0m0 14.4h0m.1-9.3h0m.2-15.2h0m0 13h0m0 3.6h0m0 2.2h0m0 6.6h0m.1-18.3h0m0 11.1h0m.1-21.9h0m0 29.2h0m.1-15.7h0m.1-2.1h0m.1-14.7h0m.1 25.7h0m.2-6.8h0m.1-15h0m0 8.3h0m0 23.4h0m.1-41.1h0m0 39.4h0m.4-36.8h0m0 .4h0m0 11.9h0m.2-9.2h0m0 29.7h0m.1-10.4h0m.2-3.1h0m.2-18.6h0m0 15.5h0m0 9.8h0m0 1h0m.1 7.8h0m.1-26.5h0m0 17.7h0m.1-25.6h0m.1-3.8h0m.1 2.3h0m.1 .3h0m.2 29h0m.1-30.2h0m0 27.1h0m0 1.1h0m0 2.3h0m.1-33.2h0m0 25.9h0m.2-.1h0m.2 .9h0m0 17.2h0m.1-35.8h0m.3 6.6h0m.2-9h0m0 11.6h0m0 13.7h0m0 12.4h0m.1-24.2h0m.2-16.5h0m0 10.1h0m0 8.9h0m0 2.6h0m.3 2.7h0m0 11.2h0m.1-5.3h0m.1-15.1h0m.1-6h0m.1 24.1h0m0 .4h0m.1-7.6h0m.1-6h0m0 9.3h0m.1 .6h0m.1-4.1h0m0 1.9h0m.1-20.1h0m0 1.2h0m.1-.8h0m0 12h0m.1 14.2h0m.2 5.3h0m.1-6.3h0m.1-12.4h0m.2-15.5h0m0 35.1h0m.1 .9h0m.3-30.6h0m0 14.1h0m.1-28.3h0m.1 35.5h0m.2-28h0m0 32.2h0m.1-21.7h0m.1 10.9h0m.2-25.3h0m.1 22.2h0m0 9.7h0m0 3.3h0m.1-24.3h0m.1-11.1h0m0 41.3h0m.1-8.9h0m.3-30.4h0m.1 1.8h0m0 13h0m0 3.9h0m.2-12.6h0m0 10.7h0m0 20.8h0m.1-14h0m.1-8.8h0m.1-5.6h0m0 19.8h0m.1-23h0m.1 2.2h0m.1-6.2h0m.1 33.6h0m.1-33.5h0m0 10.3h0m.2-1.9h0m0 12.8h0m.1-26.1h0m0 27.4h0m.1 1.8h0m0 7.7h0m.1-33.5h0m0 30.9h0m0 6.6h0m.2-31.1h0m0 4.5h0m.1-12.1h0m.1 12.7h0m0 13.8h0m.1-25.2h0m.1 19h0m0 5.2h0m.2-19.6h0m.2 17.3h0m.1-19h0m.1 24.8h0m.1-1.1h0m.1-21.6h0m.1 20h0m0 .7h0m.2-28.9h0m.1 18.2h0m0 13.3h0m.2-1.2h0m0 1.6h0m.1-33.7h0m0 24.8h0m0 4.5h0m0 .8h0m.1-16.3h0m.1 17.7h0m0 11.5h0m.1-24.3h0m.1 1.5h0m0 12.9h0m.1-24.1h0m0 24.4h0m0 9.6h0m.2-27.2h0m0 21.6h0m0 5.2h0m.3-42.1h0m0 38.3h0m.1-13.4h0m0 10.9h0m.2-16h0m0 19.5h0m.1-32.4h0m0 26.5h0m.3-9.7h0m.1-19.3h0m0 2.5h0m0 32.5h0m0 1.4h0m.2-14.3h0m0 2.8h0m.1-14.7h0m.1-1.4h0m0 20.8h0m.1 .4h0m.1-3.8h0m0 1.8h0m.1 5.3h0m0 .1h0m.3-27.7h0m.1 11.9h0m.1-14h0m0 23.7h0m0 7h0m0 2.4h0m.4-10h0m.1-18.9h0m0 6.4h0m0 13.1h0m.1-16.9h0m0 24.5h0m.2-31.5h0m.4 17.5h0m.2-22.2h0m.1 1.2h0m0 4.5h0m0 3.2h0m.1-7h0m.1 9.6h0m0 .8h0m.2-4.7h0m0 7h0m.2-9.9h0m.1 6.4h0m.1 16.8h0m0 6.1h0m.1-28.5h0m.1 23.1h0m.3-.8h0m.3-2.8h0m.1-7.1h0m0 12.6h0m.2-6.8h0m0 8.1h0m.2-5.3h0m.1-21.9h0m.3 9.4h0m.2-3.8h0m0 19.2h0m.3-23.2h0m.1 .5h0m.3 11.9h0m.3 7.6h0m.1-1.1h0m.2-1.6h0m.3-11.3h0m.7 11.3h0" stroke="#380858" stroke-width="1.0" stroke-linecap="round" fill="none"/>
<path d="M76.6 343.9h0m.7 4.2h0m0 3.3h0m0 .7h0m0 3.9h0m.3-12.9h0m0 6.7h0m.1-6.9h0m0 3.2h0m0 11.3h0m.2-9.1h0m.2-2.6h0m.1 1.5h0m.1 5.4h0m.1 6.1h0m.1-14h0m0 3.4h0m0 5.6h0m.1 .3h0m0 4.4h0m.1-4.4h0m.2 2.6h0m.2 0h0m.1-15.7h0m.1 21.5h0m.1-10.9h0m.1 11.3h0m.1-16h0m0 15h0m.4-19h0m.1 13.4h0m0 .6h0m.1 .9h0m.2-7.8h0m.1-5.2h0m.4 .1h0m0 1.1h0m.1-11.7h0m0 3.5h0m0 12.1h0m.1-2.3h0m.3-6.4h0m0 11h0m.1-1.3h0m0 3.6h0m.1 3.2h0m.1 4.2h0m.1-22.8h0m0 5.5h0m0 6.6h0m0 9.7h0m.1-6.5h0m.1-11.5h0m0 22.5h0m.2-2.6h0m.1-17.3h0m0 16.3h0m.2-14.7h0m0 4.3h0m.1-14.9h0m0 3.1h0m.1-3h0m0 20.7h0m.2-23.5h0m0 2.5h0m0 11.9h0m0 21.3h0m.1-37.6h0m0 22.1h0m.2 13.5h0m.1 1.2h0m.1-25.5h0m0 25.1h0m.1-35.9h0m0 32.8h0m.1-27.4h0m0 5.4h0m.1 12h0m.1-24.1h0m0 7.6h0m.1-3.1h0m.2 2.2h0m0 32.7h0m.1-39.4h0m.1 38.3h0m.1-23.6h0m0 23.8h0m.1-15.4h0m.2 16.6h0m.1-2.2h0m.1-19.8h0m0 3.3h0m.2-8.3h0m.1 5.6h0m0 21.4h0m.2-9.4h0m0 2.3h0m.1-21.7h0m0 8.6h0m.1-5.9h0m.1 25.2h0m.1-22h0m0 22.4h0m.1 .4h0m.1-12.6h0m.1 9.2h0m.2-22.5h0m0 7.9h0m.2-10.8h0m.3-12.7h0m.1 22.9h0m0 0h0m0 .9h0m0 8.7h0m.1-6.4h0m0 13.9h0m.1-36h0m0 35.6h0m.2-31.1h0m.1 1.7h0m.1-10h0m0 12h0m0 9.2h0m.1 7.8h0m.1-19.3h0m0 18.9h0m.1-13.6h0m0 25.3h0m.1-22.8h0m0 1.2h0m.1-20.3h0m0 18.1h0m0 6.6h0m0 9.6h0m.1-23.3h0m0 5.6h0m0 2.5h0m.1 4.4h0m.1-7.6h0m0 27.8h0m.1-39.9h0m.1 24.8h0m.1 5.9h0m.1-22.6h0m0 2.1h0m.2-10.6h0m0 22.9h0m.4-11.5h0m.1-6.9h0m0 6.3h0m0 21.8h0m0 .3h0m.1-23.3h0m0 19.5h0m.1-27.3h0m0 17.5h0m.1 10.2h0m0 7.6h0m.1-33.7h0m.1 14.8h0m0 7.4h0m.1-11h0m0 11.6h0m.2-20h0m0 5.5h0m0 11.7h0m0 7.7h0m0 7.7h0m.1-32.5h0m.1-10.1h0m0 35.6h0m.1-34.5h0m0 22.1h0m0 3.1h0m0 4.9h0m.1-25.7h0m.1 20.5h0m.1-16.6h0m0 19.3h0m0 9.1h0m.1-32.6h0m0 7.2h0m0 31.9h0m.1-44.8h0m.1 14.2h0m0 4h0m0 6.7h0m0 21.3h0m.1-3.6h0m.1-30.4h0m0 3.5h0m0 .4h0m0 1.6h0m0 13.1h0m.1-25h0m0 .2h0m0 7.3h0m0 7.5h0m0 23.3h0m.3-38.6h0m0 9.2h0m0 .5h0m0 1h0m0 20.7h0m.2-32h0m0 23.8h0m.2-24.5h0m0 16.1h0m0 11.7h0m0 9.3h0m.3-40.5h0m.1 31.4h0m.1-29.8h0m0 40h0m.1-.9h0m.1-26.1h0m0 13.6h0m.1-15.2h0m.1-5.1h0m0 35.9h0m.1-31.2h0m.1-2h0m0 2.9h0m0 12.5h0m0 10.2h0m0 7.8h0m0 1h0m.1-11.7h0m.1-21.7h0m0 17.2h0m.3-2.7h0m.2-14.2h0m.1 4.4h0m0 13.2h0m.1 7.3h0m.1-24.2h0m0 15.9h0m0 7h0m.2-21.8h0m0 9.3h0m.3-.9h0m.1 13.9h0m.1-28.3h0m.1 23.8h0m0 8.3h0m.1 1.5h0m.1-15h0m0 2.3h0m0 4.9h0m.1 10.6h0m.2-12.7h0m.1-1.5h0m.2-9.5h0m.1-20.1h0m0 9.1h0m.1 10.7h0m.2-18.1h0m0 8.3h0m0 23.6h0m.1-27.7h0m0 36.7h0m.1-26.2h0m0 24.8h0m0 2.8h0m.1-12.8h0m.1 12.2h0m.1-31.1h0m0 7.2h0m.1 24.7h0m.1-18.7h0m.1-16.2h0m0 15.8h0m0 7.5h0m0 10.5h0m0 .5h0m0 .2h0m.1-40.1h0m.1 .8h0m0 9.5h0m.1 11.3h0m0 6.6h0m.1 12.6h0m.1-36.6h0m0 3h0m0 1.2h0m0 6.1h0m0 6.4h0m.1-14h0m.1 4.9h0m.1 10.3h0m0 12h0m.1-34h0m0 25.5h0m.2-8.8h0m.2 8.5h0m.1 .2h0m0 6.9h0m.1-11.3h0m0 10.8h0m.1-7.5h0m.1-16.9h0m0 9.6h0m.1-.4h0m0 23.2h0m.1-42.8h0m0 .9h0m0 7.6h0m.1 .1h0m.1-6.9h0m0 1.8h0m0 25.4h0m.1-28.4h0m0 18.1h0m0 2.5h0m.1-1.6h0m0 16.5h0m.1-8.7h0m.1-14.4h0m0 9.2h0m0 17.5h0m.3 2.2h0m.1-29h0m.1-6h0m0 5h0m.1-4.2h0m0 31.1h0m0 1.8h0m.1-24h0m.1-2.5h0m.1-8.9h0m0 31.1h0m.1-32.9h0m.3 14.1h0m0 4h0m.1 7.1h0m.2-11.3h0m0 16.8h0m.3-19.8h0m.1-7.9h0m0 32h0m.1-30.7h0m0 19.3h0m.1-.3h0m.1-13.8h0m0 21h0m.1-23.9h0m0 20.8h0m.1-25h0m0 13h0m.1 6h0m0 10.6h0m.1-25.6h0m0 23.1h0m0 7.6h0m.1-6.4h0m.3-30.4h0m0 10.6h0m0 7.6h0m0 6h0m.3-9.2h0m.1-15.2h0m0 .6h0m0 10.2h0m0 24.1h0m.2-.9h0m.3-32h0m0 2.9h0m0 11.3h0m.1 8h0m0 8.6h0m.1-32.9h0m0 11.5h0m0 .2h0m0 16.7h0m0 4.4h0m.1-29.1h0m.1 15.9h0m.1-15.3h0m0 28.6h0m.1-17.2h0m0 1.1h0m.1 13.9h0m.1-29.1h0m.1 19.2h0m.1-5.8h0m.1-3.1h0m.1-7.6h0m0 14.6h0m0 1.2h0m.1-15.8h0m.1 6.6h0m.3-1.8h0m0 23.7h0m.2-16.7h0m0 11.7h0m.1-5.7h0m.1-18.8h0m0 14h0m.1 12.2h0m.1-19.5h0m0 20.4h0m.1-25.2h0m0 10.7h0m0 5.7h0m0 2.4h0m.1 7h0m.2-23.5h0m0 13.8h0m0 1.9h0m.1-.7h0m.1-13h0m0 .3h0m.1-3.8h0m.1 20.5h0m.1-9.4h0m.2 1.7h0m.1-12.4h0m0 6.5h0m0 14.1h0m.1-6.2h0m0 4.5h0m.1-9.2h0m.4 7.8h0m.2-1.8h0m.2 1.3h0m.2-1h0m.1 1.4h0" stroke="#080828" stroke-width="1.0" stroke-linecap="round" fill="none"/>
<path d="M61.3 341.6h0m.1-.5h0m.2 1.7h0m.4 11.7h0m.5-5h0m.2-1.7h0m0 .3h0m.4 .2h0m.3-7.2h0m0 8h0m.2-4.2h0m.1-2.8h0m.5 11.1h0m.3 3.5h0m.4-8.4h0m.1 3.5h0m.1 1.9h0m.4-1.3h0m.2-7.4h0m0 1.3h0m.2 1h0m.1-4.9h0m.1 2.7h0m0 .5h0m.2 7.3h0m.8-9.5h0m.4 3.7h0m.2 10.9h0m.1-3.1h0m.2-13.5h0m0 11.2h0m0 6.4h0m.1-13.5h0m0 13.9h0m.2-2.3h0m.2-10.6h0m.3 9.4h0m0 3.4h0m.4-11.8h0m0 2.3h0m.1 0h0m.1 2.4h0m0 17.8h0m.3-27.2h0m0 28.1h0m.4-29.1h0m.3 8.9h0m.1-2.5h0m0 6.3h0m0 2.2h0m.1-9.4h0m0 11h0m0 10.7h0m.2-26h0m0 2.9h0m.1-.8h0m.4 4.8h0m.1-3.9h0m.2 29.8h0m.1-28.5h0m0 8.3h0m0 14.2h0m.1-18.5h0m.2-10.2h0m0 15.5h0m0 19.8h0m.1-35.2h0m0 4.3h0m0 31.1h0m.5-11.7h0m0 5.9h0m0 4.3h0m.1-5.1h0m.1-25.6h0m0 12.6h0m0 13h0m0 3.2h0m0 4.5h0m.1-7.2h0m.2-13.3h0m.1-7.2h0m0 18.7h0m.1 2.9h0m.5-29.1h0m.1 22.1h0m.1-19.4h0m.1 1.1h0m0 26.4h0m.2-23.7h0m0 18.5h0m0 9.6h0m.1-12.6h0m.1 10.3h0m.2-5.6h0m0 .9h0m0 3.9h0m0 3.4h0m.1-.2h0m.1-5.1h0m.1-1.5h0m.1-24.1h0m0 19h0m0 .9h0m.1-11.4h0m.3 16.4h0m.1-2.1h0m.1 .8h0m.2-1.8h0m.6-21.5h0m.1 1h0m0 4.1h0m0 16.1h0m.1 6.1h0m.1-21.2h0m.1-4.2h0m.1-4.8h0m0 13.5h0m.1 8.1h0m.1-21.1h0m0 3.1h0m0 20.2h0m0 9.8h0m.1-25.9h0m0 12.1h0m0 13.5h0m.1-26.6h0m0 2.9h0m0 11.5h0m0 5.6h0m0 .9h0m.2-21.1h0m0 1h0m.1-6.7h0m0 26.9h0m.1-31.9h0m0 20.1h0m0 10h0m0 5.9h0m.1-23.3h0m.1-5.2h0m.1 14.7h0m.1-10.9h0m0 4.9h0m0 16.9h0m.1-30.7h0m0 10.5h0m.1 4.8h0m.1-13.4h0m0 1.5h0m0 6.4h0m0 1.9h0m.1-17h0m0 16.3h0m0 2.5h0m0 5.9h0m.1-13h0m0 5.3h0m.1 .6h0m.1-11.7h0m.1 6.1h0m0 2.5h0m.1 3.4h0m.1-.6h0m0 3.5h0m.1-15.8h0m0 4.7h0m0 25.8h0m.1-30.2h0m0 26.1h0m.1-18h0m0 24.2h0m.1-12.9h0m.1 7.4h0m.1 .7h0m.1-26.1h0m0 10.6h0m.2-10.5h0m0 6.1h0m0 2.7h0m0 21.7h0m.1-35.5h0m0 1.1h0m0 3.2h0m0 4.1h0m.1-7.1h0m0 .5h0m0 5.5h0m0 2.1h0m0 6.9h0m0 3.7h0m0 13h0m0 2h0m.1-31.2h0m.1 12.5h0m0 10.3h0m.2-30.2h0m0 1.1h0m0 16.7h0m.1-13.2h0m.1 10.1h0m0 3.9h0m.1 7h0m0 4.2h0m.1-8.5h0m0 9.3h0m.1-19h0m0 16.8h0m.1-18.8h0m0 8.5h0m.1-5.4h0m0 5.7h0m.1-7.7h0m.1-11.2h0m0 10.1h0m0 .2h0m0 11.4h0m.1-18.7h0m0 2.8h0m0 8.6h0m0 .3h0m0 3.6h0m0 4.7h0m0 7h0m.2-26.9h0m0 3.3h0m0 8.9h0m0 6.1h0m0 4.2h0m.2-6.8h0m.1-16.5h0m0 .9h0m.1-6.8h0m0 18.2h0m0 15h0m0 2.2h0m.1-30.4h0m0 10.7h0m0 12.8h0m.1-2.7h0m0 7h0m0 0h0m0 .3h0m.1-25.8h0m0 13.3h0m0 14.8h0m.1-32.4h0m0 5.3h0m0 18.3h0m0 1.1h0m.1-22.7h0m0 10.7h0m0 9.8h0m0 5.9h0m.1-15.2h0m0 13.4h0m0 6.9h0m.1-21.7h0m0 9.6h0m0 .9h0m0 3.6h0m.1-23.2h0m0 1.9h0m0 22h0m.1-26h0m0 8.8h0m.2-8.2h0m.1-5h0m0 .5h0m0 5.2h0m0 25.3h0m.1-25.4h0m0 5.5h0m0 .7h0m0 3.7h0m0 19.2h0m.2-17.3h0m0 4.8h0m0 4h0m.1-1.4h0m0 4.9h0m0 .9h0m0 3.7h0m.1-33.8h0m0 .6h0m0 14h0m0 6h0m.1 2h0m0 5.6h0m.1-16.3h0m0 24.7h0m.1 .5h0m.2-29.5h0m0 2.5h0m0 11.1h0m.1-22.5h0m0 15.8h0m.1 8.3h0m0 15.2h0m.1-18.8h0m0 13.8h0m.1-22.9h0m.1 13h0m.1-7.5h0m.1-12.1h0m0 0h0m0 16.5h0m0 18.4h0m.1-30.5h0m0 19.9h0m0 12.4h0m.1-27.4h0m.1 .6h0m0 13.2h0m0 2.5h0m0 7.3h0m.1-35.1h0m0 11.8h0m0 3h0m0 .2h0m0 2.8h0m0 17.6h0m0 2.6h0m0 1.5h0m.1-22.4h0m0 .3h0m0 19.5h0m.1-34h0m0 25.4h0m.1-22.9h0m0 1.8h0m0 5.8h0m.1 .6h0m0 11.6h0m0 9.9h0m0 3.7h0m.1-41.7h0m0 1h0m0 .3h0m0 13.9h0m.1-8.1h0m0 15.7h0m.1 20h0m.1-27.6h0m0 4.8h0m0 15.1h0m.1-32.7h0m0 1.9h0m0 5.1h0m0 4.8h0m0 19.9h0m.1-22h0m0 19.2h0m0 4.3h0m0 6.4h0m.1-33.7h0m0 8h0m0 18.6h0m.1-24.5h0m0 4.2h0m.1 13.9h0m0 8.3h0m.1-12h0m0 .2h0m.1-18.6h0m0 3.8h0m0 11.8h0m0 13.7h0m0 2.5h0m0 1.1h0m.1-39.2h0m0 2h0m0 10.2h0m0 .2h0m0 25.4h0m0 .1h0m.1-31.8h0m0 14.1h0m0 3.4h0m0 .2h0m0 10h0m.1-32.9h0m0 4.2h0m0 .3h0m0 .1h0m0 2.9h0m0 .6h0m0 17.8h0m.1-19.9h0m0 2.7h0m0 1.1h0m0 3.5h0m0 .2h0m0 19.9h0m0 .8h0m.2-28.7h0m0 7.2h0m0 15.7h0m.1-30.2h0m0 .8h0m0 19.4h0m0 1.9h0m0 3.7h0m.1-20.2h0m0 15.4h0m0 4.9h0m0 1h0m0 .6h0m0 3.2h0m0 2.7h0m0 9.4h0m.1-18.4h0m0 10.5h0m0 8.9h0m.1-28.8h0m0 3.3h0m0 12.9h0m0 5.1h0m.1-29.3h0m0 6.9h0m0 8.6h0m0 14.2h0m.1-30.9h0m0 17.3h0m.1-16.9h0m0 5.2h0m0 30.5h0m.1-32h0m0 21.9h0m.1-30.1h0m0 13.8h0m.1 18.9h0m.1-19.1h0m0 3.6h0m0 3.7h0m0 15.2h0m.1-32.6h0m0 17.5h0m0 2.2h0m0 9.9h0m.1-13.7h0m.1 21.1h0m0 .5h0m.1-44h0m0 15.3h0m0 6.3h0m0 .9h0m0 10.9h0m0 6.2h0m.1-35.3h0m0 5.1h0m0 12.4h0m0 9.1h0m0 2h0m0 5.3h0m.1-37.6h0m0 .1h0m0 22.9h0m0 9.7h0m0 9.9h0m.1-36h0m0 7.4h0m0 5.1h0m0 4.2h0m0 13h0m.1-21.4h0m0 .5h0m0 8.1h0m0 13.8h0m.1-23.6h0m0 26.6h0m.1-34.6h0m0 19.1h0m0 .7h0m0 3.9h0m0 2.7h0m0 6.4h0m0 3.6h0m.1-26.1h0m0 .4h0m0 3.2h0m0 19.7h0m0 3.1h0m.1-16.9h0m0 14.6h0m.1-32.9h0m0 13.2h0m0 5.4h0m.1-23.5h0m0 39.5h0m0 .9h0m.1-43h0m0 3.1h0m0 26.1h0m0 13.6h0m.1-26.6h0m0 4.4h0m0 22.6h0m0 1.8h0m.1-45.5h0m0 17.2h0m0 14.2h0m0 10.1h0m0 2.6h0m0 2h0m.1-41.8h0m0 30.3h0m.1-32.6h0m0 36.2h0m0 3.8h0m.1-35.1h0m0 .9h0m0 9.6h0m0 8.2h0m0 11.2h0m.1-25.9h0m0 31.2h0m.1-41.1h0m0 5.7h0m0 8.9h0m0 11h0m0 14.7h0m.1-30.9h0m0 11.9h0m.1 1.7h0m0 3.2h0m0 2.5h0m0 3.3h0m.1-31.7h0m0 1.3h0m0 35.2h0m0 3.5h0m.1-33.8h0m0 3.8h0m0 19.9h0m0 6.3h0m.1-35.7h0m0 2h0m0 18h0m0 8h0m0 2.1h0m0 9.9h0m0 2.9h0m.1-35.1h0m0 .2h0m0 15.5h0m0 4.5h0m0 11.1h0m0 3.4h0m.1-22.6h0m.2-15.5h0m0 7.2h0m0 8.1h0m0 10.5h0m0 10.3h0m.1-36.4h0m0 32.8h0m0 4.5h0m.1-30.7h0m0 1.6h0m0 19h0m.1-30.6h0m0 2.3h0m0 .6h0m0 2.7h0m0 23.4h0m0 3.5h0m.1-34.7h0m0 8.5h0m0 5.4h0m0 22.2h0m.1-32.3h0m.1 27.5h0m0 2.4h0m0 7.3h0m.1-2.2h0m.1-14.9h0m0 7h0m0 .9h0m.1-31.4h0m0 22h0m.1-21.6h0m0 16.7h0m0 6.2h0m0 .8h0m0 7.3h0m.1-31.3h0m0 13.5h0m0 17.3h0m0 7.8h0m.1-34.7h0m0 17.3h0m0 6.7h0m0 3.2h0m.1-28.7h0m0 19.6h0m0 10.7h0m0 10.6h0m0 2h0m.1-40.3h0m0 8.6h0m0 2.9h0m0 1.5h0m0 5h0m0 11.4h0m.1-22h0m0 15.1h0m0 6.2h0m0 3.9h0m0 5.2h0m.1-27.7h0m0 9h0m0 13.8h0m.1-1.1h0m.1-8.8h0m.1 2.4h0m0 10.9h0m0 2.7h0m.1-39.8h0m0 15.4h0m.1-16.5h0m0 5.7h0m0 3.4h0m0 6h0m0 7.1h0m0 0h0m0 8.5h0m.1-21.9h0m0 33.6h0m.1-45.4h0m0 .8h0m0 17.8h0m0 1.6h0m0 8h0m0 1.3h0m.1-28.4h0m0 32.6h0m0 11.4h0m.1-17.7h0m.1 2.9h0m0 6.6h0m0 8.5h0m.1-38.9h0m0 2.9h0m0 10.8h0m0 5.5h0m0 .7h0m.2-3.2h0m0 14.3h0m0 5.9h0m.1-25.2h0m.1-16.6h0m0 19.4h0m.1-10.7h0m0 0h0m0 1.3h0m.1 26h0m.1-27.9h0m.1-7.2h0m0 .9h0m0 21.1h0m0 2.9h0m0 9.3h0m.1-18.9h0m0 9.2h0m.1-5.3h0m0 15.9h0m.1-33.5h0m0 10.9h0m0 3.8h0m.1 19.4h0m.1-24.6h0m0 3.2h0m0 4h0m0 19.9h0m.1-29.3h0m0 8.1h0m.1 8.3h0m0 .7h0m0 1.8h0m.1 6.8h0m.1-22.6h0m0 20.4h0m0 5.2h0m.1-9h0m0 8.9h0m.1-26.4h0m0 2.8h0m0 12.7h0m.1 4.8h0m.1-23.6h0m0 2.5h0m0 5.6h0m0 1.8h0m0 .2h0m0 15.1h0m.2-25.1h0m0 10.7h0m0 9.8h0m0 1.5h0m0 4h0m0 2.1h0m.1-36.1h0m0 1.7h0m0 19.5h0m.1-24h0m0 12.1h0m0 10.1h0m0 .5h0m0 2.7h0m.1-17.8h0m0 5.4h0m0 3h0m0 11.5h0m0 2.2h0m0 10.5h0m.1-35.7h0m0 21.4h0m0 6.7h0m0 12.5h0m.1-38.6h0m0 8.1h0m0 20.5h0m0 1.2h0m.1-26.9h0m0 4.7h0m0 30.7h0m.1-32.3h0m0 28.2h0m.1-21h0m0 3.2h0m0 6.1h0m0 11.9h0m.1-40.4h0m0 18.1h0m0 2.3h0m0 16.6h0m0 0h0m0 .8h0m.1-24.3h0m0 5.2h0m0 20.7h0m0 2.9h0m.1-20.9h0m.1 5.6h0m0 3.9h0m.1-30.9h0m0 9.9h0m0 21.3h0m.1-5.4h0m0 7.9h0m.1-11.4h0m.1-2.6h0m0 8.8h0m0 10.2h0m.1-32.7h0m0 7h0m0 6h0m0 25.4h0m.1-42.7h0m0 3.6h0m.1-1.8h0m0 .5h0m0 9.3h0m0 15.8h0m0 13.6h0m.1-1.6h0m0 1h0m.1-18.8h0m0 3.6h0m0 9.1h0m.1-26.1h0m0 8.1h0m0 6.3h0m.1-19.1h0m0 2.1h0m0 4.5h0m0 9.7h0m0 4.2h0m0 4h0m.1-15.3h0m0 11.3h0m0 10.1h0m0 6.8h0m.1-14.2h0m0 9.4h0m0 2h0m.1-27.2h0m0 1h0m0 0h0m.1-1.7h0m0 .8h0m0 9.7h0m0 17.3h0m.1-25.4h0m.1-3.8h0m0 20.1h0m0 .1h0m0 8.6h0m0 0h0m0 2.9h0m.2-18.7h0m.1-12.7h0m0 19h0m0 11.2h0m.1-36.8h0m0 4.7h0m0 .2h0m0 10.7h0m0 3h0m.1-16.2h0m0 31.9h0m.1-25.3h0m0 21.2h0m0 .3h0m0 8.6h0m.1-40.2h0m0 18.2h0m0 .8h0m0 5.4h0m0 2.2h0m0 13.6h0m.1-40.4h0m0 15.7h0m.2-1.3h0m0 3.5h0m0 4.2h0m0 7.7h0m.1-25.6h0m0 7.5h0m0 25.5h0m.1-.4h0m0 3.2h0m.1-34.2h0m0 11.7h0m0 9.5h0m0 5.9h0m0 5.4h0m.1-30.4h0m0 1.3h0m.1 21h0m0 2.6h0m0 4.2h0m.1-30.4h0m0 4.7h0m0 18.9h0m.1-30.7h0m0 13.6h0m0 .7h0m0 11.9h0m.1-24.4h0m0 13.5h0m0 15.6h0m.1-29.1h0m0 17.7h0m0 2h0m0 11.6h0m0 .6h0m.1-26.8h0m0 16.6h0m.1-3.8h0m0 7.3h0m.1-25.1h0m0 21.3h0m.1-22.2h0m.2 29.6h0m0 8.3h0m.1-34.6h0m.1 9h0m0 8.9h0m.1-17.3h0m0 7.4h0m0 19.6h0m0 1.9h0m0 1.8h0m.1-26.6h0m0 12.3h0m.2-18.7h0m.1 15.9h0m0 4.9h0m.1-15.2h0m0 6h0m0 2h0m0 4.5h0m0 12.9h0m.1-29.3h0m0 3.2h0m0 6h0m.1 2.1h0m0 5.6h0m0 6.3h0m0 1.7h0m.1-19.6h0m0 6.1h0m0 3.2h0m.1 .6h0m0 .9h0m0 9.7h0m.1-8.9h0m0 3.1h0m0 10.9h0m.1-27.9h0m.1 5.8h0m0 23.6h0m.1-12.6h0m0 11.5h0m.1-24.2h0m0 1h0m0 .2h0m0 7.8h0m0 8.8h0m.1-26.6h0m0 20.2h0m.1-2.1h0m.1-1.2h0m0 6.7h0m.2-9.2h0m0 15.9h0m.1-15.4h0m0 12.9h0m.1 4h0m.1-27.4h0m.1-2.9h0m0 .4h0m0 29.2h0m.1-24.6h0m0 7.1h0m0 4h0m0 6.6h0m0 4.1h0m.1-13.7h0m0 2.8h0m.1 11.9h0m0 .8h0m0 2.9h0m.1-27.3h0m0 1h0m0 3.3h0m0 3.2h0m.2-6.1h0m.1 14.4h0m.2 5.2h0m.1-14.9h0m0 6.7h0m.1-.2h0m.1-14h0m.1 14h0m0 12.4h0m.1-26.4h0m0 11.7h0m.1-.5h0m0 2.4h0m.1-8.6h0m.1 19.4h0m.1-20.2h0m0 0h0m.1 .9h0m0 6.1h0m0 4.9h0m.2-11.3h0m0 1h0m0 5.2h0m0 7h0m0 2h0m0 2.1h0m.1-18.8h0m0 18.9h0m0 1.7h0m0 .7h0m.2-12.1h0m.1 8.4h0m.1 1.4h0m0 .4h0m0 .2h0m.1-4.2h0m.1-10.2h0m0 1.1h0m0 1.3h0m0 5.9h0m.1-6.4h0m.1 4h0m0 1.8h0m.1-8.1h0m.1 0h0m.2 10.1h0m.1-11.7h0" stroke="#180838" stroke-width="1.0" stroke-linecap="round" fill="none"/>
<path d="M40.2 345.5h0m.5 1.4h0m.3-4.4h0m0 5.3h0m.2-4.7h0m0 1.5h0m.1-.9h0m.1 1.1h0m.1-1.3h0m.9-.1h0m.3 1.6h0m.6-2h0m.2-1h0m0 7.9h0m.2-3.7h0m1 2.2h0m.8-4.8h0m.4 3.3h0m.1 1.9h0m.7-5.6h0m0 5.8h0m.2-1.3h0m.4 .7h0m.8 1.9h0m.2-3h0m0 0h0m.6 4.8h0m.2-4.3h0m1.1 2.8h0m.4-4.4h0m.3 6.1h0m.3-1.6h0m.7-.4h0m0 .1h0m.3 2h0m0 1.7h0m.4 0h0m.4 3.6h0m.4 .5h0m.6-1.4h0m.1 .3h0m.1 1.7h0m.1-8.1h0m.3 10.8h0m.5-12.1h0m0 13.4h0m.1-1.2h0m.1-1h0m.1-1.1h0m.1 .9h0m.1-6.4h0m.1 5.2h0m.4 2.7h0m.5 .2h0m.2-2.2h0m.2 1.8h0m4.7-16.3h0m.2 9.6h0m1.2-.8h0m.4-8h0m0 6.2h0m.1-6.9h0m0 6.3h0m.1 4.8h0m.1-13.7h0m0 .3h0m0 6.1h0m.1 1.9h0m.1-4.4h0m0 1.7h0m.1-2.2h0m.2-2.9h0m0 6.1h0m.1 4.3h0m.3-8.3h0m.4 4.5h0m.1-.5h0m0 5.7h0m.1 1.6h0m.1-6.3h0m.3-1.5h0m0 .8h0m0 3.7h0m.2 2.4h0m.1-14.7h0m.1 .6h0m0 8.6h0m.1-9.2h0m0 6.8h0m.2-5.7h0m0 13.8h0m.4-10.8h0m.3 1.3h0m0 .1h0m0 1.5h0m0 9.3h0m.2-12.5h0m.3-3.6h0m.1 14.9h0m.1-2.4h0m.1 1h0m.2-1.8h0m.1-11.3h0m0 3.8h0m.2 2.6h0m.1 .3h0m0 5.1h0m.3-2h0m.3-5h0m.1 8.6h0m.4-6.6h0m.1-.3h0m0 1.5h0m.2-7.4h0m0 5.1h0m.2-5.9h0m0 2.7h0m.1 21.8h0m.2-23.4h0m0 .2h0m0 31.9h0m.2-25.7h0m0 2.8h0m0 5.5h0m.4 19.5h0m.1-23.8h0m0 22.5h0m.1-8.2h0m.1-23.3h0m0 6.1h0m0 5.3h0m.1 3h0m0 8.8h0m.1-8.7h0m.2 13.8h0m.1-2.3h0m.1-22.3h0m0 16.2h0m.1-9.3h0m.2-11.6h0m0 32.9h0m.1-.6h0m0 3.1h0m.1-3.4h0m.1-23.5h0m.1 12.3h0m0 6.7h0m.1-20.1h0m0 27h0m.1-10.7h0m.1 11.3h0m.1-21.4h0m0 8.3h0m.1-23.8h0m0 16.5h0m0 14.5h0m.1-21.5h0m0 17.1h0m0 4.1h0m0 2.5h0m.1-5h0m.1-18h0m0 3.6h0m0 14.3h0m.2-22.3h0m0 .6h0m0 19.3h0m.1-19.3h0m.1 2.2h0m.2-3.1h0m0 9.7h0m0 14.6h0m0 1.5h0m0 7.7h0m.2-16.8h0m0 3h0m.1 4.4h0m.1-3h0m0 .4h0m.1-14.6h0m0 16.4h0m.1-19.9h0m0 3.4h0m0 24.1h0m.2-4h0m.1-24.8h0m0 2.6h0m0 17.4h0m0 2.2h0m0 4.2h0m.1-7.8h0m0 8.3h0m0 1.1h0m.1-20h0m0 11.6h0m0 .3h0m0 .8h0m.1-22h0m.1 21.3h0m.1 4.1h0m.1-30h0m0 27.5h0m.1-29h0m0 3.2h0m.1 26.9h0m.4 4.7h0m.4 0h0m.1 .3h0m.2-29.5h0m0 7.3h0m0 12.3h0m0 11h0m.1-28.5h0m0 2.2h0m0 26h0m.2-23.9h0m0 21.7h0m.1-28.8h0m.1 8.8h0m.1 2.6h0m0 5.9h0m.1-18.1h0m.1 8.6h0m.2-2.2h0m0 17.9h0m.1-17.6h0m.1-.4h0m.3-12.8h0m0 33.6h0m.2-20.8h0m0 1.4h0m0 6.8h0m0 17.8h0m.1-41.1h0m0 .2h0m0 33.3h0m0 3.5h0m.1-15.1h0m.1-19.8h0m.1 17h0m0 .7h0m0 4h0m.1 10.2h0m.1-29.1h0m0 2.6h0m0 30.4h0m.1-5.3h0m.1-29.6h0m.1 22h0m.1 2.7h0m0 .8h0m0 7h0m0 1.7h0m.2-35.2h0m0 4.5h0m.1-.6h0m0 21.8h0m.1 .8h0m.1-27.5h0m0 13.8h0m.1-10.5h0m0 11.5h0m0 17.3h0m.1-21.8h0m0 17.4h0m.1-13.5h0m0 .3h0m0 5.4h0m0 7.4h0m.1-12.3h0m.2 5.6h0m0 2.3h0m0 4.4h0m0 .5h0m.2-25.1h0m0 10.4h0m0 10.2h0m.1-16.2h0m.1 1.7h0m0 2.3h0m.1 4h0m.1-2.5h0m.1 5.3h0m.1-21.5h0m0 12.8h0m0 2.1h0m0 5.5h0m.1-17.3h0m.1 14.7h0m0 9.4h0m.1-9.9h0m.1-6.1h0m0 .2h0m0 13.3h0m0 1.9h0m.1-26.7h0m0 6.3h0m.1-8.8h0m0 15.4h0m.1-13.3h0m0 24.9h0m.4 10.3h0m.2-19.8h0m0 6.9h0m0 3h0m.1 3.5h0m.1-25.3h0m0 2.5h0m0 7.4h0m.1 13.6h0m.1-18.7h0m0 13.1h0m.4-22.7h0m0 7.5h0m.2 23h0m0 .7h0m0 .3h0m.1-22.4h0m0 4h0m.1-8.5h0m.1 .6h0m.1 28.8h0m.1-36.3h0m.2 12.5h0m0 10.1h0m.2-9.3h0m0 4.4h0m.1-10.4h0m0 11.4h0m0 9.5h0m0 7.3h0m.1-31h0m0 9.7h0m0 6h0m.1-4.7h0m0 18.8h0m0 4.3h0m.3-35.3h0m.2 17.9h0m0 13.7h0m.1-36h0m0 7.3h0m0 4.3h0m0 27.1h0m.1-12.8h0m0 9.7h0m.1-10.9h0m0 .5h0m0 9.3h0m.1-18.7h0m0 19.7h0m0 2.5h0m.1-38.2h0m0 42.8h0m.3-36.5h0m0 27.8h0m.1-25.4h0m0 .3h0m0 17.4h0m0 10.7h0m0 1.8h0m0 0h0m.2-38.7h0m0 14h0m0 9.4h0m0 13.8h0m.1-11.5h0m0 12.7h0m.1-22.4h0m.1 23.3h0m.1-37.7h0m0 23.6h0m.2-4.9h0m.1-19.9h0m0 7.4h0m.1 13h0m.1-21.3h0m0 41.7h0m.2-24.5h0m0 11.1h0m0 4.8h0m0 1.5h0m.1 1.9h0m0 5.8h0m.1-39.8h0m0 16.9h0m0 18.6h0m.1-28.6h0m0 7.7h0m.2-11.4h0m0 4.6h0m.1 14.8h0m0 15h0m.1-41.3h0m0 12.8h0m.1-11.9h0m0 7.7h0m0 12.5h0m0 19.1h0m.1-36.8h0m0 32.7h0m.1-25.6h0m.2 1.5h0m0 13.8h0m.1 13.7h0m.2-14.7h0m0 16.3h0m.1-34h0m0 1.5h0m0 17.2h0m.1 11.6h0m.1-34.8h0m0 1.6h0m0 4h0m0 1.1h0m0 14.7h0m.1-5.2h0m0 24.6h0m0 2.6h0m.1-41.9h0m0 11.2h0m.1 5.3h0m.2-7h0m.1-13.7h0m0 30.2h0m.1-11.7h0m0 3h0m0 .8h0m0 2.4h0m.2 20.2h0m.2-29.2h0m0 14.4h0m0 3.5h0m.1-5.2h0m0 15.7h0m.1-32.8h0m.1-6.7h0m0 3.8h0m0 28h0m.1-27.2h0m0 15.5h0m0 20.6h0m.1-33.3h0m0 18.5h0m.2-9.4h0m0 3.8h0m.1-2.2h0m.1-3.5h0m.1 15.6h0m.1-23.4h0m.1 22.4h0m.1-5.1h0m.2-5.5h0m.1-14.4h0m0 28.6h0m.1 6.3h0m.1-39h0m0 3.5h0m0 37.6h0m.1-4.2h0m.1-10.8h0m.2-25.2h0m0 25.6h0m.1 9.1h0m.1-32.8h0m0 12.7h0m0 12h0m.1-25.2h0m0 14.5h0m0 2.4h0m0 5.5h0m.1-10.9h0m.1-.8h0m0 17.1h0m.2-30.1h0m0 15.1h0m0 22.1h0m.2-25.4h0m0 3h0m0 18.2h0m.1-5.8h0m.3-29.6h0m.1 29.9h0m0 4.8h0m.1-11.9h0m.2-7.4h0m0 22.6h0m.2-21.7h0m.1-9.3h0m0 8.5h0m0 18.2h0m0 2.6h0m.2-2h0m.1-35.9h0m0 2.8h0m0 19.4h0m.1 5.5h0m0 1.7h0m0 10h0m.1-27.5h0m.1 15h0m.1-11.3h0m0 10.2h0m.2-21.1h0m0 6.2h0m0 30.7h0m.2-31.8h0m.1 15.3h0m0 7.4h0m0 12.1h0m.2-1.6h0m.2-42.1h0m0 34.6h0m.1-26.6h0m0 2.6h0m0 13.3h0m.1-5.5h0m0 5.6h0m0 2.8h0m.1 6.3h0m.1-32.3h0m0 21.5h0m.3 3.6h0m.1 13.4h0m.2-19.7h0m.1-6.5h0m0 1.3h0m0 18.9h0m0 9.4h0m.1-38.4h0m0 19.2h0m.1-17.8h0m0 25.5h0m0 .6h0m0 7.3h0m0 1.5h0m.1-37.7h0m0 15.9h0m0 12.8h0m0 6.8h0m.1-23.1h0m0 1.2h0m.1 18.9h0m0 4.2h0m.1-34.3h0m0 1.7h0m.1-3.6h0m0 16.2h0m0 18.4h0m.1-24.4h0m0 26.5h0m.1-22h0m.1-9.4h0m.1 3.4h0m0 7.3h0m.1 3.8h0m.1-19.5h0m.1 26.7h0m0 5.3h0m.1-34.7h0m0 21.5h0m0 17.9h0m.1-9.3h0m.1 2.4h0m.1-14.3h0m0 8.9h0m.1-19.7h0m0 10h0m0 20.7h0m.1-7.6h0m.1-13.3h0m0 1.5h0m0 6.6h0m.1-4.2h0m0 .8h0m.2-22.6h0m0 6.8h0m0 35.6h0m.1-41.1h0m.1 5h0m0 3.6h0m0 2h0m0 29.1h0m.1-35h0m0 2.8h0m0 15.6h0m0 16.9h0m.2-14.3h0m.1-6.4h0m.1 7.5h0m.2-4h0m.1-6.6h0m.2-7.5h0m0 7.1h0m0 21.4h0m.1-13.6h0m.4 2.3h0m0 5.1h0m.2-6.4h0m.2-12.4h0m0 4.3h0m.1 3.1h0m.1-13.3h0m0 6.3h0m0 14.5h0m0 7.8h0m0 4.4h0m.1-28.8h0m.1-1.2h0m0 11.5h0m0 8.9h0m.1-28.2h0m.1 13.6h0m.2-2.4h0m0 10.1h0m.1-4h0m0 10.2h0m.1-19.4h0m0 6.4h0m0 20.1h0m.1-29.8h0m0 2.7h0m0 3h0m0 5.7h0m0 14.2h0m.2-24.3h0m0 20h0m0 4.2h0m.1-13.3h0m0 5.9h0m.1-13.2h0m0 20.9h0m.2-25.5h0m0 .7h0m.1 1.7h0m.1-2.2h0m.2 19.5h0m0 3.6h0m0 5.1h0m.1-29h0m0 .9h0m0 29.4h0m.1-18.4h0m0 11.4h0m.1-20h0m0 15.1h0m0 3h0m.4-22.2h0m0 12.2h0m0 6.5h0m.1 11h0m.2-2.8h0m.2-16.7h0m.2-10.1h0m.1 27.1h0m.1-20.1h0m.1 7.4h0m.1-.1h0m.4-4.5h0m0 16.8h0m.1-23.4h0m.1 19.8h0m.1-15.6h0m.1-1.8h0m0 18.2h0m.1-16.7h0m0 7.9h0m.1 8.2h0m.4-1.8h0m.3 .4h0m0 .5h0m.3-3.3h0m.1-2.7h0m.1-5.3h0m.1 2.7h0m0 5.4h0m.3-9h0" stroke="#280848" stroke-width="1.0" stroke-linecap="round" fill="none"/>
<path d="M38.4 349.5h0m.5 .6h0m.1 2.2h0m.7-3.9h0m.2 2.7h0m.4-.6h0m.1-.8h0m.6 1.3h0m.7-2.8h0m0 2.6h0m.5 2.1h0m.3-4.2h0m.1 1.4h0m.1 2.4h0m.1-2.7h0m.1 1.5h0m.3-1.8h0m.1-.6h0m0 1.7h0m.3 1h0m.5-.4h0m.6 5.6h0m.4-1.7h0m.2-4.6h0m0 4h0m.2-4.4h0m0 .6h0m0 2.8h0m.1-.5h0m.2-.7h0m.1-.7h0m.2 .2h0m.1 1.3h0m0 3.5h0m.1-.8h0m0 .9h0m.1-1.8h0m.5-.1h0m.2-3.6h0m0 2.3h0m.2 1.7h0m.1-1.2h0m.1 1.8h0m.1-3.5h0m0 2.5h0m.4 6.8h0m.1-4.8h0m.1 .4h0m.1-2.6h0m.6 3h0m0 4.4h0m.1-.3h0m.3-5.9h0m.1 6.5h0m.1-6.6h0m0 1.3h0m.1-.3h0m.1 3.4h0m.1-1.5h0m.1 3.5h0m.1-4.2h0m.1 .2h0m0 .6h0m.1 3.7h0m.2 1.5h0m.2 1.3h0m.2-10.7h0m0 6.1h0m.2-.5h0m.1 4.1h0m.3 2h0m.1-1.6h0m.2-2.4h0m0 3.5h0m.1-5.3h0m0 5.1h0m.6-5.1h0m.7 5.8h0" stroke="#781868" stroke-width="1.0" stroke-linecap="round" fill="none"/>
<path d="M76.3 346.2h0m.3 4.4h0m.2 5h0m.4-14.4h0m.5 3.2h0m.2-4.1h0m0 5.7h0m.1-2.1h0m.1-3.2h0m0 3.3h0m.1-1.4h0m0 4.9h0m.2 3.8h0m.1 11.1h0m.1-22.8h0m0 11h0m.2 12.1h0m.1-4.3h0m.1-20.8h0m0 14.1h0m.2-8.9h0m.3 17.4h0m.3-12.9h0m0 17.8h0m.1-12.6h0m.1-7.1h0m0 11h0m.3-19.5h0m0 6.3h0m.1 21.6h0m.1-17.6h0m.1 8.1h0m0 7.5h0m.1-29.7h0m.2-.4h0m0 34.3h0m.1-7.2h0m.1-12.1h0m0 19.2h0m.1-33.6h0m0 .9h0m.1 19.2h0m.2-6h0m0 6.7h0m.1 4.3h0m.1-11.1h0m0 1.6h0m0 10.7h0m.1-23.6h0m0 19h0m0 1h0m.1-1.5h0m.1-16.2h0m0 23h0m.2 3.4h0m.1-21.8h0m0 12.8h0m0 12.3h0m.1-11.3h0m.1-17.1h0m.1 2.1h0m.1 18.4h0m0 5.2h0m0 3.6h0m.1-38.2h0m0 29.9h0m.1-29.3h0m0 22h0m.1-22.9h0m0 5.4h0m0 10.8h0m0 8.8h0m0 .8h0m0 .7h0m.1-25.3h0m0 16.4h0m0 14.5h0m.1-32.2h0m0 26.7h0m0 10h0m.1-10.8h0m0 9.1h0m0 .1h0m.1-30.4h0m0 1.4h0m0 7h0m0 7.9h0m.1-10h0m0 6.5h0m0 2.9h0m.1-6.6h0m0 3.3h0m.2-.9h0m.2-9.3h0m.1 10.1h0m0 9.1h0m.1-15.5h0m.1-10.7h0m0 20.4h0m0 3.3h0m0 8.5h0m.1-26.6h0m0 29.9h0m.1-29.5h0m0 3.4h0m0 11.1h0m0 12.4h0m0 1.4h0m.2-32h0m0 2.8h0m.3-3.6h0m.1 22.7h0m.1-18h0m.1-.5h0m0 17.7h0m0 11.7h0m.1-32.2h0m0 28.9h0m.4-31.8h0m0 19.5h0m.2-19.7h0m0 27.7h0m0 2.2h0m0 1.3h0m0 2.8h0m.1-34.2h0m0 4.9h0m0 4.8h0m0 11.8h0m0 12h0m.1-29.9h0m0 6.3h0m0 13.8h0m.1-11.1h0m.1 .3h0m0 10.8h0m.1-12.5h0m0 14.6h0m.1-10.9h0m0 21.4h0m.1-5.1h0m.1-30.9h0m0 1.1h0m0 10h0m0 27.7h0m.1-38.9h0m0 23.8h0m.1-22h0m.1 24.4h0m.1-15.1h0m0 1.1h0m.1-2.1h0m0 29.7h0m.1-25.2h0m0 20.1h0m0 2.9h0m.2-16.6h0m.1-20.4h0m0 24.7h0m0 6.7h0m.1-29.7h0m.1-2.4h0m0 2.6h0m0 37.1h0m.1-26.4h0m0 2.5h0m.1-15.2h0m.1 14.2h0m0 12.5h0m.1-3.5h0m0 14.7h0m0 1.5h0m.1-39.3h0m0 11.6h0m0 25.3h0m.1-31.9h0m0 1.5h0m0 6.5h0m0 .5h0m.1 3.3h0m.1 16.2h0m0 3.2h0m.1-18.7h0m.1-15.4h0m0 4.9h0m0 7.5h0m.1-16.3h0m0 .5h0m0 12.3h0m.1 15.7h0m.1-25.2h0m0 25.9h0m.2-10.1h0m.1 23.1h0m.1 1.7h0m.1-41.3h0m0 30.7h0m0 11h0m.1-21.5h0m.2-20.9h0m0 28.4h0m0 8.8h0m.1 4.9h0m.3-41.7h0m0 5h0m.1-7.6h0m0 1.5h0m0 11.2h0m0 5.8h0m.1-11.4h0m0 10.1h0m.1-17.8h0m0 1.6h0m0 8.7h0m0 12h0m.1-19.9h0m0 12h0m0 4.3h0m.1-11h0m0 36.3h0m.1-36.1h0m0 1.8h0m0 2.7h0m0 12h0m0 18.4h0m.1-27.8h0m0 4.2h0m.1-10.2h0m0 17.5h0m0 12.5h0m.1-24.2h0m0 4.1h0m0 5.3h0m.1-2.9h0m0 3.6h0m0 7.1h0m.1-32.4h0m0 .1h0m0 4h0m0 26.6h0m.1-28.6h0m0 10.8h0m0 11.9h0m0 3h0m0 1.8h0m0 7h0m0 .2h0m.1-22.1h0m.2-4.9h0m.1 20.4h0m.1-17.1h0m0 27.5h0m.2-37.2h0m0 7.2h0m0 12h0m0 2.3h0m0 8.4h0m.1-29h0m0 11.3h0m0 12.2h0m0 11.8h0m.1-31.3h0m0 4.5h0m0 22.8h0m.1-28.3h0m0 18.4h0m0 4.3h0m.1-28h0m0 5.5h0m0 1.3h0m0 21.1h0m.1-29h0m0 37.2h0m.2-19.4h0m0 9h0m.1-27.3h0m.1 14.1h0m.1-4.8h0m0 18.8h0m0 6.9h0m.1-28.1h0m0 4.4h0m0 10.6h0m.1 10.5h0m.1-17.5h0m0 .1h0m0 6.7h0m0 6h0m.1 10h0m.1-26.8h0m0 22.9h0m.1 11.7h0m.1-8.3h0m.1-10.3h0m0 13.6h0m.1-38.8h0m0 23h0m0 17.7h0m.1-39.9h0m0 3.5h0m0 21h0m0 4.9h0m.1-16.2h0m0 6.5h0m.1-5.5h0m.1 4.9h0m0 18.2h0m.1-33.1h0m0 18.3h0m.1-20.1h0m0 8.1h0m.1 20.1h0m0 4.5h0m0 1.7h0m.1-17.1h0m0 3.7h0m.1 2h0m.1-16.1h0m0 33.6h0m.1-25.2h0m0 19.6h0m.1-27.2h0m.1 11.9h0m.1-19.4h0m0 39.4h0m.1-19.9h0m0 8.5h0m0 1.5h0m.1-22.3h0m0 18.5h0m.3-24h0m.2-3.7h0m0 17.8h0m0 11.4h0m.1-30.1h0m0 7.9h0m0 5.6h0m0 7.8h0m0 3.4h0m.2-14.1h0m0 26.7h0m.2-35.2h0m.1 20.3h0m0 1.2h0m.1-11.7h0m.1-13.9h0m0 18.5h0m0 1.4h0m.1-3.9h0m0 28.1h0m.1-40.6h0m0 10.7h0m0 29.6h0m.1-32.9h0m0 1.7h0m0 5.4h0m0 5.6h0m.1 .6h0m.1-24.8h0m0 1.9h0m0 3h0m0 18.2h0m.2-11.3h0m.1-10.8h0m0 14.9h0m0 1.1h0m.2-2.7h0m0 13.5h0m.1-25h0m0 .2h0m0 .9h0m0 5.5h0m0 19.6h0m.1-18.9h0m0 26.2h0m.1-21.1h0m0 12.8h0m0 6.7h0m.1-33h0m0 19.4h0m0 4.5h0m0 5.9h0m0 3.5h0m0 8.1h0m.1-1.8h0m.1-16.1h0m.1-.3h0m0 3.7h0m.1 1.5h0m.1-27h0m.1 18.1h0m0 8.4h0m0 10h0m.1-32.7h0m0 26.9h0m.1-8.2h0m0 6.5h0m0 1.3h0m0 .6h0m.1-15.7h0m.1-8.9h0m0 25.1h0m.2-26.9h0m0 4.7h0m0 11.4h0m0 5.2h0m.1-23.5h0m0 8.3h0m0 6.8h0m0 21.6h0m.2-21.8h0m0 3.2h0m.1 15.4h0m.1-18.2h0m0 15.8h0m.1-35.2h0m0 29h0m0 1.1h0m.1-6.8h0m0 16.5h0m.1-38.9h0m0 16.1h0m.1-10.5h0m.1 3.6h0m0 19.6h0m.1-24.4h0m0 5.8h0m0 1.1h0m.1-11.7h0m0 32.5h0m0 7.1h0m.1-26.1h0m0 4.8h0m.1-5.9h0m0 9h0m0 2.8h0m0 11.5h0m.1-29.1h0m0 9h0m0 14.6h0m.2-17.6h0m0 26h0m.2-35.3h0m.1 21.7h0m0 15h0m.1-37.6h0m.1 1.1h0m0 7.7h0m0 8.6h0m0 1.8h0m0 6.6h0m.1-24.6h0m0 20.3h0m0 7.4h0m0 6.1h0m.2-15h0m.1-5.7h0m.1 7.6h0m0 8.1h0m.1-30.3h0m0 21.1h0m0 2.8h0m.1-3.5h0m0 13.4h0m.2-28.1h0m0 15.4h0m.1-15.2h0m.1 2.9h0m0 1.8h0m0 9.1h0m.1-6.9h0m0 10.8h0m0 8.7h0m.1-21.4h0m0 .8h0m0 12.3h0m0 4h0m.1-24.5h0m0 17.8h0m0 8.9h0m.1-24.8h0m0 13.5h0m.1 17.4h0m.1-32.8h0m0 29.5h0m.1-24.9h0m.1-4.2h0m.1 4.9h0m0 5h0m0 13.3h0m.1-8.4h0m.1-15.4h0m0 22.2h0m.1-3h0m.1 8.6h0m.2-.8h0m.1-21.4h0m.1 6h0m.1-9.8h0m0 2.8h0m0 .6h0m.2 6h0m.1 10.7h0m0 1.1h0m.1-9h0m.1-4.6h0m0 8.1h0m0 .3h0m0 .9h0m.1-14.1h0m.1 8h0m.1-6.5h0m.1 7h0m.1-4.5h0m.1 3.1h0m0 1.9h0m0 9.6h0m0 1.5h0m.2-11.7h0m0 2.3h0m0 2.6h0m.1-16.1h0m0 22.4h0m.3-12.6h0m0 1.5h0m0 5.1h0m0 2h0m.1 2.3h0m.1-5.3h0m.1-6.2h0m.1 2.9h0m0 11.2h0m.1-11.1h0m0 .8h0m.1 5.4h0m.1-6.7h0m0 4.1h0m0 7.9h0m.1-4.4h0m0 2.7h0m0 1.8h0m.3-.3h0m.1-14.6h0m.1 5.5h0m.1 1.5h0m0 3.1h0m.1 .9h0m.1-13h0m0 2.4h0m.3 1.1h0m.2 4.7h0m0 1.7h0" stroke="#180828" stroke-width="1.0" stroke-linecap="round" fill="none"/>
<path d="M40.1 349.5h0m1-.2h0m.1-1.6h0m.1-.4h0m.2-.2h0m0 .1h0m2.8-.2h0m.9 .6h0m.9 2h0m.4-1h0m0 5.3h0m.5-4.2h0m1.1 1.6h0m.1-1h0m.1 2.7h0m1.4 4.1h0m1.3-1.5h0m.5 10.2h0m1.1-3.2h0m.3-1.9h0m8.2-16.5h0m.6-3.1h0m.1 7.3h0m.3 6.3h0m.1-13.3h0m0 10.4h0m.2-2.9h0m.3 8.2h0m.7-15h0m0 5h0m.3-2.7h0m.4 11.9h0m.2-2.4h0m.9-.8h0m.4-.2h0m.4 1.5h0m.1-6.4h0m.1 4.4h0m.8 2.3h0m.8-4.7h0m.1 .2h0m.8-1.9h0m.2-6.2h0m.6 14h0m.2-5.5h0m.1 7.7h0m.2-7.8h0m.4-2.8h0m.1-6.6h0m.7 3.8h0m0 10.9h0m.4-4.1h0m.4 .6h0m.5-5.9h0m.1 9.7h0m.1-12.5h0m.3 5.1h0m0 3.3h0m0 3.9h0m.1-2.9h0m.2-9.6h0m.4 6.8h0m.1 7.4h0m.2-4.2h0m.3-9.5h0m.6-.5h0m.6 11.5h0" stroke="#580868" stroke-width="1.0" stroke-linecap="round" fill="none"/>
<path d="M61.3 346.2h0m.3 .6h0m.1-3.3h0m0 11.8h0m.4-2.9h0m0 4.8h0m.1-5.7h0m.2 1.1h0m.2-7.5h0m.2-.1h0m.1-.5h0m0 .8h0m.4 3.4h0m.3 1.3h0m.1 .4h0m.2-9h0m.1 .5h0m.1 2.6h0m.1 .3h0m0 10.9h0m.1-11.6h0m.3-2.8h0m0 .9h0m.2 2h0m.1-.7h0m0 6.2h0m.1-3.2h0m.1 8.5h0m0 .5h0m.2-5.8h0m0 .1h0m.2-6.6h0m0 9.2h0m.1-4.3h0m.1-1.6h0m0 1.6h0m.2-6.4h0m.1 15.1h0m.1-9.8h0m0 7.2h0m.1 2.1h0m.1-1.1h0m.2-.2h0m.1-2.8h0m0 1.2h0m.2-8.8h0m.1 9.3h0m.1-9.6h0m0 10.6h0m.1-9.2h0m.1 5.3h0m.2 2.9h0m.1-11.4h0m0 9.5h0m.1-5.5h0m.1 11.5h0m.1-12.7h0m0 10.6h0m.1-2.3h0m.4 0h0m.2 4.2h0m.2-14.6h0m0 14.7h0m.2-14.9h0m.2 12.3h0m.2 3.6h0m.1-16.4h0m.2 7.4h0m.1 3.4h0m0 4.3h0m.2-1.6h0m.1-2.6h0m.1-8.6h0m0 4.9h0m.1-7.7h0m0 14.6h0m.1-8.6h0m.1 .5h0m.1-1.6h0m0 5.5h0m.2-.7h0m.2 2.4h0m.3-12.2h0m0 3.4h0m.4-.3h0m.1 7h0m0 2.4h0m.2-7.2h0m.1-5.6h0m.1 16.8h0m.1-17.2h0m0 12.2h0m.3 1.5h0m0 2.9h0m0 .7h0m.1-.6h0m.1-16.4h0m0 15.4h0m.2-13.3h0m0 13.2h0m.4-11.7h0m.1 4.5h0m.2 1.5h0m0 6.5h0m.2-5.1h0m.1-6.4h0m0 10.1h0m.1-13.9h0m.1 5.3h0m.2 .9h0m.1 2.2h0m0 1.6h0m.1-.4h0m.1-6.8h0m0 3.9h0m.1 3h0m.2-10.9h0m0 13.2h0m.3-7.3h0m.1 3.7h0m.2-5.3h0m.1-1.2h0m.6-3.1h0" stroke="#f4f0f8" stroke-width="1.0" stroke-linecap="round" fill="none"/>
<path d="M75.3 349.2h0m0 1h0m.1 .1h0m.1-4.6h0m0 1.8h0m0 1.7h0m0 .9h0m.1-4.5h0m0 .6h0m0 1.3h0m0 1.8h0m0 1.6h0m0 1.7h0m0 1.6h0m0 .5h0m.1-10h0m.1 4.2h0m0 3.1h0m0 2.7h0m.1 1.6h0m.1-6h0m.1-4.8h0m.1-4.1h0m0 4.8h0m0 2.1h0m0 5.1h0m.1-8.4h0m0 .2h0m.2-1.1h0m.1 14.8h0m.1-16.9h0m.4 17.1h0m.1-20.1h0m0 22.2h0m.1-21h0m.1 21.1h0m.2-22.7h0m0 24.3h0m.3-1h0m.1 1.1h0m0 .3h0m.1-.1h0m.2-.6h0m.2 .5h0m.1 1.3h0m.5 .6h0m.1 1.4h0m.2-.3h0m.1-32.9h0m.1 .4h0m.1 32.1h0m.5-33.6h0m.2-.1h0m0 35.1h0m.1-34.6h0m0 34.7h0m.3-34.6h0m0 36.3h0m.1-1.1h0m.1 .8h0m.8-37.4h0m0 38.8h0m.1-39.1h0m.1-1h0m.4 .2h0m0 40.2h0m.3-.5h0m.3-41h0m.3 .6h0m.3-.3h0m0 41.4h0m.2 .3h0m.2 .8h0m.2-43.6h0m.3-.4h0m0 43.8h0m1.6 1.4h0m.1-45.6h0m0 45.3h0m.2 0h0m1.2-46h0m.2-.1h0m.1 .3h0m0 46.5h0m.2 .1h0m.4 .8h0m.4-.2h0m1.2 .3h0m.1-47.9h0m.1 47.7h0m.1-.5h0m0 1h0m.6-49h0m.2 48.5h0m.2-48.6h0m.1 48.1h0m.1-48.2h0m.2 49.1h0m.1-48.5h0m0 47.9h0m.1-48.5h0m0 49.1h0m.9 .4h0m.3-.1h0m.3-1.1h0m.1 .2h0m.2-47.5h0m0 47.4h0m.3-47.7h0m.5 48.4h0m.3-.7h0m.2-.1h0m.4-47.5h0m.2 47.4h0m.3-47.4h0m0 .5h0m.1 .1h0m0 47.2h0m.8-.4h0m.7-47.1h0m.4 46.9h0m.1-46.1h0m0 45.3h0m.9-45.1h0m.2 0h0m.1 .2h0m.4 .1h0m.8 .9h0m.1 43.6h0m.2-1.1h0m.2-.1h0m.1-42.1h0m0 42.9h0m.1-42.4h0m.8 40.6h0m0 .4h0m.5-40.8h0m.1 40.3h0m.2-39.3h0m0 .1h0m.3-.2h0m.1-.3h0m0 39.8h0m0 .1h0m.2-1.8h0m.1 1.2h0m.3-37.6h0m0 36.3h0m0 1.1h0m.2-1.5h0m.2-36.2h0m.1 .6h0m.1-.7h0m.3 1.5h0m0 34h0m.1 .6h0m.1 0h0m.1-34.4h0m.2 33.7h0m.1-.6h0m.1 .4h0m.1-33.4h0m0 33.7h0m.2-32h0m.1-1.5h0m.1 33h0m.2-31.6h0m0 30.8h0m.1 .1h0m.1-.9h0m.2-28.6h0m0 26.8h0m.1 .6h0m0 .1h0m.1 .3h0m.2 0h0m.5-.8h0m.1-26.2h0m0 1.9h0m0 23.5h0m.2-25h0m0 1h0m0 1.9h0m.2-1.9h0m.1 0h0m0 1h0m.2 21.2h0m.1-2.7h0m.1-14.6h0m.1-3.1h0m0 16.9h0m.1-13.3h0m0 12.7h0m.1-11.9h0m0 11.6h0m.1-7.6h0m0 5h0m0 2.1h0m.1-10.8h0m0 7.3h0m0 3.8h0m0 1.3h0m.1-8.9h0m.1-2.1h0m0 6.5h0m0 .1h0m0 1.9h0m.1-.7h0m.1-6.6h0m0 .4h0m0 3.1h0m.1 2.7h0m.2-2.1h0" stroke="#0b0718" stroke-width="1.0" stroke-linecap="round" fill="none"/>
<path d="M39.8 355.5h0m.1 1.9h0m.4 .5h0m.2-2.3h0m.1 1.8h0m.6-1.7h0m.6 3.5h0m.5 .9h0m.2 .1h0m.2 .2h0m.1-3.5h0m.4-1.1h0m.1 3.4h0m.1 .3h0m.3-.4h0m.9-.8h0m0 2.1h0m.6-2.4h0m1.2 5.4h0m0 .5h0m.3-1.6h0m.1 .8h0m.3-1.6h0" stroke="#c84848" stroke-width="1.0" stroke-linecap="round" fill="none"/>
<path d="M40.7 342.2h0m.8 5.7h0m.5-.3h0m.5-2.6h0m.4-3h0m.5 2.7h0m.9 1.1h0m.6 3.4h0m.1-3h0m.2-1.1h0m4.2 7.7h0m.1-4.3h0m.3 7.3h0m.1-3.4h0m.5-1h0m.5 .6h0m2 4.2h0m.1 1.6h0m.4 .8h0m1.1 2.6h0m.2-7.3h0m5.1-11.3h0m1.8 1h0m.6 10.2h0m.2-3.7h0m.2 1.8h0m.7-1h0m.6-2.4h0m0 5.1h0m.5-5.8h0m.8 .3h0m1.3-.1h0m.4 4.7h0m.2-8.3h0m.4 6.7h0m.9-8.5h0m.1 1.2h0m.4 .3h0m.2 9.8h0m.2-6.9h0m.4 21.9h0m.3-11.5h0m.3-1.8h0m.1-13.9h0m0 9.2h0m0 23.5h0m.2-17.7h0m0 13.8h0m.7 5.2h0m.4-3.3h0m.2-7.5h0m.2 11.5h0m.3-28.1h0m1.2-3h0m.1 23.2h0m.7-5.6h0m0 17h0m.2-12h0m0 3.5h0m.2-5.4h0m.1 10.4h0m.1-3.3h0m.1-22.8h0m0 14.3h0m0 6.5h0m.5 3.1h0m.1-2.1h0m.1-8.3h0m.1 13.4h0m.1-36.1h0m0 .6h0m.2 28.8h0m0 7.6h0m.2-3.2h0m.2-28h0m.2 16.4h0m0 8.7h0m.2-8.4h0m0 8.2h0m0 5.9h0m.1-28h0m.3-7h0m.1 5.1h0m.1-.5h0m.1-1.3h0m.2 21.7h0m.2-13.4h0m.2 2.9h0m.1 8.8h0m.3 9.3h0m.1-36.9h0m.1 2.2h0m0 10h0m.1-3.2h0m0 29.1h0m.1-33.3h0m0 18.5h0m.2 7.8h0m.2 6h0m.1-2.4h0m.3-31.1h0m.1 8.6h0m.1-1.9h0m.2-1.6h0m0 1.7h0m.1 4.3h0m.2-16.2h0m.7 24.6h0m.1-21.5h0m.1-6.2h0m.5 14.2h0m.1-15.7h0m0 6.8h0m0 5.3h0m0 8.1h0m.6-13.2h0m0 3.3h0m0 22.9h0m.2-12.9h0m0 11.9h0m.1-33.9h0m.1 .8h0m.1 8.9h0m0 21.5h0m.1 6.4h0m.1-28.3h0m.3-1.6h0m0 27.4h0m0 2.1h0m0 0h0m1-10.5h0m.1-20.3h0m0 25.8h0m.3-3.3h0m.4-26h0m.2 19.9h0m.3-11.4h0m0 7h0m.1 22h0m.5-26.7h0m1.8-13.5h0m0 5.9h0m.1 17.2h0m.1 3.3h0m.3-21.9h0m.1 24.8h0m.3-21.8h0m.1-5.1h0m.1 6.3h0m.2 25.5h0m.1-32.3h0m.3 38.9h0m.1-34.9h0m.1 6.5h0m.2 11.1h0m.1 6.2h0m.2-12.2h0m0 24.7h0m.1-21.3h0m0 9.4h0m.2-9.7h0m.1-.5h0m.1-15.4h0m.3 27.2h0m.1-22h0m.1 .9h0m.6-9.8h0m.3-5h0m.3 45.5h0m.1-39.9h0m.4 14.4h0m.1 18.9h0m.6-32.7h0m0 4.9h0m0 11.5h0m0 9.1h0m.3-27.1h0m.3 35h0m.2 1.5h0m.2-10.2h0m.4-20.3h0m.6-1.6h0m0 16.8h0m.4-.3h0m0 2.2h0m0 5.1h0m.6 11.4h0m.1-.2h0m.1-38.5h0m.1 29.2h0m.1-33.5h0m0 33.2h0m.4 2.4h0m.2-23.4h0m.2 19.9h0m.1-5.1h0m.1-3.5h0m0 3.6h0m.1-2h0m.3-7.9h0m.6 11h0m.3-27.4h0m0 6.5h0m.2 2.3h0m0 .4h0m.5-1.8h0m.2 7.7h0m.1 3.1h0m0 5.5h0m.1 11.4h0m.4-4h0m.1-.2h0m.1-2.8h0m.3-16.5h0m.1 4.3h0m.2-12.2h0m.4 23.8h0m.1 3.2h0m0 8.8h0m.1-28.1h0m0 25.4h0m.1-32.5h0m0 31.5h0m.3-11h0m.4-20.4h0m.5 26.4h0m.1-8.9h0m.2-3.4h0m.3-13.4h0m.3 30.3h0m.1-29.8h0m.2 20.1h0m.3 .3h0m.1-16.1h0m0 4.5h0m.2 .1h0m.4 6h0m0 11.4h0m.3-20.1h0m.6 4h0m.2 14.7h0m.2-12.6h0m.3-4.5h0m.3 1.4h0m0 3h0m.6 2.5h0" stroke="#280858" stroke-width="1.0" stroke-linecap="round" fill="none"/>
<path d="M59.8 340.9h0m1.2-.9h0m.6-.6h0m.7 .7h0m.3-1.3h0m.6 .8h0m.3-.1h0m.3 .5h0m.2-1.8h0m.1 1.1h0m0 .4h0m.5-1.4h0m0 1.5h0m.7-2.7h0m.2 1.6h0m.1 1.8h0m.6-1.4h0m0 .3h0m0 .3h0m.1-.7h0m.1-.7h0m.2-.3h0m.3-1.6h0m.4 1.7h0m.2 2.8h0m.2-3.6h0m.3 .9h0m.1 0h0m.3-.4h0m0 2.9h0m.1-4h0m.1 1.4h0m0 2.9h0m.3-4.3h0m.3-.2h0m.4 4.2h0m.2-1.2h0m0 .2h0m.2-3.3h0m0 1.9h0m.4-.6h0m0 2.6h0m.1-2.7h0m0 2.9h0m.4-5h0m0 3.7h0m.1-4.8h0m0 6.5h0m.1-2.7h0m0 .1h0m.3-4.4h0m0 5.3h0m.4-5.5h0m0 .3h0m0 .2h0m0 2.9h0m.2-1.4h0m.4-1.6h0m.1 6.2h0m.2-5.3h0m.1 .7h0m.1 4h0m.1 .2h0m.2-4.2h0m0 5h0m.3-3.6h0m.1 2.2h0m.1-7.3h0m.1 4.2h0m.2 4h0m.1-6.9h0m.6 7.1h0m.2-2.7h0m0 .9h0m0 .1h0m.1 0h0m.2-7.6h0m.2 1h0m0 7.9h0m.2-4.4h0m.1-3.9h0m.2 3.3h0m0 2.2h0m.2 3.8h0m.3-.9h0m.1-.9h0m.1-6.3h0m.4 .1h0m0 4.3h0m.1-6.6h0m.3 1.7h0m.2-1.7h0m.1 5.3h0m.3-1.1h0m.2-4.1h0m.2 2.8h0m.1-2.4h0m.2 .5h0m.5 1.4h0m.3-3.8h0m.1 1.2h0m0 1.5h0m.1-1.5h0m1.2-2.3h0m.6 1.7h0" stroke="#16102a" stroke-width="1.0" stroke-linecap="round" fill="none"/>
<path d="M38.5 355.4h0m.7-2.5h0m0 1.3h0m.6-3.3h0m.8 0h0m1 1.4h0m.4 5.2h0m.2-1.9h0m.3 .3h0m.8-1h0m.1 .4h0m1.2-.3h0m.6 3.2h0m.1 1.1h0m.2-3.5h0m.6 1.1h0m.1 1h0m.5 1h0m0 1.6h0m.1-2.7h0m.5-.3h0m.5 4.9h0m.3 2h0m.3-.3h0m.5-6.3h0m.1 3.7h0m.1 3.6h0m1.2-4h0" stroke="#a82858" stroke-width="1.0" stroke-linecap="round" fill="none"/>
<path d="M76.3 348h0m.2 6.9h0m.8 2.2h0m.6 3.5h0m.5-21.8h0m.1 24.1h0m.1-15.5h0m0 5.1h0m.1 10.3h0m.5-23.8h0m.4 8.6h0m.2-1.4h0m.3-.6h0m.2 11.5h0m.3-20.8h0m.3 10.2h0m0 6.6h0m.2-7.6h0m.1-7.5h0m.1 6.4h0m.1-2.7h0m.2 3.1h0m0 1h0m.1-10.9h0m.3 17.7h0m0 8.1h0m.1-9.3h0m.1-17.4h0m.3 29.4h0m.3-16.4h0m0 12.7h0m.2 7.6h0m.1-32.1h0m0 7.8h0m.2 21.1h0m.5-3.2h0m.1-21.3h0m0 14.8h0m0 1.8h0m.6 11.3h0m.1-37.5h0m0 29.3h0m.1-.8h0m.3-18.9h0m.1 3h0m0 16.7h0m.2-9.4h0m0 18.7h0m0 1.2h0m.2-22.6h0m0 9.2h0m.5 7.9h0m.3-33.6h0m0 28.1h0m0 0h0m.3-19.4h0m.2-11.1h0m0 40h0m.1-40.5h0m0 5.7h0m.5 19.1h0m0 16.4h0m0 1.3h0m.1-25.3h0m0 19.1h0m.2-33.7h0m.1 8.9h0m0 15.3h0m0 13.5h0m.2-.6h0m.6-14.4h0m.2-21.9h0m0 21h0m.1-8.1h0m.1-16.7h0m.1 25.6h0m.1-24.4h0m0 .3h0m.1 38.6h0m.1-32.7h0m0 22.6h0m.3-16.6h0m.5-2.2h0m.1 22.4h0m.2-27.7h0m0 8.9h0m0 29.1h0m.2-12.5h0m.1-16.4h0m.4 22.4h0m.2-37.8h0m.3 32.4h0m.1-13.1h0m.1 5.5h0m.1 10.2h0m.2-30.5h0m.1 16.6h0m.1 10.5h0m0 6.1h0m.1-12.9h0m0 .3h0m.2-13.9h0m0 28.7h0m.1-9.4h0m.1-12h0m0 11.6h0m0 13.7h0m.4-9.8h0m0 5.9h0m.1-9.6h0m0 .6h0m.4-2h0m.2-25.1h0m0 .7h0m0 22.2h0m.2-13.1h0m.4 5.4h0m0 14.1h0m.1-1h0m.1 .3h0m.1 8.8h0m.5-1.9h0m.2-37.8h0m.1 4.1h0m.2 21.4h0m0 3h0m.4-27.8h0m.2 14.9h0m0 10.3h0m.3-6.7h0m.3 25.1h0m.1-21.1h0m0 7.2h0m.2-7.4h0m.1 10.2h0m.3-3.1h0m.2-11.1h0m.2 13.8h0m0 10.8h0m.1-21h0m.2-21.7h0m.1 24.5h0m0 1.2h0m.2 2.2h0m.2 5.6h0m.1-3.6h0m.2-20.3h0m.5 9h0m0 22.1h0m.1-20.8h0m.2 2.4h0m.1 7.4h0m.1-21.7h0m0 21.2h0m.1-7.2h0m.1 5.5h0m0 4.5h0m.2 4h0m0 4.4h0m.1-11.4h0m.1-22.6h0m.2 25.6h0m0 5.5h0m.4-22.9h0m.2 22.2h0m.3-9.8h0m.1-5.6h0m.3-19.6h0m.2 28.6h0m.2-12h0m.1 19.2h0m.1-10.9h0m0 4h0m0 1.5h0m.2 4.5h0m.1-16.9h0m0 13.5h0m.1-2.3h0m.2-2.4h0m.3-14.4h0m.7-8.6h0m.2 0h0m.1 27.2h0m.1-5.6h0m.5-8.2h0m.4 5.6h0m0 2h0m.1-15.7h0m.1 9h0m.2-7.7h0m.2 6.6h0m.4-4h0m.1 13.4h0m.3 1.8h0m.1-15.7h0m0 4.8h0m.3-4.8h0m0 15.6h0m.5-10.3h0m.2-1.3h0" stroke="#4a3a78" stroke-width="1.0" stroke-linecap="round" fill="none"/>
<path d="M40.5 359.9h0m.9-.9h0m.1-1.1h0m.8 1.6h0m.6-2.2h0m1.7 5.8h0m.1-1.3h0m.3 3.5h0m.6-.4h0" stroke="#d85838" stroke-width="1.0" stroke-linecap="round" fill="none"/>
<path d="M39 347.3h0m.2-.6h0m.2-1.2h0m0 2.6h0m1.2-1.3h0m.2 3.1h0m.4-.5h0m.2-.3h0m.6-.1h0m.3-.9h0m.4 .5h0m.2-.3h0m.5 3.2h0m.1-3.4h0m.1-.7h0m.6 2.4h0m.1-1.5h0m.6-.3h0m.1-.1h0m0 1.9h0m.5-.7h0m.1-.4h0m0 2.8h0m.4-1.6h0m1.1 .5h0m0 2.4h0m0 .6h0m.2-3h0m.5 1.8h0m.5-.8h0m.3 .5h0m.1 3.1h0m.2-2h0m.2 4.8h0m.5-4.5h0m.7-3.8h0m0 8.1h0m.1 .6h0m.1-.7h0m0 3.9h0m.1-6.2h0m.1 3.1h0m.3-1.9h0m.1 2.3h0m.1-.6h0m.1 .5h0m.5 4.4h0m.4-1.6h0m0 1.8h0m.1 2.1h0m.1 .8h0m.1-8h0m.1 1.9h0m.2 2.4h0m0 2.5h0m.5 .7h0m.1-4.5h0m.1 2.4h0m.3 1.2h0m.1-.5h0m.1-2.9h0m.1-1h0m.3 3.6h0m2.1-2.3h0m3.8-19.7h0m1.3 1.6h0m.8 3h0m.2 4.6h0m.1-7.6h0m.4 2.9h0m.2 1.2h0m.1-5.9h0m.3 10.2h0m.2-10.2h0m.1 5.7h0m.2-5.3h0m.5 3.2h0m.5 4.2h0m.1-7.3h0m.2 4.8h0m.2-.8h0m0 5.6h0m.7-3.5h0m1-5.1h0m.2 .7h0m.2 .6h0m.2-2.5h0m0 7.6h0m.2 1.1h0m.6-3.2h0m0 4.3h0m.2-1.8h0m0 3.5h0m0 .7h0m.5-5.7h0m0 3.1h0m.4 4.8h0m.5-14.9h0m.3 .1h0m.5 14.2h0m.2 1h0m.3 .5h0m.1-15.3h0m0 14.8h0m.2-8.6h0m.1 9.1h0m.1-2.9h0m.5-8.1h0m.1 5.7h0m.2 4.9h0m.1-14.3h0m0 14.3h0m.5-13.9h0m.1 12.8h0m.3-13.5h0m.2 4.6h0m.2 3.8h0" stroke="#581868" stroke-width="1.0" stroke-linecap="round" fill="none"/>
<path d="M39.2 350.4h0m2.9-1.3h0m0 3h0m.7 .9h0m1.9 3.7h0m.4-2.4h0m2.1 0h0m.9 5.3h0m.3-2.8h0m.3 5.5h0m.1-7.8h0m.1 7.7h0m1.5-3.5h0" stroke="#881868" stroke-width="1.0" stroke-linecap="round" fill="none"/>
<path d="M38.7 348.1h0m.1 .3h0m.6 .5h0m.1 .9h0m0 .9h0m.1 3h0m.2-5.6h0m.5 0h0m.4-.8h0m.8 .7h0m.6 3.2h0m.2 .1h0m.1-2.5h0m0 3.4h0m.3-3.9h0m.3 4.3h0m.5-3.5h0m0 1h0m.4 .8h0m.2 2.4h0m.3-1.1h0m0 1.8h0m.1-3.2h0m.2-1.1h0m.2 .9h0m.1 4h0m.2-5h0m.1 1.1h0m0 2.3h0m.1-3.1h0m.1 4.9h0m.1-3.1h0m0 1.4h0m0 0h0m.1-4.3h0m.1 2.3h0m.3 2.2h0m.4 0h0m.1-1.6h0m.1 3.1h0m.1-2.9h0m.1 .2h0m0 3.5h0m.1-2.6h0m.1 .6h0m.2-.4h0m.2 5.6h0m.4-6.1h0m0 .8h0m.2 .9h0m0 .1h0m.6 4.1h0m.1-3.5h0m.2 2h0m.1 3.5h0m.1-7.4h0m.1 2.7h0m0 5.1h0m.6-1.7h0m0 1.9h0m.1-6.3h0m.2 1.2h0m0 1.3h0m.1 2.4h0m0 .7h0m.3-3.2h0m0 .6h0m.1 2.6h0m0 6.1h0m.1-11.1h0m.1 8h0m.4-8.3h0m.2 3.4h0m0 7.8h0m.1-9.5h0m0 .1h0m.1 2.4h0m.1 6h0m.1-6.1h0m.1 .2h0m.5-.1h0m.3 4.1h0m.1 2.1h0m.3-3.1h0m.1-2.5h0m.2 1.2h0m0 2.9h0m.1-7.4h0" stroke="#681868" stroke-width="1.0" stroke-linecap="round" fill="none"/>
<path d="M38.6 351.9h0m.5-1.1h0m.5 1.3h0m.3-.4h0m.9-1.6h0m0 3.3h0m.4 1.9h0m.9-2h0m1.2-1.3h0m.6-1h0m.5 .1h0m.1 2h0m.4 .2h0m.6 2.2h0m0 1.8h0m.1-.3h0m.2-3.5h0m.1-1.6h0m.7-1.5h0m.6 4.7h0m0 1.6h0m.4 8.9h0m.1-5.5h0m.1-3.3h0m.3 6h0m.3-6.2h0m.1 1.6h0m0 8.1h0m.1-5.6h0m.1-3.4h0m.3 4.7h0m0 1.1h0m.1-5.8h0m0 .6h0m0 3.1h0m.3-4.7h0m0 3.2h0m.1-3.2h0m.5 10h0m.1-4h0m0 3.4h0m.3-2h0m.2-4.7h0m0 5h0m.1 .3h0m.1-1.4h0m.1-.8h0m.8 .4h0m.1 1.7h0" stroke="#882868" stroke-width="1.0" stroke-linecap="round" fill="none"/>
<path d="M38.4 352.2h0m.3 1.7h0m.1-1h0m.2-1.2h0m.5-1h0m.1 .6h0m.3-.6h0m.1 1.3h0m.3-1.3h0m.2 3.8h0m.5-4.5h0m.2 5.3h0m.2-3.4h0m.2 .8h0m.4 2.1h0m1.7 1.9h0m.2-3.8h0m0 2.6h0m.1 .8h0m.3-.5h0m.1 .9h0m.1 2.7h0m.3-4.5h0m0 .5h0m.1-.1h0m0 .8h0m.1-.5h0m1 4.2h0m.4-4.6h0m.1 1.5h0m.3-.1h0m0 2.7h0m.3 1.5h0m.1 .3h0m.2-1.2h0m.2 .9h0m.3 .5h0m.2-7.5h0m.2 7h0m.1 3.1h0m.4-6h0m.1 6.4h0m.3-2.7h0m0 2.9h0m.1-2h0m.2-.7h0m.7 4.2h0m.1-2.1h0m.2 .8h0m.5 1.7h0m.3-4.1h0" stroke="#982868" stroke-width="1.0" stroke-linecap="round" fill="none"/>
<path d="M40.6 357.7h0m.1 3.3h0m.1-4h0m0 2.9h0m.1-1.7h0m0 2.1h0m.9 1.7h0m0 .1h0m.3-4.3h0m.5 3.8h0m0 1.8h0m.3-1.7h0m.3 1h0m0 0h0m.2-1.1h0m0 2h0m.5 .2h0m.1 .1h0m.1 .6h0m.3-2h0m2.5 3.4h0" stroke="#e86828" stroke-width="1.0" stroke-linecap="round" fill="none"/>
<path d="M41.5 358.3h0m1.8-.1h0m.9 .2h0m.7 1.1h0m.6 .8h0m0 2.5h0m.1 1h0m.1 1h0m.2-2.1h0m.4 .9h0m2.5 2.7h0" stroke="#d84848" stroke-width="1.0" stroke-linecap="round" fill="none"/>
<path d="M38.6 355.4h0m.8 2.5h0m.6-5.2h0m.7 1.5h0m.3 2h0m.2-.4h0m0 1h0m.7-2.1h0m.1 2.4h0m.1-3h0m.1 2.5h0m.1-1.6h0m.9 .3h0m.1 3.1h0m.1 1.9h0m.1-3.3h0m.4 1.2h0m.1 1.5h0m.2-1.7h0m.1-3.2h0m0 3.8h0m0 2h0m0 1.6h0m.4-4.1h0m.2-.6h0m.1-1.8h0m.5 1.5h0m0 2.8h0m.2-5h0m0 4.8h0m.1-3.2h0m.3 3.1h0m0 3.1h0m0 2.4h0m.2-3.3h0m.3-2h0m0 5.9h0m.2-3.8h0m.2 .7h0m0 1.6h0m.2-2.7h0m.2 2.8h0m.2-1.1h0m.1 2.7h0m.6-.4h0m.2-.8h0m.3-9.2h0m0 10.1h0m.3-3.2h0m.5 1.6h0" stroke="#b83858" stroke-width="1.0" stroke-linecap="round" fill="none"/>
<path d="M43.2 364h0m21.8-1.2h0m1.2-.1h0m.2-1.2h0m.2 0h0m.1-.1h0m0 1.6h0m0 .2h0m0 .2h0m.2-.9h0m.3 .8h0m.1-.2h0m.1-1.6h0m.1-.9h0m0 2.5h0m.1-.6h0m0 1.9h0m.1-2.1h0m0 .4h0m0 .3h0m.1-.8h0m0 .1h0m0 .4h0m0 .8h0m.2-1.2h0m.1-2h0m0 3.3h0m.2-3.1h0m.3 .1h0m.3 2h0m1 .5h0" stroke="#f88818" stroke-width="1.0" stroke-linecap="round" fill="none"/>
<path d="M39.3 356.8h0m.1 1h0m2.2-2.3h0m.5 3.4h0m.5 2.2h0m.1-2.2h0m.9 4h0m.3-1.5h0m.1 2.2h0m.1-1.9h0" stroke="#d84838" stroke-width="1.0" stroke-linecap="round" fill="none"/>
<path d="M39.4 354.2h0m.8-.5h0m1.2 1.4h0m.2 .3h0m.2-1.2h0m.9 1.6h0m.2-.6h0m1.6-1h0m.1 2.9h0m1.4 3.6h0m1.6 .9h0m.6-1h0m.6-1.4h0m.2 2.9h0" stroke="#a83858" stroke-width="1.0" stroke-linecap="round" fill="none"/>
<path d="M39.7 355.2h0m.5 4.1h0m1.2 1.4h0m0 .8h0m.2-3.4h0m.5 2h0m1 3.6h0m.1-3.4h0m.1 3.7h0m.1-4.5h0m.3 .9h0m.1 2.4h0m.2-1h0m.6 2.9h0m.4 .5h0m.1-1.9h0m.7-.5h0m.1 0h0" stroke="#e85838" stroke-width="1.0" stroke-linecap="round" fill="none"/>
<path d="M38.6 354.8h0m.6 3.2h0m.5-1.3h0m.2 .3h0m1.4-.6h0m.2 0h0m0 1h0m.3-.7h0m1.2 4.4h0m.9-.4h0m.4-1.6h0m0 .1h0m0 2h0m.1-2.8h0m.2 5h0m.1-5.6h0m0 3.1h0m.6-1.7h0m0 4.9h0m.3 .1h0m.1-3.9h0m0 4.9h0m.4-7h0m0 5.5h0m1.1 2h0" stroke="#c83848" stroke-width="1.0" stroke-linecap="round" fill="none"/>
<path d="M38.8 356.5h0m1.1-4.2h0m.2 3.7h0m1.8-.5h0m.2-.8h0m1.9 0h0m.2 3.4h0m1-.6h0m.8-.7h0m.5 3.9h0m3.2 5.6h0" stroke="#a82868" stroke-width="1.0" stroke-linecap="round" fill="none"/>
<path d="M40.8 361.3h0m.5-.1h0m.8 1.3h0m.6 .1h0" stroke="#f87818" stroke-width="1.0" stroke-linecap="round" fill="none"/>
<path d="M40.5 358h0m3.7 4.2h0m1.5-1.6h0" stroke="#c83858" stroke-width="1.0" stroke-linecap="round" fill="none"/>
<path d="M41.5 361.9h0" stroke="#e87818" stroke-width="1.0" stroke-linecap="round" fill="none"/>
<path d="M39.6 358.7h0m3.5 3.3h0m.1 1.5h0m.7 .9h0m.5-8.3h0m.8 5.9h0" stroke="#e85828" stroke-width="1.0" stroke-linecap="round" fill="none"/>
<rect x="78.8" y="384" width="30.8" height="5" fill="url(#ig)"/>
<text x="95.5" y="381.5" font-size="5.6" fill="#231f20" stroke="#231f20" stroke-width="0.22" text-anchor="middle">Expression</text>
<line x1="79.5" y1="384" x2="79.5" y2="385" stroke="#fff" stroke-width="0.4"/>
<line x1="79.5" y1="388" x2="79.5" y2="389" stroke="#fff" stroke-width="0.4"/>
<text x="79.5" y="395.3" font-size="5.8" fill="#231f20" stroke="#231f20" stroke-width="0.22" text-anchor="middle">0</text>
<line x1="89.2" y1="384" x2="89.2" y2="385" stroke="#fff" stroke-width="0.4"/>
<line x1="89.2" y1="388" x2="89.2" y2="389" stroke="#fff" stroke-width="0.4"/>
<text x="89.2" y="395.3" font-size="5.8" fill="#231f20" stroke="#231f20" stroke-width="0.22" text-anchor="middle">2</text>
<line x1="98.9" y1="384" x2="98.9" y2="385" stroke="#fff" stroke-width="0.4"/>
<line x1="98.9" y1="388" x2="98.9" y2="389" stroke="#fff" stroke-width="0.4"/>
<text x="98.9" y="395.3" font-size="5.8" fill="#231f20" stroke="#231f20" stroke-width="0.22" text-anchor="middle">4</text>
<line x1="108.6" y1="384" x2="108.6" y2="385" stroke="#fff" stroke-width="0.4"/>
<line x1="108.6" y1="388" x2="108.6" y2="389" stroke="#fff" stroke-width="0.4"/>
<text x="108.6" y="395.3" font-size="5.8" fill="#231f20" stroke="#231f20" stroke-width="0.22" text-anchor="middle">6</text>
<text x="268.2" y="224" font-size="12.5" fill="#231f20">j</text>
<text x="366" y="221.5" font-size="11.6" fill="#34a06c" text-anchor="middle">V&#946;13</text>
<rect x="276.3" y="224.4" width="179.8" height="1.6" fill="#5db887"/>
<rect x="276.5" y="227" width="88.5" height="62.2" fill="#fff" stroke="#a0a0a0" stroke-width="0.6"/>
<rect x="367" y="226.6" width="88.9" height="62.4" fill="#fff" stroke="#a0a0a0" stroke-width="0.6"/>
<path d="M284.7 255.3h0m.1 13.2h0m1.5-13.7h0m.7 6h0m.5-2.6h0m1.8 7h0m.3 5.9h0m.9-15h0m1.2 2.4h0m.2-11.2h0m0 12.8h0m.1-4.7h0m.6-1.8h0m.8 6.9h0m1.4-5.9h0m.1 .3h0m1.2 5.9h0m1.5-4h0m1-2.6h0m1.5 9.1h0m.9-3.3h0m.4-.9h0m1.3-9.5h0m1.3 2.1h0m.8 1.4h0m.2 8.3h0m1.5-13.8h0m.2 15.7h0m.3-.1h0m1.3-5.6h0m2.1 2.2h0m.4-10h0m.5 12.2h0m.7-11.4h0m.2-2.1h0m0 .9h0m.8 17.2h0m.6-2.3h0m.2-6.1h0m.4 4.2h0m.2-6h0m0 1.4h0m.2-.4h0m.1-.2h0m.1 1h0m.1-7.5h0m.2 13.5h0m.1-6.1h0m.1-1h0m.5 4.1h0m.1-8.3h0m.1 6.2h0m.1-2.7h0m0 6.3h0m.1-7.4h0m0 4.4h0m.1-6.4h0m.2 10.9h0m.6 2.1h0m.1-16.8h0m.1 14h0m.2-6.5h0m0 4.8h0m.1 3.7h0m.5-3.6h0m.1-.5h0m0 4h0m.2-4.7h0m.1 3.2h0m.2-6h0m.2 8.4h0m.3-6.5h0m.2-8.9h0m0 15h0m.1-2.6h0m.1-9.6h0m0 7.7h0m.2-6.8h0m0 1.1h0m.1-2.9h0m0 8.8h0m0 21.4h0m0 4.9h0m.2-31.7h0m0 .3h0m0 .6h0m0 1.1h0m0 .7h0m0 5.2h0m.1-9.9h0m0 3.3h0m0 1.5h0m.1 .1h0m0 3.1h0m.1-9.4h0m.1 6.2h0m0 .4h0m.1-2.8h0m0 .6h0m.1-.6h0m0 25.4h0m.1-35.3h0m0 10h0m.1-2.1h0m0 4.2h0m0 25.6h0m.1-31.7h0m0 7.8h0m0 2.6h0m.2-18.6h0m0 2.4h0m0 14.8h0m.1-12.6h0m0 10.3h0m0 28h0m.1-38.6h0m0 9.5h0m.1-1.3h0m0 .2h0m0 9.8h0m0 18.5h0m.1-35.2h0m0 6.8h0m0 1.7h0m0 .2h0m0 23h0m.1-31.9h0m0 6.6h0m0 3.9h0m.1 3.9h0m.1-4.6h0m0 .1h0m0 1h0m0 23.1h0m0 1.2h0m.1-40.1h0m.1 8.4h0m.1-7.8h0m0 1h0m0 .9h0m0 3.1h0m0 7.9h0m.1-14h0m0 10.4h0m0 1.3h0m0 3.1h0m.1 3.2h0m0 4.4h0m.1-21.8h0m0 .6h0m0 3.8h0m0 .6h0m0 11.3h0m0 18.3h0m0 2.5h0m0 5.7h0m.1-44.8h0m0 9.6h0m0 29.8h0m0 2.8h0m.1-38.6h0m0 0h0m0 13.8h0m0 1.6h0m0 19.5h0m.1-37.2h0m0 13.9h0m.1 .3h0m0 2.8h0m.2-13.7h0m0 4.2h0m.1-11.4h0m.1 9.9h0m0 13.4h0m.1-12.3h0m0 30.5h0m0 1.5h0m.1-39.3h0m0 11.5h0m0 4.3h0m0 3.9h0m0 10.5h0m.1-13.7h0m0 21h0m.1-36.9h0m0 .1h0m0 3.4h0m.1 1.6h0m.1-1h0m0 2.8h0m0 4.2h0m0 5.9h0m.1-16.6h0m0 9.5h0m0 31.2h0m.2-29.6h0m0 6.5h0m0 3.4h0m0 .9h0m0 16.7h0m.1-44.5h0m0 9h0m0 4.5h0m0 2.3h0m0 4.1h0m.1 24h0m.1-39.6h0m0 .8h0m0 15.4h0m.1-14.6h0m0 8.5h0m0 7.9h0m.1-11.5h0m0 4.3h0m0 30.5h0m0 .2h0m.1-44.4h0m0 7.9h0m0 9.2h0m.1-17.7h0m0 3.6h0m0 22.2h0m0 .5h0m.1-5.8h0m.1 3.2h0m0 13.1h0m.1-33.4h0m0 7h0m.2 3.6h0m0 3.9h0m0 2.2h0m.1-21h0m0 4.7h0m0 3.1h0m.1-7.3h0m0 4.9h0m0 15.8h0m0 2.6h0m0 17.9h0m0 4.2h0m.1-45.6h0m0 3.5h0m0 1.4h0m0 8.2h0m0 4.2h0m0 4.7h0m0 17.8h0m0 4.7h0m.1-18.7h0m0 17.9h0m0 1.5h0m.1-43.1h0m0 4.7h0m0 5h0m0 2.5h0m0 5.5h0m0 .2h0m0 9h0m0 11.7h0m0 6h0m.1-42.3h0m0 3.7h0m0 10.4h0m.1-12.1h0m0 1.4h0m0 20.6h0m0 8h0m.1-36.1h0m0 14.3h0m0 5.2h0m.1-21.7h0m0 16h0m.1 .3h0m0 5.4h0m0 6.9h0m0 12.5h0m.1-31.3h0m0 4.4h0m0 2.9h0m0 9.7h0m.1-13.7h0m0 7.2h0m0 4.6h0m0 .7h0m.1-17.5h0m0 4.9h0m.1-.8h0m0 34.5h0m.1-33.5h0m.1 7.3h0m0 2.3h0m0 3.6h0m0 5.7h0m.1-31.2h0m0 20.3h0m0 1.4h0m0 16.7h0m.1-33.8h0m0 3.5h0m0 8.3h0m0 11.3h0m.1-15h0m0 2.4h0m0 1.4h0m0 22h0m0 .5h0m0 3.6h0m.1-39.9h0m0 8.4h0m0 3h0m0 2.7h0m.1-9.1h0m0 1h0m0 5.3h0m0 18.1h0m0 5.2h0m.1-28.2h0m0 2.7h0m.1-4.3h0m0 34.1h0m.1-25.3h0m0 1h0m0 5.9h0m.1-25.2h0m0 16.9h0m0 4.7h0m.1-17.6h0m0 26.4h0m0 19.2h0m.1-51.8h0m0 14.4h0m0 5.4h0m0 4h0m0 9h0m0 1.7h0m0 4h0m.1-32.5h0m0 14.3h0m0 5h0m0 .2h0m0 16h0m0 5.5h0m0 2h0m.1-38.8h0m0 12h0m0 8.5h0m.1 2.8h0m0 3.3h0m0 11h0m.1-36.8h0m0 3.7h0m0 .9h0m0 16.2h0m0 5.2h0m.1-18.1h0m0 21.8h0m.1-28.5h0m0 12.2h0m0 1.2h0m0 .9h0m0 12.6h0m.1-33.9h0m0 .2h0m0 16.4h0m0 1.6h0m.1-19.5h0m0 18.4h0m0 11.4h0m0 8.4h0m0 5.4h0m.1-26.5h0m0 11h0m0 2.7h0m.1-29.3h0m0 1.6h0m0 31.3h0m.1-20.2h0m0 .8h0m0 7.9h0m0 14.1h0m.1-34.5h0m0 3.5h0m0 27.4h0m.1-13.9h0m0 1.2h0m0 12.9h0m.1-27.8h0m0 37h0m.1-32h0m0 3.9h0m0 6.5h0m0 5.8h0m0 11.3h0m0 .6h0m.1-42.9h0m0 21.8h0m0 14.3h0m0 5h0m.1-27h0m0 23.2h0m.1-31.6h0m0 13.7h0m0 8.4h0m.1 1.4h0m0 11.9h0m.1-8.9h0m.1-27h0m0 4.4h0m0 3.7h0m0 12.8h0m0 20.7h0m.1-43h0m0 2h0m0 26.5h0m.1-27.2h0m0 24.7h0m0 .8h0m0 1h0m.1-28h0m0 2.6h0m0 9.3h0m0 1.2h0m0 1h0m0 6.1h0m0 3.7h0m0 .7h0m0 11.8h0m.1-28.9h0m0 2.9h0m0 8.8h0m0 17.5h0m.1-29.9h0m0 4.1h0m0 9.8h0m0 8.6h0m.1-33.2h0m0 30.8h0m0 4.2h0m0 2.6h0m0 1.1h0m.1-32.7h0m0 5.7h0m0 1.6h0m0 .2h0m0 7.8h0m0 .2h0m0 7.2h0m.1 1.7h0m0 4h0m0 .9h0m.1-32h0m0 6.5h0m0 16.4h0m0 15h0m.1-30.7h0m0 3h0m0 11.2h0m0 5.9h0m0 4.9h0m0 4h0m.1-35.4h0m0 .4h0m.1-4.8h0m0 13.3h0m0 .1h0m0 4.3h0m0 3.6h0m.1-14.4h0m0 3.7h0m0 13.7h0m0 4.3h0m0 .5h0m.1-30.2h0m0 24.2h0m0 1.6h0m0 1.4h0m0 4.7h0m0 8.2h0m0 .6h0m0 4.6h0m.1-43.6h0m0 2.5h0m0 30.2h0m.2-33.7h0m0 24.4h0m0 7.4h0m0 3.5h0m.1-33.6h0m0 15.2h0m0 21.4h0m.1-38.6h0m0 9.8h0m0 1.2h0m0 7.9h0m0 8.6h0m.1-15.9h0m0 .4h0m0 25.3h0m0 .4h0m.2-37.4h0m0 4.7h0m0 7.2h0m0 11.3h0m0 15.7h0m.1-3.3h0m0 4.1h0m.1-38h0m0 23.7h0m0 11.3h0m0 4.1h0m.1-29.7h0m0 .7h0m0 7.9h0m0 2.8h0m0 16.4h0m.1-27.8h0m0 1.6h0m0 19.6h0m0 5.4h0m.1-25.6h0m0 4.4h0m0 20.9h0m.1-29.1h0m0 18.3h0m.1-.2h0m0 0h0m0 11.4h0m.1-39.4h0m0 2.2h0m0 19.4h0m0 19.5h0m.1-37.4h0m.1 12.9h0m0 10.5h0m0 7.4h0m.1-34.6h0m0 .4h0m0 6.2h0m0 10.8h0m0 19h0m.1-17.1h0m0 .7h0m.1-1.2h0m0 8.2h0m0 7.7h0m.1-11.6h0m.1-10.6h0m.1-5.1h0m0 3.3h0m0 5.6h0m0 23.5h0m.1-27h0m0 .8h0m.1-8.1h0m0 25.5h0m.1-14.9h0m0 3.1h0m.1 6.8h0m0 2.9h0m0 10h0m.1-26.4h0m0 16.4h0m.1-29.1h0m.1 5.5h0m0 14.1h0m0 9.1h0m0 .5h0m0 2.3h0m.1-23.8h0m0 19.7h0m0 11.7h0m0 1.1h0m.1-27h0m0 8.6h0m.1-13.2h0m0 4.1h0m0 6.8h0m0 11.3h0m0 11h0m.1-32.3h0m0 1.9h0m0 6.7h0m0 19.2h0m0 1.6h0m0 2.1h0m0 2.1h0m.1-42.6h0m0 8.7h0m0 9.5h0m.1-14.2h0m0 8.4h0m0 26.7h0m0 3.8h0m.1-44h0m0 6.2h0m0 29.5h0m0 1.7h0m0 1.5h0m0 2.6h0m.1-26.4h0m0 19.3h0m.1-23.7h0m0 8.8h0m0 17.7h0m.1-28.7h0m0 7.3h0m0 12.5h0m0 4.1h0m0 2h0m.1-29.1h0m0 .2h0m0 8.9h0m0 16.2h0m.1-1.3h0m.1-19.4h0m0 13.2h0m0 13.1h0m.2-14.4h0m0 .8h0m0 9.8h0m.1-30.6h0m0 2.3h0m0 4.3h0m0 5.1h0m0 10.8h0m0 5.7h0m0 4.1h0m.1-18.2h0m0 .8h0m0 14.4h0m0 4.7h0m0 7.4h0m.1-28.1h0m0 3.8h0m0 1.4h0m0 4.8h0m0 .6h0m.1-13.9h0m0 1.8h0m0 12h0m0 3.3h0m0 3.3h0m0 8.2h0m.1-33.8h0m.1-2.6h0m0 3.5h0m0 .9h0m0 1.1h0m0 2.3h0m0 17.7h0m0 3.8h0m.1-32.5h0m0 3h0m0 5h0m0 2.8h0m0 7.1h0m0 4.5h0m0 2.7h0m.1 8.7h0m0 1.8h0m0 3.8h0m.1-18.2h0m.1-18.2h0m0 6.5h0m0 14.7h0m.1-23.6h0m0 19.7h0m.1 4.5h0m.1-23.7h0m0 13.8h0m0 1.9h0m0 9.7h0m0 12.1h0m.1-24.8h0m0 .2h0m0 9.7h0m0 3.4h0m.1-27.9h0m0 13.7h0m0 26.7h0m.1-23.6h0m0 1.3h0m0 15.2h0m0 9.3h0m.1-28.9h0m0 15.6h0m0 9.1h0m.1-37.7h0m0 11.3h0m0 5.8h0m0 24.2h0m.1-32.4h0m0 .2h0m0 10.4h0m.1-16.4h0m0 6.9h0m0 1.4h0m0 5.5h0m0 .8h0m0 4.5h0m0 19.2h0m.1-32.8h0m0 15.6h0m0 10.3h0m0 4.5h0m.1-23h0m0 3.2h0m0 20.7h0m.1-31.1h0m0 5.5h0m0 13.1h0m0 13.5h0m.1-37.1h0m0 4.6h0m0 6.9h0m0 1.6h0m0 11.6h0m0 15.7h0m.1-42h0m0 5.7h0m0 7.4h0m0 8.9h0m0 6.5h0m.1-31.9h0m0 1h0m0 4.9h0m0 12h0m0 5.5h0m.1-23.6h0m0 1.8h0m0 2.3h0m0 25.1h0m0 .1h0m0 12.5h0m.1-38.6h0m0 14.7h0m0 4.9h0m0 18.1h0m.1-23.2h0m0 9.1h0m0 8h0m0 .3h0m.2-20.5h0m.1 .8h0m0 2.1h0m0 3.2h0m0 13.2h0m0 5.4h0m.1-22.3h0m0 8.2h0m0 18.3h0m.1-37.7h0m0 14.1h0m0 13.1h0m0 1.9h0m.1-29.8h0m0 5.3h0m0 8.5h0m0 4.7h0m0 5.3h0m.1-18.3h0m0 5.8h0m0 4.1h0m0 1.8h0m0 11.9h0m0 10.4h0m.1-32h0m0 10h0m0 9h0m0 11.9h0m.1-38.9h0m0 13.6h0m0 22.3h0m.1-34.6h0m0 29.6h0m.1-13.3h0m0 2.7h0m0 9.4h0m.1-31.7h0m0 27.3h0m0 5.6h0m.1-12.6h0m0 8.5h0m0 6.4h0m.1-15.3h0m.1-19h0m0 8.9h0m0 6.4h0m.1-10.2h0m0 16.3h0m0 8.1h0m0 1.1h0m0 6.3h0m.1-23.2h0m0 4.1h0m0 19h0m0 1.6h0m.1-41.4h0m0 .6h0m0 .2h0m0 18.9h0m0 1h0m0 .2h0m0 18.2h0m.1-32h0m0 20.5h0m0 3.9h0m.1-27.1h0m0 12.2h0m0 13.8h0m0 14.2h0m.1-41.2h0m0 2.3h0m0 7.1h0m0 1.9h0m0 1.2h0m0 12h0m0 7.2h0m.1-25.5h0m0 1h0m0 7.9h0m0 2.3h0m0 5.1h0m0 10.9h0m.1-1.8h0m0 8.6h0m.1-34.4h0m0 11.7h0m0 6.9h0m0 5.5h0m.1-25.2h0m0 7.4h0m0 3.6h0m0 6.8h0m0 1.5h0m0 8.8h0m0 4.1h0m.1-33.6h0m0 9h0m0 5.2h0m0 18.3h0m.1-36h0m0 22.1h0m0 17.9h0m.1-42.9h0m0 8.3h0m0 12.2h0m0 14.5h0m.1-30.4h0m0 6.2h0m0 6.7h0m0 4.1h0m0 14.4h0m.1-31.9h0m0 8.5h0m0 8.4h0m0 14.4h0m0 1.8h0m0 6.1h0m.1-12.4h0m0 9.6h0m0 4.4h0m.1-40.5h0m0 .2h0m0 37.9h0m.1-24h0m0 2.6h0m0 22.2h0m0 .2h0m0 .1h0m0 1.1h0m.1-40.3h0m0 1.4h0m0 5.4h0m0 3.2h0m0 2.2h0m0 2.1h0m0 2.8h0m0 4.5h0m0 12.6h0m.1-35.4h0m0 14.6h0m0 26h0m.1-36.7h0m0 27.7h0m.1-26.9h0m0 9.2h0m0 6.9h0m0 12.2h0m.1 7h0m.1-22.4h0m0 16.4h0m0 6.5h0m.1-29.3h0m0 9.6h0m0 2.7h0m.1-12.5h0m0 1.9h0m0 4.1h0m0 .9h0m0 4.9h0m.1-20.9h0m.1 3.7h0m0 7h0m0 .7h0m0 5.6h0m0 7.5h0m0 3.6h0m.1-16.4h0m.1-16.2h0m0 29.4h0m0 2.9h0m0 9.1h0m.1-15.9h0m.1-26.6h0m0 11h0m.1-1.3h0m0 18.6h0m.1-13.4h0m.1-2.2h0m0 4.8h0m0 4h0m0 7.8h0m.1-21.8h0m0 8.5h0m0 25h0m0 .8h0m.1-31.1h0m0 5.5h0m0 3.2h0m0 22.7h0m.1-42h0m0 4.4h0m0 11.3h0m0 19.4h0m0 8.4h0m.1-10.2h0m0 .9h0m0 4.3h0m.1-18.3h0m0 1.4h0m0 8.1h0m.1-29.7h0m0 6.8h0m0 12.3h0m0 .6h0m.1-13.7h0m0 2.9h0m0 6.1h0m0 18.7h0m.1-19.5h0m0 8.4h0m0 1h0m0 1.1h0m.1-6.8h0m0 6.2h0m.1-6.9h0m0 13.5h0m0 1.3h0m0 9.9h0m.1-34.8h0m0 8h0m0 11.9h0m0 9.7h0m.2-32.1h0m0 6.8h0m0 6.8h0m.1-7h0m0 2.5h0m0 3.1h0m0 7.2h0m0 1.3h0m0 14.7h0m0 1.8h0m.1-16.5h0m0 5.6h0m.1-26.4h0m0 7.9h0m0 .3h0m0 10.8h0m0 6.3h0m.1-20.2h0m0 3.8h0m0 1h0m0 16.3h0m0 6.7h0m0 5.1h0m.1-13.8h0m.1-7.5h0m0 13.7h0m.1-33.6h0m0 12.7h0m0 8.3h0m0 2.9h0m0 1.3h0m0 3.9h0m0 10h0m.1-15.3h0m0 .2h0m0 10.5h0m0 6.7h0m.1-20.3h0m0 4.2h0m0 5.7h0m0 .3h0m0 2.9h0m0 3.6h0m.1-23.8h0m0 21.3h0m.1-31.6h0m0 7.2h0m0 20.1h0m.1-26.2h0m0 11h0m0 9.8h0m0 8.4h0m.1-33.3h0m0 8.3h0m0 5.1h0m0 9.5h0m.1-19.9h0m0 13.6h0m.1-5.8h0m0 3h0m0 6.7h0m0 .9h0m0 18.2h0m0 1.3h0m0 1.3h0m.1-39.6h0m0 1.9h0m0 16.8h0m0 21h0m.1-42.9h0m0 1.6h0m0 5h0m0 8.9h0m0 10.3h0m0 1.1h0m.1-26.2h0m0 3.6h0m0 1.8h0m0 5.1h0m0 7.3h0m0 5.2h0m0 .7h0m0 16.8h0m.1-33.4h0m0 13.9h0m0 13.9h0m.1-27.4h0m0 6.4h0m0 8.9h0m0 1.3h0m0 13.8h0m0 4h0m.1-5.1h0m.1-34.2h0m0 1.8h0m0 1.6h0m0 10.5h0m.1-10h0m0 6.3h0m0 29h0m.1-35.2h0m.1 13.1h0m0 19.8h0m.1-9.5h0m.1-26.1h0m0 2.6h0m0 7.8h0m0 13.3h0m0 4.8h0m.1-22.8h0m0 7.8h0m0 7.1h0m0 9.9h0m0 1.3h0m.1-.3h0m.1-23.9h0m0 2.2h0m0 10.1h0m0 11.7h0m0 5.1h0m.1-33.9h0m0 12.3h0m0 16h0m0 6.2h0m.1-18.1h0m.1-23.1h0m0 7h0m0 13.8h0m0 .3h0m.1-21h0m0 24.6h0m.1 14.6h0m.1-16.2h0m0 8.9h0m.1-28h0m0 1h0m0 6.8h0m0 20h0m.1-29h0m0 33.4h0m.1-6.1h0m0 8.8h0m.1-37.2h0m0 2.1h0m0 6.2h0m.1 10.2h0m0 19.1h0m.1-33.9h0m0 2.1h0m0 .9h0m0 5.6h0m.2-9.6h0m0 0h0m0 7h0m0 6.7h0m0 .7h0m0 8.5h0m.1-24.1h0m0 3h0m0 15.7h0m.1 12.9h0m0 4.8h0m.2-32.7h0m0 25.4h0m0 .6h0m0 .9h0m.1-18.2h0m0 12.4h0m.1-16.6h0m0 20.7h0m0 2.3h0m0 3.3h0m.1-29.1h0m0 3.8h0m0 7.4h0m0 2.4h0m0 16.3h0m.1-30.2h0m0 12.4h0m.1-14.8h0m0 4.4h0m.1 25.4h0m.1-23.9h0m0 7.9h0m.1-13.1h0m0 1.5h0m0 21.9h0m0 6.8h0m.1-28.7h0m0 7.4h0m0 20.8h0m0 3.6h0m.1-17.8h0m0 8.5h0m.1-27.7h0m0 2.2h0m0 .7h0m0 6.1h0m0 10.1h0m0 9.9h0m0 5.7h0m.3-24.6h0m0 21.2h0m0 1.2h0m.2-15.3h0m0 8.5h0m.1-16.8h0m0 8.4h0m0 5.9h0m0 1.5h0m.1-25.4h0m0 4.4h0m0 8.3h0m0 .1h0m0 17.8h0m.1-26.1h0m0 1.9h0m0 2.4h0m.1-7.8h0m0 4.3h0m0 30.3h0m.1-22.1h0m0 4.7h0m0 2.5h0m0 12.1h0m0 0h0m.1-27h0m0 6.1h0m0 22.5h0m0 1.8h0m.1-36.5h0m0 3.3h0m0 20.1h0m0 5.1h0m0 6.6h0m0 2.1h0m.1-33.2h0m0 4.2h0m0 5.7h0m0 11h0m0 9.3h0m.1-26.5h0m0 19.1h0m0 8.9h0m.1-27h0m0 1.6h0m0 0h0m0 7.3h0m.1-.8h0m0 2.2h0m.1-12.7h0m0 8.9h0m.1-12h0m.2 14.3h0m0 1.5h0m0 3.8h0m.1-6.7h0m0 10.6h0m0 7.8h0m.1-31.7h0m0 10.1h0m0 2.7h0m0 8.2h0m0 3.5h0m.1-25.7h0m0 6.5h0m0 14.6h0m0 8.4h0m0 1.8h0m0 1.8h0m.1-23.8h0m.1-8.5h0m0 0h0m0 3.7h0m0 6.4h0m0 15.9h0m.1-18.6h0m.1-2.8h0m0 29h0m.1-31.3h0m0 29h0m0 1.7h0m.1-25.4h0m0 10.7h0m.1-13.6h0m0 13.2h0m.1 4.8h0m0 2.9h0m0 5.8h0m.2-12h0m0 .4h0m.1-17.3h0m0 15h0m0 2.5h0m0 11.2h0m.1-30.1h0m0 6.7h0m0 12.1h0m.1-3.1h0m.1-.5h0m.1-12.5h0m0 9.6h0m0 10.6h0m0 4.1h0m.2-24.3h0m0 3.5h0m0 6.4h0m.1-10.9h0m0 4.7h0m0 1.3h0m0 13.1h0m0 7.6h0m.1-18.6h0m.1-9.5h0m0 5h0m0 0h0m0 15.7h0m.1-15.6h0m.1 5.3h0m0 9.8h0m.1-3h0m.1-9.8h0m0 9h0m0 4.6h0m.1-12.2h0m.1-6.1h0m0 9.4h0m0 1.4h0m0 1.7h0m.1 6.5h0m.3-9.5h0m0 2.9h0m0 1.7h0m0 1.3h0m0 10.2h0m.1-11.1h0m0 3.7h0m0 1.8h0m.1-18.7h0m0 5h0m.2-7.7h0m0 17.2h0m.1-9.9h0m0 16.5h0m.1-4.2h0m0 6.6h0m.1-21.6h0m0 2.5h0m.1 5.3h0m0 7h0m.1-10.7h0m0 17.6h0m.1-20.5h0m.1-.8h0m0 14.1h0m0 5.1h0m.1-22.6h0m.1 15.1h0m0 .6h0m.1-11.1h0m0 7.4h0m0 10.6h0m.2-10.1h0m0 10.2h0m.1-19h0m0 10.2h0m.1 6h0m.1-13.5h0m0 12.3h0m.1-10h0m0 2h0m0 12h0m.1-15.1h0m0 3.6h0m.1-6.2h0m0 18.1h0m.1-22.2h0m0 4h0m0 3.9h0m0 .3h0m.2 13.4h0m.2-4h0m.1-11.4h0m.2 9.4h0m.1-2.2h0m.1 6.4h0m.1-17.5h0m0 4.3h0m0 13.1h0m.1-14.6h0m.1 10.6h0m.1-8.4h0m.2-2.9h0m0 2.3h0m0 .8h0m0 2h0m0 2.2h0m0 .5h0m.1-.1h0m.1 4.6h0m.3-2.9h0m.1-6h0m.3 1.7h0m.1 .7h0m7.5 2h0m.7-.7h0m0 4.3h0m.3-4.8h0m.3-3.5h0m0 2h0m.2-1.3h0m.3 2.8h0m0 .7h0m.1 6.9h0m.1-4.6h0m.1-11.8h0m0 15.2h0m.1-15.2h0m0 3.4h0m0 .1h0m0 0h0m0 9.9h0m.1-7.9h0m0 11.8h0m.1-14.8h0m0 1.5h0m0 3.7h0m.1-5.6h0m0 17.7h0m.1-18.7h0m.1 9h0m.2-4.3h0m.2-7.4h0m0 2.2h0m0 .8h0m0 7.1h0m.1-8.6h0m0 3.5h0m.1 4.3h0m.1-2.8h0m0 3.4h0m.1-5.2h0m.1-3.6h0m0 12.3h0m.1-11.5h0m.1 0h0m0 .7h0m0 11.4h0m.1-7.5h0m0 3.9h0m0 2h0m.1-13h0m0 18h0m.1-2.9h0m0 8h0m.1-20.6h0m.1 6.1h0m0 4.4h0m.1-14h0m0 10.1h0m0 12.4h0m.1-22.8h0m0 4.8h0m.1 11.3h0m0 7.3h0m0 2.3h0m.1-21.3h0m0 17.5h0m.1-13.1h0m0 1.2h0m0 4.6h0m0 1.5h0m0 1.6h0m.1-12.2h0m0 18.7h0m.1-23.9h0m0 2.2h0m.1 2.7h0m0 3.9h0m0 .2h0m0 13.9h0m0 2.3h0m.1-23.1h0m.1 .2h0m0 3.8h0m0 5.5h0m0 .2h0m.1 .2h0m0 0h0m0 4.5h0m.1-16.5h0m0 7h0m.1 18.1h0m.1-24.6h0m0 3.6h0m0 2.3h0m.1 5.9h0m0 0h0m0 4.6h0m.1-9.6h0m0 6.5h0m0 9.8h0m.1-20.6h0m0 1.8h0m0 4.3h0m0 6.8h0m0 7.8h0m.1-16.6h0m0 10.6h0m0 7.9h0m.1-23h0m0 14h0m.1-9.5h0m0 14h0m.1-15.9h0m0 14.1h0m0 7.5h0m.1-12.6h0m0 1.3h0m0 5.9h0m.1-7h0m0 7.9h0m0 2.2h0m.1-26.4h0m0 7.7h0m0 1.1h0m.1-4.8h0m0 20.7h0m.1-14.6h0m.2-2.5h0m0 1.7h0m.1-5.7h0m0 .9h0m0 2.8h0m0 3.6h0m0 1.5h0m0 2.4h0m0 8h0m.1-18.1h0m0 1.2h0m0 .5h0m0 5.9h0m0 .5h0m.1-9.9h0m0 4.4h0m0 .4h0m0 2h0m0 3.2h0m.1-6h0m0 2.3h0m.1-2.9h0m0 3.5h0m0 18.6h0m.1-13.5h0m0 10.5h0m.1-25h0m0 13.8h0m0 7.8h0m.1-9h0m0 15.7h0m.1 .4h0m.1-23.3h0m0 1.5h0m0 5.8h0m.1-5.9h0m.1-6.3h0m0 2.6h0m0 2.7h0m0 11.2h0m.1 0h0m0 5.6h0m.1-17h0m0 13.7h0m0 2.4h0m0 3.4h0m0 3h0m.1-19h0m0 1.2h0m0 .9h0m0 6h0m0 12.2h0m.2-28.5h0m0 5.8h0m0 2.5h0m0 4.6h0m0 8.8h0m.1-21.7h0m0 1.5h0m0 9.5h0m0 4.4h0m0 9.5h0m.1-19.6h0m0 4.7h0m0 3.8h0m.1-9.4h0m0 1h0m0 2.8h0m0 .9h0m0 .4h0m0 1.5h0m0 .5h0m0 3.6h0m.1-15h0m0 2.1h0m0 7.5h0m0 5.5h0m.1-17.3h0m0 6.7h0m0 4h0m0 14h0m.1-18.9h0m0 1.6h0m.1-6.9h0m0 6.5h0m0 .5h0m0 5h0m0 1.4h0m.1-4.6h0m0 7.4h0m0 .5h0m0 5.9h0m.1-16.5h0m0 .4h0m0 7.5h0m0 7.3h0m0 8.8h0m.1-17.1h0m.1-1.9h0m0 1.6h0m0 2.3h0m0 2.6h0m.1-15.7h0m0 8.1h0m0 .7h0m0 5.2h0m0 13.6h0m.1-16.7h0m0 2.3h0m0 4.7h0m0 2h0m.1-8.4h0m0 10.1h0m.1-19.7h0m0 7h0m0 16.4h0m.1-26.6h0m0 4.6h0m0 2.3h0m0 1.1h0m0 .6h0m0 5.6h0m0 2.8h0m0 12.1h0m.1-23.7h0m0 1.1h0m0 11.6h0m0 9.3h0m.1-18.5h0m0 7.7h0m0 .9h0m0 13.2h0m.1-32.1h0m0 3.7h0m0 6.3h0m0 5h0m.1-3.8h0m.1-3.1h0m0 1.5h0m0 1.9h0m0 13.5h0m.1-18.7h0m0 4.5h0m0 .6h0m0 7.2h0m.2-13.3h0m0 2h0m0 .7h0m0 6.5h0m0 .6h0m0 8.2h0m0 2.4h0m.1-18.5h0m0 .5h0m0 3.2h0m0 11h0m.1-22.3h0m0 18.1h0m.1-6.3h0m0 8.9h0m0 5.9h0m0 .5h0m.1-27.8h0m0 7.5h0m0 11.3h0m0 12.3h0m0 2h0m.1-29.6h0m0 10h0m0 .5h0m0 .9h0m0 3.6h0m0 5.2h0m.1-23.3h0m0 3.7h0m0 5.6h0m0 4.1h0m0 .4h0m.1-12.4h0m0 1.9h0m0 1h0m0 5.5h0m0 4.9h0m0 1.1h0m0 1.7h0m0 .4h0m.1-13.3h0m0 8.6h0m0 2h0m0 .3h0m0 5.4h0m.1-6.7h0m0 4.7h0m0 2.2h0m.1-13.5h0m0 3.4h0m0 1h0m0 4.3h0m.1-16.9h0m0 17.7h0m0 1.6h0m0 2.9h0m0 5.8h0m.1-25.3h0m0 2.9h0m0 2.6h0m0 2.7h0m0 .9h0m0 3.1h0m0 2h0m0 4.4h0m0 6.8h0m.1-14.7h0m0 3.1h0m0 .5h0m0 8.5h0m.1-13.8h0m0 5.6h0m0 .3h0m.1-10h0m0 2.3h0m.1-7h0m0 8.6h0m0 1.6h0m0 1.5h0m0 5h0m0 1h0m0 11.5h0m.2-29.1h0m0 5.2h0m0 6.8h0m0 5h0m.1-12.7h0m0 3.9h0m.1-7.9h0m0 10.7h0m0 4.2h0m0 .7h0m.1-14.2h0m0 9.4h0m0 19.5h0m.1-32.2h0m0 7h0m0 5.9h0m.1-7.2h0m0 .8h0m0 2.3h0m0 9.7h0m0 2.5h0m0 3.8h0m.2-23.9h0m0 2.7h0m0 .5h0m0 .1h0m0 27.3h0m.1-32.7h0m0 4.6h0m0 1.4h0m0 3.2h0m0 17.3h0m0 .7h0m0 2.6h0m.1-26h0m0 8.9h0m.1-4h0m0 .5h0m0 12h0m.1-19.5h0m0 3.1h0m0 18.4h0m.1-22.4h0m0 5.5h0m0 2.7h0m0 4.2h0m0 .7h0m0 1h0m0 3.6h0m0 3.4h0m0 1.7h0m0 7.2h0m.1-19.5h0m0 1.3h0m0 7.7h0m.2-16.6h0m0 13.3h0m0 .6h0m0 5.1h0m.1-14.9h0m0 6.6h0m.1-11.6h0m0 7h0m0 6.5h0m0 5.2h0m0 1.8h0m0 3.7h0m0 1.1h0m.1-26.5h0m0 8.6h0m0 3.2h0m0 2.3h0m0 .2h0m0 1.6h0m.1-9.3h0m0 11.5h0m0 9.6h0m.1-25h0m0 4.7h0m0 1h0m0 11.1h0m0 .7h0m0 .3h0m.1-17.3h0m0 7h0m0 3.6h0m.1-.3h0m0 1.8h0m0 1.3h0m.1-4.4h0m0 .4h0m0 1.1h0m0 2.5h0m.1-6.7h0m0 18.4h0m.1-28.7h0m0 8.2h0m0 3.8h0m0 2.1h0m.1-6.4h0m0 5.7h0m0 3.3h0m0 4.8h0m.1 .2h0m.1-8.9h0m0 4.6h0m0 1.9h0m.1-16.4h0m0 7.5h0m0 7h0m0 10.4h0m.1-21.1h0m0 10.2h0m.2 2.3h0m0 11.3h0m.1-18.9h0m0 2.2h0m0 3h0m0 9.7h0m.1-20h0m0 5.3h0m0 4h0m.1-3.1h0m0 7.6h0m0 0h0m.1-17h0m0 1.5h0m.1 7.4h0m0 1.3h0m0 6.2h0m.1-9.6h0m0 7.3h0m0 1.5h0m0 3.6h0m.1-10.6h0m0 .5h0m0 14.3h0m.1-24.8h0m0 5.2h0m0 2.1h0m0 12.1h0m0 .6h0m.1-14.4h0m0 8.7h0m.1 12.6h0m0 .9h0m.1-22h0m0 2.7h0m.1 15h0m0 4.8h0m.1-20.8h0m0 4.8h0m0 10.9h0m.1-19.4h0m0 1.6h0m0 11.7h0m0 4.1h0m0 6.7h0m.1-11h0m0 6.3h0m0 2.5h0m.1-15.8h0m0 3.3h0m0 10h0m.1-19.8h0m0 .2h0m0 3.9h0m0 3.5h0m0 .9h0m.1-8.3h0m0 6.7h0m0 18h0m.1-30.1h0m0 10.1h0m0 3.5h0m0 6.8h0m.1-15.5h0m0 4.6h0m0 1.2h0m0 .1h0m.1 2h0m0 3.5h0m0 11.3h0m.1-22.4h0m0 5h0m0 9.5h0m.1-8.6h0m0 12.4h0m0 7.8h0m.1-23.3h0m0 2.4h0m0 4.9h0m0 9.3h0m.1-15.5h0m0 2.3h0m0 7h0m0 1.6h0m0 11.1h0m.2-2.6h0m.1-18.4h0m0 9h0m.1-14.5h0m0 7h0m0 1.8h0m0 14.2h0m.1-17.7h0m.1 3.7h0m.1 14h0m.1-17.2h0m0 1.3h0m0 4.5h0m0 2.8h0m.1-10.5h0m0 .2h0m0 .6h0m0 7h0m.1 2.7h0m0 7.6h0m.1-15.6h0m.1 14.7h0m.1-10.1h0m0 .4h0m.1 8.1h0m.1-5.8h0m0 6.3h0m.1-17.6h0m0 12.5h0m.1-9.3h0m0 3.3h0m0 9.7h0m0 3.6h0m.1-9.7h0m.1-5.7h0m0 13h0m0 .6h0m.1-17.2h0m0 12.8h0m.1-12.4h0m0 10.7h0m.1-8.4h0m0 8.4h0m0 6.2h0m.1-16h0m0 .1h0m0 3.6h0m0 .3h0m0 3.8h0m.1 .2h0m0 4.3h0m.1 3.5h0m.3-8h0m.1 11.8h0m.1-15.1h0m0 13.7h0m.1-19.9h0m0 16.2h0m.1-18.4h0m0 5h0m0 15.8h0m.1-8.5h0m0 4.4h0m.1 .6h0m.2-2.1h0m0 2.1h0m0 1.4h0m0 .4h0m.1-3.1h0m.1-3h0m.1-8h0m0 4.9h0m.1-10.9h0m0 22.9h0m.4-15.4h0m.1 3.3h0m0 5.4h0m0 4.5h0m.3-19.3h0m0 .4h0m0 1.7h0m.1 7.3h0m.1-7.2h0m0 11.2h0m.1-9.9h0m.1 11.9h0m.1-3.6h0m0 8.1h0m.1-8.7h0m.1-7h0m0 .8h0m0 4.2h0m.1 5.5h0m.2-10.4h0m0 5.7h0m0 1.5h0m.1-2.7h0m.1 5h0m.1-11.9h0m0 11.3h0m.1-1.8h0m.1 .1h0m.1-8.3h0m.1 4.3h0m.1 4.3h0m.8-5.4h0m0 6.7h0m2.6-8.6h0m.2 26.2h0m.1 1.6h0m1.6-21.8h0m.1-17h0m.1 28.6h0m1.4-22.1h0m.5 31.1h0m.2-33h0m.6 .3h0m0 31.3h0m.2-22.9h0m.2 12.2h0m1.1-14.7h0m.1-1.1h0m0 21.3h0m.4-1.4h0m.4-3.8h0m.3 13.5h0m.6-25.2h0m.1-4h0m.3 15.9h0m.1-18.9h0m.9-5.7h0m.1-1.5h0m.1 .4h0m.2 42.9h0m.1-22h0m.4 7h0m0 16h0m.2-11.2h0m.6-30.1h0m.3-1.8h0m.3 18.3h0m.1-4.2h0m.2-2.4h0m.1 .4h0m0 .8h0m0 1.3h0m0 5.8h0m0 7.8h0m.2-19.5h0m0 19.7h0m.1-11h0m0 .8h0m.1-4.7h0m.3-.8h0m0 23.9h0m.6-21.9h0m.2-4.2h0m0 6.9h0m.1-6.1h0m0 11.9h0m.1-12.6h0m0 11h0m.2-5.9h0m0 8.2h0m0 8.8h0m.1-5.9h0m.2-18h0m0 10.1h0m.1-1.5h0m.1-4.5h0m0 9.9h0m.2-7.4h0m0 12.6h0m.2-4.1h0m.1-6h0m.1 13.5h0m.1-21.6h0m.1-3.8h0m0 16.7h0m.1 1.7h0m0 9.1h0m.1-6.8h0m.1-10.3h0m0 7.8h0m.3-11.6h0m0 5.7h0m.1-2.8h0m.2-11.2h0m.1 2.8h0m0 23.6h0m.1-22.7h0m.1 10.2h0m0 18h0m.1-14h0m0 4.5h0m0 5h0m0 4.4h0m.1-12.8h0m0 4.7h0m.1-16.9h0m0 11h0m.1 .4h0m.1-4.6h0m0 0h0m0 3.8h0m0 8.2h0m0 6.7h0m.1-25.7h0m.1 3.2h0m0 9.3h0m0 .5h0m.1-18.4h0m0 .5h0m0 30.2h0m.1-26.7h0m.1-1.7h0m0 2.3h0m0 6.7h0m.1-10.2h0m0 3.2h0m0 1.8h0m0 7.4h0m.1 13h0m.2-16.8h0m0 17h0m.2-3.8h0m.1-.1h0m0 3h0m0 0h0m0 .2h0m.1-4h0m0 5.2h0m0 1.4h0m.1-26.6h0m0 12.7h0m0 1.6h0m0 7.8h0m0 .3h0m0 .9h0m0 2.5h0m.1-17.2h0m0 9.2h0m0 5.3h0m0 4.6h0m.1-32.3h0m.1 4.2h0m0 3.9h0m.1 3.6h0m.1-11.6h0m0 7h0m.1-5.2h0m0 .6h0m0 16.4h0m0 15.3h0m.1-28.5h0m0 24.2h0m0 4.7h0m.1-1.8h0m.1-24.7h0m0 .8h0m0 12.3h0m0 7.9h0m0 2.8h0m0 .1h0m0 .2h0m0 .5h0m.1-22.1h0m0 20.4h0m.1-15.6h0m0 8.2h0m0 8h0m0 2h0m0 2.4h0m.1-27h0m0 15.7h0m.1-20.9h0m0 8.7h0m0 9h0m0 6.8h0m.1-13.9h0m0 18.2h0m0 1.9h0m0 1.4h0m.1-23h0m0 10.2h0m0 3.9h0m0 5h0m.1-8.7h0m0 5.6h0m.1-30.2h0m0 13.8h0m.1 19.8h0m.1-34.6h0m0 19.5h0m0 4.6h0m0 10.4h0m0 2.2h0m.1-33.7h0m0 .7h0m0 18.4h0m.1 3h0m.1-22.1h0m0 13.6h0m0 15.1h0m0 1.9h0m0 1.1h0m.1-22.6h0m0 3.7h0m0 12.5h0m0 3.6h0m.1-32h0m0 26.6h0m0 1.2h0m.1-.1h0m0 2.7h0m0 6.4h0m.1-7.7h0m.1-16.7h0m0 24.6h0m.1-16h0m0 9h0m0 .8h0m0 4.4h0m.1-18.8h0m.1-13.7h0m0 13.9h0m.1 11h0m0 12h0m.1-28.5h0m.1 6.3h0m0 .8h0m0 4.2h0m0 11.9h0m0 1.7h0m.1-6.5h0m0 1.2h0m0 3.9h0m0 2.4h0m.1-26.6h0m0 25.3h0m.1-8.3h0m0 .2h0m.2-29h0m0 35.6h0m0 3.9h0m.1-32h0m0 7.1h0m0 21.4h0m0 1.6h0m0 2.9h0m.2-36.7h0m0 17.9h0m0 15.2h0m.1-6.1h0m0 1.6h0m0 6.8h0m.1-35.8h0m0 25.9h0m0 5.1h0m.1-18.4h0m0 16.9h0m.1-27.9h0m0 22.3h0m.1-26h0m0 6.9h0m0 1.9h0m0 29.2h0m.1-19.8h0m0 9.3h0m0 6.4h0m0 4.2h0m.1-20.6h0m0 5.3h0m0 10.1h0m0 5.2h0m.1-33.2h0m0 12.8h0m0 10.5h0m0 8h0m.1-27.9h0m.1-2.9h0m0 16.3h0m0 8.4h0m.1-18.7h0m0 18.8h0m0 1h0m0 1.4h0m.1-10.3h0m0 .7h0m0 16.1h0m.1-35.4h0m0 6.1h0m.1 11.6h0m.1-9.2h0m0 13h0m0 3.4h0m0 7.6h0m.1-27.5h0m0 5.3h0m.2 13.5h0m0 8.1h0m.1-18.3h0m0 14.1h0m.1-29h0m0 12.6h0m0 5h0m.1 8.1h0m0 1.5h0m0 8.8h0m.1-41.1h0m0 3.5h0m0 10.9h0m0 14.1h0m0 5.5h0m.1-13.3h0m0 10.2h0m0 8.2h0m0 4.8h0m.1-43.1h0m0 12.6h0m0 22.2h0m.1-21.1h0m0 .4h0m0 10.3h0m0 2.1h0m0 8.3h0m0 2.7h0m.1-38.3h0m0 14.1h0m0 .5h0m0 .9h0m0 14.3h0m0 13.7h0m.1-13.2h0m0 3h0m0 1.3h0m.1-10.6h0m0 .4h0m0 1.3h0m0 13.2h0m.1-30.7h0m0 27.3h0m.1-13.6h0m0 7.4h0m0 .6h0m0 8.2h0m.1-1.3h0m.1-13.9h0m0 1h0m0 .2h0m0 12h0m0 6h0m.1-17.3h0m0 7.6h0m0 .5h0m0 1.9h0m.1-21.7h0m0 5.4h0m0 2.6h0m0 3.8h0m0 3.3h0m0 9.2h0m.1-22.4h0m0 7.1h0m0 5.6h0m0 2.1h0m0 2.4h0m0 1.9h0m.1-20.7h0m0 3.5h0m0 5.4h0m0 16h0m0 5.4h0m.1-20.1h0m.1-9.1h0m0 16.1h0m0 7.2h0m0 2h0m.1-4.1h0m0 4.2h0m.1-29.5h0m0 16.8h0m0 8.9h0m0 2.1h0m0 .7h0m.1-5.1h0m0 .8h0m0 8.3h0m.1-28.9h0m0 9.9h0m0 10.2h0m0 1.1h0m.1-10.9h0m.1-4.3h0m0 11.8h0m.1-23h0m0 8.3h0m0 5.2h0m0 8.2h0m0 1.4h0m0 1.3h0m.1-33.5h0m0 23.6h0m0 9.8h0m0 3.3h0m0 4.7h0m.1-36.7h0m0 14.3h0m0 .2h0m0 6.3h0m0 4.6h0m0 2h0m0 6.2h0m0 5.4h0m.1-36.5h0m0 3.2h0m0 2.1h0m0 .3h0m0 9.8h0m0 4.9h0m0 6.6h0m0 .9h0m.1-5h0m0 3h0m0 4.4h0m.1-35.7h0m0 24h0m0 9.7h0m0 4.6h0m.1-34.8h0m0 15h0m0 10.8h0m0 1.7h0m0 3.9h0m0 2.2h0m.1-6.6h0m0 11.4h0m0 .1h0m.1-29.6h0m0 23.6h0m0 .2h0m.1-13h0m0 2.9h0m0 8.3h0m.1-32.3h0m0 7.3h0m0 11.6h0m0 6.3h0m0 4.2h0m.1-20.5h0m0 8.3h0m0 6.5h0m0 .8h0m0 5.3h0m0 5.8h0m0 6.4h0m.1-42.6h0m.1 5.8h0m0 6.7h0m0 11.4h0m.1-19.3h0m0 13.8h0m0 6.1h0m0 13.9h0m0 0h0m0 1.8h0m0 .3h0m.1-35.5h0m0 2.7h0m0 8.2h0m0 4.3h0m0 8.9h0m0 4.9h0m0 5.3h0m0 0h0m.1-4.3h0m0 1.3h0m0 0h0m0 5.6h0m.1-12.6h0m.1-7.5h0m0 2.5h0m.1-3.4h0m0 7.2h0m0 3.1h0m0 1.6h0m.1-18.3h0m0 10.6h0m.1-25.8h0m0 4.4h0m0 24.2h0m0 .8h0m.1-4.9h0m0 .2h0m0 5.8h0m0 3.2h0m0 2.7h0m.1-14.7h0m0 5.8h0m0 12h0m.1-19.9h0m0 13.6h0m.1-36.6h0m0 1.3h0m0 18.7h0m0 5.6h0m0 7h0m.1-29.1h0m0 5.7h0m0 9h0m0 5.8h0m.1-12.5h0m0 9.1h0m0 6.3h0m0 4.1h0m.1-24.8h0m0 14.7h0m0 0h0m0 1.7h0m0 10.1h0m0 2.3h0m0 7h0m.1-17.2h0m0 3.3h0m0 10.5h0m0 3.9h0m.1-28.2h0m0 6.2h0m0 3.3h0m0 .8h0m0 2.5h0m0 9.9h0m0 3.3h0m0 1.9h0m0 1.5h0m.1-39.2h0m0 35.6h0m0 2.2h0m0 1.3h0m.1-37.4h0m0 13.1h0m0 11.8h0m0 7.3h0m0 3.9h0m.1-31.7h0m0 7.6h0m0 16.3h0m0 5.9h0m.1-20.4h0m0 16.4h0m.1-20h0m0 11.1h0m0 6.5h0m0 8h0m0 1.6h0m.1-33.4h0m0 10.4h0m0 2.4h0m0 .6h0m0 8.8h0m.1 3.3h0m0 2.9h0m0 4.2h0m.1-24.1h0m0 17.7h0m0 3.2h0m0 4.6h0m.1-39.8h0m0 29.6h0m0 10.4h0m0 2.6h0m.1-44.9h0m0 20.8h0m0 10.3h0m0 .3h0m0 6.7h0m0 2.4h0m.1-29.2h0m0 3.2h0m0 13.2h0m0 3.2h0m0 8h0m.1-24.4h0m0 4.6h0m0 6.9h0m0 3h0m0 4.6h0m0 2.7h0m0 5.3h0m.1-30h0m0 1.3h0m0 5.5h0m0 4.8h0m0 13.1h0m.1-15.4h0m0 21.4h0m.1-12.3h0m0 2.9h0m0 4.5h0m0 1.9h0m.1-38.2h0m0 27.4h0m.1-20.9h0m0 19.5h0m0 2.2h0m0 2.9h0m0 1.8h0m0 2.8h0m0 .5h0m0 1.6h0m0 1.6h0m0 .8h0m.1-5.5h0m.1-8.1h0m.1-6.6h0m0 .8h0m0 2.9h0m0 3h0m0 .3h0m0 3.5h0m0 6.1h0m0 1.4h0m.1-18.7h0m0 .8h0m0 8.2h0m0 1.5h0m.1-27h0m0 16.8h0m0 4.6h0m.1-15.9h0m0 14h0m0 6.3h0m0 6.3h0m0 .3h0m.1-13.1h0m0 12.2h0m0 5.6h0m.1-22h0m0 .2h0m0 13.3h0m0 1.7h0m0 3h0m.1-19.9h0m0 11h0m0 8.4h0m.1-12.3h0m0 .2h0m0 2.6h0m0 1.2h0m0 .7h0m0 .8h0m0 3h0m.1-31.5h0m0 19h0m0 1.5h0m0 10.2h0m0 .2h0m0 .3h0m0 4.4h0m.1-19.3h0m0 7.5h0m0 2.9h0m0 2.3h0m0 5.9h0m.1-31.6h0m0 17.3h0m0 19.2h0m.1-24.1h0m0 2.4h0m.1 3.1h0m0 12.5h0m0 4h0m.1-17.5h0m0 2.5h0m0 5.1h0m.1-10.5h0m0 4.7h0m.1-18.2h0m0 27.7h0m0 .4h0m0 3.4h0m0 6.3h0m.1-22.5h0m0 10.2h0m0 2.6h0m0 3.2h0m0 4.8h0m.1-28.6h0m0 18.7h0m0 3.8h0m0 4.7h0m.1-30.9h0m0 2.7h0m0 3h0m0 0h0m0 16.3h0m0 1.4h0m.1-11.8h0m0 1.5h0m0 5h0m0 .8h0m0 1.8h0m0 2.8h0m.1-33.4h0m0 5.6h0m0 8.4h0m0 5h0m0 2.2h0m0 8.1h0m0 5h0m0 4.1h0m0 1.4h0m.1-8.5h0m.1-18h0m0 11h0m0 1.6h0m0 .9h0m0 1h0m0 5.7h0m0 .9h0m0 2.8h0m0 2.7h0m0 5.5h0m.1-22.1h0m0 7.3h0m0 9.6h0m0 3.6h0m.1-37.8h0m0 16.3h0m0 7.7h0m0 1h0m0 3.1h0m0 2.1h0m0 .1h0m0 9.2h0m.1-28.9h0m0 12.4h0m0 8h0m.1-34.4h0m0 7.9h0m0 17.8h0m0 3.7h0m0 3h0m.1-8h0m0 .5h0m0 2.2h0m0 11.1h0m0 3.4h0m.1-34.4h0m0 13.2h0m0 .9h0m0 5.9h0m0 3.6h0m0 5.9h0m.1-35.8h0m0 9.5h0m0 8.6h0m0 13.6h0m.1-30.8h0m0 12.9h0m0 13.1h0m0 7.3h0m0 .4h0m0 5.4h0m.1-33.1h0m0 5.7h0m0 2.6h0m0 2.4h0m0 10.6h0m0 .5h0m0 .4h0m.1-33.1h0m0 9.8h0m0 16.9h0m0 4.1h0m0 8h0m.1-29.4h0m0 7h0m0 18.5h0m0 1.6h0m0 1.5h0m.1-31.4h0m0 5.6h0m0 .5h0m0 1.9h0m0 5h0m0 4.1h0m0 5.2h0m.1-26.8h0m0 22.1h0m0 1.3h0m0 8.6h0m.1-12.2h0m0 9.9h0m0 2.1h0m.1-31.8h0m0 40.8h0m.1-23.6h0m0 7.8h0m0 10.7h0m.1-28.3h0m0 14.8h0m0 5.2h0m0 3.7h0m0 2.5h0m.1-36.4h0m0 19.8h0m0 12.8h0m0 0h0m.1-17.3h0m0 28.8h0m.1-13.8h0m0 9.7h0m.1-7.9h0m0 14.9h0m.1-18.1h0m0 1.5h0m0 3.6h0m0 1h0m.1-32.8h0m0 19.8h0m0 1.8h0m0 .1h0m0 4.9h0m0 .2h0m0 1.2h0m0 12.8h0m.1-34.5h0m0 20h0m0 11.3h0m.1-8.4h0m0 4.3h0m.1-35.3h0m0 .3h0m0 18.1h0m0 1.1h0m0 19.9h0m0 3.4h0m.1-20.1h0m0 2.7h0m0 10.3h0m.1-27.3h0m0 28.4h0m0 4h0m.1-14.6h0m0 .5h0m0 1.7h0m0 2.2h0m0 4.3h0m0 .9h0m0 8.2h0m.1-1.4h0m.1-40.3h0m0 1.7h0m0 20.2h0m0 2.7h0m.1 4.3h0m0 5.1h0m0 .4h0m0 5.5h0m0 2.1h0m.1-24.4h0m0 5.4h0m0 12.2h0m0 1.4h0m.1-25.7h0m0 14.1h0m0 2.3h0m.1-14.5h0m0 8.5h0m0 .5h0m0 12.7h0m.1-35.6h0m0 26.5h0m0 12h0m0 1.3h0m0 2.6h0m.1-11.2h0m0 9.1h0m.1-24.1h0m0 12.7h0m0 3.7h0m0 1.1h0m.1-11.4h0m0 8.1h0m0 .1h0m0 3.7h0m0 7.9h0m.1-13.6h0m0 1.2h0m0 10.1h0m.1-30h0m0 14.8h0m.1-14.3h0m0 16.9h0m.1-23.9h0m0 10h0m0 15.1h0m0 2.5h0m0 2.3h0m0 7.7h0m.1-36.1h0m0 3.3h0m0 11.7h0m0 11.9h0m.1-24.2h0m0 22.9h0m0 12.4h0m.1-19.8h0m0 1.7h0m.1-8.7h0m0 7.8h0m0 6.1h0m0 .2h0m0 .1h0m0 11.5h0m0 .6h0m.1-33.4h0m0 9.9h0m0 14.9h0m0 9.1h0m.1-33.6h0m0 17.7h0m.1-15.4h0m0 21.3h0m0 3.4h0m.2-25.1h0m0 18.3h0m0 3.1h0m0 6.5h0m0 .6h0m0 2.1h0m.2-9.6h0m0 5.2h0m0 2.1h0m0 .2h0m.1-11.5h0m.1-17.7h0m0 16.1h0m0 16h0m.1-28.2h0m0 9.7h0m0 2.3h0m0 .1h0m0 4.8h0m.1-16.2h0m0 1.2h0m0 11.1h0m0 8.7h0m0 6.2h0m.1-36.1h0m0 .5h0m0 10h0m0 1.2h0m.1-17.5h0m0 28.3h0m0 9.2h0m.1 3.9h0m.1-41h0m0 2.6h0m0 17.2h0m.1-20.2h0m0 40.1h0m.1-35.1h0m0 5.5h0m0 .3h0m0 2.8h0m0 8.1h0m.1 15.8h0m.2-19.3h0m0 7.3h0m.1-21.1h0m0 25.4h0m0 8.6h0m.1-11.7h0m0 9.7h0m0 2.2h0m.1-37.1h0m0 12.7h0m0 19.2h0m.1-14.9h0m0 2.2h0m0 2.6h0m0 6h0m0 .9h0m0 .7h0m0 2.1h0m0 10.2h0m.1-25h0m0 10.8h0m0 .3h0m0 5h0m0 6.3h0m0 .3h0m.2-32.3h0m0 28.5h0m.1-17.4h0m0 8.3h0m.1-.4h0m0 13.8h0m.1-17.4h0m0 4.2h0m0 11.1h0m.1-36.4h0m0 25.5h0m0 7.5h0m.1-29.9h0m0 1.1h0m0 24.8h0m0 .2h0m.1-13.3h0m0 9.3h0m0 12.1h0m.1 2.5h0m.1-16.3h0m0 12h0m0 1h0m.1-33h0m0 19.5h0m0 .9h0m0 .3h0m0 3.1h0m.1-24h0m0 21.4h0m.1-9.1h0m0 5.7h0m0 4.6h0m0 7.7h0m.1-24.9h0m0 10.1h0m0 2.1h0m0 4.6h0m.1-21.7h0m0 7.4h0m0 3.7h0m0 6.5h0m0 14.6h0m.1-29.6h0m0 2h0m0 6.1h0m0 15.9h0m0 7.1h0m0 .2h0m.1-25.2h0m0 7.3h0m0 15.5h0m0 2.8h0m.1-27.3h0m0 10.9h0m0 2.6h0m0 11.5h0m.1 1.1h0m.1-36.6h0m0 5.7h0m.1 13.3h0m.1 14.1h0m.1-13.1h0m.1 .5h0m0 2.3h0m0 7.8h0m0 .5h0m0 3h0m.1-2h0m0 5.5h0m.1-25.5h0m0 5.5h0m0 19.1h0m.1-26.1h0m0 9.4h0m0 10.7h0m0 .5h0m0 .9h0m0 2.6h0m.1-31.4h0m0 19.3h0m0 .4h0m0 6h0m.1-15.1h0m.1-13.1h0m0 9.6h0m0 3h0m0 9.6h0m0 3.1h0m.1-13.5h0m0 5.8h0m0 10.4h0m0 2.5h0m.1-28.6h0m0 20.6h0m0 .6h0m0 10.4h0m.1-34.2h0m0 4.8h0m.1-5.9h0m0 10.9h0m0 2.2h0m0 16h0m0 8.8h0m.1-36.2h0m.1 31.4h0m0 3.4h0m.1-28.1h0m0 28h0m.1-13.1h0m0 5.6h0m.1-2.7h0m0 4h0m0 .2h0m.1-26.7h0m0 1.3h0m0 15h0m.1 4.4h0m.1-15.2h0m0 26.2h0m.1-18.1h0m.1 14.6h0m.1-27h0m0 2.9h0m0 2.4h0m0 21.2h0m0 4.7h0m.1-27h0m0 15.3h0m.1 5.1h0m0 1.9h0m0 .4h0m.1-25.4h0m0 5.6h0m0 6.5h0m0 5.2h0m0 5.1h0m.1-1.1h0m.1-1.7h0m0 7.5h0m.1-21.7h0m0 8.9h0m0 13.2h0m.1-26.9h0m0 20.2h0m0 3.5h0m.1-2.5h0m0 5.2h0m.1-19.4h0m.1 3.4h0m0 3h0m0 4.4h0m0 7.7h0m.1-18.1h0m0 19.2h0m0 1.2h0m0 1.1h0m.2-16.5h0m0 9.3h0m.1-9.6h0m0 5.1h0m0 4.6h0m0 .9h0m.1-11.8h0m0 14.5h0m.1-27.7h0m0 24.3h0m.2 .4h0m0 0h0m0 2h0m0 2h0m.1-29.5h0m0 4.7h0m0 20.2h0m0 .2h0m.1-2.6h0m.2-17.3h0m.1-3.9h0m.1 27.7h0m.1-25.2h0m0 8.2h0m0 18.8h0m.1-4h0m0 2.9h0m.1-23.2h0m.1-5.2h0m0 12.3h0m.1-11.3h0m0 .7h0m.1-.2h0m0 26.9h0m.1-14.6h0m0 9.7h0m0 5.2h0m.1-25.9h0m0 15h0m0 7.7h0m.1-2h0m.1-1.4h0m.1-15.7h0m.1 1.6h0m0 16.7h0m.1-24.6h0m0 22h0m.2-8.9h0m.1-11.9h0m0 7h0m.1 16.9h0m.1-18.1h0m.3 .2h0m.1-1.3h0m.1-3.5h0m.1 13.4h0m.1-5.9h0m0 13.4h0m.3-12.1h0m0 8.6h0m.2-9.6h0m.4 4.6h0m.2-4.2h0m.1 4.3h0m.1 .8h0m.1-10.5h0m.1 7.7h0m.1-.3h0m0 1.3h0m.1-4.7h0m0 5.4h0m.1 3h0m.2 .7h0m.7-2.8h0" stroke="#1f9f4a" stroke-width="0.8" stroke-linecap="round" fill="none"/>
<text x="315.5" y="299.2" font-size="10.2" fill="#231f20" text-anchor="middle">PBS</text>
<text x="407" y="299.2" font-size="10.2" fill="#231f20" text-anchor="middle">LADD</text>
<text x="369" y="233.4" font-size="7.5" fill="#231f20" stroke="#231f20" stroke-width="0.22" font-weight="bold">Teff_2</text>
<line x1="375" y1="235.5" x2="378.03" y2="242.31" stroke="#111" stroke-width="0.7"/>
<path d="M379,244.5 L377.02,242.75 L379.03,241.86 Z" fill="#111"/>
<text x="369" y="286" font-size="7.5" fill="#231f20" stroke="#231f20" stroke-width="0.22" font-weight="bold">Teff_1</text>
<line x1="373" y1="279" x2="376.21" y2="269.77" stroke="#111" stroke-width="0.7"/>
<path d="M377,267.5 L377.25,270.13 L375.17,269.41 Z" fill="#111"/>
<text x="462.8" y="220" font-size="12.5" fill="#231f20">k</text>
<text x="514.5" y="221.6" font-size="11.8" fill="#e05656" text-anchor="middle">V&#946;13V&#945;2</text>
<rect x="471.5" y="224.4" width="94.3" height="1.5" fill="#e87470"/>
<rect x="471.5" y="227" width="94.3" height="61.7" fill="#fff" stroke="#a0a0a0" stroke-width="0.6"/>
<path d="M472.6 254h0m.1-1.2h0m.1 .7h0m.3 5.5h0m.1-6.4h0m0 5.6h0m.1-4h0m0 2.9h0m.1-4.8h0m0 2.7h0m.1 5h0m.1-1h0m.1-.5h0m.1-7.3h0m.2 8.2h0m.2-4.8h0m.2 7.7h0m.1-5.8h0m0 4.3h0m.1-7.3h0m.3-2.9h0m.1-1.4h0m.1-2.6h0m.1 13.1h0m.1 2.9h0m.1-15.6h0m0 8.7h0m.3-3.7h0m0 9.1h0m.2-11.5h0m0 9.9h0m.1-10.9h0m.1-3.9h0m0 20.8h0m.1-19.3h0m0 13.6h0m.2 1.7h0m.1-14.5h0m0 13.6h0m0 3.8h0m.1-19.5h0m0 .7h0m.1 3.9h0m0 1.3h0m.2 2.7h0m.1 4.8h0m0 4.6h0m.1-19.5h0m0 15.3h0m.1-11.8h0m0 10.5h0m0 2.3h0m.1-3.4h0m0 2.2h0m0 .3h0m0 1.8h0m.2-9.6h0m0 5.4h0m.1-4h0m.2 4.2h0m0 4h0m0 .3h0m.1-15.1h0m0 14.7h0m.1 6.1h0m.1-19.7h0m.1-2.4h0m.1 4.9h0m.1 3.1h0m0 6.6h0m0 2.5h0m.1-4.7h0m0 3.4h0m0 5.5h0m0 .2h0m0 1.1h0m.1-18h0m0 7.9h0m.2 9h0m.1-23.6h0m0 6.2h0m0 11.1h0m.1-8.5h0m.1-9h0m0 17h0m0 6.1h0m.1 2.2h0m.1-6.7h0m0 4.5h0m.1-18.1h0m0 5h0m0 8.3h0m0 4.1h0m.1-7h0m.1-8.2h0m0 4h0m0 12.6h0m.1-23.4h0m0 9.5h0m0 16.5h0m.1-19h0m0 2.3h0m0 16h0m.1-25h0m0 3.1h0m0 4.2h0m.1-7h0m0 1.3h0m0 8h0m0 4.4h0m0 .5h0m0 2.1h0m0 .5h0m0 .1h0m0 7.6h0m.1-9.2h0m0 1.8h0m.1-16.3h0m0 1.9h0m.1 8.4h0m0 3.8h0m.1-16.2h0m0 14.7h0m0 8.3h0m0 .7h0m.1 .5h0m.2-3.4h0m.1-15.2h0m0 .5h0m.1-3h0m0 6.9h0m.1-10.9h0m0 6.4h0m0 3.1h0m0 .8h0m0 8.3h0m0 2.4h0m.1-21.2h0m0 10.1h0m0 2.3h0m0 16.4h0m.1-20.7h0m0 4h0m0 1.6h0m.1-13.4h0m0 19h0m0 5.1h0m0 2.5h0m.1-13.9h0m0 13.3h0m.1-18.5h0m0 18.8h0m.2-24.7h0m0 17h0m.1-13h0m0 3.2h0m0 2.7h0m.1 10.8h0m0 4.6h0m.1-22.6h0m0 10.3h0m.1 5.3h0m0 .9h0m0 3.7h0m0 .3h0m.1-23.1h0m0 11.4h0m0 14.7h0m.1-17.1h0m0 4h0m0 .8h0m.1-4.4h0m0 3.1h0m0 13.6h0m.1-16.1h0m.1-11.9h0m0 1.1h0m0 26.9h0m.1-14.2h0m0 2.9h0m0 6.2h0m.1-16.7h0m0 13.1h0m0 5.9h0m0 .5h0m.1-14.6h0m.1-12.1h0m0 14.5h0m0 1.4h0m.1 .7h0m0 .5h0m.2-14.7h0m0 8.3h0m0 2.6h0m0 .4h0m0 .1h0m0 8.7h0m.2-9.1h0m0 3.2h0m0 1.4h0m0 0h0m0 8.7h0m.2-26h0m0 1.9h0m0 2.7h0m0 22.5h0m.1-19.6h0m0 15.6h0m.1-14.5h0m0 5.2h0m.1-7.4h0m0 .9h0m0 3.1h0m0 17.2h0m.1-14.7h0m0 1.2h0m0 .5h0m0 2.4h0m0 1.7h0m.1-4.4h0m0 3.3h0m0 2h0m.1 5.7h0m.1-21.1h0m0 1h0m0 .6h0m0 1.1h0m0 17.4h0m.1-17.2h0m0 4.8h0m0 1.6h0m0 .7h0m0 1.8h0m0 9.3h0m.1-15.1h0m0 2.8h0m0 10.6h0m.1-17.9h0m.1-2.2h0m0 .4h0m0 4.6h0m.2-9.1h0m0 .8h0m0 8.1h0m.1 19h0m.1-25.6h0m0 7.6h0m.2 6.6h0m.1-10.6h0m0 15.4h0m.1-6.9h0m0 3h0m0 .7h0m0 2.1h0m.1-6.9h0m0 3h0m0 11.8h0m0 2.6h0m.1-28.5h0m0 2.6h0m0 8.8h0m0 .2h0m.1-1.2h0m0 8.7h0m.1-20.4h0m0 7.8h0m0 1.3h0m0 17.4h0m.1-10.2h0m0 1.2h0m0 1.7h0m0 11.2h0m.1-27.2h0m0 1h0m0 1.7h0m0 9.8h0m0 2.7h0m0 7.3h0m.1-7.2h0m.1-9.2h0m0 9h0m.1-5.5h0m0 8.3h0m.1-12.2h0m0 1h0m0 11.6h0m.1-3.5h0m0 6.7h0m.1-3.5h0m0 .5h0m.1-22.2h0m.1 .6h0m0 14.2h0m.1-15.2h0m0 2.5h0m0 10.9h0m0 1.8h0m0 .4h0m.1-6.7h0m0 4.9h0m0 2h0m0 14.1h0m.1-20.6h0m0 0h0m0 2.8h0m.1-5.8h0m0 11.3h0m0 1.5h0m0 3.3h0m0 2.6h0m.1-8.3h0m0 9.6h0m.1-27.2h0m0 12.1h0m0 14.4h0m0 3.7h0m.1-28.3h0m0 6.6h0m0 13.7h0m0 6.1h0m.1-24.7h0m0 23.6h0m.1-17.6h0m0 3.9h0m0 1.4h0m0 .3h0m0 .3h0m0 7.2h0m0 6h0m.1-23.4h0m0 11.5h0m0 6.9h0m.1-7.8h0m0 12.8h0m.1-13.7h0m0 3.3h0m0 .6h0m0 12.1h0m0 1h0m.1-9.3h0m0 5.3h0m.1-27.8h0m0 10.8h0m0 15.7h0m0 .2h0m.1-19.1h0m0 0h0m0 9.2h0m0 11.5h0m0 3.6h0m.1-25h0m0 2.2h0m.1-9.7h0m.1 .5h0m0 4.6h0m0 .3h0m0 .2h0m0 2.9h0m0 16.9h0m.1-17.9h0m0 9h0m0 2.1h0m0 1.9h0m.1-19.8h0m0 5h0m0 9.5h0m0 15.9h0m.1-24.1h0m0 4.8h0m0 15.9h0m.2-10.1h0m0 .9h0m0 3.9h0m.1-17h0m0 3.4h0m0 6.2h0m0 1.3h0m0 .8h0m.1-13.9h0m0 16.1h0m0 2.7h0m0 2.9h0m.1-23h0m0 7.6h0m0 1.9h0m0 11.1h0m.1-8.5h0m.1-14h0m0 10.4h0m0 7.3h0m.2-13.3h0m0 15h0m0 3.2h0m0 9.3h0m0 .3h0m0 .2h0m.1-31.6h0m0 7.7h0m0 6.8h0m0 .9h0m0 13.7h0m0 2h0m.1-28.4h0m0 3.8h0m0 6.8h0m0 2.8h0m0 10.4h0m.1-17.1h0m0 .9h0m0 19.5h0m.1-26.5h0m0 2.4h0m0 10.6h0m.1 8.1h0m0 1h0m0 .2h0m0 2.7h0m0 1.4h0m.1-12.5h0m0 .8h0m.1-12.3h0m0 6.1h0m0 13.7h0m0 .6h0m.1-22.7h0m0 3h0m0 11h0m0 .3h0m0 3.2h0m.1-19.3h0m0 .1h0m0 9.8h0m0 10.8h0m.1 3.2h0m0 3h0m.1-27.7h0m0 10.5h0m0 5.9h0m.1-6.4h0m0 5.2h0m0 6.6h0m0 3.6h0m0 2.5h0m.1-2h0m.1-22.8h0m0 5.6h0m.1-7.5h0m.2 2.5h0m0 0h0m0 3.8h0m0 1.6h0m.1-3.3h0m0 16.7h0m.1 1h0m0 4.4h0m.1-26.3h0m0 11.7h0m0 10.2h0m.1-16.4h0m0 1.2h0m0 5.1h0m0 7.7h0m0 2.3h0m.1-22.9h0m0 18.5h0m.1-13.1h0m0 1.5h0m0 10.8h0m.1-18.3h0m0 7.8h0m0 2.5h0m.1-.8h0m0 2.4h0m.1-10.6h0m0 28.3h0m.1-29.3h0m0 5.2h0m0 6.9h0m0 5.5h0m.2-5.1h0m.1-.1h0m0 1.2h0m0 3.4h0m0 9.2h0m0 .3h0m.1-25.6h0m0 10.6h0m.2-12h0m0 3.4h0m0 13.7h0m0 5.2h0m.1-20.8h0m.1-.5h0m0 3.4h0m0 25.6h0m.1-29.4h0m0 16.9h0m0 1.7h0m0 9h0m.1-25.8h0m0 1.2h0m0 11.9h0m.1-14.2h0m.1 3.6h0m0 7.6h0m0 6.9h0m0 9.5h0m.1-19.8h0m0 .8h0m0 11.8h0m0 1h0m0 2.5h0m.1-23.3h0m0 2.2h0m0 19.4h0m.1-5.4h0m.1-10.7h0m0 1.1h0m0 11.2h0m0 4.3h0m.1-23.1h0m0 25.8h0m.1-26h0m0 6.6h0m0 5.4h0m0 1.4h0m0 13.5h0m.1-10h0m0 3h0m0 8.6h0m.1-27h0m0 3.3h0m0 9.9h0m.1-.3h0m.1-12.4h0m0 1.1h0m.1 15.6h0m0 5.7h0m.1-5.1h0m0 3.3h0m0 5.3h0m.4-21.2h0m0 4.4h0m0 11.6h0m0 .5h0m0 2.4h0m.1-9.6h0m0 2.7h0m0 1.5h0m.1 5.9h0m0 2.4h0m.1-13.6h0m0 2.4h0m0 10.3h0m.3-18.1h0m.1-7.3h0m0 13.5h0m0 6.7h0m.1-18.4h0m0 5.4h0m.1-7.8h0m0 4.9h0m0 1.8h0m0 2.3h0m0 2.8h0m.1-4.2h0m0 8.8h0m.2-13.9h0m0 15.3h0m.2-11.9h0m0 4.5h0m0 .9h0m0 9.6h0m0 1.7h0m.1-14.5h0m0 3.1h0m0 6h0m.2 3.4h0m0 2.9h0m.1-21.6h0m0 6.9h0m0 3.3h0m.2-.6h0m0 10.5h0m.1-13.5h0m0 6.3h0m.1-8.3h0m0 18.1h0m.1-9h0m0 3.3h0m.1-8h0m0 3.2h0m0 .8h0m.1-7.8h0m0 7.4h0m0 9.7h0m.1-12.2h0m0 4.7h0m.1-3.4h0m.1-7.7h0m0 6.2h0m0 .1h0m.1-8.6h0m.1 18h0m.2-7.6h0m0 1.4h0m0 .6h0m0 5.1h0m.1-12h0m.1-7.1h0m0 14.4h0m.1 5.2h0m.2-6h0m.1-4.3h0m0 2h0m.1-11.1h0m0 3.6h0m0 2.5h0m0 8.2h0m.1-11.9h0m.1 9.9h0m.1-12.3h0m0 14.8h0m0 6.5h0m.2-1.8h0m.2-11.3h0m.1-6.4h0m.1 13.3h0m.1-3.9h0m.1-2.5h0m.1-7.3h0m.1 7.1h0m.2 .9h0m0 9.8h0m.1-8.5h0m0 8.9h0m.1-8.6h0m0 3.7h0m.1-.1h0m.2 3.5h0m.1-8.3h0m.2-.9h0m.1 7.9h0m.1-3.3h0m.2-2.1h0m.1 3.9h0m.5-7.2h0m.3 3.2h0m0 2.9h0m.4-2.7h0" stroke="#e3e3e3" stroke-width="0.9" stroke-linecap="round" fill="none"/>
<path d="M512.8 251.2h0m.1 3.3h0m.2-1.4h0m0 1.1h0m0 3.6h0m.1-6.1h0m.2-.4h0m0 4.1h0m.1-6.4h0m0 1.6h0m0 4.7h0m0 1.9h0m.1-.5h0m.1 3.8h0m.2 1.9h0m.1 0h0m0 .5h0m.1-7.3h0m0 6.5h0m.1-15.6h0m0 4.2h0m0 6.5h0m0 4.4h0m0 .8h0m.4-14.6h0m0 6.1h0m.1-5.9h0m.1-2.4h0m0 1.4h0m.1 7.8h0m.1 8.9h0m.1-16.2h0m0 5.3h0m0 7.4h0m0 5.2h0m.1-2.1h0m.1 .2h0m0 .2h0m.1-19.2h0m0 5.5h0m0 15.8h0m.1-17.9h0m0 10h0m.1-9.7h0m.1 4.9h0m.1-.2h0m0 7.8h0m.1-17.4h0m0 13.7h0m.1-2h0m.1-8.5h0m.1 14.1h0m.1-.7h0m.2-12.7h0m.1 17.8h0m0 1.8h0m.4-21.2h0m.2 7.4h0m0 3h0m0 8.9h0m.1-20.3h0m.1 3.2h0m0 4.6h0m.1 13.1h0m.1-24.3h0m0 15.2h0m.1 5.7h0m0 2.4h0m.1-3.5h0m0 1.8h0m.1-16.4h0m0 12.9h0m.1-7.7h0m0 8.2h0m0 .6h0m0 3.1h0m.1 5.3h0m0 .3h0m.1-8.7h0m.1-9.2h0m0 .5h0m0 1.1h0m0 .9h0m0 .4h0m.1-9.2h0m0 11.4h0m.1-13.9h0m0 17.7h0m.1-16.6h0m0 1.2h0m0 4.3h0m0 6.4h0m0 8h0m.2-15.6h0m0 3.6h0m0 .8h0m.1 5.2h0m.1 2.8h0m0 3.7h0m0 3.4h0m0 1.6h0m0 1.1h0m.1-27h0m0 2.8h0m0 23.4h0m.2-16.9h0m0 2.7h0m0 3.5h0m.2-3.9h0m0 16.2h0m0 .2h0m.1-28.7h0m0 12.6h0m.1-9.6h0m0 6h0m.2 9.2h0m.1-21.4h0m0 16.1h0m0 6h0m0 2h0m0 6h0m.1-6.5h0m.2-13.6h0m.1-8.4h0m0 4.8h0m0 13.4h0m0 8.1h0m.1-16h0m0 2.7h0m0 2.5h0m.2-12.7h0m0 13.8h0m.1-2.4h0m.1 12.6h0m.1-26.1h0m0 5.1h0m0 15.1h0m.4-21.4h0m0 7.9h0m.1 13.1h0m.1 4.7h0m0 5.7h0m.1-11.9h0m0 10.8h0m.1-27h0m0 17.1h0m.1-13.4h0m0 3.8h0m.1 .5h0m0 11.6h0m0 2.1h0m0 1.4h0m.1-24.4h0m0 4.8h0m.1-7.1h0m0 14.3h0m0 .7h0m.1-10.4h0m.1 17h0m0 6h0m.1-30.5h0m.1 17.3h0m0 13.1h0m.1-31.3h0m0 21h0m0 3.9h0m0 6.6h0m.1-28.2h0m0 11.7h0m.1 4.1h0m0 1.5h0m.1-6.3h0m0 2.1h0m0 .3h0m0 10h0m.1-26.3h0m0 3.4h0m0 15.3h0m0 14.9h0m.1-23.1h0m0 4.2h0m0 3.9h0m0 9h0m0 1.7h0m.1-28.4h0m0 23.3h0m0 5.8h0m0 5.2h0m.1-15h0m0 4.4h0m.1-19.1h0m.2-5.1h0m0 29.9h0m0 1.2h0m0 1.3h0m.2-20.7h0m0 2.7h0m0 12.3h0m.1-12.2h0m0 0h0m.1-2.6h0m0 1.6h0m0 2.6h0m0 2.6h0m0 6.8h0m.1-26.2h0m0 3.3h0m0 3.4h0m0 3.3h0m0 2.6h0m0 21.6h0m.1-30.6h0m0 10.7h0m0 20.7h0m.1-35.3h0m0 5.2h0m0 16.7h0m.1-10.6h0m0 15h0m0 3.2h0m0 9.5h0m.1-26.1h0m0 2.5h0m0 4.6h0m.1-21.2h0m0 18.7h0m0 13.3h0m.1-22.1h0m0 7.4h0m0 19.6h0m.1-9.3h0m0 1.7h0m0 1h0m.1-7.3h0m0 13.6h0m.1-30.1h0m0 7.5h0m.1-.9h0m0 4.2h0m0 2.7h0m.1-6.4h0m0 7.3h0m.1-14.1h0m0 6.6h0m.1-5.4h0m0 8.3h0m0 22.6h0m.1-34h0m0 14.4h0m0 5.1h0m0 13.2h0m.1-32.5h0m0 13.2h0m.1-13.3h0m.1-1h0m0 7.1h0m.1-2.5h0m0 14.7h0m.1-12.7h0m0 1.5h0m0 15.2h0m0 13.5h0m.1-26.8h0m0 12.2h0m0 5.3h0m.1-6.6h0m0 12.1h0m.1-23.8h0m0 3.2h0m0 1.9h0m0 1.9h0m.1-20.5h0m0 14h0m0 16.3h0m0 1.5h0m.1-29.6h0m0 9.9h0m0 24.4h0m.1-10.2h0m0 4.9h0m0 6.3h0m.1-13.5h0m0 0h0m0 16.9h0m.1-34.3h0m0 6.7h0m0 1.4h0m0 13.6h0m0 4.3h0m.1-17h0m0 3.5h0m0 3.2h0m0 13.1h0m.1-30.1h0m0 28h0m.1-25.9h0m0 12.5h0m0 15.4h0m0 5h0m.1-40.7h0m0 20.9h0m0 2.4h0m0 10.1h0m.1-29.5h0m0 11.1h0m.1-7h0m0 7.8h0m0 22h0m.1-19.4h0m.1-11.7h0m0 9.1h0m0 13.7h0m0 11.7h0m.2-18.2h0m0 12.8h0m.1-24.2h0m0 8.7h0m0 16.6h0m0 3.8h0m.1-38.6h0m0 6.6h0m0 7.3h0m0 13.7h0m0 .6h0m0 10.9h0m.1-4.8h0m.1-28.4h0m0 5.7h0m0 10.8h0m0 5.6h0m0 .3h0m0 8.2h0m.2-22.3h0m0 24.5h0m.1-24.2h0m0 2.4h0m0 1.5h0m0 3.2h0m0 7.9h0m.1-31.7h0m0 9.8h0m0 5.7h0m0 8.7h0m0 11.9h0m.1-22.9h0m0 4.6h0m0 .7h0m0 5.9h0m.1-21h0m0 2.1h0m0 1h0m0 6.3h0m0 15.9h0m.1-16.3h0m0 14.4h0m0 13h0m.1-15.2h0m0 1.4h0m0 11.5h0m.1-28.3h0m0 13.3h0m0 2.7h0m0 7.2h0m0 7.3h0m0 2h0m.1-39.7h0m0 .5h0m0 .8h0m0 13.8h0m0 11.3h0m0 9h0m0 4.3h0m.1-17.3h0m0 .8h0m0 7.9h0m0 5.4h0m.1-20.4h0m0 22.2h0m.1-32.2h0m0 14.4h0m0 8h0m0 5.2h0m.1-18.3h0m0 2.9h0m0 11.9h0m0 4.8h0m.1-33.6h0m0 3.4h0m0 8h0m0 8.8h0m0 1.6h0m0 6.4h0m0 .1h0m0 5.3h0m.1-35.3h0m0 6.7h0m0 2.1h0m0 1.8h0m0 10h0m.1-9.8h0m0 3.3h0m0 1.3h0m0 1.1h0m.1-9.6h0m0 7.2h0m0 5.8h0m.1-21.6h0m0 21.2h0m.1-15.6h0m0 1.8h0m0 1.7h0m.1-9.2h0m0 2.4h0m0 5.5h0m0 4h0m0 16.5h0m.1-16.4h0m0 21.5h0m0 3.7h0m0 1.2h0m0 4.7h0m.1-28.4h0m0 5.7h0m0 1.2h0m.1-19.5h0m0 6.7h0m0 13.5h0m0 3h0m0 2.3h0m0 .7h0m0 7.3h0m.1-35.4h0m0 7.5h0m0 3.1h0m0 5.6h0m0 8.9h0m.1-26.1h0m0 13.2h0m0 12.9h0m.1-22.7h0m0 32h0m.1-32.7h0m0 6.6h0m0 29.4h0m.1-34.1h0m0 14.2h0m0 3h0m.1 9.3h0m0 7.1h0m.1-30.9h0m0 19.7h0m0 2.3h0m.1-28.4h0m0 13h0m0 .8h0m0 18.9h0m0 .6h0m0 1.6h0m0 4.9h0m0 3.8h0m.1-31h0m0 1.7h0m0 12.4h0m0 .6h0m0 .3h0m0 10.6h0m0 4.5h0m.1-36.6h0m0 6.5h0m0 12.3h0m0 .3h0m0 8.2h0m0 4.6h0m0 2.5h0m.1-18.8h0m0 5.3h0m0 6.9h0m.1-23.9h0m0 18.7h0m.1-11.6h0m0 6.6h0m0 7.8h0m0 3.4h0m0 2.8h0m0 .8h0m.1-12.7h0m0 13.8h0m.1-22h0m0 3.3h0m0 11.5h0m.1 11.2h0m.1-44.7h0m0 6.8h0m0 1h0m0 11.4h0m.1-19.2h0m0 24.3h0m0 .5h0m0 5.6h0m.1-29.5h0m0 17.4h0m0 5.1h0m0 15.1h0m.1-32.7h0m0 9.9h0m0 12.8h0m.1-26.3h0m0 3.2h0m0 20.2h0m.1-7.1h0m0 26.3h0m.1-38.6h0m0 10.1h0m0 11.8h0m0 3.3h0m0 6.9h0m.1-36.3h0m0 9.5h0m0 12.2h0m0 9.4h0m0 1.8h0m.1-16.2h0m0 24h0m.1-30.5h0m0 19.3h0m.1-12h0m0 7.1h0m0 .5h0m0 16.2h0m.1-40.8h0m0 6.7h0m0 .9h0m0 12.4h0m0 3.7h0m.1 10.6h0m.1-22.9h0m0 .8h0m0 13.9h0m0 5.5h0m0 4.2h0m.1-23.8h0m0 3.6h0m0 3.8h0m0 23.5h0m.1-32.9h0m0 8h0m.1-16h0m0 10.9h0m0 2.9h0m0 4.6h0m0 17.4h0m.1-24.2h0m.1-16h0m0 1.5h0m0 13.1h0m0 3.4h0m0 4.2h0m0 7.4h0m.1-24.3h0m0 4.3h0m0 8.1h0m0 .3h0m0 6.2h0m0 12.9h0m0 7.9h0m.1-8.2h0m0 5.6h0m.1-26.6h0m0 6.4h0m.1-21.9h0m0 .5h0m0 1.2h0m0 5.8h0m0 16.3h0m0 8.2h0m0 4.5h0m.1-10.4h0m0 1.4h0m0 6.4h0m.1-28.1h0m0 17.7h0m0 1.4h0m0 3.9h0m.1-6.5h0m0 5h0m0 3.7h0m0 6.5h0m.1-27.7h0m0 13.3h0m0 13.1h0m.1-1.3h0m0 2.5h0m0 1.2h0m0 2.2h0m.1-37.2h0m0 13.9h0m0 1.6h0m0 11.4h0m0 2.6h0m.1-31.7h0m0 24.9h0m0 .4h0m0 4.5h0m0 11.1h0m.1-41.6h0m0 1.2h0m0 18.3h0m0 2.2h0m0 5.7h0m0 4.6h0m.1-32.3h0m0 14.1h0m0 2.7h0m0 4h0m0 7.2h0m0 .6h0m0 5.5h0m0 .2h0m.1-25h0m0 10h0m0 9.4h0m0 3.5h0m.1-27.3h0m0 10.9h0m0 21.7h0m0 .5h0m0 5.5h0m.1-39.5h0m0 28.7h0m.1-12.3h0m0 9h0m0 .7h0m.1-32h0m0 4.6h0m0 2.6h0m0 13.3h0m0 3.9h0m0 3.5h0m.1-22.4h0m0 5.9h0m0 9.2h0m0 2.1h0m0 3h0m0 18.9h0m.1-29.9h0m0 1.4h0m0 6h0m0 1.2h0m0 10.8h0m0 10.3h0m.1-44.3h0m.1 6.7h0m0 4.7h0m0 18.4h0m0 3.8h0m0 5.1h0m.1-13.2h0m0 5.6h0m0 12.6h0m.1-41.8h0m0 5.1h0m.1-4.9h0m0 5.4h0m0 5h0m0 20h0m0 7.3h0m.1-36.6h0m0 10.1h0m0 5h0m0 20.4h0m.2-34.1h0m0 18.1h0m.1-19.4h0m0 7h0m0 7h0m0 7.8h0m.1-25h0m0 10.6h0m0 12.8h0m0 3.1h0m0 17h0m0 .6h0m.1-38.2h0m0 11.1h0m0 1.7h0m.1-5.5h0m0 1.3h0m0 3.6h0m0 4.9h0m0 .3h0m0 .6h0m.1-2.4h0m.1-10.5h0m0 15.1h0m0 2.7h0m.1-27.2h0m0 16.7h0m0 15h0m0 .5h0m0 5.3h0m.1-34.7h0m0 7.9h0m0 .4h0m0 19.9h0m0 10.2h0m.1-20.2h0m0 23.3h0m.1-3.1h0m.1-41.6h0m0 19.7h0m.1-6.6h0m0 2.7h0m0 3.1h0m0 7.1h0m0 5.9h0m.1-9.6h0m0 1h0m.1-20.2h0m.1-1.7h0m0 13.7h0m0 7.7h0m0 1.9h0m0 15.9h0m.1-25.3h0m0 .4h0m0 7.3h0m0 4.1h0m0 1.8h0m0 9.3h0m0 6.5h0m.1-35.5h0m0 35.4h0m.1-30.9h0m0 4h0m0 5h0m.2-19.7h0m0 19.9h0m0 13.8h0m.1-15.1h0m0 18.4h0m.1-40.4h0m.1 .7h0m0 23.7h0m0 8h0m.1-32.2h0m0 16.7h0m0 8.5h0m0 1h0m0 5.9h0m.1-18.9h0m0 1.8h0m0 9.5h0m0 1.6h0m0 8.2h0m0 2.9h0m.1-22.3h0m0 3.3h0m0 .2h0m0 20.2h0m.1-36.1h0m0 .7h0m0 1.2h0m0 17.2h0m0 3h0m0 .1h0m0 .4h0m0 2.3h0m.1-19.3h0m0 21.8h0m.1-25.1h0m0 3h0m0 3.6h0m0 5.6h0m0 5h0m0 3.1h0m0 15.5h0m.1-32.6h0m0 2h0m0 10.2h0m0 0h0m0 17.9h0m.1-36.9h0m0 1.1h0m0 6.4h0m0 5.8h0m0 6.4h0m0 4.3h0m.1-5h0m0 14.2h0m0 .7h0m.1-22h0m0 16.6h0m0 10.9h0m.1-36.6h0m0 4.1h0m0 4.8h0m0 13.9h0m0 14.6h0m.1-22.9h0m0 1h0m0 .3h0m0 6.3h0m0 7.2h0m0 4h0m.1 3.6h0m0 2.1h0m.1-42.9h0m0 8.6h0m0 14.9h0m0 12.6h0m0 6.2h0m.1-33.1h0m0 8h0m0 1.3h0m0 7h0m.1-5.5h0m.1-5.6h0m0 8.2h0m0 12.5h0m0 6.1h0m.1-41.6h0m0 2.8h0m0 7.9h0m0 2.5h0m0 12.4h0m0 5.7h0m0 .1h0m.1-31.7h0m0 12.4h0m0 4.4h0m0 2.4h0m0 6.2h0m0 .5h0m0 8.2h0m.1-31.3h0m.1 17.8h0m.1 .8h0m0 2.7h0m0 7.5h0m0 6.6h0m.1-31.5h0m0 11.2h0m.1 2.1h0m0 22.3h0m.1-39.9h0m0 20.5h0m0 3.2h0m.1-12.7h0m0 15.9h0m0 12.3h0m.1-1.1h0m0 2.2h0m.1-30.7h0m0 12.2h0m0 .6h0m0 2.3h0m0 17h0m.1-36.5h0m0 1.2h0m0 8.7h0m0 9.6h0m0 2.4h0m0 7.7h0m.1-33.4h0m0 6.6h0m0 20.2h0m0 4.2h0m0 2.3h0m.1-31.7h0m0 5.5h0m0 1.9h0m0 31.8h0m0 .2h0m.1-36.1h0m0 11h0m0 1.2h0m0 16.8h0m0 2.7h0m0 1.3h0m.1-37.6h0m0 18.7h0m0 .9h0m0 8.7h0m.1-28.9h0m0 19.4h0m0 1.9h0m0 17.4h0m.1-39.6h0m0 26.7h0m.1-19.5h0m.1 9.7h0m0 4.3h0m0 5.4h0m0 11.6h0m0 1.9h0m.1-32.7h0m0 2.4h0m0 13.2h0m.1-10.2h0m0 3h0m0 19.3h0m0 5.1h0m.1-36.6h0m.1 3.4h0m0 25.2h0m0 3.8h0m.1-34.2h0m0 3.7h0m0 16.5h0m0 3.4h0m0 2.5h0m0 12.9h0m.1-38.1h0m0 .2h0m0 5.3h0m0 13.9h0m0 1.9h0m.1-11.6h0m0 28.5h0m.1-10.8h0m.1-8.5h0m0 17.7h0m.1-32.1h0m0 7.4h0m0 8.5h0m.1-21h0m0 7.6h0m.1 .4h0m0 7.6h0m0 17.9h0m.1-30.8h0m0 8.5h0m0 .8h0m0 5.9h0m0 3.9h0m0 5.7h0m.1-31.6h0m0 3.5h0m0 13.7h0m0 2.3h0m0 7.9h0m0 7.6h0m.1-4.2h0m.1-30.4h0m0 .2h0m.1 22.5h0m.1-12.1h0m0 4.5h0m0 6.2h0m0 8.3h0m0 13.2h0m.1-34.6h0m0 2.1h0m.1-8.1h0m0 13.3h0m0 9.5h0m0 2.6h0m0 4.3h0m0 10.3h0m.1-42.1h0m.1 11.2h0m0 16.7h0m0 .9h0m0 3.6h0m.1-26h0m0 6.2h0m.1 16.9h0m.2-27.9h0m0 23.4h0m0 9.9h0m.1-27.2h0m0 7.9h0m0 3.1h0m0 4h0m.2 19.6h0m.1-10.9h0m0 2.5h0m.1-24.7h0m0 4.3h0m0 4.2h0m0 6h0m0 1.5h0m0 4.4h0m.1-18.4h0m0 11.6h0m0 19.1h0m.1-29.8h0m0 2.8h0m0 8.3h0m.1-15.3h0m0 3h0m0 10.5h0m0 3.6h0m0 .5h0m.1-21.7h0m0 0h0m0 27h0m.1-26.5h0m0 30.9h0m0 2.1h0m.1-27.1h0m0 .8h0m0 6.5h0m0 13.8h0m.1-26.1h0m0 .9h0m0 12.5h0m0 1.6h0m.1-11.7h0m.1 19.1h0m.1-17.7h0m.1-3.6h0m0 19.3h0m.1-14.9h0m0 6.5h0m0 3.3h0m0 22.4h0m.1-14.5h0m.1-24.9h0m0 10.8h0m0 1h0m0 18.5h0m0 5.9h0m0 1.5h0m.1-31.2h0m0 15.5h0m0 1.8h0m0 5.3h0m.1-21.9h0m0 1h0m0 16.1h0m0 12.1h0m.1-22.1h0m0 10.7h0m0 11h0m0 2.7h0m.1-40h0m0 15.3h0m0 11.3h0m.1-9.7h0m0 2.2h0m.1-5.6h0m0 10.5h0m.1-19.8h0m0 3.7h0m0 19.4h0m0 6.7h0m.1-26.4h0m0 20.4h0m0 6.4h0m.1-27.6h0m0 1.4h0m0 7.9h0m0 1.5h0m0 11.7h0m.1-23.1h0m0 2.4h0m0 9.8h0m0 7.1h0m0 4.8h0m0 2.3h0m.1-24.7h0m0 10.7h0m0 9h0m0 5.8h0m.1-34.4h0m0 16.9h0m0 6.9h0m0 1.9h0m.1-24.9h0m0 18.9h0m.1-5.9h0m0 2.8h0m.1 10.7h0m.1-16.9h0m0 3.4h0m.1 10.8h0m0 3.4h0m0 2.1h0m.1-10.1h0m0 1.4h0m0 10h0m0 7.8h0m.1-32.9h0m0 3.2h0m0 9.9h0m0 .2h0m0 11.6h0m.1-29.8h0m0 20.2h0m0 8.8h0m.1-29.1h0m0 7.2h0m0 5.3h0m0 9.2h0m.1-4.1h0m.1-13.1h0m0 5.1h0m0 11.2h0m0 5.2h0m.1-17.7h0m0 21h0m.1-19.2h0m0 3.5h0m0 23.2h0m.1-25h0m0 19.5h0m.2-31.3h0m0 14.7h0m.1-15.2h0m0 4.9h0m0 28h0m.1-22.3h0m.1 13.3h0m.1-17h0m0 4.3h0m0 20.3h0m.1-25.2h0m.2 8.4h0m0 12.3h0m0 4.9h0m.1-25.7h0m0 8h0m0 2.5h0m0 3.7h0m0 12.3h0m.1-27.4h0m0 17.8h0m0 2.4h0m0 1.8h0m.1 2.8h0m0 1.4h0m.1-23.5h0m0 12.6h0m0 8h0m.1 4.3h0m.1-24.5h0m.1-4.6h0m0 2.4h0m0 18.9h0m.2-9.7h0m0 2.2h0m0 14.3h0m.1-18.2h0m0 13.3h0m.1-18.1h0m.1-4.5h0m0 3.4h0m0 10.2h0m0 9.6h0m.2-20.6h0m.1-4.4h0m.1 1.2h0m0 27.3h0m.1-9.6h0m.1-16.7h0m.2 8.5h0m0 1.7h0m0 3.6h0m0 4.1h0m0 13.2h0m.1-4.6h0m0 2.5h0m.2-31.6h0m.1 6.6h0m0 1.4h0m0 1.8h0m0 13.4h0m.1-7.6h0m0 15.1h0m.1-17.6h0m0 12.4h0m0 4.4h0m.1-23.6h0m.1 1.3h0m.2 7.7h0m0 13.8h0m.1-19.5h0m0 2.2h0m0 5.1h0m0 2.3h0m0 .6h0m0 5.6h0m0 5.1h0m.1-1.9h0m.1-26.9h0m0 .4h0m0 1.4h0m0 17.4h0m0 6.9h0m0 1.5h0m.1-23.2h0m0 0h0m0 2.9h0m0 5.1h0m0 12.1h0m.1-10.8h0m0 2.8h0m0 .3h0m0 6.5h0m0 6.7h0m.1-19.5h0m.2-7.3h0m0 13.4h0m.1-10.9h0m0 .6h0m0 6.8h0m0 5.4h0m.1-6.1h0m0 14.6h0m.1 2.3h0m.2-12.4h0m0 14.2h0m.1-16.5h0m0 11.8h0m.1-16.1h0m0 2.2h0m0 8.7h0m0 1.9h0m0 5.4h0m.2-26.5h0m0 9h0m0 2h0m.1-9.4h0m0 11.6h0m0 11.7h0m.1-13.2h0m0 15h0m.1-24.3h0m.1-1.6h0m0 4.3h0m.2 19.3h0m.1-12.4h0m.1 8h0m0 4.8h0m.1-11.9h0m0 3.5h0m0 4.9h0m.1-17.1h0m0 21.9h0m.1-15.2h0m0 6.1h0m0 5.3h0m.1-12h0m0 .2h0m0 3.9h0m.1-4.7h0m.2-8.6h0m0 22.2h0m.1-19.1h0m0 10.2h0m.2-.9h0m0 4.6h0m.1-12.8h0m0 18.6h0m.1-20.7h0m0 6.8h0m0 4.2h0m.1 1.7h0m.2-4.4h0m0 6.1h0m0 2.5h0m.2-5.9h0m0 1.2h0m0 .4h0m.3-7.6h0m0 5.3h0m.1-.4h0m.1-2.9h0m0 3.8h0m0 1.1h0m.1-7h0m0 3.3h0m.1 3.7h0m.1-6.3h0m.1 3.5h0m0 11.3h0m.2-5.8h0m0 2.4h0m.1-2.2h0m.1-5.5h0m.1 9.9h0m.1-2.3h0m.1-13.4h0m0 6.5h0m0 5.4h0m.2 3h0m.1-14.9h0m0 14.3h0m.1-6.2h0m.2 4.6h0m.1-5.8h0m0 .3h0m0 1.5h0m0 0h0m.1-2h0m0 4.6h0m.1-4.5h0m.1 3.9h0m.2-7.3h0" stroke="#e4e4e4" stroke-width="0.9" stroke-linecap="round" fill="none"/>
<path d="M513.9 279.5h0m.1 1.7h0m.2-3.8h0m.1-.6h0m0 .7h0m.4 2.5h0m.4-4.8h0m0 1h0m.3-.4h0m0 3h0m.8-2.1h0m.3 4.4h0m0 2.1h0m.1-1.9h0m.6-6h0m.4 3h0m.1 .3h0m.1 1.1h0m0 1.9h0m0 1.1h0m.2-.7h0m0 .6h0m.2-2.9h0m.1 1.2h0m.4-1.6h0m.1 1.5h0m.1-5h0m.1 2.2h0m.1 4.6h0m.1-4.5h0m.1-1.1h0m0 2.5h0m0 2.5h0m.1-1.8h0m.1-2.9h0m.2-1.8h0m0 7.4h0m.7-8.3h0m0 9.2h0m.2-6.4h0m0 1.3h0m.1 1.3h0m.4 2.9h0m.2-4.2h0m.3 3.4h0m.2-5.9h0m.3-.8h0m0 4.7h0m0 .7h0m.1-4.7h0m.2 3h0m.1-1.4h0m.4 3.1h0m.1-3.1h0m.3 2h0m.1-1.5h0m.1 3.8h0m.6-5.6h0m0 .2h0m.5 .6h0" stroke="#e6e6e6" stroke-width="0.9" stroke-linecap="round" fill="none"/>
<path d="M472.6 260.5h0m.1 1.5h0m.2-5h0m0 5.6h0m.1-6.1h0m0 3.3h0m0 3h0m.1-2.7h0m.1 3.4h0m.1-6h0m.1-1h0m0 7h0m0 .1h0m.2-1.4h0m0 2.1h0m.1-5.3h0m0 1h0m.1-2.4h0m.1 2h0m0 2.5h0m0 3.1h0m.2-13.7h0m0 9.1h0m0 1.2h0m.1 2.6h0m.1-2.9h0m0 0h0m.2-7.4h0m0 2.5h0m0 9.4h0m.2-9.2h0m.1 1h0m0 2.4h0m0 6h0m.1 1.1h0m.2-15.8h0m0 12.3h0m0 .5h0m.1-8.5h0m.1 7.4h0m.1-3.8h0m.1 5.9h0m.1 1.3h0m.3-9h0m0 5.3h0m.4-9.1h0m0 6.8h0m.1-4.8h0m0 10.6h0m.1-12.1h0m0 11.6h0m0 1.7h0m0 2.2h0m.1-9.6h0m0 8.5h0m.1-3.5h0m.1-22.2h0m.1 23.4h0m.2-14.5h0m0 2.7h0m0 5h0m.3 .5h0m0 5.1h0m0 3.7h0m.1-17.4h0m.1 1.3h0m0 11h0m0 1.3h0m0 3.5h0m.1-26.8h0m.1 16h0m.1-2h0m0 3.7h0m0 3h0m.1-19h0m0 16.2h0m0 6.3h0m.1-4.6h0m0 2.5h0m0 1.2h0m0 3.7h0m.1-11.1h0m.1 8.9h0m.1-8.2h0m0 4.7h0m.1-11.3h0m.1 3.8h0m.1 8.6h0m.1-18h0m0 19.1h0m.1-13.2h0m0 2.3h0m0 .8h0m0 1.1h0m0 3.5h0m.1 7.7h0m0 3.2h0m.1-8.5h0m.1-21.7h0m0 4.1h0m0 7.4h0m0 .9h0m.1 2.6h0m0 8.3h0m.1-6.7h0m0 2.5h0m.1-1.6h0m.1-15.6h0m0 18.5h0m.2 1.8h0m0 5.8h0m.1-12.7h0m.1-3.7h0m0 4.8h0m0 4.6h0m.1-10.2h0m0 3.1h0m0 4.6h0m0 1.8h0m0 5.7h0m.1-13.6h0m0 1.9h0m0 15.3h0m.3-10.5h0m0 4.4h0m0 4.9h0m.1-16.1h0m.1-7.9h0m0 10.1h0m0 12.2h0m0 2.9h0m.1-11.4h0m0 3.3h0m0 .3h0m.1-7.7h0m0 12.5h0m.1-5.3h0m0 1.1h0m.2-8.7h0m0 9.1h0m.1-15.9h0m0 15.2h0m0 1h0m.1-8.3h0m0 3.2h0m0 3h0m0 2.4h0m.1-3.7h0m.3 7.3h0m.1-13.4h0m0 10.4h0m.1-5.2h0m0 8.6h0m0 2h0m.1-16.8h0m0 13.8h0m.1-9.8h0m.1 1.9h0m.1-5.1h0m.1 2.3h0m.1 10.3h0m.1-6.8h0m.1-7.8h0m0 5.2h0m0 3.1h0m0 0h0m0 10.2h0m.3-5.7h0m0 2h0m.1-4.5h0m.1-19.9h0m.1 1.3h0m0 23.3h0m.1-1.2h0m0 0h0m.1-9.4h0m0 8.5h0m0 .7h0m.2 .6h0m.2-1.7h0m.2-9h0m0 2.4h0m.1 .3h0m.1 .7h0m.1-5.3h0m0 2.1h0m0 13.7h0m.1-6.4h0m.1 2h0m0 .7h0m0 3.8h0m.2-8h0m0 3.2h0m.1-5h0m0 2.3h0m0 1.7h0m.3-22.3h0m0 5.6h0m.1 13h0m.1 3.6h0m.2-1.7h0m0 2.5h0m0 4h0m.2-14.1h0m.1 9.3h0m.1-6.9h0m.2-10.6h0m0 9.9h0m0 9.1h0m0 3.1h0m.2-13.3h0m0 4h0m.2-.8h0m.3-3.1h0m0 3.8h0m0 6.2h0m.1 2.1h0m0 .1h0m.1-26.2h0m.1 16.2h0m.1-.8h0m.1 .7h0m.2 1h0m0 8h0m.1 .2h0m.1-20.1h0m.2 18.9h0m.1-8.1h0m0 6.7h0m.1 .2h0m.1-4h0m.1 1.9h0m0 2.1h0m.1-14.4h0m.2 10.8h0m0 1.1h0m.3-12.1h0m.3 3.9h0m.9 6h0m.6 3.6h0m1-2.6h0m.1-.5h0m.5 4.8h0m.5-11.9h0m0 11.4h0m0 2.2h0m.2-12.6h0m.1-9.8h0m.3 11.7h0m.4 1.7h0m.7 7.5h0m.7-6h0m.1-6.5h0m.2 7.6h0m.9-12.6h0m.8 .4h0m.4 4.9h0m21.5 10.9h0m.6-4.9h0m.3-9.6h0m.9 13.1h0m.2 4.5h0m1-11.2h0m.9 7h0m.4-2.8h0m.3-6.4h0m.3-4.4h0m1.1 7.8h0m.7 7.8h0m1.5 8.1h0m.1-24.4h0m1.5 12.3h0m.3-16.8h0m0 14.7h0m.5-13.2h0m.1-5.1h0m.8 29.8h0m1.2-28.4h0m.2-.7h0m1.8 37h0m1-22.3h0m.5-16.5h0m.2 13.2h0m0 14.4h0m1.1-19.6h0m0 22.9h0m.2-7.4h0m.4-11.8h0m0 20.4h0m1.1-32.2h0m.1 3.8h0m.3 28.3h0m.6-28.6h0m.2 14.8h0m.6-7.9h0m.1-1.9h0m0 27.2h0m.1-3.7h0m.1-10.8h0m.6 7h0m.3-6.2h0m.4-5.9h0m.2 18.6h0m.4-5.5h0m.1-7.5h0m.1 15.2h0m1.1-31.2h0m1.6 16.2h0m.3 15h0m.1-1.5h0m.4-18.6h0m.2-7.8h0m.1 21.5h0m2.6-13.8h0m.3 7.9h0m.1-14.8h0m1.7 12.2h0m.3 5.4h0m1.2-14.2h0m1.6 5.3h0m.1-7.8h0m1.3 3.3h0" stroke="#e4521f" stroke-width="1.15" stroke-linecap="round" fill="none"/>
<text x="515.5" y="299.4" font-size="10.2" fill="#231f20" text-anchor="middle">LADD</text>
<text x="473" y="286.5" font-size="7.5" fill="#231f20" stroke="#231f20" stroke-width="0.22" font-weight="bold">Teff_1</text>
<line x1="475" y1="280.6" x2="477.75" y2="270.81" stroke="#111" stroke-width="0.7"/>
<path d="M478.4,268.5 L478.81,271.11 L476.69,270.51 Z" fill="#111"/>
<text x="268.5" y="316" font-size="12.5" fill="#231f20">l</text>
<text x="416.8" y="314.1" font-size="11.6" fill="#8f4a91" text-anchor="middle">V&#946;14</text>
<rect x="276.2" y="317.1" width="283.4" height="1.5" fill="#a571a7"/>
<rect x="276.5" y="319.4" width="93.1" height="67.4" fill="#fff" stroke="#a0a0a0" stroke-width="0.6"/>
<rect x="371.4" y="319.4" width="93.7" height="67.4" fill="#fff" stroke="#a0a0a0" stroke-width="0.6"/>
<rect x="467.2" y="319.4" width="92.5" height="67.4" fill="#fff" stroke="#a0a0a0" stroke-width="0.6"/>
<path d="M288.3 343.1h0m.8 7.6h0m.4-16h0m.2 16.1h0m1-8.3h0m.1 12.5h0m.2-8h0m1.6-3.3h0m.7 1.2h0m2.6-4.4h0m1.9 9.4h0m1.1-7.2h0m.3 12.9h0m1.2-4.1h0m0 4.3h0m.8-1.3h0m.9-6.6h0m.2 9.4h0m.3-14.6h0m0 3.9h0m1.2 3.4h0m1.1 1.8h0m.2-9.5h0m.3 .8h0m0 10.9h0m.5-3.3h0m.5-8h0m1.6 6h0m0 1.7h0m1.1-9.7h0m.2 8.2h0m1.6-5.5h0m.2 3.2h0m.8 1.7h0m2.1 8h0m2.1-8.2h0m.4 5.3h0m1-14.3h0m.6 10.5h0m2-.8h0m.6 .2h0m.8 3.1h0m1-1.6h0m.3 1.7h0m.4 .5h0m.5-6.7h0m.1 10.8h0m.5-5h0m0 3.3h0m.2-1.2h0m.2-2.9h0m0 4.8h0m.1 2.6h0m.2 .6h0m.1-10.7h0m0 2.9h0m0 .1h0m1.4-2.8h0m.7 2.1h0m.2-4h0m0 .5h0m.6 24.9h0m.3-31.7h0m0 10.4h0m0 .6h0m0 26.7h0m.1 5.2h0m.1-22.5h0m.1-21.8h0m.1 1.1h0m0 4.1h0m0 1.4h0m0 2.7h0m.1 .4h0m.2-3.1h0m.1 5h0m0 12.2h0m.1-24.6h0m.1 4h0m0 .5h0m0 7.1h0m0 1.4h0m0 .7h0m.1-1.7h0m0 4.9h0m0 1.6h0m0 2.4h0m0 17.7h0m0 .7h0m.1-4.2h0m.1-15.3h0m0 14.7h0m.1-27.6h0m0 5.5h0m0 1.3h0m0 3.7h0m.1 21h0m.1-23.2h0m0 17.6h0m0 6.1h0m.1-22.1h0m0 18h0m0 5.4h0m.1-28.3h0m0 .5h0m0 2.2h0m0 5.9h0m0 .6h0m0 18.2h0m.1-40.8h0m0 13.9h0m0 2.1h0m.1-15.9h0m0 3.3h0m0 14.6h0m0 16.4h0m.1-29.8h0m0 14.8h0m.1-18.1h0m0 3.1h0m0 6.2h0m0 2.4h0m0 1.8h0m.1 4.8h0m0 14.3h0m0 3.4h0m.1-36.4h0m0 6.6h0m0 2.1h0m0 1.3h0m0 8.6h0m0 22.5h0m.1-26.7h0m0 .8h0m0 4.1h0m0 15.4h0m0 5.8h0m0 .8h0m.1-37.5h0m0 3.2h0m0 17.9h0m.2-9.2h0m0 20.6h0m.1-41.1h0m0 5.1h0m.1 2.8h0m0 30.6h0m.1-17.5h0m0 2h0m.1-2.3h0m0 1.2h0m0 18.8h0m0 0h0m.1-25.5h0m.1-16h0m0 2.9h0m0 7.8h0m.1 7.6h0m0 7h0m.1-5.1h0m0 .1h0m.1-5.8h0m0 8.3h0m0 16.3h0m.1-19.4h0m0 1.5h0m0 5.6h0m.1-5.2h0m0 2.1h0m.1-23.9h0m0 39.8h0m0 7.2h0m.1-17.5h0m0 17.6h0m.1-33.3h0m0 5.3h0m0 2.5h0m0 4.9h0m.1-24.4h0m0 13h0m0 .6h0m.1-13h0m0 .9h0m0 18.7h0m0 4.7h0m0 3.9h0m.1-32.4h0m0 12.4h0m0 4.7h0m0 1h0m0 .6h0m0 5.5h0m0 1h0m0 24.6h0m.1-40.4h0m0 4.1h0m0 3.5h0m0 8.6h0m0 3.4h0m.1-27.9h0m0 13.7h0m.1 6.9h0m.1-19.4h0m0 24.7h0m.1-17.8h0m0 1.3h0m0 11.1h0m0 21.4h0m.1-24.9h0m.1-7h0m0 21.8h0m0 9.9h0m.1-14.9h0m.1-24.7h0m0 14h0m.1-5.9h0m0 28.3h0m.1-40.2h0m0 1.9h0m0 5.2h0m0 4.3h0m0 5.1h0m0 4.2h0m0 .4h0m0 2.7h0m0 4.5h0m.1-25.6h0m0 23.9h0m.1-27h0m0 13.1h0m0 11.2h0m0 2.1h0m0 9.9h0m.2-36.7h0m0 26.7h0m.1-6.8h0m.1 1.7h0m0 3.9h0m0 1.5h0m0 .1h0m0 8.9h0m0 14.5h0m.1-22.4h0m.1-22.7h0m0 2.7h0m0 2.8h0m0 12.9h0m0 6.8h0m0 5.5h0m0 5.7h0m.1-26.2h0m0 1.9h0m0 23.7h0m0 3.3h0m.1-34.4h0m0 21h0m.1-27h0m0 13.9h0m0 21.9h0m.1-22.9h0m0 7.2h0m0 .8h0m0 16.3h0m.1-35.8h0m0 1.1h0m0 25.7h0m0 6.1h0m0 .6h0m0 .8h0m.1-34.2h0m0 .1h0m0 10.2h0m0 8.9h0m0 5.3h0m0 1.5h0m0 3.9h0m0 4.7h0m.1-40.5h0m0 19.4h0m0 3.7h0m.1 15.2h0m.1-38h0m0 3.3h0m0 11.6h0m0 7.9h0m.1-22.7h0m0 38.4h0m.1-25.6h0m0 9.2h0m0 .7h0m0 3.5h0m.1-20.7h0m0 2.5h0m0 14.7h0m0 3.9h0m0 10.4h0m0 .3h0m.1-26.9h0m0 16.1h0m0 3h0m0 7.1h0m.1-30.8h0m0 .1h0m0 6.8h0m.1 4.2h0m0 3.4h0m0 3.3h0m.1-22.7h0m0 5.9h0m0 8.3h0m0 3.7h0m0 .4h0m.1-19.8h0m.1 10h0m0 5.1h0m0 6.3h0m0 5.8h0m0 6.1h0m0 10.1h0m.1-40.1h0m0 17.8h0m0 8.3h0m0 7.8h0m.1-32.3h0m0 3.5h0m0 .2h0m0 20.5h0m0 12.7h0m.1-17.5h0m.1-9.6h0m.1-15.8h0m0 5.1h0m0 16.4h0m0 10.2h0m0 2h0m.1-20.6h0m0 .6h0m0 9.4h0m0 2.1h0m.1 4.6h0m0 15.6h0m.1-31.7h0m0 11.6h0m0 10.8h0m.1-21h0m0 1.8h0m0 7.2h0m0 .2h0m.1-22.8h0m0 1.2h0m0 15.3h0m0 7h0m0 10.9h0m0 1.6h0m0 4.8h0m.1-37.1h0m0 15.2h0m0 5.8h0m.1-10h0m0 3.6h0m.1-6.2h0m.1 5.9h0m0 14.3h0m.1-30.4h0m0 4.4h0m0 11.3h0m0 7.5h0m0 9.6h0m.1-14.8h0m0 3.4h0m.1 7.8h0m0 8.4h0m.1-38h0m0 21h0m.1-10.4h0m0 11.1h0m.1-12.5h0m0 4.7h0m0 9.6h0m0 4.9h0m0 1h0m0 .9h0m.1-13.1h0m0 11.5h0m.1-24.1h0m0 24.4h0m0 3.3h0m.1-33.3h0m0 .8h0m0 14.8h0m0 8.7h0m0 1.3h0m0 4.2h0m0 8.7h0m.1-30h0m0 5.2h0m0 22.2h0m.1-36.6h0m.1 2.3h0m0 25.4h0m.1-3.7h0m0 9h0m0 .5h0m.1-13.3h0m.1-12.8h0m0 .3h0m0 8.9h0m0 .3h0m0 6.7h0m0 5.6h0m0 3.7h0m.1-32.3h0m0 4.5h0m0 7.5h0m0 4.9h0m0 8h0m.1-11.8h0m0 6.1h0m.1-19.2h0m0 7.1h0m.1 2.4h0m0 5.7h0m0 10.4h0m0 7h0m0 3.4h0m.1-38.8h0m0 10.5h0m0 16.4h0m0 .8h0m.1-8.6h0m0 5h0m.1-24.8h0m0 6.2h0m0 3.2h0m0 4.5h0m0 5.7h0m0 4.4h0m0 8.1h0m.1-21h0m0 1.9h0m0 22.2h0m.1-31.3h0m0 17.2h0m0 12.1h0m.1-7.2h0m.2-26.4h0m0 15.3h0m.1-14.7h0m0 4.1h0m0 21h0m0 5.4h0m0 6.7h0m.2-8.6h0m0 1.7h0m0 6.8h0m.1-14.4h0m.1 .3h0m.2-23.1h0m0 14.6h0m0 .5h0m0 17.9h0m.2-25.5h0m0 9.2h0m0 .1h0m0 11.3h0m0 5h0m0 1.1h0m0 2.3h0m.1-33.7h0m0 19.2h0m0 7.7h0m.1-10.8h0m0 12.3h0m.1-8.6h0m0 7.4h0m.1-.1h0m0 2.4h0m0 1.3h0m0 2h0m.1-18.9h0m0 12.1h0m0 .9h0m.1-19.2h0m0 4.5h0m0 4.9h0m0 5.7h0m.1-16.6h0m0 15.3h0m0 6.7h0m0 .5h0m0 2.5h0m.1-31.8h0m0 .2h0m0 8.5h0m0 11.6h0m0 3.5h0m0 8.4h0m.1-25.4h0m0 3.6h0m.1 2.8h0m0 16.4h0m.1-26.1h0m0 7h0m0 8.7h0m.1 3h0m0 3.3h0m0 1.2h0m0 3.4h0m.2-31h0m0 6.1h0m0 26h0m.1-34.6h0m0 11h0m0 10.6h0m0 13.7h0m.2-28.4h0m0 15.5h0m0 2.2h0m0 1h0m0 5.4h0m0 8.3h0m.1-4.8h0m.2-23.1h0m0 21.8h0m.1-24.9h0m0 1h0m.1-10h0m0 27.3h0m0 9.2h0m.1-6.6h0m0 .9h0m0 5.3h0m.1-17.9h0m0 1.1h0m0 1.9h0m0 2h0m.1-21.7h0m0 24.1h0m0 4.2h0m.1-21.4h0m0 22.7h0m.1-14.7h0m0 14.4h0m0 8.9h0m.2-35.4h0m0 8.9h0m0 2.4h0m0 13.2h0m.1-25.2h0m.1 6.1h0m0 17.6h0m.1-20.7h0m0 21.5h0m0 2.4h0m0 6.9h0m0 2.2h0m.1-14.2h0m0 2.6h0m0 5.3h0m.1-26.1h0m0 2.7h0m0 14.2h0m0 3.6h0m0 0h0m0 4.9h0m0 1.9h0m.1-16.1h0m0 3h0m0 1.7h0m0 9.2h0m.1-21.6h0m0 10.2h0m.1-2.2h0m0 11.1h0m0 2.3h0m0 6.9h0m.1-30.2h0m0 20.1h0m0 3.4h0m.1-27.8h0m0 2.5h0m0 4.2h0m0 8.1h0m0 3.8h0m.1-11h0m0 7h0m0 1.7h0m0 12.4h0m.1-23.9h0m0 9.1h0m0 6h0m0 .9h0m0 4.8h0m0 1.3h0m0 3.9h0m.1-2.5h0m0 2.5h0m0 1.2h0m.1-36.7h0m0 .6h0m.1 5.4h0m0 6.3h0m0 6.9h0m0 6.6h0m0 1.6h0m0 3.4h0m0 .1h0m0 4.1h0m.1-32.7h0m0 14.6h0m0 2.7h0m0 16.1h0m.1-35.7h0m.1-.4h0m0 16.7h0m.1 16.9h0m.1-32.1h0m0 5.2h0m0 8h0m0 4.5h0m0 4.8h0m.1-22.8h0m0 17.1h0m0 1.9h0m0 14.6h0m.1-33.2h0m0 7.6h0m0 18.7h0m0 5.7h0m.1-32.1h0m0 21.9h0m.1-15.3h0m0 14.1h0m0 7.1h0m.1-11.8h0m0 1.6h0m0 7.4h0m0 .9h0m0 2.3h0m0 4.1h0m.1-17.9h0m0 1.4h0m0 3.4h0m0 .4h0m0 5.2h0m0 9h0m.1-25.4h0m0 7.5h0m0 2.5h0m0 16.1h0m.1-35.5h0m0 .8h0m0 6.1h0m0 2.2h0m0 12.3h0m0 12.3h0m0 3.7h0m.1-21.2h0m0 13.3h0m.1-29.7h0m0 21.7h0m0 6.6h0m.1-18.2h0m0 24.6h0m.1-32.2h0m0 2.7h0m0 2.5h0m0 22h0m.1-21.2h0m0 5.6h0m0 11h0m.1-21.8h0m0 19.2h0m0 2.3h0m0 9.1h0m0 5.2h0m.1-34.7h0m0 6.8h0m.1-5h0m0 21.1h0m0 12h0m.1-31.2h0m0 3.6h0m0 5.6h0m0 18.5h0m.1-15.8h0m0 7.7h0m0 4.8h0m0 7.8h0m.1-19.9h0m0 .9h0m0 .9h0m0 2.9h0m0 5.5h0m0 5.5h0m0 2.3h0m.1-35.8h0m0 3.6h0m0 .4h0m0 1.9h0m0 7.7h0m0 8.8h0m0 5.1h0m0 4.8h0m.1-27h0m0 12.7h0m0 6.8h0m0 7.9h0m.1-23.3h0m0 5.1h0m.1-15.9h0m0 25.5h0m0 7.9h0m.1-29.1h0m.1 .3h0m0 7.7h0m0 19.9h0m0 1.3h0m.1-15.4h0m0 7.9h0m0 .9h0m0 .5h0m0 5.8h0m0 3h0m.1-29.4h0m0 4.8h0m0 3.7h0m0 6.4h0m0 3.5h0m0 1.5h0m0 7h0m.2-19.6h0m0 3.3h0m0 1.4h0m0 4.1h0m0 9.3h0m0 4h0m0 .2h0m.1-8h0m0 2.4h0m0 5.7h0m.1-33.9h0m.1 6.9h0m0 11h0m0 11.3h0m0 1.3h0m.1-13.5h0m0 .2h0m0 15.4h0m0 1.4h0m0 2.2h0m.2-24h0m0 7.6h0m0 6.2h0m0 1h0m0 3h0m0 3.1h0m.1-32.4h0m0 14h0m0 5.4h0m0 1.9h0m0 .4h0m0 6.8h0m.1-19.3h0m0 1.5h0m0 8.9h0m0 9.1h0m0 7.9h0m.1-34.7h0m0 24.1h0m0 10.4h0m.1-24.7h0m0 6.3h0m0 6.3h0m.1-28.7h0m0 7.7h0m0 3.7h0m0 .3h0m.1-11.4h0m0 32h0m.1-19.5h0m0 12.3h0m0 14.5h0m.1-33.7h0m0 .7h0m0 11.5h0m0 1h0m.1-2.4h0m0 .1h0m0 .5h0m0 7.6h0m0 3.9h0m.1-27.8h0m0 8.2h0m0 1.7h0m0 7.5h0m.1-11.5h0m.1-3.1h0m0 19.8h0m0 6.7h0m0 3.9h0m.1-8.1h0m.1-7h0m0 11.7h0m0 2.5h0m.2-4.7h0m.1-8.8h0m0 .5h0m0 2.1h0m0 14.9h0m.1-22.8h0m0 10.5h0m.1-17.8h0m0 4.5h0m0 0h0m0 9.9h0m0 13.3h0m.1-30.1h0m0 23h0m0 .8h0m.1 11.1h0m.2-31.4h0m0 29h0m0 3.1h0m.1-34.5h0m0 13h0m.1-10h0m0 5.2h0m0 18h0m0 3.9h0m.1-27.6h0m0 31.7h0m.1-26.8h0m0 9.6h0m0 7.7h0m0 1.5h0m0 4.7h0m.1-31h0m0 34.4h0m.1-19.7h0m0 .6h0m0 1h0m0 1.8h0m0 6.7h0m.1-28.8h0m0 12.2h0m0 8.6h0m.1-13.6h0m0 2h0m0 2.9h0m0 1.7h0m0 7.4h0m0 3.1h0m0 .3h0m0 10.2h0m0 3h0m.1-21.4h0m0 4.2h0m.1 8.5h0m0 1.9h0m0 5.1h0m.1-34.6h0m0 6.8h0m0 5.9h0m0 15.8h0m.1-20.6h0m0 21h0m.2-24.6h0m0 14.6h0m0 3.2h0m.1-21.6h0m0 .3h0m0 19.6h0m.1-20.2h0m0 17.8h0m0 5.2h0m.1-25.6h0m0 16.8h0m0 10.8h0m.1-11.4h0m0 7.5h0m0 2h0m0 4h0m.1-20.4h0m0 28.7h0m.1-29.8h0m0 8.4h0m0 5.3h0m0 10.1h0m.1-11.9h0m0 3.8h0m.2-15.1h0m0 12.1h0m0 3.4h0m.1-18h0m.1 7.6h0m0 13.9h0m0 3.4h0m0 3.4h0m.1 3.5h0m.1-37.2h0m0 2.6h0m0 10.8h0m0 7.6h0m0 14h0m.1-13.2h0m0 2.4h0m0 10.8h0m.1-29.1h0m0 2.4h0m0 20.5h0m.1-18.3h0m0 3.7h0m.2 19.9h0m.1-2.9h0m.1 3.8h0m0 .9h0m.1-27.6h0m0 15.6h0m.1-3.7h0m0 4.9h0m.2 8.7h0m.1-31.5h0m0 17.7h0m0 6.6h0m0 6.8h0m.2-23.2h0m0 5.8h0m0 8.4h0m0 1.7h0m.1-9h0m0 .4h0m0 14.2h0m.1-26.7h0m0 31.7h0m.1-24.3h0m.1 23.9h0m.1-14.1h0m0 10h0m.1-14.6h0m.1 3.8h0m0 1.5h0m0 10.1h0m0 2.3h0m.1-33h0m0 8.5h0m0 24.8h0m.1-26.3h0m.1 2.6h0m0 .8h0m0 4.9h0m.1-15.3h0m0 27.3h0m0 4h0m.1-31.6h0m0 16.1h0m.1-1.3h0m0 12.5h0m.2-11.7h0m0 6.2h0m0 9.4h0m.1-18.2h0m0 14.7h0m0 6.1h0m.1-10h0m0 7.7h0m.1-25.5h0m0 1.7h0m0 11.4h0m0 5.6h0m.1-21.1h0m0 .7h0m0 3.8h0m0 24.4h0m.1-23.4h0m0 15.7h0m.1-24h0m.1 2.7h0m0 6.5h0m.1 8.6h0m0 11.9h0m.1-6.5h0m.1-1.7h0m0 4.2h0m0 3.6h0m.1-2.5h0m.1-21h0m0 1.6h0m.1-.9h0m0 2.7h0m0 5.2h0m0 8.1h0m.1-20.3h0m0 18.2h0m.1-17.4h0m0 2.8h0m0 6.1h0m0 9.1h0m0 4.4h0m.1 .2h0m0 .2h0m0 3.7h0m.1-21.8h0m0 12.7h0m0 8.7h0m.3-21.6h0m0 20.6h0m.1-7.8h0m.1-15.6h0m0 1.6h0m0 17.2h0m.2-16.3h0m0 8.3h0m0 5.9h0m0 5.1h0m.1-14.4h0m.1-.9h0m0 5.4h0m.1-13.9h0m0 7.2h0m.1 6h0m0 .1h0m.1 .4h0m0 3h0m.1-9.7h0m0 5.4h0m.1-9.4h0m0 3.8h0m0 5.7h0m.2-7.3h0m.2-3h0m0 2.8h0m0 1.2h0m0 3.2h0m0 12.8h0m0 .4h0m.1-15.8h0m.1-5.9h0m0 .8h0m0 10.9h0m.1-4.2h0m.1-5h0m.1 2.2h0m0 7.2h0m0 1.5h0m.1 3.6h0m0 6.1h0m.1-14.9h0m0 1.6h0m0 10.2h0m.1-19.5h0m0 14.7h0m0 5.9h0m.1-3.6h0m.1-.4h0m.1-1.6h0m.1-15.2h0m.1 7.1h0m0 16.7h0m.1-13h0m0 2.1h0m.1-9.6h0m0 6.6h0m0 1.7h0m0 6.8h0m.1-10.9h0m.1 2.4h0m.1-2.9h0m0 4.5h0m.2-9.9h0m0 2.3h0m.1-1.5h0m0 .5h0m0 17.1h0m0 1.8h0m.1-13.7h0m.1 11.8h0m0 1.9h0m.1-10.4h0m.1-5.6h0m0 2.5h0m0 2.1h0m0 2h0m0 2.5h0m0 2h0m.1-7.5h0m.1 2.3h0m0 1.8h0m0 4.6h0m.1-10.1h0m0 5.4h0m.1 4.5h0m0 2h0m.2-15.7h0m0 13.1h0m.1-10.3h0m.1 1.5h0m0 2.1h0m.2 2.7h0m.1-8.1h0m.2 10.9h0m.1-3.8h0m.3-3.8h0m.1 4.7h0m.2-4.3h0m13.3 8.7h0m0 .9h0m.7 3.6h0m.1-10h0m.2-.2h0m.1-2.1h0m0 2.2h0m0 3.9h0m0 4.9h0m.2-2.5h0m.1-9.1h0m0 11.3h0m.3-3.1h0m0 6.8h0m.1-13.5h0m.2-2.9h0m.1 18.1h0m.2-10.2h0m0 10.2h0m.1-8.7h0m0 2.1h0m.1-9h0m0 4.3h0m0 7.2h0m.1-5.5h0m0 3.2h0m0 1.5h0m.2 2.1h0m.1-15.3h0m.1 2.8h0m0 4.6h0m.1-3.4h0m0 .6h0m0 5.3h0m0 5.1h0m0 1.2h0m.1-2.8h0m.1-1.7h0m.1-5.2h0m.3-4.8h0m.1 9.1h0m.1-4h0m.1-3.5h0m0 3.9h0m0 8h0m0 5.4h0m.1-3.6h0m0 4.2h0m.1-19.4h0m0 8h0m0 1.5h0m0 6.2h0m.2-13.4h0m.1-1.6h0m.2-1.7h0m0 1.6h0m0 .4h0m.1-3.3h0m0 21.6h0m.1-22.8h0m0 8.6h0m0 10.3h0m.1-21h0m0 14.1h0m0 8.8h0m.1-2.7h0m.1-12.7h0m0 18.6h0m.1-23.2h0m0 7.3h0m0 16.5h0m.1-22.8h0m0 15.7h0m0 1.5h0m0 3.7h0m.2-5.7h0m0 7.2h0m.1-22.7h0m0 13.5h0m.2-.1h0m.1-8.7h0m0 12.5h0m.1-18.7h0m0 9.7h0m0 9h0m0 .5h0m.1-16.2h0m0 .7h0m0 8h0m.2-11.1h0m.2-1.8h0m0 0h0m0 .1h0m0 1.1h0m0 9.7h0m0 3.4h0m0 7.5h0m.1-16.5h0m0 3.2h0m0 7.7h0m.1-13.8h0m0 3h0m0 21h0m.1-19.4h0m.1 15.6h0m.1-21h0m0 .2h0m.1-1.7h0m0 1.7h0m0 12.2h0m0 1.5h0m.1-18.5h0m0 3.1h0m0 24.9h0m.1-9.4h0m0 7.9h0m.1-26.1h0m0 5h0m0 1.9h0m0 6.4h0m.1-4.5h0m0 8.5h0m0 9.7h0m.1-10.6h0m0 13.7h0m.1-29.8h0m0 7.8h0m0 5.2h0m0 3.3h0m.1-.2h0m.1-10.6h0m0 16.1h0m0 1.6h0m0 7.1h0m.1-23.8h0m0 .8h0m0 9.9h0m0 10.5h0m.1-19.5h0m0 3.5h0m0 7.7h0m.1-3.4h0m.1-12.9h0m0 4.3h0m0 17.2h0m.1-17.1h0m0 9.5h0m.1-3.5h0m0 3.3h0m0 .3h0m.1-15.9h0m.1 7.1h0m0 .2h0m0 1h0m0 .5h0m0 1.7h0m0 5h0m0 2.8h0m.2-12.1h0m0 3.7h0m.1-8.2h0m0 4h0m0 1.3h0m0 5.4h0m.1-14h0m0 18.4h0m0 3.8h0m0 2.3h0m.1-17.5h0m0 10.3h0m.1-18.6h0m.1 19.9h0m0 2.4h0m0 9h0m.1-21.4h0m0 .3h0m0 2.9h0m0 1.5h0m0 7.5h0m.1-10.6h0m0 6.3h0m.1 0h0m0 8.9h0m.1-12.6h0m0 10.7h0m0 3.1h0m.1-20.2h0m0 4.2h0m0 5.4h0m.1-10.9h0m0 4.8h0m0 2.4h0m.1-13.2h0m0 15.8h0m0 0h0m.1-13.6h0m0 20.1h0m0 1.2h0m0 6.9h0m.1-28.4h0m0 5.8h0m0 19h0m.1-16.1h0m0 6.6h0m.1 14.9h0m.1-28.7h0m0 1.1h0m0 6.3h0m0 9.5h0m0 7.1h0m0 3.5h0m.1-31.8h0m0 3.4h0m0 2.3h0m0 9.7h0m0 4.7h0m0 2.5h0m0 4.6h0m.1-16.5h0m0 5.1h0m0 9.4h0m.1-15.3h0m0 1.1h0m0 1.5h0m.1-12.1h0m0 13h0m0 10.1h0m0 3.8h0m.1-27.2h0m0 20.3h0m0 10.6h0m.1-23.9h0m0 2.9h0m0 1.3h0m0 3h0m0 15.5h0m.1-31h0m0 4.1h0m0 14h0m0 3.3h0m0 10h0m0 4.2h0m.1-33.1h0m0 11.3h0m0 6.2h0m0 4.1h0m0 6.2h0m.1-22.8h0m0 7.4h0m0 5.7h0m0 11.1h0m.1-31.8h0m0 2.2h0m0 12.6h0m0 .3h0m0 4.4h0m.1-14.8h0m0 5.5h0m0 17.5h0m.1-16.9h0m0 1.8h0m.1-3.4h0m0 1.1h0m0 11h0m.1-3.1h0m0 1.7h0m.1-18.6h0m0 27.7h0m.1-10.2h0m0 2.4h0m0 1.8h0m0 3.2h0m.1-24.2h0m0 2.4h0m0 2.3h0m0 17.3h0m0 2.3h0m0 0h0m.1-24h0m0 .6h0m0 5.4h0m0 2.2h0m0 19.6h0m.1-25.6h0m0 19.2h0m.1-15.3h0m0 1.3h0m0 3h0m0 .3h0m0 15.9h0m0 4.7h0m.1-29.2h0m0 .1h0m0 1.2h0m0 10.4h0m0 .3h0m0 1.6h0m0 11.9h0m.1-25.8h0m0 2h0m0 8.5h0m0 4h0m0 5.7h0m0 .2h0m0 5.3h0m.1-13.4h0m.1-14.5h0m0 13.5h0m0 2.4h0m0 .1h0m.1-18.6h0m0 1.8h0m0 4.3h0m0 1.1h0m0 .3h0m0 6.1h0m0 5.7h0m0 .5h0m.1-14h0m0 5.7h0m0 15.6h0m.1-24.8h0m0 18.4h0m.1-11.6h0m0 9.2h0m0 1.3h0m0 1.7h0m.1-8.3h0m.1-1h0m0 20.2h0m0 3.8h0m.1-18.4h0m.1-14.6h0m0 9.4h0m0 5h0m0 10.1h0m0 6.5h0m0 .2h0m.1-30.9h0m0 2.2h0m0 18.9h0m0 4h0m.1-26.1h0m0 .8h0m0 4.6h0m0 12h0m.1-9h0m0 5.8h0m0 1.1h0m0 0h0m.1-3.4h0m0 .2h0m0 4.4h0m0 .4h0m0 .2h0m0 14.2h0m.1-22.4h0m0 20h0m.1-22.4h0m0 5.7h0m0 5.8h0m0 3.6h0m0 7.7h0m.1-15.2h0m0 .6h0m0 18h0m.1-30.9h0m0 7.1h0m0 7.2h0m0 5.4h0m0 .4h0m0 .5h0m0 1.7h0m.1-23h0m0 .4h0m0 8.3h0m0 1.6h0m0 7.7h0m.1-18.7h0m0 13.4h0m.1-11.3h0m0 15.2h0m0 9.5h0m0 6.4h0m.1-34h0m0 1h0m0 12.1h0m0 6h0m0 .7h0m0 15h0m.1-20.3h0m0 .2h0m.1 3.5h0m0 1.8h0m0 3.6h0m.1-22.3h0m0 5.4h0m0 5.3h0m0 0h0m0 6.3h0m.1-1h0m.1-19.1h0m0 7.4h0m0 .8h0m.1-1.9h0m0 .3h0m0 21.8h0m0 2.4h0m0 3.5h0m.1-33.5h0m.1 7h0m0 3.8h0m0 5.9h0m.1-8.5h0m.1 10.8h0m0 11.6h0m.1-29.8h0m0 6.4h0m0 .4h0m.1-2.1h0m0 5.2h0m0 .6h0m0 2h0m0 9.2h0m.1 .8h0m.1-23.7h0m0 21.8h0m.1-11.2h0m0 .1h0m0 2.8h0m0 13.3h0m.1-12.1h0m.1 .4h0m.1-9.6h0m.1-.9h0m0 1.8h0m0 .9h0m.1-3.1h0m0 16.8h0m0 10.1h0m.1-8.9h0m0 7.2h0m.1-23h0m0 17.5h0m.1-15.3h0m0 20.3h0m0 4.4h0m.1-31.4h0m0 10.1h0m0 5h0m.1-13h0m0 14.4h0m0 7.7h0m.1 .7h0m0 5.8h0m0 2.6h0m.1-27.8h0m0 11.9h0m0 1.2h0m.1-9.6h0m0 .4h0m.1-2.9h0m.1-5.1h0m.1 6.7h0m0 .5h0m0 .4h0m0 7.5h0m0 2.4h0m.1-4.5h0m.1-7.3h0m0 4.7h0m.1-7.8h0m.1 .1h0m0 5.6h0m0 5h0m.1-8.2h0m0 12.6h0m0 .7h0m.1-19.3h0m0 14.2h0m0 6h0m.1-21.7h0m0 5.7h0m0 13.2h0m0 .1h0m.1-13.2h0m0 8.5h0m0 0h0m0 4.6h0m0 4.9h0m.1-14.3h0m0 .9h0m0 16.7h0m0 2.3h0m.1-8h0m0 6.5h0m0 3.2h0m.1-3.7h0m0 .9h0m.1-28.2h0m0 2.1h0m0 2.8h0m0 5.1h0m0 3.1h0m.1 4.6h0m.1-10.1h0m.1 6.6h0m.1-5h0m0 8.2h0m.1 7.6h0m.1-10.8h0m0 7.7h0m0 .3h0m.1-6.5h0m0 .7h0m0 13.8h0m0 2.8h0m.1-9.6h0m0 5h0m.1-25.6h0m0 13.3h0m0 6.1h0m.1 2h0m.1-3.8h0m.1 .8h0m0 3.5h0m0 8.3h0m.2-5.9h0m.2-4.6h0m.1-20.5h0m0 4h0m0 6.8h0m0 8.7h0m.1-17.8h0m0 1.8h0m0 .7h0m0 19.9h0m.1-21.8h0m0 14.8h0m.2 4.8h0m0 3.4h0m.1 2.4h0m.1-25.4h0m0 8.4h0m.1-2.7h0m0 8.7h0m.1-12.8h0m0 9.7h0m0 2.3h0m0 4.3h0m.1-2.3h0m.1-1.9h0m.1-6h0m.1 10.3h0m0 .8h0m0 1.2h0m.1-4.5h0m.1 10.6h0m.1-19.5h0m0 4h0m.2-6.7h0m0 1.8h0m0 10.3h0m.1-4.3h0m.1-9.9h0m0 4.7h0m.1-6.3h0m0 9.3h0m0 1.5h0m.1-9.1h0m0 14.3h0m.1 7.4h0m0 .7h0m.2-22.8h0m0 8.5h0m.1 2.1h0m0 5.3h0m.1-13.3h0m0 4h0m0 10h0m.2-17.7h0m0 18.1h0m.3 4.7h0m.1-20.4h0m0 7.1h0m0 1.6h0m.2-2.8h0m0 12.1h0m.1-18.7h0m0 6.3h0m.1-1.3h0m.1 17.1h0m.1-22.4h0m0 4.3h0m0 1.8h0m0 4.6h0m0 7h0m0 3.9h0m.2-14.5h0m.4-3.2h0m.2 4.1h0m.1 10.4h0m.1-13.8h0m.4 12h0m.4-10.2h0m.1 7.1h0m0 .9h0m.4 .3h0m0 17.5h0m.3-17.9h0m.3-4.1h0m.5 28.8h0m.3-18.7h0m.4 8.8h0m1.1 .3h0m.4-29.3h0m.2 17h0m.1 8.9h0m.4-16.7h0m.1-6.3h0m0 35.5h0m.3-23.1h0m.5-1h0m.2 9.6h0m.1 3.1h0m.1 9.1h0m.3-29.7h0m.1 27.6h0m.1-31.6h0m.1 21.2h0m.3-31.5h0m.3 29.6h0m.9 7.1h0m.6 7.6h0m.5-42.8h0m0 14h0m1.4-2.5h0m1.5 5.3h0m1 23.2h0m.1-31.8h0m0 37h0m.4-39.5h0m0 22.9h0m.2-4.6h0m.3-9h0m0 1.4h0m.1 3.7h0m.2-3.2h0m0 3.4h0m.5-1.5h0m0 24.1h0m.1-31.7h0m.1 13.1h0m.1-2.2h0m0 4.5h0m0 10.9h0m.1-22.1h0m0 2.5h0m.1 7.5h0m.1-11.9h0m.1-3.1h0m0 9h0m.1-9.1h0m.2 11h0m.2-4.7h0m.2 26.4h0m.2-32.9h0m0 3.8h0m0 17.6h0m.2-5.2h0m0 4.7h0m.1-18.8h0m.4-.5h0m.1 9.6h0m0 1.9h0m0 3.8h0m.4-12.7h0m.1 1.8h0m.1 9.8h0m.1-15.5h0m.2 1.6h0m.2 13.8h0m0 3.8h0m.1-22.2h0m0 21.6h0m.1-19.3h0m.1 18.8h0m0 1.6h0m.1-1.5h0m0 6.4h0m.1-10.1h0m0 6.8h0m.1-5.8h0m0 7.8h0m.1-16.1h0m.1 16.7h0m.1-7.7h0m0 6.8h0m.1-10.8h0m0 11.1h0m.1-5.2h0m.2-5.7h0m.1 8.1h0m.1-23.6h0m0 10.4h0m.1-14.7h0m0 22h0m0 5h0m.1 .8h0m.1-26.7h0m0 7.2h0m0 14.8h0m0 3.3h0m0 2.1h0m0 1.1h0m0 3.5h0m.1-32.7h0m0 5.6h0m0 1h0m0 .9h0m0 16.6h0m0 3h0m.2-19.8h0m0 4.9h0m.1-7.4h0m0 5.1h0m0 2.3h0m0 7h0m.1-15.2h0m0 3.7h0m0 8.2h0m0 6.3h0m.1 5.8h0m0 1.2h0m.1-19.9h0m0 7.6h0m0 2.2h0m.1-19.4h0m.1 1.8h0m0 15.8h0m0 10.1h0m0 5.1h0m.1-3.2h0m.1-7.5h0m.1-17.9h0m0 17.1h0m.1 3.9h0m0 .8h0m.1-11.1h0m0 5.5h0m0 2.5h0m.2-23.4h0m.1 26.5h0m0 2.5h0m.1-25.7h0m0 5.9h0m0 12.2h0m0 5.4h0m.2-23.2h0m0 18.5h0m0 3.2h0m.2-5h0m0 13.3h0m.1-.4h0m0 1h0m.1-25h0m0 26.7h0m.1-17.5h0m0 11.8h0m.1-31.1h0m0 22.1h0m0 9.4h0m0 5.8h0m.1-26.4h0m0 2.8h0m0 8.8h0m.1-22.8h0m0 25.9h0m.1-23.6h0m0 26.1h0m.1-27.5h0m0 30h0m0 2.6h0m0 3h0m.1-4.3h0m0 1.4h0m0 2h0m0 .6h0m.1-22.6h0m0 18.1h0m0 5.7h0m.1-36.6h0m0 32.7h0m0 1.3h0m.1-25h0m.1 5.5h0m0 13.2h0m0 5.1h0m0 3.2h0m.1-23.2h0m0 6.7h0m0 2.1h0m.1-14.6h0m0 20.6h0m0 .9h0m0 .4h0m.1-2.8h0m.1-21.7h0m0 6.1h0m0 26.6h0m.1-11.4h0m.1-24.4h0m0 2.4h0m0 33.1h0m.1-13.9h0m0 1.8h0m.1-1.3h0m.1-18.6h0m0 1h0m0 10.1h0m0 2.9h0m0 8.7h0m0 7.7h0m.1-20.1h0m0 2.6h0m0 10h0m0 4.6h0m.1-11.7h0m0 4.7h0m.1 .9h0m0 .1h0m.1-27.2h0m.1 13.2h0m0 1.7h0m0 6.5h0m.1 6.1h0m.1-7.1h0m0 2.2h0m.1-22.4h0m0 7.5h0m0 .9h0m0 10.7h0m0 14.9h0m0 1.1h0m.1-31.4h0m0 15.9h0m.1 3h0m0 6.8h0m.1-7.9h0m0 2.2h0m0 .6h0m.1-16.3h0m0 6.7h0m0 8.5h0m0 9.3h0m0 5.9h0m.1-41.3h0m0 28.9h0m0 8.7h0m0 5.4h0m.1-39.9h0m0 21.9h0m0 .4h0m0 9.7h0m.1-30.1h0m0 14.6h0m0 4.5h0m0 1.9h0m0 3h0m0 9.7h0m.1-39h0m0 6.3h0m0 .6h0m0 1.1h0m0 9.1h0m0 7.4h0m0 9.7h0m0 1.3h0m0 2.5h0m.1-34h0m0 1.7h0m0 17.4h0m.1-23.3h0m0 9.2h0m0 16.3h0m.1-1.4h0m0 4.4h0m0 7.1h0m.1-10.9h0m0 4.5h0m.1-.5h0m.1-4.7h0m0 8.4h0m0 3.2h0m.1-9.5h0m0 4.7h0m0 6.4h0m.1-5.1h0m0 .7h0m0 3.6h0m0 2.9h0m.1-15.6h0m0 10.2h0m0 4.7h0m0 .7h0m.1-25.4h0m0 12.7h0m.1-11.4h0m0 21.6h0m0 .1h0m.1-37.4h0m0 10.9h0m0 11.8h0m0 1.8h0m0 13.9h0m0 2.5h0m.1-32.6h0m0 12h0m0 2.3h0m0 1.3h0m0 3.4h0m.1-22h0m0 0h0m0 24.8h0m0 11h0m.1-31.7h0m0 4.1h0m0 4.6h0m0 3.9h0m0 3.4h0m0 7.1h0m0 3.5h0m.1-27.3h0m0 11.3h0m0 10.5h0m0 6.9h0m.1-20.8h0m0 6.8h0m0 2.2h0m0 .7h0m0 16.3h0m.1-17.9h0m0 1.5h0m0 2.8h0m0 2h0m.1-14.8h0m0 5.3h0m0 1.4h0m0 6.1h0m0 8.3h0m.2-7.7h0m0 7.1h0m.1 2.5h0m.1-36.9h0m0 1.4h0m0 18h0m0 .4h0m0 1.8h0m.1 5.8h0m.2-22.4h0m0 .8h0m0 11.7h0m0 1.4h0m.1 3.2h0m.1-24.7h0m0 6.8h0m0 16.4h0m0 7.5h0m0 12.1h0m.1-41h0m0 7.3h0m0 18.7h0m0 4.1h0m0 3h0m0 5.7h0m.1-33.6h0m0 17.7h0m.1-18.4h0m0 35.2h0m.1-11.8h0m0 2.4h0m.1-29.2h0m0 7.9h0m0 16h0m0 10h0m.1-26.5h0m0 3.1h0m0 25.4h0m0 3.9h0m.2-33h0m0 19.7h0m0 6.2h0m0 3.1h0m.1-8.9h0m0 2h0m.1 6.8h0m.1-1.3h0m.1-10h0m0 11.7h0m.2-37.9h0m0 4.4h0m0 6.5h0m.1-.3h0m0 21.3h0m0 2.7h0m0 6.8h0m.1-18.2h0m0 10.7h0m0 7.4h0m0 3.9h0m.1-46.8h0m0 9.6h0m0 12.4h0m.1-7.9h0m0 7.9h0m0 12h0m0 .1h0m.1-31.8h0m0 21.3h0m0 13.2h0m.1-31.8h0m0 4.8h0m0 14.5h0m0 16h0m.1-39.9h0m0 24.2h0m0 2.1h0m0 6h0m.1-13.6h0m0 8.6h0m0 5.6h0m0 1.2h0m0 5.4h0m0 5.4h0m.1-17.5h0m.1-22.3h0m0 10.7h0m0 3.6h0m0 5.7h0m0 1.6h0m0 4.4h0m0 6.5h0m0 5.8h0m.1-34.7h0m.1 15.1h0m0 14.8h0m.1-12.8h0m0 5.5h0m0 5h0m0 8.3h0m.1-15.1h0m0 8.7h0m.1-38.9h0m0 18.9h0m0 6.7h0m0 1.4h0m0 11.7h0m0 2.3h0m0 1.4h0m.1-19.4h0m0 17.3h0m0 .9h0m0 2.4h0m.1-36.7h0m0 .6h0m0 11h0m0 13h0m0 .1h0m.1-10.7h0m0 1.3h0m0 4.1h0m0 4.8h0m0 8h0m.1-21.5h0m0 7.3h0m0 0h0m0 11.7h0m.1-22.5h0m0 16.9h0m0 1.1h0m0 3.8h0m0 1.1h0m0 2.1h0m.1-26.6h0m0 32h0m.1-17.5h0m0 19.6h0m.1-24.1h0m0 11.4h0m0 .3h0m0 2.5h0m.1-21.7h0m0 5.4h0m0 2.2h0m0 6h0m0 3.3h0m.1-7.7h0m0 7.9h0m.1-17.8h0m0 6.6h0m0 .7h0m0 4h0m0 .9h0m0 .6h0m0 15.7h0m0 2.6h0m.1-18.7h0m0 1.3h0m0 6.6h0m0 6.2h0m.1-18.6h0m0 13.6h0m.1-6.2h0m0 14.6h0m0 3.1h0m.1-30h0m0 9.3h0m0 4.2h0m0 4.7h0m0 11.9h0m.1-47.8h0m0 5.7h0m0 4.3h0m0 14.7h0m0 3.7h0m0 5.3h0m0 4.7h0m.1-18.2h0m0 5.2h0m0 5.7h0m0 8.3h0m.1-16.9h0m0 3h0m0 17.5h0m0 3.6h0m.1-37.2h0m0 7.1h0m0 9.4h0m0 2.5h0m0 .8h0m0 3.5h0m0 3.7h0m0 4.6h0m0 3.5h0m0 1h0m0 1.1h0m.1-29.1h0m0 7.7h0m0 2.9h0m0 1.5h0m0 4.5h0m0 4.1h0m.1-26.1h0m0 27.4h0m.1-35.4h0m0 4.1h0m0 5h0m0 12.6h0m0 7h0m0 .2h0m0 2.6h0m0 5.7h0m.1-6.6h0m0 4.5h0m0 .7h0m0 2.1h0m0 5.8h0m.1-34.4h0m0 5.8h0m0 19.8h0m.1-36.1h0m0 25.2h0m0 3.8h0m0 4.3h0m.1 2h0m.1-27.1h0m0 12.6h0m.1-12.2h0m0 8.2h0m0 3.4h0m0 18.6h0m.1-17.9h0m0 7.4h0m0 .3h0m.1-28.5h0m0 26.5h0m0 5.9h0m0 2.3h0m.1-19.6h0m0 10.7h0m0 4.5h0m.1-22.8h0m0 28.1h0m.1-34h0m0 6.5h0m0 13.6h0m0 4.6h0m0 3.3h0m0 7.5h0m0 7.1h0m.1-27.8h0m0 8h0m0 .2h0m0 .5h0m.1-23.8h0m0 20.9h0m0 5.1h0m0 6.2h0m.1-21.1h0m0 3.7h0m0 5.6h0m0 3.1h0m0 5.5h0m0 .6h0m0 5.4h0m.1-36.5h0m0 12.1h0m0 2.2h0m0 7.7h0m0 .9h0m0 3.7h0m0 .8h0m0 5.5h0m.1-26.9h0m0 8.6h0m0 10.8h0m0 3.4h0m0 12.4h0m.1 .9h0m.1-43h0m0 7.4h0m0 30.4h0m.1-19.4h0m0 5.8h0m.1 2.2h0m0 5.6h0m0 7h0m0 .3h0m0 1.4h0m0 .4h0m.1-31.7h0m0 8.8h0m0 7.5h0m.1-4.6h0m.1-6.3h0m0 14.8h0m.1-20.5h0m0 18.7h0m0 3.9h0m0 .7h0m0 5.4h0m0 8.1h0m.1-43h0m0 12.7h0m0 6.4h0m0 2.6h0m0 1.4h0m0 4.9h0m0 3.2h0m.1-6.6h0m0 .7h0m0 9.1h0m.1-34.1h0m0 17.5h0m.1-10.3h0m0 12.8h0m0 16.6h0m.1-15h0m0 7.5h0m0 4.8h0m.1-32.2h0m0 21.1h0m0 7.9h0m0 7h0m0 .8h0m.1 .7h0m.1-40.7h0m0 16.4h0m0 1.6h0m0 14.7h0m.1-23.9h0m0 11.5h0m.1-9h0m0 18.8h0m.1-14.2h0m0 7.6h0m0 1.3h0m0 14.3h0m.1-21.2h0m0 4.4h0m0 5.1h0m0 2.8h0m0 .5h0m0 6.3h0m.1-10.4h0m0 12h0m0 1.7h0m0 3h0m.1-30.2h0m0 10h0m0 8.7h0m0 11.3h0m0 .5h0m.1-40.6h0m0 32h0m.1-23.4h0m0 4.3h0m0 3.9h0m0 4.8h0m.1-21.1h0m0 38.3h0m.1-40.3h0m0 11.6h0m0 1.4h0m0 4.2h0m0 6.4h0m0 .1h0m0 12.7h0m.1-28.6h0m0 19.4h0m0 5.2h0m0 .8h0m0 5.3h0m0 .2h0m0 1h0m.2-41.6h0m0 17.4h0m0 1.8h0m0 8.8h0m0 4.9h0m0 2.2h0m0 3.3h0m0 4.3h0m.1-11.2h0m.1-7.3h0m0 6.1h0m0 2.7h0m.1-29.5h0m0 20.2h0m.1-25.5h0m0 14.4h0m0 7.1h0m0 9.6h0m0 7.5h0m.1-31.5h0m0 4.8h0m0 3.4h0m0 20.1h0m.1-6.8h0m0 1.2h0m0 5.2h0m0 4h0m.1-9.7h0m0 11.3h0m.1-4.5h0m.1-13.9h0m0 3.3h0m.1 13.8h0m.1-28.8h0m0 5.5h0m0 18.2h0m0 9.4h0m.1-35.9h0m0 9.4h0m0 19.1h0m.1-30.4h0m0 25.6h0m0 .7h0m0 4.7h0m.1-22.3h0m0 20.7h0m0 6.5h0m.1-35.1h0m.1 2.9h0m0 4.3h0m0 20.1h0m0 1h0m0 .1h0m.1-32.2h0m0 19.2h0m0 8.4h0m0 2.6h0m0 4.1h0m0 4h0m0 2.6h0m.1-22.5h0m.2 5h0m0 5.7h0m.1-21.7h0m0 12.5h0m0 4.9h0m0 11.6h0m.1-17.1h0m0 13.4h0m.1-28.1h0m.1 16.1h0m0 .7h0m.1-16.6h0m0 6h0m0 9.8h0m0 16.6h0m.1-17.5h0m.1-18.9h0m0 22.2h0m0 12.3h0m.1-33.7h0m0 31.2h0m.1-30.1h0m0 17.6h0m.1-17.8h0m0 17.4h0m0 12.8h0m0 3h0m.1-8.7h0m0 5.2h0m.1-23.5h0m0 2.4h0m0 7.2h0m0 17.8h0m0 4h0m.1-37.4h0m0 18.8h0m0 6.6h0m.1-16.1h0m0 1.3h0m0 12.7h0m0 1.4h0m.1-15.2h0m0 19.3h0m.1-1.2h0m.1-21.8h0m.1 8h0m0 16.9h0m0 5h0m.1-17.4h0m.1-4.8h0m0 8h0m0 3h0m0 2h0m0 .6h0m.1-25.2h0m0 7.7h0m0 4.1h0m0 8.1h0m0 5.2h0m0 1.5h0m0 4.9h0m0 1h0m.1-5.5h0m.1-1.4h0m0 4h0m.1-8.9h0m0 7.4h0m0 4.5h0m.1 1.7h0m.1-10h0m0 4.5h0m.1-16.7h0m0 4.7h0m0 3.5h0m0 .5h0m0 3.2h0m0 .8h0m0 5.6h0m0 2.4h0m0 1.9h0m.2-12.4h0m0 4.4h0m.1-31.2h0m0 25h0m0 11.8h0m0 1.3h0m.1-32h0m0 19h0m0 16.1h0m.1-21.2h0m0 9.2h0m.1-24.2h0m0 8h0m0 8.4h0m0 3.5h0m0 2.2h0m.1-3.1h0m0 .7h0m0 10.4h0m.1-23.3h0m0 3.3h0m0 6.1h0m0 9.9h0m0 3.7h0m0 1.6h0m0 3.8h0m.1-37.1h0m0 4.2h0m0 4.3h0m0 4h0m0 22.8h0m.2-35.4h0m0 27.2h0m0 6.6h0m.1-8.4h0m.1-1h0m0 9.6h0m0 1.9h0m.1-16.8h0m.1-1.1h0m.1-7.2h0m0 5.5h0m0 6.7h0m.1-22.6h0m0 20.4h0m.1-13.3h0m0 2.3h0m0 11h0m0 4.7h0m0 4.2h0m.1-4.5h0m.1 5.6h0m.1-12.8h0m.1-14.3h0m0 19.6h0m0 3h0m.1-6.9h0m.1-22h0m0 36h0m.2-6.5h0m.1-18.1h0m0 3.5h0m0 3.3h0m0 11.2h0m0 4.2h0m.1-20.8h0m0 20.7h0m.1-2h0m0 3.9h0m.1-23.2h0m0 9.6h0m0 4.2h0m0 .5h0m.1-24h0m.1 15.2h0m.2 15.3h0m.1-29.7h0m0 30.5h0m0 3.7h0m.1-37.1h0m0 .7h0m0 9.9h0m0 16.6h0m.2-4.8h0m0 4.9h0m0 8h0m0 2.3h0m.2-8.7h0m.1-17h0m0 25.2h0m.1-34.2h0m0 6.5h0m0 14.2h0m0 1.8h0m0 5.9h0m.1-28.7h0m0 8.2h0m0 5.5h0m.1 5.8h0m0 6.9h0m.1-11.8h0m0 14.6h0m.1-29.2h0m.1 1.4h0m0 23.9h0m0 .8h0m0 2.6h0m0 .4h0m.1 1.3h0m.2-5.3h0m.1-21.7h0m0 6.4h0m0 11.1h0m0 10.9h0m.3-24.3h0m0 19.4h0m0 1.8h0m.1-22.8h0m0 25.3h0m.2-19.4h0m0 9.1h0m.1-21.6h0m0 29.6h0m.1-24.7h0m0 15.4h0m0 .4h0m0 .7h0m0 4.3h0m0 1h0m0 .5h0m.1-25.6h0m.1 14.2h0m.1-1.1h0m.1-2h0m.1 3.7h0m.1-2.7h0m0 14.5h0m.1 .1h0m.2 1.2h0m.2-12.8h0m.1 12.4h0m.1-24.3h0m0 6.2h0m0 2.2h0m0 1.9h0m.1-.5h0m0 2.8h0m.1 1.9h0m0 5.1h0m0 2.4h0m.1 4.5h0m.1-18.9h0m0 7.5h0m.1-5.7h0m.1-1.3h0m.1 16.7h0m.1-15.6h0m.2 15.2h0m.1-7h0m.1-1.3h0m.1-2.3h0m.1-1.2h0m0 6.5h0m.3-14.8h0m0 .4h0m0 4.1h0m0 1.2h0m0 1h0m.1 1.9h0m.2-.5h0m0 .2h0m.1 5.6h0m.2-14.5h0m0 11.2h0m.2-12.7h0m.3 7h0m.1 .1h0m.1-4.6h0m.6 5h0m0 10.2h0m.3-10.4h0m.1 8.4h0m.6-2.8h0m.2-3.5h0m13.1-2.6h0m.6 3.2h0m.1 .5h0m.9 2.4h0m.1-5.8h0m.1-3.8h0m.3-.2h0m0 4.2h0m.1 .3h0m0 .6h0m.1-8.9h0m0 11.5h0m.1-1.6h0m0 3.4h0m.3 .5h0m.1-14.8h0m0 3.6h0m.1-3.9h0m.1 8.6h0m.1-9.6h0m0 19.6h0m.1-5h0m.1-3.5h0m.1-1.1h0m0 .8h0m.1 7.8h0m.1-1h0m.1-10.4h0m.1 6.9h0m.3-5.7h0m.1-9.1h0m0 13.2h0m.1 .2h0m.1 8.6h0m.1-10.1h0m.1-10.4h0m0 10.4h0m0 .5h0m.2-6.2h0m.1-6.9h0m0 3.1h0m.1 1.7h0m0 12.1h0m.1-13.1h0m0 12.2h0m.1-16h0m0 5.5h0m.1 10h0m0 5.9h0m.1-9.1h0m.1-4.5h0m0 17.9h0m.1-13.9h0m0 10.9h0m.1-21h0m0 4h0m.1 5.3h0m0 7.4h0m0 4.4h0m0 2.8h0m.1-11.7h0m.1-4h0m.2-6.9h0m.1 3.1h0m0 2.9h0m0 1.9h0m.1-7.2h0m.1-6.2h0m0 5.2h0m0 4.7h0m0 5.1h0m0 7.2h0m.1-12.9h0m0 1.6h0m0 11.5h0m.1-21.2h0m0 5.9h0m0 .1h0m0 3h0m0 11.7h0m.1-10h0m0 3.3h0m.1-8.8h0m0 1.5h0m0 5.8h0m0 3.2h0m.1-1.3h0m0 1.4h0m.1-11.4h0m.1-.5h0m0 6.9h0m0 4h0m0 .7h0m0 1.3h0m.1-9.3h0m0 3.6h0m0 9.5h0m.1-18.7h0m.1 .9h0m0 6.9h0m0 5.9h0m.1-13.7h0m0 4.3h0m0 8.2h0m0 11.9h0m.1-25.8h0m0 9.4h0m0 8.7h0m.1-12.3h0m0 3.7h0m0 9.6h0m.1-15.3h0m0 .8h0m0 .3h0m0 .3h0m.1 3h0m0 8.1h0m.1-9h0m0 13.3h0m.1-8.3h0m0 5.2h0m0 5.4h0m0 4.2h0m.1-23.5h0m0 3.4h0m0 .6h0m0 1.4h0m0 2.1h0m0 .6h0m0 2.1h0m0 2.5h0m.1-4.8h0m0 1.9h0m0 5.3h0m.1-16.5h0m0 2h0m.1-3.9h0m0 3.6h0m0 13.2h0m.1-11.6h0m0 8h0m0 4.6h0m.1-5.2h0m.1-12.4h0m.1 8.8h0m0 10.9h0m.1-13.1h0m0 .2h0m0 9.4h0m.1-15.8h0m0 16.6h0m.1 2h0m.1-19.3h0m0 .6h0m0 12.2h0m.1-13.1h0m.1 6.1h0m0 1.6h0m0 7.7h0m.1-2.8h0m0 13h0m.1-26.7h0m0 22.9h0m.1-16.2h0m0 .4h0m0 2.9h0m0 7.7h0m.1-9.9h0m.1-7h0m0 19h0m.1-20.5h0m0 14.3h0m.1-7.6h0m0 .5h0m0 0h0m0 5.6h0m.1-9.9h0m0 10.8h0m0 16.6h0m.1-29.8h0m0 2.9h0m0 9.4h0m.1-7.8h0m0 2.1h0m0 2.3h0m0 1.3h0m0 3.6h0m.1-10h0m0 14.8h0m.1-10.6h0m0 16.2h0m.1-19.7h0m0 3.5h0m0 12.4h0m.1-20h0m0 2.6h0m0 2.3h0m0 19.2h0m.1-12h0m0 8.9h0m.1-10h0m0 1.5h0m0 2.8h0m0 8.2h0m0 4.6h0m.1-23.6h0m0 .3h0m0 1h0m0 21.6h0m.1-23.9h0m0 9.1h0m0 2h0m0 .9h0m0 5.1h0m0 1.9h0m0 .2h0m.1-15.9h0m0 2.5h0m0 5.6h0m0 2.9h0m0 6.8h0m.1-20.7h0m0 14h0m.1-17.7h0m0 1.1h0m0 4.8h0m0 4h0m0 5.2h0m0 1.5h0m.1-18.8h0m0 6.3h0m0 7.9h0m0 14.1h0m.1-26.8h0m0 8.2h0m0 3.1h0m0 2.3h0m.1-11.1h0m0 .5h0m0 2.7h0m0 3.3h0m0 3.2h0m0 .3h0m.1 11.7h0m.1-17.6h0m0 4.4h0m0 14.7h0m.1 .6h0m.1-21.7h0m0 .2h0m0 1.5h0m0 1.3h0m0 4.4h0m0 2.3h0m0 7.1h0m.1-9.6h0m0 5.5h0m0 1.2h0m0 2.5h0m.1-15.2h0m0 .3h0m0 4.6h0m0 .4h0m0 6.1h0m0 12.4h0m.1-25.5h0m0 3h0m.1 10.8h0m.1-19.8h0m0 4h0m0 2.6h0m0 1.8h0m0 3.8h0m0 9h0m.1 6.2h0m0 .4h0m.1-21.1h0m0 2.6h0m0 6.9h0m0 8.6h0m.1-12.5h0m0 .7h0m0 7h0m0 6.1h0m.1-20.5h0m.1 8.6h0m0 2h0m0 1.2h0m.1-9.7h0m.1-6.8h0m0 10h0m0 .5h0m0 18.4h0m.1-20.8h0m.1-5.4h0m0 5.5h0m0 6.1h0m0 2h0m.1-14.1h0m0 3.9h0m0 24h0m.1-16.7h0m0 1h0m.1-12.8h0m0 4.6h0m0 4.6h0m0 4h0m.1-13.6h0m0 1.7h0m0 7.2h0m.1 3.3h0m0 11.7h0m0 1.6h0m.1-11.4h0m.1-10.5h0m0 19.7h0m.1-14.1h0m.1-4.7h0m0 1.8h0m0 1.6h0m0 .7h0m0 6.5h0m0 6.3h0m.1-21.6h0m0 2.9h0m0 19.7h0m0 1.2h0m0 6h0m.1-29.2h0m0 5.1h0m0 .9h0m0 .4h0m0 3h0m0 .4h0m0 19.4h0m.1-31h0m0 11.1h0m0 2.3h0m0 2.6h0m.1-9.8h0m0 .5h0m0 .2h0m0 .3h0m.1 4.3h0m0 1.7h0m.1-8.3h0m0 6h0m0 2.5h0m0 7.1h0m.1-18.6h0m0 16.7h0m.1-10.8h0m0 5h0m0 1.8h0m0 6.7h0m.1-18h0m0 .3h0m0 6.5h0m.1 .6h0m0 4.9h0m.1-11h0m0 2h0m0 13.3h0m0 .6h0m.1-11.7h0m0 14.4h0m0 4.8h0m0 .8h0m.1-22.9h0m0 10.2h0m0 6.8h0m.1-18h0m0 8.1h0m0 9.3h0m.1-20.2h0m0 6.4h0m0 15.2h0m.1 1.3h0m.1-16.6h0m0 19.6h0m.1-23.6h0m0 8.7h0m0 5.9h0m.1 5.8h0m.1-20h0m0 4.9h0m.1-2.2h0m0 .5h0m0 .6h0m0 1.7h0m0 10.2h0m.1-6.3h0m.1-10.8h0m0 4.9h0m0 2.1h0m.1-9.5h0m0 .4h0m0 3.1h0m0 24.5h0m.2-23.7h0m0 .1h0m.1-.2h0m0 22.1h0m.1-18.4h0m.2 4.3h0m0 1.9h0m0 11.6h0m.1-15.9h0m0 6.7h0m0 3.4h0m0 .9h0m0 1.8h0m.1-21.1h0m0 2.3h0m0 21.3h0m.1-23.5h0m0 11.4h0m0 2.1h0m.1 3.3h0m0 9.8h0m.1-21.8h0m0 14.7h0m0 3.4h0m.1-21.7h0m0 4.8h0m0 3h0m0 1.8h0m.1 14h0m.1-20.6h0m0 5.1h0m.1-7.3h0m.1 11.1h0m0 11.4h0m.1-17.9h0m.1-5h0m0 17.5h0m.1-16.5h0m0 .4h0m0 22.1h0m.1-24.2h0m0 4h0m0 1h0m0 1.9h0m0 10.4h0m0 7.3h0m.1-6.6h0m.1-12h0m0 13.3h0m0 2.9h0m.1-19.6h0m0 9.3h0m.1-5.9h0m0 17.3h0m.1-2.9h0m.1-14.9h0m0 1.7h0m0 6.4h0m0 .1h0m.1-10.5h0m0 .2h0m0 2.7h0m0 .9h0m.1-4.8h0m0 5.2h0m0 0h0m0 8.7h0m0 4h0m0 2.2h0m.1-21.5h0m0 .4h0m0 7h0m0 9.1h0m.1-16.2h0m0 16.7h0m.1-15.9h0m0 2.7h0m0 6h0m.2-9.2h0m.1-1h0m0 5.3h0m0 7.2h0m0 5.2h0m.1-11.6h0m0 3.7h0m.1 1h0m0 11.6h0m.1-14.1h0m0 .7h0m0 5.9h0m.1 4.2h0m.1-15.3h0m0 1h0m0 8.1h0m0 .7h0m0 6.3h0m.1 .6h0m.4-11.2h0m0 10.5h0m.1-13.6h0m0 5.7h0m.2-1h0m0 6.6h0m.1-15.8h0m0 3.2h0m.1-1.3h0m.2 8.4h0m0 1h0m.1-7.1h0m0 9.2h0m.1-8.5h0m0 12.5h0m.2-6.2h0m0 3.6h0m0 1.2h0m.1-2.5h0m.4-10h0m0 6.1h0m.2-1.3h0m.4 .7h0m.2 .6h0m.1 12.6h0m.6 1.7h0m.4 2.4h0m2.2 2.6h0m.4-24.8h0m.2 22h0m0 1.7h0m.2-2.6h0m.8-5h0m0 9.3h0m.2-13.2h0m.3-15.1h0m.4 6.1h0m0 29.8h0m.2-.8h0m.4-15.4h0m.2-1.9h0m.6-10h0m.3 20.9h0m.2-23.1h0m.1 21.6h0m.1-2.6h0m.3 8.8h0m.2 4.5h0m.5-39.7h0m.4 10h0m0 16.1h0m.1-7.8h0m.1 16.3h0m1-1.7h0m.2 4h0m.8-26.8h0m.1 3.4h0m.1-3.3h0m.3 6.8h0m0 7.9h0m.3-7.7h0m.2-8.5h0m.2 7.5h0m.3 10.4h0m.2-8.6h0m.2-13.3h0m0 13.8h0m.1-14.6h0m0 16.2h0m0 18.6h0m.1-20.4h0m.1-1.3h0m.1-10.6h0m0 .4h0m.1-2.8h0m0 14.3h0m0 11.6h0m.1-27.3h0m.1 20.7h0m0 .1h0m0 .3h0m.1-23.5h0m0 6.6h0m0 15.5h0m.1-16.9h0m0 1.4h0m0 2.3h0m0 10h0m.1-11.9h0m.2-6.2h0m.1 3.3h0m.1-3.6h0m0 10.2h0m0 5.6h0m0 5.2h0m.1-15.7h0m0 10.9h0m.1-18.1h0m0 13.1h0m.1-14.4h0m.1 17.5h0m0 2.2h0m.2-18.4h0m0 19h0m0 3.9h0m.2-10.5h0m0 8.7h0m.2-18.5h0m.1 20.3h0m0 4.2h0m.2-16.6h0m.1-6.9h0m.2-4.5h0m0 18.1h0m.1-13.4h0m0 15.4h0m0 8.2h0m.1-30.6h0m0 20.3h0m0 3.1h0m.1-8.2h0m0 8.2h0m.3-4.9h0m.1-7.1h0m0 12.7h0m.2-25.4h0m.1 10.5h0m0 6h0m.1-7.3h0m0 7.2h0m0 1.2h0m0 10.3h0m.2-22h0m0 7.4h0m.1-6h0m0 6h0m0 16.2h0m.1-22.9h0m.1-7.2h0m.1 20h0m0 .2h0m0 13.9h0m.1-27.9h0m0 4.9h0m.1 20.9h0m.3-12.6h0m.1 10.4h0m.1 1.9h0m.1-19.8h0m0 21.6h0m.1-14.6h0m.1-5.1h0m.1-8.4h0m0 15h0m0 4.4h0m.1-1.4h0m.3-20.2h0m.1-3.5h0m0 18.5h0m0 6.9h0m.1-9.9h0m0 19.9h0m.1-24h0m.1 11.1h0m.1 15.5h0m.1-32.7h0m0 28.4h0m.1 .4h0m0 1h0m.1-25.4h0m0 28.1h0m.1-36.4h0m0 6.9h0m0 23h0m.1-30h0m0 13h0m0 11h0m0 .7h0m.1-20.6h0m0 18.3h0m0 6.3h0m.2-4.6h0m.1-8.6h0m0 5h0m.2-15.4h0m0 19.3h0m0 .6h0m0 1.4h0m.1-17.8h0m0 .1h0m0 5h0m0 8.1h0m.1-8h0m.1 1.6h0m0 18.3h0m.1-36.3h0m0 2.7h0m0 9.2h0m0 6.2h0m.2-3.8h0m0 7.3h0m0 .1h0m.3 7h0m.1-27.4h0m.1 24.8h0m.1-12.8h0m.1-2.4h0m0 3.3h0m0 12.1h0m0 7.5h0m.2-37.2h0m0 19.2h0m0 9.5h0m.1-6.5h0m.1-18.6h0m.1 3.3h0m0 28.3h0m.1-33.9h0m0 5.2h0m.1 5.5h0m.1 2.2h0m.1-5.8h0m0 5.1h0m.2-13.9h0m0 30.1h0m.1-11.4h0m0 15.5h0m.1-2.1h0m.1-5.8h0m0 5.4h0m0 8.4h0m0 4.6h0m.1-37h0m0 16.6h0m.1 6.2h0m.1 .8h0m0 .1h0m.1 14.4h0m.1-37.8h0m0 16.1h0m0 9.7h0m.1 3.6h0m0 2.9h0m0 4.9h0m.1-33.9h0m0 3.5h0m0 7.9h0m.1-8.6h0m0 15.2h0m0 4.9h0m0 3.5h0m.2-30.7h0m0 15.4h0m.1 10.9h0m0 8.9h0m0 .4h0m.1-26h0m0 5.8h0m0 13.6h0m0 2h0m.1-33.9h0m0 3.1h0m0 14.5h0m0 3.2h0m0 14.4h0m.1-35.9h0m0 6.9h0m0 1.8h0m0 6.4h0m0 11.9h0m.1 .9h0m.1-8h0m0 14.8h0m.1-31.6h0m0 17.8h0m0 3h0m.1-9.3h0m0 10.5h0m0 11.4h0m0 5.5h0m.1-25.3h0m0 13.7h0m.1-14.7h0m0 10.4h0m.1-25h0m.1 13.2h0m.1-13.1h0m0 4.7h0m0 3h0m0 9h0m.1 2.5h0m0 3.5h0m.1 6.5h0m0 6.2h0m.1-39.4h0m0 .3h0m0 18.3h0m0 10.5h0m.1-15.4h0m.1-13.3h0m0 4.4h0m0 26.4h0m.1-16.1h0m0 20h0m0 4.3h0m.1-21.4h0m0 2h0m.1-16.8h0m.2 5.7h0m0 1.5h0m.2-8.1h0m0 12h0m0 26.1h0m.1-37.2h0m0 27.1h0m.1 4.2h0m.1-24.8h0m0 .4h0m0 20.9h0m0 4.9h0m.1-38h0m0 11.1h0m0 5.9h0m0 1.5h0m.1-1.3h0m0 30.5h0m.1-22.6h0m.1-4.3h0m0 7.6h0m.1-27.3h0m0 11.5h0m0 29.1h0m.1-29.3h0m.1-3.2h0m0 .3h0m0 12.5h0m0 14.3h0m.1-9.8h0m.1-16.9h0m0 34.4h0m.1-26.2h0m0 9.7h0m0 1h0m0 15.3h0m.1-17.2h0m0 17.5h0m.1-33.7h0m0 3.2h0m0 23.6h0m0 6.9h0m0 .8h0m.1-36.2h0m0 16.5h0m.1 .8h0m0 3.9h0m0 15h0m.1-39.5h0m0 1.9h0m0 4.5h0m0 14.2h0m0 1h0m0 1.8h0m0 .5h0m.1-20.4h0m0 1.9h0m0 19.7h0m.1-14.1h0m0 14.8h0m.2 15h0m.1-6.8h0m0 3.2h0m.1-21.5h0m0 6.1h0m0 11.6h0m0 5.4h0m.1-28.4h0m.1 14.7h0m.1-6.9h0m0 13.7h0m.1-33.1h0m0 18.8h0m0 1.1h0m0 4.9h0m0 15.1h0m.1-35.3h0m0 2.5h0m0 0h0m0 7.3h0m0 10.2h0m0 .2h0m.1-14.4h0m.1-2.7h0m0 8.7h0m0 1.5h0m0 9.4h0m.1-13.7h0m0 15h0m0 5h0m0 10.6h0m.1-28.2h0m0 8.4h0m0 3.6h0m.1 1.4h0m0 5.2h0m.1-10.4h0m0 7.6h0m0 12.1h0m.1-37.1h0m0 2.1h0m0 5.7h0m0 4.5h0m0 4.2h0m0 1.8h0m.1-21.1h0m0 14.9h0m0 1.8h0m.1-13.7h0m0 1.6h0m0 9.8h0m0 14.2h0m0 .4h0m.1-13h0m0 18.5h0m0 .8h0m.1-8.2h0m0 11.3h0m.1-24h0m.1-21.9h0m0 12.1h0m.1 8h0m0 4.3h0m.2 12.6h0m.1-34.1h0m0 .1h0m0 13.6h0m0 1.6h0m0 1.1h0m0 1.5h0m0 20h0m.1-17.6h0m0 1.6h0m0 14.4h0m.1-39.3h0m.2 39.1h0m.1-23.3h0m0 2.1h0m0 6.9h0m0 2.8h0m.1-5h0m0 14.2h0m.1-14.2h0m0 2.4h0m0 18.8h0m0 .6h0m.1-13.1h0m0 1.8h0m0 13.7h0m.1-30.7h0m0 2.3h0m0 .7h0m0 8.8h0m0 5.1h0m0 1.6h0m.1-33.9h0m0 15.3h0m0 23.4h0m.1-30h0m0 6.3h0m.1 6h0m0 14.1h0m.1-17.1h0m0 9.8h0m0 18h0m.1-43.5h0m0 5.4h0m0 13.9h0m0 24.8h0m.1-32.8h0m0 2.3h0m0 9.4h0m.1-5.2h0m0 1.3h0m0 19.4h0m0 .3h0m.1-27.3h0m0 10.3h0m0 .2h0m0 9.3h0m0 8.2h0m.1-28.6h0m0 6.5h0m0 3.1h0m0 .4h0m0 18.7h0m.1-38.7h0m0 29.9h0m.1-33.8h0m0 6.2h0m0 9.8h0m0 .9h0m0 4h0m.1 6.9h0m.1 .6h0m0 19.1h0m.1-27.1h0m0 5.4h0m0 4.9h0m0 6.8h0m.1-6.6h0m0 4.6h0m0 5.3h0m.1-39.4h0m0 14.9h0m0 .4h0m0 19.6h0m.1-5.1h0m.1-18.5h0m0 7.7h0m0 .7h0m.1-5.3h0m.1-16.9h0m0 27h0m0 .3h0m.1-19.5h0m0 .4h0m0 1.8h0m.1-3h0m0 11.7h0m.1 23h0m.1-2.7h0m0 7.1h0m.1-41.4h0m0 6.2h0m0 23.9h0m.1-31.8h0m0 45.2h0m.1-20.5h0m.1-27.2h0m0 11.1h0m0 5.7h0m0 9.9h0m0 4.5h0m.1-20.8h0m0 14.9h0m0 3.6h0m.1-21.6h0m0 14.3h0m0 1.1h0m0 21h0m.1-44h0m0 26.8h0m0 3.3h0m0 6h0m.1-14.5h0m0 .8h0m0 4.3h0m0 5.7h0m0 .6h0m.1-25.9h0m0 6.1h0m0 22.4h0m0 3.8h0m0 7.9h0m.1-32h0m0 12.1h0m0 .7h0m0 9.9h0m.1-11.6h0m0 14.9h0m.1-34h0m0 36.4h0m.1-23.3h0m.1-17.6h0m0 14.6h0m.1-4.5h0m0 6.3h0m0 3.5h0m0 6.9h0m0 14.7h0m.2-35.6h0m0 29.2h0m.1-3.2h0m.1-29.2h0m0 7.7h0m.1-.2h0m.1 13.6h0m.1 2.8h0m.1-21.7h0m0 14.2h0m0 3h0m0 14.8h0m0 3.4h0m.1-35h0m0 5.8h0m0 8h0m.1 6.6h0m0 1.6h0m.1 8.6h0m0 8.8h0m0 .4h0m.1-43.7h0m0 7.8h0m0 35.3h0m.1-39.2h0m0 13.1h0m0 24.5h0m.2-25h0m0 13h0m0 4.1h0m0 8.7h0m.1-41.4h0m.1 22.6h0m0 3.5h0m.2-22.7h0m0 14.1h0m0 1.4h0m0 12.8h0m.1 6.5h0m.1-.6h0m0 5.1h0m.1-28.5h0m0 20.2h0m.1-23.7h0m.1 6h0m.1-18.3h0m0 1.4h0m0 16.3h0m0 9.1h0m.1-25.3h0m0 10.6h0m0 17.1h0m0 4.5h0m.2-5.5h0m0 4.4h0m0 6.7h0m.1-39.8h0m0 1.1h0m0 24.7h0m.1-17.9h0m0 15.6h0m.1 5.3h0m.1-28.1h0m0 2.1h0m.1 7.8h0m0 15.8h0m0 3.8h0m.1-23.7h0m0 15.2h0m0 3.3h0m0 8.6h0m.1-10.8h0m0 8.4h0m.1-16.5h0m.1-13.7h0m0 13.4h0m0 4.1h0m0 5.6h0m.1-6.8h0m.1-13.6h0m0 36.3h0m.1-20h0m0 13h0m.1-33.9h0m0 22.9h0m.1-3.4h0m0 7.4h0m.1 8h0m.1-21.2h0m0 6.3h0m0 10.9h0m.1-21.8h0m0 28.8h0m.1-20.6h0m.1 14.8h0m.1-11.5h0m0 10.6h0m.1-6.8h0m0 17.2h0m.1-23.7h0m0 5.2h0m.1 1h0m0 1.6h0m.1 6.9h0m.1-21.8h0m0 1.6h0m0 1.3h0m0 5.7h0m0 1.7h0m0 1.2h0m0 1.9h0m0 2.5h0m0 13.1h0m.1-23h0m0 .8h0m0 3.6h0m.1-4.4h0m.1-6.4h0m.1 1.9h0m.1 9.8h0m.1 6.2h0m.4 9.3h0m.1-34.1h0m0 23.2h0m.2-3.7h0m0 4h0m.1-14.9h0m.1 7.5h0m0 5.1h0m0 3h0m0 .9h0m.1 2.8h0m.1-11.6h0m.1-10.7h0m.1 22h0m0 9.3h0m.1-29.5h0m.1 3.3h0m.1-11.6h0m0 26.9h0m0 .9h0m.1-12.5h0m.1 18.2h0m.1 3.7h0m.2-24.3h0m.1 12.4h0m.1-24.8h0m0 27.3h0m.2 3.5h0m.1-29.4h0m0 9.3h0m0 3.8h0m0 17.8h0m.1-21h0m0 7.1h0m.1-14.7h0m0 8.9h0m.1 1.3h0m0 6.5h0m.2-8.5h0m.1-4.1h0m0 24.7h0m0 1.3h0m.1-.5h0m.2-23.5h0m.1-1.1h0m.1-7h0m0 6.7h0m.1-7.3h0m0 8.4h0m0 25.2h0m0 1.5h0m.1-21.3h0m0 21.3h0m.1-29.7h0m.2 24.5h0m.1-20.7h0m.1 11.3h0m0 10.7h0m0 3.4h0m.1-25.1h0m0 4.1h0m0 17h0m.2-8.4h0m0 8.7h0m.1-13.1h0m.1 5.7h0m0 5.1h0m.1-17.1h0m.1-8.8h0m0 18.4h0m0 5.9h0m.1-14.1h0m.1 13.4h0m.1-22.6h0m0 8.2h0m.3 20h0m.3-23h0m.3-.4h0m.2 .4h0m0 11.9h0m0 6.1h0m.2-19.3h0m0 15.3h0m.3-8h0m0 6h0m.2-5.8h0m.1 1.4h0m0 2.8h0m0 7.6h0m0 .4h0m.1-16.2h0m.1-.8h0m0 12h0m0 2.5h0m.1-10.8h0m.6 13.8h0m.1 .1h0m.5-16.4h0m0 3.2h0m.1 2.2h0m0 5.6h0m0 4.6h0m0 .1h0m.1-16h0m.1 15.1h0m.1-15.2h0m.1 5.1h0m.2 6.5h0m.1-.9h0m.1-3.1h0m.3-5h0m.1 7.9h0m.1-4.5h0m.1-.4h0" stroke="#6d2d6d" stroke-width="0.8" stroke-linecap="round" fill="none"/>
<text x="322.5" y="397.2" font-size="10.2" fill="#231f20" text-anchor="middle">PBS</text>
<text x="375.2" y="327.3" font-size="7.5" fill="#231f20" stroke="#231f20" stroke-width="0.22" font-weight="bold">Teff_2</text>
<line x1="381" y1="328.5" x2="383.2" y2="334.74" stroke="#111" stroke-width="0.7"/>
<path d="M384,337 L382.16,335.1 L384.24,334.37 Z" fill="#111"/>
<text x="373.8" y="382" font-size="7.5" fill="#231f20" stroke="#231f20" stroke-width="0.22" font-weight="bold">Teff_1</text>
<line x1="377.5" y1="374.5" x2="381.51" y2="365.68" stroke="#111" stroke-width="0.7"/>
<path d="M382.5,363.5 L382.51,366.14 L380.51,365.23 Z" fill="#111"/>
<text x="473" y="327.3" font-size="7.5" fill="#231f20" stroke="#231f20" stroke-width="0.22" font-weight="bold">Teff_2</text>
<line x1="478" y1="328.5" x2="480.2" y2="334.74" stroke="#111" stroke-width="0.7"/>
<path d="M481,337 L479.16,335.1 L481.24,334.37 Z" fill="#111"/>
<text x="575.3" y="252.4" font-size="13" fill="#231f20">m</text>
<rect x="587.1" y="254.6" width="47.6" height="7.6" fill="#d9d9d9" stroke="#333" stroke-width="0.5"/>
<text x="610.9" y="259.7" font-size="3.6" fill="#1a1a1a" stroke="#1a1a1a" stroke-width="0.22" text-anchor="middle">Teff_1</text>
<rect x="587.1" y="262.2" width="47.6" height="89.4" fill="#fff"/>
<line x1="587.1" y1="347.3" x2="634.7" y2="347.3" stroke="#ebebeb" stroke-width="0.5"/>
<line x1="587.1" y1="337.7" x2="634.7" y2="337.7" stroke="#f4f4f4" stroke-width="0.35"/>
<line x1="587.1" y1="328.1" x2="634.7" y2="328.1" stroke="#ebebeb" stroke-width="0.5"/>
<line x1="587.1" y1="318.5" x2="634.7" y2="318.5" stroke="#f4f4f4" stroke-width="0.35"/>
<line x1="587.1" y1="308.9" x2="634.7" y2="308.9" stroke="#ebebeb" stroke-width="0.5"/>
<line x1="587.1" y1="299.3" x2="634.7" y2="299.3" stroke="#f4f4f4" stroke-width="0.35"/>
<line x1="587.1" y1="289.7" x2="634.7" y2="289.7" stroke="#ebebeb" stroke-width="0.5"/>
<line x1="587.1" y1="280.1" x2="634.7" y2="280.1" stroke="#f4f4f4" stroke-width="0.35"/>
<line x1="587.1" y1="270.5" x2="634.7" y2="270.5" stroke="#ebebeb" stroke-width="0.5"/>
<line x1="596.1" y1="262.2" x2="596.1" y2="351.6" stroke="#ebebeb" stroke-width="0.5"/>
<line x1="611.3" y1="262.2" x2="611.3" y2="351.6" stroke="#ebebeb" stroke-width="0.5"/>
<line x1="626.5" y1="262.2" x2="626.5" y2="351.6" stroke="#ebebeb" stroke-width="0.5"/>
<rect x="589.43" y="318.5" width="4.45" height="28.8" fill="#ef5a28"/>
<rect x="593.88" y="318.5" width="4.45" height="28.8" fill="#1f9e4a"/>
<rect x="598.33" y="316" width="4.45" height="31.3" fill="#7b3f7b"/>
<rect x="604.63" y="283.56" width="4.45" height="63.74" fill="#ef5a28"/>
<rect x="609.08" y="283.56" width="4.45" height="63.74" fill="#1f9e4a"/>
<rect x="613.53" y="287.78" width="4.45" height="59.52" fill="#7b3f7b"/>
<rect x="619.83" y="346.53" width="4.45" height="0.77" fill="#ef5a28"/>
<rect x="624.28" y="346.53" width="4.45" height="0.77" fill="#1f9e4a"/>
<rect x="628.73" y="346.34" width="4.45" height="0.96" fill="#7b3f7b"/>
<rect x="587.1" y="262.2" width="47.6" height="89.4" fill="none" stroke="#333" stroke-width="0.55"/>
<line x1="596.1" y1="351.6" x2="596.1" y2="352.6" stroke="#333" stroke-width="0.4"/>
<text x="598.1" y="355.6" font-size="5.6" fill="#4d4d4d" stroke="#4d4d4d" stroke-width="0.22" text-anchor="end" transform="rotate(-35 598.1 355.6)">LAAD-OVA</text>
<line x1="611.3" y1="351.6" x2="611.3" y2="352.6" stroke="#333" stroke-width="0.4"/>
<text x="613.3" y="355.6" font-size="5.6" fill="#4d4d4d" stroke="#4d4d4d" stroke-width="0.22" text-anchor="end" transform="rotate(-35 613.3 355.6)">LAAD-WT</text>
<line x1="626.5" y1="351.6" x2="626.5" y2="352.6" stroke="#333" stroke-width="0.4"/>
<text x="628.5" y="355.6" font-size="5.6" fill="#4d4d4d" stroke="#4d4d4d" stroke-width="0.22" text-anchor="end" transform="rotate(-35 628.5 355.6)">PBS</text>
<rect x="637.5" y="254.6" width="48.5" height="7.6" fill="#d9d9d9" stroke="#333" stroke-width="0.5"/>
<text x="661.75" y="259.7" font-size="3.6" fill="#1a1a1a" stroke="#1a1a1a" stroke-width="0.22" text-anchor="middle">Teff_2</text>
<rect x="637.5" y="262.2" width="48.5" height="89.4" fill="#fff"/>
<line x1="637.5" y1="347.3" x2="686" y2="347.3" stroke="#ebebeb" stroke-width="0.5"/>
<line x1="637.5" y1="337.7" x2="686" y2="337.7" stroke="#f4f4f4" stroke-width="0.35"/>
<line x1="637.5" y1="328.1" x2="686" y2="328.1" stroke="#ebebeb" stroke-width="0.5"/>
<line x1="637.5" y1="318.5" x2="686" y2="318.5" stroke="#f4f4f4" stroke-width="0.35"/>
<line x1="637.5" y1="308.9" x2="686" y2="308.9" stroke="#ebebeb" stroke-width="0.5"/>
<line x1="637.5" y1="299.3" x2="686" y2="299.3" stroke="#f4f4f4" stroke-width="0.35"/>
<line x1="637.5" y1="289.7" x2="686" y2="289.7" stroke="#ebebeb" stroke-width="0.5"/>
<line x1="637.5" y1="280.1" x2="686" y2="280.1" stroke="#f4f4f4" stroke-width="0.35"/>
<line x1="637.5" y1="270.5" x2="686" y2="270.5" stroke="#ebebeb" stroke-width="0.5"/>
<line x1="646.5" y1="262.2" x2="646.5" y2="351.6" stroke="#ebebeb" stroke-width="0.5"/>
<line x1="661.7" y1="262.2" x2="661.7" y2="351.6" stroke="#ebebeb" stroke-width="0.5"/>
<line x1="676.9" y1="262.2" x2="676.9" y2="351.6" stroke="#ebebeb" stroke-width="0.5"/>
<rect x="639.83" y="322.72" width="4.45" height="24.58" fill="#ef5a28"/>
<rect x="644.28" y="322.72" width="4.45" height="24.58" fill="#1f9e4a"/>
<rect x="648.73" y="285.48" width="4.45" height="61.82" fill="#7b3f7b"/>
<rect x="655.03" y="316.2" width="4.45" height="31.1" fill="#ef5a28"/>
<rect x="659.48" y="316.2" width="4.45" height="31.1" fill="#1f9e4a"/>
<rect x="663.93" y="266.66" width="4.45" height="80.64" fill="#7b3f7b"/>
<rect x="670.23" y="345" width="4.45" height="2.3" fill="#ef5a28"/>
<rect x="674.68" y="345" width="4.45" height="2.3" fill="#1f9e4a"/>
<rect x="679.12" y="345" width="4.45" height="2.3" fill="#7b3f7b"/>
<rect x="637.5" y="262.2" width="48.5" height="89.4" fill="none" stroke="#333" stroke-width="0.55"/>
<line x1="646.5" y1="351.6" x2="646.5" y2="352.6" stroke="#333" stroke-width="0.4"/>
<text x="648.5" y="355.6" font-size="5.6" fill="#4d4d4d" stroke="#4d4d4d" stroke-width="0.22" text-anchor="end" transform="rotate(-35 648.5 355.6)">LAAD-OVA</text>
<line x1="661.7" y1="351.6" x2="661.7" y2="352.6" stroke="#333" stroke-width="0.4"/>
<text x="663.7" y="355.6" font-size="5.6" fill="#4d4d4d" stroke="#4d4d4d" stroke-width="0.22" text-anchor="end" transform="rotate(-35 663.7 355.6)">LAAD-WT</text>
<line x1="676.9" y1="351.6" x2="676.9" y2="352.6" stroke="#333" stroke-width="0.4"/>
<text x="678.9" y="355.6" font-size="5.6" fill="#4d4d4d" stroke="#4d4d4d" stroke-width="0.22" text-anchor="end" transform="rotate(-35 678.9 355.6)">PBS</text>
<line x1="586" y1="347.3" x2="587.1" y2="347.3" stroke="#333" stroke-width="0.4"/>
<text x="585.4" y="348.7" font-size="4.2" fill="#4d4d4d" stroke="#4d4d4d" stroke-width="0.22" text-anchor="end">0</text>
<line x1="586" y1="328.1" x2="587.1" y2="328.1" stroke="#333" stroke-width="0.4"/>
<text x="585.4" y="329.5" font-size="4.2" fill="#4d4d4d" stroke="#4d4d4d" stroke-width="0.22" text-anchor="end">1</text>
<line x1="586" y1="308.9" x2="587.1" y2="308.9" stroke="#333" stroke-width="0.4"/>
<text x="585.4" y="310.3" font-size="4.2" fill="#4d4d4d" stroke="#4d4d4d" stroke-width="0.22" text-anchor="end">2</text>
<line x1="586" y1="289.7" x2="587.1" y2="289.7" stroke="#333" stroke-width="0.4"/>
<text x="585.4" y="291.1" font-size="4.2" fill="#4d4d4d" stroke="#4d4d4d" stroke-width="0.22" text-anchor="end">3</text>
<line x1="586" y1="270.5" x2="587.1" y2="270.5" stroke="#333" stroke-width="0.4"/>
<text x="585.4" y="271.9" font-size="4.2" fill="#4d4d4d" stroke="#4d4d4d" stroke-width="0.22" text-anchor="end">4</text>
<text x="579.8" y="306" font-size="4.9" fill="#1a1a1a" stroke="#1a1a1a" stroke-width="0.22" text-anchor="middle" transform="rotate(-90 579.8 306)">Percent of Cluster</text>
<rect x="579" y="376.3" width="8.5" height="7.6" fill="#ef5a28"/>
<text x="590.3" y="383.3" font-size="8.2" fill="#231f20" stroke="#231f20" stroke-width="0.12" textLength="30" lengthAdjust="spacingAndGlyphs">V&#946;13V&#945;2</text>
<rect x="626" y="376.3" width="8.5" height="7.6" fill="#1f9e4a"/>
<text x="636.2" y="383.3" font-size="8.2" fill="#231f20" stroke="#231f20" stroke-width="0.12" textLength="17.2" lengthAdjust="spacingAndGlyphs">V&#946;13</text>
<rect x="657.7" y="376.3" width="8.5" height="7.6" fill="#7b3f7b"/>
<text x="668.1" y="383.3" font-size="8.2" fill="#231f20" stroke="#231f20" stroke-width="0.12" textLength="16.8" lengthAdjust="spacingAndGlyphs">V&#946;14</text>
</svg></body></html>
